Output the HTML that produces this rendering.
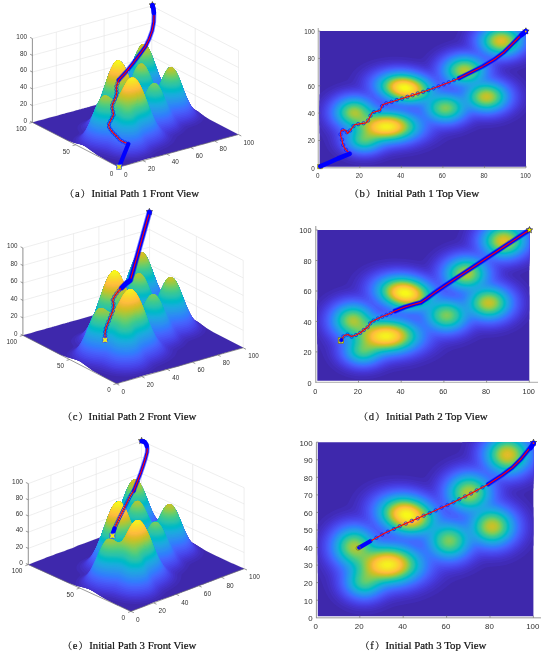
<!DOCTYPE html><html><head><meta charset="utf-8"><title>Initial paths</title><style>html,body{margin:0;padding:0;background:#fff}svg{display:block}
svg{font-size:7px}
text{font-family:"Liberation Sans",sans-serif;fill:#303030}
.cap{font-family:"Liberation Serif","Noto Serif CJK SC",serif;font-size:9.6px;fill:#111;stroke:#111;stroke-width:.2px}
.g{stroke:#e2e2e2;stroke-width:.6;fill:none}
.a{stroke:#6e6e6e;stroke-width:.7;fill:none}
.b{stroke:#bcbcbc;stroke-width:1.4;fill:none}
.a2{stroke:#7a7a7a;stroke-width:.8;fill:none}
.m{stroke:#0018ff;stroke-width:.7;fill:none}
.bd{stroke:#0000ff;fill:none;stroke-linecap:round;stroke-linejoin:round}
.r{stroke:#ff0000;stroke-width:1.1;fill:none;stroke-linejoin:round}</style></head><body>
<svg width="550" height="655" viewBox="0 0 550 655">
<defs><clipPath id="tc"><rect width="100" height="100"/></clipPath><g id="top" fill-rule="evenodd" clip-path="url(#tc)"><rect x="-2" y="-2" width="104" height="104" fill="#3e28ac"/><path fill="#402bb7" d="M18.02 1.2l1.98-0.27 2.4-0.04 2 0.19 2 0.42 3.2 1.14 4.21 2.16 1.79 0.8 2 0.61 6.8 1.57 2.4 0.78 2.4 0.96 3.6 1.84 2.8 1.86 2.4 1.99 3.64 3.59 0.99 0.8 0.97 0.6 1.24 0.6 3.56 1.42 2.4 1.18 2 1.24 3.56 2.56 1.24 0.64 1.6 0.42 4 0.42 2 0.34 2.4 0.66 2.4 0.98 2 1.1 2 1.4 1.6 1.38 1.74 1.86 1.49 2 1.4 2.4 1.05 2.4 0.72 2.3 0 12.2-0.72 2.3-1.05 2.4-1.66 2.8-2.61 3.6-0.3 0.8 0 0.4 0.34 0.65 0.6 0.55 3.4 2.17 2 1.55 0 27.08-34.21 0-0.85-2.4-0.99-3.6-0.35-0.92-0.4-0.68-0.8-0.8-0.62-0.4-3.38-1.71-1.6-0.95-1.6-1.14-1.2-1.01-1.22-1.19-1.39-1.6-1.15-1.6-1.84-2.99-0.88-1.01-0.72-0.36-1.2-0.06-4.8 0.97-2.4 0.35-2.8 0.18-2.8-0.07-2.8-0.33-2.4-0.52-2.4-0.76-2.4-1.05-1.6-0.89-2-1.39-1.6-1.4-1.35-1.47-1.18-1.6-0.94-1.6-0.74-1.6-1.27-3.2-0.45-0.8-0.47-0.56-1.2-0.88-4-1.95-2-1.24-2.21-1.77-1.92-2-2.02-2.8-0.9-1.6-0.95-2.12 0-19.92 1.01-2.76 2.19-5.25 1.8-5.95 0.84-2.4 1.13-2.4 1.25-2 1.27-1.6 1.16-1.2 1.35-1.16 1.6-1.13 1.6-0.89 1.6-0.71 2-0.64 1.2-0.27z"/><path fill="#422fc1" d="M19.95 2.8l1.65-0.08 1.6 0.09 1.6 0.23 1.6 0.39 2.8 1.07 4.24 2.3 1.76 0.81 2 0.61 6.4 1.52 2.4 0.8 2 0.82 3.2 1.67 2.8 1.9 2.57 2.27 3.43 3.67 1.55 1.13 1.65 0.71 4 1.35 2 0.89 2 1.16 4.12 3.09 1.48 0.83 1.6 0.41 4 0.29 2.4 0.37 2.4 0.68 2 0.83 2 1.12 1.6 1.14 1.6 1.4 1.58 1.73 1.44 2 0.92 1.6 0.91 2 0.68 2 0.54 2.4 0.24 2 0.04 2.4-0.16 2-0.35 2-0.43 1.6-0.72 2-0.75 1.6-0.91 1.6-1.12 1.6-3.82 4.4-0.41 0.8-0.08 0.8 0.4 0.73 0.58 0.47 3.82 1.88 1.6 0.94 2 1.46 1.6 1.48 0 24.24-32 0-1.07-2.8-1.25-5.2-0.54-1.2-0.74-0.78-0.67-0.42-3.33-1.48-2-1.06-1.6-1.08-1.6-1.32-1.6-1.65-1.41-1.81-1.23-2-1.36-2.58-0.8-1.04-0.8-0.42-0.8-0.05-7.2 1.63-2.8 0.31-2.8 0.04-2.8-0.24-2.8-0.54-2-0.6-2.4-1.01-2-1.13-1.62-1.17-1.74-1.6-1.35-1.6-0.81-1.2-0.86-1.6-0.66-1.6-1.22-3.6-0.83-1.2-1.25-0.8-3.66-1.41-2.8-1.48-2.4-1.83-2.01-2.08-1.72-2.4-1.28-2.4-1.05-2.8-0.66-2.8-0.31-2.8 0.05-3.2 0.37-2.8 0.79-3.2 1.17-3.2 2.65-6.1 0.56-1.9 0.91-4 0.72-2.4 1.05-2.4 1.21-2 1.15-1.47 1.2-1.25 1.2-1.02 1.6-1.1 1.6-0.86 1.6-0.65 2-0.56 1.6-0.26z"/><path fill="#4432cb" d="M19.83 4l1.77-0.1 1.6 0.1 1.6 0.24 1.6 0.42 2.8 1.15 3.86 2.19 1.74 0.82 2 0.62 6.4 1.55 4 1.51 3.2 1.7 2.8 1.98 2.38 2.22 3.22 3.7 1.44 1.1 1.76 0.73 4 1.15 2.8 1.18 2.4 1.46 3.91 3.08 1.29 0.69 1.6 0.36 4 0.2 2 0.26 2.4 0.61 2 0.79 1.6 0.84 2 1.37 1.6 1.4 1.35 1.48 1.19 1.6 0.95 1.6 0.94 2 0.68 2 0.46 2 0.29 2.4 0 2.4-0.22 2-0.32 1.6-0.59 2-0.64 1.6-0.82 1.6-1 1.6-1.24 1.6-3.43 3.53-0.71 0.87-0.49 1.01-0.12 0.99 0.26 0.8 0.66 0.68 0.95 0.52 3.45 1.37 2.4 1.29 2.4 1.79 2 2.04 0 22.31-30.58 0-0.72-1.6-0.56-1.6-0.51-2-0.76-4-0.54-1.2-0.73-0.71-0.8-0.45-3.6-1.43-1.6-0.8-2-1.28-1.6-1.33-1.6-1.67-1.44-1.93-1.16-2-1.4-2.98-0.8-1.12-0.8-0.39-0.8-0.02-1.2 0.26-4 1.18-2 0.45-2.8 0.38-2.4 0.11-2.8-0.15-2.4-0.37-2.4-0.64-2.4-0.96-2-1.08-1.6-1.13-1.7-1.54-1.35-1.6-0.8-1.2-0.84-1.6-0.75-2-0.96-3.43-0.4-0.84-0.43-0.53-1.17-0.72-4.4-1.44-2.4-1.16-2.4-1.69-2.2-2.19-1.49-2-1.33-2.4-1.07-2.8-0.58-2.4-0.33-2.8 0.02-2.8 0.36-2.8 0.81-3.2 1.06-2.8 2.74-6 0.48-1.6 0.87-4.4 0.52-2 1.1-2.8 1.17-2 0.91-1.2 1.1-1.2 1.38-1.2 1.28-0.9 1.6-0.88 1.2-0.51 2-0.61 1.6-0.28z"/><path fill="#4536d4" d="M18.17 5.2l1.83-0.31 2-0.07 2 0.19 1.6 0.36 1.6 0.54 1.6 0.71 4.4 2.53 1.6 0.71 1.77 0.54 5.83 1.4 2 0.66 2 0.82 3.2 1.69 1.6 1.08 1.46 1.15 2.14 2.1 3.2 3.9 1.2 0.95 1.6 0.67 4.8 1.23 2.4 0.96 2.4 1.4 4 3.25 1.6 0.92 1.6 0.35 4 0.12 2 0.23 2 0.46 2 0.72 2 1.02 1.6 1.08 1.6 1.38 1.19 1.26 1.22 1.6 0.98 1.6 0.94 2 0.68 2 0.44 2 0.25 2.4-0.02 2-0.23 2-0.81 3.2-0.65 1.6-0.82 1.6-1.03 1.6-1.28 1.6-3.66 3.57-0.69 0.83-0.61 1.2-0.19 0.8-0.03 0.8 0.17 0.8 0.2 0.4 0.75 0.72 0.99 0.48 3.81 1.33 2.4 1.21 1.56 1.06 1.24 1.02 1.36 1.38 1.04 1.27 0 20.73-29.48 0-0.77-1.6-0.72-2-0.5-2-0.69-4.4-0.25-0.8-0.39-0.64-0.63-0.56-0.75-0.4-3.82-1.36-2-0.97-2-1.31-1.6-1.36-1.63-1.8-1.39-2-1.05-2-1.53-3.53-0.4-0.57-0.36-0.3-0.84-0.24-0.8 0.08-4.8 1.53-2 0.51-2.4 0.42-2.8 0.22-2.4-0.05-2.8-0.36-2.4-0.61-2.4-0.92-2-1.07-1.6-1.13-1.73-1.58-1.3-1.6-0.99-1.6-0.73-1.6-0.63-2-0.74-3.2-0.28-0.72-0.4-0.58-0.4-0.35-0.8-0.41-4-1.05-2.8-1.12-2.4-1.51-1.2-1-1.24-1.26-1.55-2-1.16-2-1.02-2.4-0.66-2.4-0.37-2.4-0.1-2.4 0.23-2.8 0.48-2.4 1.21-3.6 2.52-5.2 0.65-1.6 0.54-2 0.6-3.6 0.45-2 0.66-2 0.96-2 0.76-1.2 0.92-1.2 0.92-0.98 1.2-1.05 1.2-0.85 1.6-0.89 1.2-0.5 1.6-0.49z"/><path fill="#463bdd" d="M20.9 5.6l2.7 0.13 2.4 0.56 2.4 1 4 2.35 2 0.96 1.95 0.6 5.65 1.36 2.4 0.82 2 0.87 3.2 1.81 2.51 1.94 1.97 2 3.12 4.05 0.8 0.74 0.66 0.41 1.34 0.49 4.8 1.04 2.8 1.05 2.4 1.4 1.2 0.91 3.14 2.71 1.51 0.8 1.35 0.26 4 0.04 2 0.19 2 0.43 2 0.71 2 1.01 1.6 1.09 1.6 1.4 1.16 1.27 1.18 1.6 1.13 2 0.68 1.6 0.61 2 0.38 2 0.15 2-0.07 2-0.28 2-0.39 1.6-0.72 2-0.77 1.6-0.99 1.6-1.67 2.09-3.75 3.51-0.93 1.2-0.38 0.8-0.22 0.8-0.12 1.2 0.05 0.8 0.15 0.64 0.28 0.56 0.36 0.4 0.56 0.38 5.6 1.89 1.6 0.79 1.6 1.03 1.2 0.95 1.2 1.15 0.89 1.01 1.11 1.53 0 19.27-28.54 0-0.98-2-0.82-2.4-0.49-2.4-0.49-4-0.44-1.2-0.64-0.67-0.8-0.43-3.6-1.14-2.4-1.04-2-1.24-1.79-1.48-1.79-2-1.33-2-0.99-2-1.37-3.6-0.33-0.63-0.4-0.46-0.8-0.33-0.8 0.06-4.4 1.55-2.4 0.72-2.4 0.5-2.8 0.29-2.8-0.01-2.4-0.28-2.4-0.55-2.4-0.88-2-1.03-1.91-1.35-1.67-1.6-1.24-1.6-0.93-1.6-0.66-1.6-0.56-2-0.63-3.41-0.4-0.96-0.37-0.43-0.63-0.4-0.6-0.21-4.4-0.91-1.6-0.55-1.2-0.54-2.4-1.5-1.2-1.02-1.23-1.27-1.5-2-1.11-2-0.94-2.4-0.6-2.4-0.31-2.8 0.05-2.4 0.32-2.4 0.73-2.8 1.11-2.8 2.25-4.4 0.66-1.6 0.52-2 0.59-4 0.45-2 0.86-2.4 1.1-2 0.87-1.2 1.09-1.2 1.09-0.96 1.6-1.11 1.6-0.81 1.6-0.58 1.6-0.36 1.6-0.18z"/><path fill="#4741e5" d="M19.84 6.4l1.36-0.11 1.6 0.06 1.6 0.24 1.6 0.44 2.4 1.05 3.85 2.32 1.75 0.85 2 0.63 6 1.48 3.6 1.39 3.2 1.78 1.49 1.07 1.31 1.12 2.27 2.48 2.54 3.6 0.79 0.8 0.6 0.4 1.4 0.51 5.2 0.95 2.8 1.02 2.4 1.39 1.6 1.25 2.8 2.53 0.8 0.52 0.8 0.33 1.6 0.24 3.6-0.06 2 0.15 2 0.4 2 0.68 1.6 0.77 1.6 1.02 1.6 1.33 1.3 1.37 1.19 1.6 0.93 1.6 0.72 1.6 0.64 2 0.34 1.6 0.2 2-0.02 2-0.25 2-0.49 2-0.58 1.6-0.77 1.6-0.99 1.6-1.82 2.21-3.76 3.39-0.95 1.2-0.37 0.8-0.31 1.2-0.13 1.6 0.08 1.2 0.23 0.8 0.24 0.4 0.39 0.4 0.58 0.34 4 1.09 1.6 0.55 2 0.94 1.6 1.03 1.52 1.25 1.17 1.2 1.25 1.6 0.86 1.39 0 17.22-0.34 0.59-27.32 0-1.22-2.4-0.8-2.4-0.45-2.4-0.4-4.4-0.42-1.2-0.65-0.64-0.8-0.39-4-1.12-2-0.81-2-1.15-2-1.6-1.72-1.89-1.34-2-1.14-2.4-1.4-4.16-0.4-0.69-0.4-0.35-0.8-0.17-0.8 0.14-4.4 1.73-2 0.67-2.4 0.59-2.8 0.38-2.8 0.07-2.4-0.22-2.4-0.49-2.4-0.82-2-1-2-1.38-1.6-1.51-1.51-1.99-0.85-1.6-0.6-1.6-0.46-2-0.5-3.6-0.29-0.8-0.28-0.4-0.53-0.4-0.58-0.21-4.8-0.75-1.6-0.46-1.2-0.49-1.6-0.85-1.2-0.83-1.2-1.02-1.2-1.26-1.29-1.73-1.12-2-0.93-2.4-0.5-2-0.31-2.4-0.02-2 0.25-2.4 0.53-2.4 1.18-3.2 2.51-4.8 0.68-1.6 0.51-2 0.52-4 0.41-2 0.66-2 1-2 0.81-1.2 1.03-1.2 2.08-1.77 1.2-0.74 1.6-0.73 1.6-0.5 1.2-0.23z"/><path fill="#4747ec" d="M19.05 7.2l1.35-0.2 1.6-0.04 1.6 0.15 1.6 0.36 1.2 0.41 1.6 0.73 4.26 2.59 1.72 0.8 1.62 0.5 5.6 1.35 2 0.68 2 0.84 1.6 0.83 1.6 0.99 1.6 1.2 1.2 1.07 1.89 2.14 2.91 4.35 0.45 0.45 0.75 0.51 1.6 0.47 3.2 0.38 2 0.38 1.6 0.48 1.2 0.49 1.6 0.85 1.2 0.82 1.47 1.22 2.53 2.39 0.8 0.56 0.8 0.36 1.6 0.24 3.6-0.13 2 0.11 2 0.35 2 0.65 1.6 0.76 1.6 1.02 1.56 1.29 1.14 1.2 1.21 1.6 0.92 1.6 0.71 1.6 0.63 2 0.36 2 0.11 1.6-0.07 2-0.23 1.6-0.39 1.6-0.56 1.6-0.76 1.6-0.99 1.6-0.93 1.2-1.12 1.2-3.7 3.2-0.69 0.78-0.4 0.67-0.4 1.08-0.25 1.47-0.1 2 0.09 1.2 0.26 0.87 0.4 0.52 0.4 0.29 0.8 0.33 3.2 0.67 2 0.57 2 0.86 1.6 0.95 1.6 1.24 1.31 1.3 1.26 1.6 0.97 1.6 0.46 0.93 0 14.14-1.17 2.13-25.66 0-1.29-2.4-0.94-2.8-0.46-2.8-0.23-4.4-0.2-0.8-0.22-0.4-0.36-0.4-0.68-0.4-4.39-1.08-2.4-0.91-2-1.13-2.07-1.68-1.75-2-1.47-2.4-0.98-2.4-1.12-4-0.21-0.51-0.4-0.54-0.4-0.23-0.4-0.06-0.8 0.13-4.4 1.9-2 0.76-2.8 0.77-2.8 0.43-2.8 0.1-2.4-0.19-2.4-0.49-2.4-0.82-2-1-2.04-1.45-1.6-1.6-1.41-2-0.77-1.6-0.52-1.6-0.37-2-0.3-3.6-0.19-0.8-0.4-0.62-0.4-0.29-0.8-0.24-4.4-0.36-1.6-0.33-1.6-0.54-1.6-0.77-1.33-0.85-1.45-1.2-1.14-1.2-1.2-1.6-1.12-2-0.79-2-0.52-2-0.29-2-0.05-2.4 0.19-2 0.51-2.4 0.52-1.6 0.84-2 2.39-4.4 0.72-1.6 0.5-2 0.45-4 0.37-2 0.64-2 0.75-1.6 0.74-1.2 0.87-1.11 0.86-0.89 1.14-0.96 1.2-0.79 1.2-0.61 2.4-0.79z"/><path fill="#484ef1" d="M20.82 7.6l2.38 0.09 2.4 0.56 2.4 1.07 3.66 2.28 1.54 0.8 2 0.67 4.4 1.03 2 0.57 2 0.74 2.4 1.15 2.8 1.82 2.24 2.02 1.9 2.4 2.26 3.79 0.52 0.61 0.68 0.5 0.8 0.32 0.8 0.15 3.6 0.29 1.6 0.23 1.6 0.41 1.6 0.6 1.6 0.83 1.2 0.81 1.6 1.36 2.4 2.37 0.8 0.61 0.8 0.39 1.6 0.26 3.6-0.21 2 0.06 2 0.31 2 0.62 1.6 0.74 1.6 1.01 1.4 1.14 1.4 1.49 0.97 1.31 0.92 1.6 0.7 1.6 0.5 1.6 0.32 1.6 0.17 2-0.07 2-0.24 1.6-0.41 1.6-0.59 1.6-0.8 1.6-1.06 1.6-2.01 2.22-3.61 2.98-0.71 0.8-0.47 0.8-0.37 1.2-0.18 1.2-0.19 2.8 0.06 1.6 0.27 0.89 0.4 0.49 0.4 0.26 1.2 0.36 3.2 0.51 1.6 0.4 2 0.76 1.6 0.87 1.48 1.06 1.32 1.2 1.36 1.6 1.03 1.6 0.62 1.2 0.59 1.5 0 10.6-0.79 1.9-1.17 2-24.08 0-1.37-2.4-0.63-1.6-0.45-1.6-0.4-2.8-0.08-4.8-0.18-0.8-0.22-0.4-0.4-0.4-0.87-0.4-4.56-0.9-2.4-0.86-2.4-1.4-1.91-1.64-1.66-2-1.36-2.4-1-2.8-0.87-4.02-0.33-0.78-0.38-0.4-0.49-0.15-0.8 0.12-6.4 2.96-2.8 0.88-2.4 0.48-2.8 0.24-2.4-0.08-2.4-0.36-2.8-0.84-2.4-1.18-1.79-1.27-1.62-1.6-1.4-2-0.75-1.6-0.59-2-0.27-2-0.12-4-0.18-0.8-0.25-0.4-0.63-0.39-0.4-0.08-3.6-0.01-2-0.16-1.6-0.34-1.2-0.39-1.6-0.75-1.6-1.03-1.2-1.02-1.2-1.28-1.25-1.75-1.04-2-0.72-2-0.44-2-0.22-2.4 0.07-2 0.28-2 0.65-2.4 1.19-2.8 2.28-4.04 0.8-1.77 0.44-1.79 0.44-4.4 0.37-2 0.66-2 1.04-2 0.87-1.2 0.98-1.06 2-1.56 1.2-0.65 1.6-0.62 1.2-0.31 1.6-0.2z"/><path fill="#4755f6" d="M19.27 8.4l1.53-0.21 1.6 0.01 1.2 0.15 1.6 0.39 2.4 1.03 4 2.51 1.6 0.79 1.6 0.54 5.6 1.34 3.6 1.33 2 1.04 1.6 1.03 1.58 1.25 1.22 1.18 1.04 1.22 0.84 1.2 2.41 4.4 0.91 0.9 0.8 0.34 0.8 0.14 3.6 0.11 1.6 0.16 1.2 0.22 1.6 0.46 2 0.9 1.6 1.03 1.57 1.34 2.83 2.87 1.18 0.73 0.82 0.22 0.8 0.06 3.6-0.28 1.6-0.02 1.6 0.15 1.6 0.33 1.6 0.54 2 1.02 1.64 1.18 1.63 1.6 1.21 1.6 0.92 1.6 0.67 1.6 0.48 1.6 0.29 1.6 0.13 1.6-0.05 1.6-0.28 2-0.43 1.6-0.62 1.6-0.85 1.6-0.81 1.2-1.8 2-3.99 3.2-1 1.2-0.47 1.2-0.21 1.2-0.35 4.4 0 1.6 0.29 0.97 0.4 0.42 0.4 0.22 0.8 0.21 3.2 0.35 2 0.38 2 0.66 2 1.02 1.6 1.15 1.2 1.11 1.28 1.51 1.03 1.6 1.08 2.4 0.61 2.29 0 5.82-0.48 1.89-0.61 1.6-0.83 1.6-0.8 1.2-22.56 0-0.8-1.2-0.83-1.6-0.62-1.6-0.42-1.6-0.25-1.6-0.11-1.6 0.15-4.8-0.16-0.8-0.21-0.4-0.44-0.4-0.63-0.26-4.4-0.64-1.6-0.4-1.2-0.42-2.4-1.27-1.2-0.89-1.01-0.92-1.07-1.2-0.86-1.2-1.25-2.4-0.87-2.8-0.77-4.8-0.17-0.51-0.4-0.47-0.4-0.11-0.4 0.04-0.8 0.28-4 2.21-2.8 1.29-2 0.68-2.4 0.57-2.8 0.34-2.8-0.03-2.4-0.34-2.4-0.67-2.4-1.1-2.01-1.38-0.89-0.8-1.07-1.2-1.27-2-0.78-2-0.42-2-0.11-2 0.18-4-0.13-0.8-0.3-0.45-0.4-0.21-0.8-0.08-3.2 0.32-2 0.02-1.6-0.19-1.2-0.28-1.6-0.58-1.6-0.86-1.6-1.19-1.3-1.3-1.22-1.6-0.91-1.6-0.68-1.6-0.58-2-0.31-2-0.08-2 0.17-2 0.51-2.4 0.53-1.6 0.69-1.6 2.74-4.8 0.71-1.6 0.45-2 0.32-4 0.33-2 0.62-2 0.77-1.6 1.44-2 1.8-1.63 2-1.17 1.2-0.47 1.2-0.32z"/><path fill="#465dfa" d="M20.41 8.8l1.19-0.06 1.6 0.12 2.4 0.62 2 0.94 3.6 2.3 1.6 0.83 1.6 0.55 4.4 1.02 2.4 0.7 2.4 0.95 2 1.04 1.52 0.99 1.28 1 1.07 1 1.07 1.2 1.59 2.4 1.87 4.01 0.65 0.79 0.55 0.35 1.2 0.27 3.6-0.08 2 0.11 1.6 0.27 1.6 0.49 2 0.95 1.6 1.09 1.49 1.35 2.51 2.7 1.2 0.82 0.8 0.24 0.8 0.06 3.6-0.36 2-0.06 1.6 0.15 1.6 0.35 2 0.75 1.6 0.9 1.64 1.25 1.52 1.6 0.87 1.2 0.9 1.6 0.65 1.6 0.45 1.6 0.27 1.6 0.08 1.6-0.08 1.6-0.27 1.6-0.45 1.6-0.65 1.6-0.9 1.6-0.83 1.16-2 2.06-3.68 2.78-0.72 0.74-0.4 0.62-0.38 1.04-0.19 1.2-0.57 6.4 0.02 1.2 0.34 0.8 0.78 0.44 1.2 0.16 3.2 0.16 1.6 0.24 2 0.55 1.6 0.7 1.6 0.97 1.6 1.31 1.34 1.47 1.09 1.6 0.99 2 0.64 2 0.39 2.4 0.02 2-0.32 2.4-0.58 2-0.91 2-1.32 2-21.08 0-0.85-1.2-0.88-1.6-0.64-1.6-0.53-2-0.22-1.6-0.06-1.6 0.41-5.2-0.1-0.8-0.18-0.4-0.43-0.4-0.78-0.25-4.8-0.42-1.6-0.36-1.2-0.4-2.4-1.23-1.2-0.88-1.2-1.12-1.13-1.34-0.79-1.2-0.64-1.2-0.64-1.6-0.44-1.6-0.28-1.6-0.33-4.8-0.15-0.69-0.4-0.41-0.4-0.02-0.8 0.31-4.4 2.77-2.4 1.28-2.4 0.96-2.4 0.68-2.8 0.44-2.8 0.07-2.8-0.34-2.4-0.66-2.56-1.19-2.2-1.6-0.84-0.83-0.94-1.17-1.14-2-0.67-2-0.3-2 0.03-2.4 0.6-4.4-0.08-0.8-0.3-0.37-0.8-0.08-3.2 0.71-2 0.27-2-0.01-1.6-0.24-2-0.65-1.6-0.83-1.64-1.2-1.55-1.6-1.13-1.6-0.84-1.6-0.61-1.6-0.5-2-0.22-2 0.02-2 0.27-2 0.52-2 1.16-2.8 2.61-4.4 0.76-1.6 0.47-2 0.26-4 0.28-2 0.58-2 0.98-2 0.84-1.2 0.72-0.8 1.82-1.49 1.2-0.68 1.2-0.5 1.2-0.34 1.2-0.19z"/><path fill="#4464fd" d="M19 9.6l1.4-0.26 1.6-0.05 1.2 0.11 1.6 0.37 2.4 1.04 3.73 2.39 1.51 0.8 1.96 0.67 4.4 1.01 2 0.59 2.4 0.94 2 1.05 1.6 1.05 1.34 1.09 1.2 1.2 0.98 1.2 1.42 2.4 1.78 4.4 0.48 0.6 0.4 0.26 1.2 0.25 3.6-0.3 2-0.01 1.6 0.18 1.6 0.39 2 0.82 2 1.3 1.6 1.46 2.4 2.73 1.2 0.92 0.8 0.27 0.8 0.07 4-0.49 1.6-0.07 1.6 0.1 1.6 0.32 2 0.7 1.6 0.87 1.6 1.21 1.22 1.22 0.93 1.2 0.96 1.6 0.69 1.6 0.37 1.2 0.32 1.6 0.13 1.6-0.08 2-0.27 1.6-0.47 1.6-0.5 1.2-0.88 1.6-0.86 1.2-1.96 2.01-4 2.91-0.66 0.68-0.48 0.8-0.39 1.6-0.27 4-0.66 4.4 0 1.2 0.17 0.4 0.29 0.28 0.4 0.17 0.8 0.1 3.2-0.07 2 0.11 2 0.38 1.6 0.55 2 1.04 1.6 1.2 1.42 1.44 1.17 1.6 1.03 2 0.68 2 0.4 2.4 0 2.4-0.4 2.4-0.68 2-1.03 2-1.17 1.6-19.64 0-1.17-1.6-0.86-1.6-0.62-1.6-0.48-2-0.19-1.6 0-2 0.77-5.6-0.14-0.8-0.29-0.38-0.4-0.19-0.8-0.13-3.2 0.03-2-0.15-2-0.42-1.6-0.59-2-1.13-1.6-1.31-1.52-1.73-1-1.6-0.58-1.2-0.56-1.6-0.36-1.6-0.2-1.6 0.02-3.2 0.61-4.4-0.01-0.88-0.8 0.53-4.27 3.55-3.33 2.24-3.2 1.55-1.6 0.55-2 0.52-2 0.31-2 0.12-2-0.09-2-0.3-2-0.56-1.6-0.66-1.55-0.88-1.25-0.93-1.11-1.07-0.96-1.2-0.72-1.2-0.54-1.2-0.38-1.2-0.28-1.6-0.07-1.6 0.12-1.6 0.27-1.6 0.53-2 1.36-3.6 0.77-1.2 3.38-2.8 0.53-0.8-0.24-0.4-0.75 0-1.11 0.59-0.93 1.01-1.47 2.18-1.6 1.2-1.6 0.86-1.6 0.7-1.6 0.53-1.6 0.34-1.6 0.14-1.2-0.04-1.2-0.17-1.6-0.43-1.2-0.51-1.37-0.8-1.05-0.8-1.23-1.2-0.95-1.2-0.96-1.6-0.7-1.6-0.58-2-0.25-1.6-0.08-2 0.18-2 0.33-1.6 0.5-1.6 0.87-2 2.9-4.8 0.72-1.6 0.41-2 0.33-5.2 0.46-2 0.64-1.6 1.27-2 1.36-1.42 2-1.35 2-0.78zM61.2 58.37l-0.8 0.35-0.8 0.84-0.44 0.84-0.36 1.32 0.4-0.08 2.13-2.04 0.5-0.8-0.23-0.43z"/><path fill="#406cfe" d="M19.49 10l1.31-0.19 1.2-0.02 1.2 0.12 1.6 0.38 2.4 1.08 3.6 2.35 1.6 0.82 2 0.65 4 0.9 2 0.58 2.8 1.12 2 1.1 1.58 1.11 1.22 1.06 1.24 1.34 0.88 1.2 1.25 2.4 1.43 4.5 0.4 0.64 0.4 0.31 0.4 0.15 0.8 0.06 4-0.61 2-0.1 2 0.2 1.6 0.4 2 0.87 1.77 1.18 1.68 1.6 2.55 3.02 1.2 0.81 0.8 0.19 0.8 0 3.6-0.58 1.6-0.12 1.6 0.06 1.6 0.27 2 0.66 1.6 0.83 1.6 1.18 1.28 1.28 0.92 1.2 0.93 1.6 0.66 1.6 0.35 1.2 0.28 1.6 0.1 1.6-0.1 1.6-0.28 1.6-0.35 1.2-0.66 1.6-0.93 1.6-0.91 1.2-0.89 0.94-1.2 1.04-4 2.77-0.44 0.45-0.49 0.8-0.37 1.6-0.14 3.2-0.2 2-1.16 5.2-0.05 0.8 0.16 0.4 0.29 0.2 0.4 0.09 5.6-0.46 2 0.15 2 0.46 2 0.83 1.6 0.99 1.56 1.34 1.35 1.6 1.18 2 0.77 2 0.5 2.4 0.07 2.4-0.35 2.4-0.64 2-1 2-1.5 2-18.28 0-1.24-1.6-1.1-2-0.7-2-0.38-2-0.1-1.6 0.1-2 0.34-2 0.91-3.6 0.09-0.8-0.08-0.4-0.3-0.31-0.4-0.12-5.6 0.38-2-0.18-1.6-0.38-2-0.81-1.6-1-1.6-1.4-1.2-1.44-1.33-2.34-0.46-1.2-0.43-1.6-0.23-1.6-0.06-1.6 0.09-1.6 0.25-1.6 0.73-2.4 0.85-1.6 1.64-2 3.44-3.2 0.42-0.8-0.12-0.4-0.39-0.21-0.8-0.14-1.6 0.13-1.6 0.39-1.14 0.63-1.05 1.2-2.22 4-1.64 2-1.69 1.6-1.46 1.16-1.6 1.1-1.6 0.92-3.2 1.36-2.8 0.73-3.2 0.35-3.2-0.2-2-0.42-2-0.72-2-1.09-1.6-1.26-1.38-1.53-0.98-1.6-0.76-2-0.34-2 0-2 0.31-2 0.57-2 0.88-2 0.99-1.6 1.01-1.2 4.87-4.4 0.24-0.4 0.03-0.4-0.24-0.23-0.8-0.28-1.2-0.06-1.2 0.17-0.99 0.4-1.09 0.8-2.71 3.2-1.85 1.6-1.34 0.8-1.22 0.55-1.2 0.41-1.6 0.33-1.6 0.1-1.2-0.08-1.6-0.33-1.2-0.42-1.2-0.59-1.2-0.8-0.92-0.77-1.08-1.15-0.91-1.25-0.88-1.6-0.61-1.6-0.41-1.6-0.22-1.6-0.04-1.6 0.12-1.6 0.4-2 0.69-2 0.75-1.6 2.76-4.4 0.78-1.6 0.44-2 0.14-4 0.17-1.6 0.48-2 0.67-1.6 1.03-1.6 1.56-1.6 1.88-1.21 2-0.73z"/><path fill="#3a73fe" d="M19.72 10.4l1.48-0.18 1.2 0.03 1.2 0.17 1.2 0.33 2.4 1.12 3.2 2.13 1.6 0.85 2 0.68 4.4 1 2 0.6 2.4 0.96 2.4 1.35 1.31 0.96 1.33 1.2 1.06 1.2 1.08 1.6 0.61 1.2 0.59 1.6 0.98 4.4 0.24 0.55 0.4 0.39 0.4 0.14 0.8-0.02 3.6-0.88 2.4-0.32 2 0.06 2 0.41 2 0.81 2 1.33 1.6 1.56 2.4 3.02 0.58 0.55 0.62 0.4 0.8 0.23 0.8 0.01 3.6-0.66 2-0.2 1.6 0.06 1.6 0.28 2 0.69 1.6 0.87 1.6 1.25 1.6 1.8 0.82 1.27 0.75 1.6 0.52 1.6 0.29 1.6 0.1 1.6-0.15 2-0.35 1.6-0.57 1.6-1.08 2-1.63 2-1.9 1.6-3.6 2.32-0.51 0.48-0.52 0.8-0.33 1.2-0.16 4.4-0.41 2.8-1 3.2-0.87 2-0.6 1.1-0.4 0.51-0.8 0.6-2 0.75-2.4 0.6-2.4 0.29-2.4-0.1-2.4-0.59-2-0.94-2-1.49-1.6-1.81-1.24-2.12-0.83-2.4-0.32-2-0.01-2.4 0.38-2.4 0.68-2 1.16-2 1.37-1.6 1.61-1.43 2.4-1.77 0.82-0.8 0.37-0.8 0-0.4-0.15-0.4-0.43-0.4-1.01-0.24-2.4 0.26-2.4 0.53-0.8 0.3-0.8 0.49-0.65 0.66-0.55 0.8-2.09 4-0.84 1.2-1.02 1.2-1.22 1.2-1.63 1.35-1.6 1.09-1.6 0.91-2.8 1.18-2.8 0.74-3.2 0.34-2.8-0.15-2.4-0.51-2-0.76-2-1.16-1.6-1.36-1.34-1.67-0.85-1.6-0.61-2-0.22-2 0.14-2 0.44-2 0.76-2 1.13-2 1.29-1.6 1.26-1.24 5.52-4.36 0.32-0.4-0.04-0.4-1.4-0.4-2-0.1-1.68 0.1-1.54 0.4-0.78 0.4-0.8 0.64-2.88 3.36-1.92 1.68-1.2 0.72-1.2 0.55-1.2 0.39-1.6 0.3-1.6 0.05-1.2-0.13-1.2-0.28-1.2-0.44-1.2-0.61-1.2-0.84-1.08-0.99-1.02-1.2-0.78-1.2-0.77-1.6-0.54-1.6-0.32-1.6-0.14-1.6 0.05-1.6 0.22-1.6 0.4-1.6 0.59-1.6 0.79-1.6 2.84-4.4 0.74-1.6 0.39-2 0.07-3.6 0.18-2 0.5-2 0.68-1.55 1.2-1.74 1.6-1.48 1.6-0.94 2-0.67zM47.2 39.59l-1.2 0.53-1.84 1.08-1.15 0.8-0.8 0.8 0.07 0.4 1.32 0.39 1.6 0.1 1.2-0.09 1.2-0.49 0.4-0.39 0.41-0.72 0.22-1.2-0.11-0.8-0.34-0.4-0.58-0.09zM86.03 80l1.97-0.09 2 0.2 2 0.54 1.6 0.73 1.6 1.04 1.6 1.47 1.32 1.71 0.88 1.6 0.73 2 0.34 1.6 0.15 2-0.15 2-0.46 2-0.81 2-0.95 1.6-1.32 1.6-17.06 0-1.32-1.6-1.15-2-0.61-1.6-0.39-1.6-0.2-1.6 0.01-2 0.28-2 0.4-1.6 0.53-1.6 0.98-2.3 0.98-1.7 0.4-0.4 0.62-0.38 2.8-0.98 3.2-0.64z"/><path fill="#347afd" d="M19.64 10.8l1.56-0.2 1.2 0.02 1.2 0.19 1.2 0.33 2 0.92 3.6 2.38 1.44 0.76 1.76 0.6 4.4 1.01 2.4 0.71 2.4 1 2.5 1.48 1.5 1.19 1.2 1.21 0.94 1.2 0.95 1.6 0.65 1.6 0.42 1.6 0.54 4.8 0.13 0.4 0.37 0.34 0.8-0.04 3.6-1.31 2.4-0.57 2.4-0.14 2.4 0.36 2 0.76 1.2 0.69 0.96 0.71 1.62 1.6 2.62 3.42 0.68 0.58 0.52 0.27 0.8 0.15 0.8-0.05 3.2-0.7 2-0.27 1.6 0.01 1.6 0.22 2 0.63 1.77 0.94 1.55 1.2 1.48 1.63 1 1.57 0.72 1.6 0.47 1.6 0.26 1.6 0.05 1.6-0.15 1.6-0.36 1.6-0.59 1.6-1.13 2-1.72 2-1.75 1.39-3.61 2.21-0.46 0.4-0.59 0.8-0.28 0.8-0.11 0.8-0.04 4-0.37 2.8-0.88 2.8-1.26 2.41-1.2 1.4-1.2 0.85-1.6 0.74-2 0.57-2.4 0.28-2.4-0.17-2.4-0.7-1.85-0.98-1.75-1.41-1.49-1.79-1.1-2-0.77-2.4-0.27-2 0.03-2 0.33-2 0.67-2 1.13-2 1.47-1.72 1.6-1.36 3.13-2.12 0.77-0.8 0.32-0.8-0.03-0.8-0.39-0.8-0.6-0.46-1.2-0.17-1.6 0.22-3.6 0.75-1.6 0.64-0.77 0.62-0.6 0.8-1.77 3.6-0.95 1.6-1.24 1.6-1.47 1.49-2 1.61-2 1.26-2.4 1.13-2.4 0.78-2.4 0.46-2.8 0.14-2.4-0.23-2.4-0.6-2-0.87-1.79-1.17-1.65-1.6-1.1-1.6-0.71-1.6-0.41-1.6-0.15-1.6 0.14-2 0.34-1.6 0.73-2 0.86-1.6 1.16-1.6 1.78-1.83 2-1.62 2.8-1.86 2.4-1.26 2-0.58 1.6-0.16 4.4 0 1.2-0.18 0.8-0.35 0.4-0.31 0.48-0.65 0.53-1.6 0.18-1.2 0.01-1.2-0.08-0.4-0.32-0.43-0.8 0.07-0.8 0.37-5.6 3.27-1.6 0.79-1.2 0.44-2.4 0.38-5.6 0.22-1.2 0.23-0.8 0.28-0.8 0.46-0.8 0.67-2.75 3.25-1.65 1.51-2 1.2-2 0.7-1.6 0.25-1.6-0.01-1.6-0.28-1.2-0.4-1.2-0.58-1.2-0.79-1.2-1.07-1.11-1.33-0.76-1.2-0.74-1.6-0.39-1.2-0.34-1.6-0.14-1.6 0.05-1.6 0.52-2.8 0.56-1.6 0.77-1.6 2.89-4.4 0.65-1.2 0.3-0.8 0.34-2 0.02-3.6 0.12-1.6 0.44-2 0.66-1.6 1.04-1.6 1.52-1.5 1.6-0.99 2-0.7zM86.18 80.4l1.82-0.1 2 0.21 2 0.55 1.6 0.75 1.47 0.99 1.33 1.21 1.27 1.59 0.92 1.6 0.76 2 0.4 2 0.09 2-0.21 2-0.54 2-0.7 1.6-1 1.6-1.4 1.6-15.98 0-1.4-1.6-1.2-2-0.5-1.2-0.46-1.6-0.25-1.6-0.06-1.6 0.13-1.6 0.31-1.6 0.48-1.6 0.66-1.6 0.68-1.28 0.79-1.12 0.78-0.8 0.83-0.63 1.2-0.64 1.2-0.46 2.8-0.65z"/><path fill="#2f81fa" d="M19.56 11.2l1.24-0.2 1.2-0.03 1.2 0.13 1.6 0.43 2 0.95 3.48 2.32 1.56 0.8 1.76 0.58 4 0.89 2.4 0.69 2.4 0.98 2 1.12 1.6 1.17 1.2 1.12 1.2 1.44 0.77 1.21 0.58 1.2 0.52 1.6 0.3 1.6 0.09 2-0.12 1.6-0.23 1.2-0.27 0.8-0.45 0.8-0.68 0.8-0.92 0.8-3.19 2.25-2 1.18-1.6 0.8-2.4 0.86-2.4 0.44-5.6 0.4-1.2 0.26-0.8 0.32-0.8 0.49-0.8 0.72-2.57 3.08-1.43 1.36-2 1.29-2 0.74-1.2 0.22-1.2 0.07-1.2-0.08-1.2-0.24-2-0.8-1.2-0.75-0.8-0.64-1.6-1.78-1.25-2.19-0.78-2.4-0.2-1.2-0.1-1.6 0.1-1.6 0.19-1.2 0.31-1.2 0.58-1.6 1.28-2.4 2.67-3.93 0.72-1.67 0.29-2 0.05-4.8 0.28-1.6 0.53-1.6 0.93-1.68 1.35-1.52 1.45-1.06 2-0.85zM59.13 32.4l1.67-0.12 2 0.19 2 0.6 1.6 0.84 1.22 0.89 1.23 1.2 3.15 4.2 0.4 0.35 0.8 0.37 1.2 0.03 4-0.96 2.4-0.23 2.4 0.27 1.2 0.34 1.2 0.49 2 1.25 1.2 1.09 0.7 0.8 1.29 2 0.93 2.4 0.39 2.4-0.08 2.4-0.56 2.4-1.07 2.31-1.2 1.67-1.21 1.22-1.99 1.45-3.2 1.82-0.82 0.73-0.45 0.8-0.23 1.2 0.04 4-0.23 2.4-0.64 2.4-1.12 2.4-1.35 1.78-1.6 1.26-2 0.93-2.4 0.58-2.4 0.08-2-0.32-2-0.73-2-1.25-1.6-1.53-1.2-1.68-0.91-1.92-0.62-2.4-0.15-2 0.24-2.4 0.57-2 1-2 1.07-1.44 1.2-1.21 1.6-1.22 2.84-1.73 0.76-0.64 0.41-0.56 0.22-0.8-0.12-1.2-0.51-1.02-0.8-0.61-0.8-0.13-1.2 0.12-5.2 1.13-1.6 0.64-0.79 0.67-0.56 0.8-1.66 3.6-1.17 2-1.25 1.6-1.17 1.2-1.94 1.6-2.26 1.41-2.4 1.09-2.8 0.83-2.8 0.38-2.8-0.05-2.4-0.43-2.4-0.87-2-1.19-1.72-1.57-0.68-0.86-0.7-1.14-0.77-2-0.29-1.6-0.04-1.6 0.27-2 0.47-1.6 0.7-1.6 0.96-1.6 0.94-1.2 1.26-1.31 2-1.66 2-1.34 2-1.08 2-0.78 1.6-0.38 1.2-0.15 5.2-0.15 0.8-0.14 0.8-0.31 0.76-0.7 0.42-0.8 1.28-5.2 0.34-0.8 0.52-0.8 1.37-1.2 1.71-1 2-0.84 2-0.51zM86.18 80.8l1.82-0.11 2 0.2 1.6 0.43 1.6 0.7 1.6 1.04 1.46 1.34 1.24 1.6 0.87 1.6 0.6 1.6 0.42 2 0.1 2-0.23 2-0.56 2-0.73 1.6-1.17 1.77-1.35 1.43-14.9 0-0.95-0.95-0.8-1.01-1.17-2.04-0.47-1.2-0.42-1.6-0.18-1.2-0.05-1.6 0.13-1.6 0.33-1.6 0.52-1.6 0.51-1.16 1.26-2.04 0.74-0.83 1.2-0.98 1.2-0.68 1.2-0.5 2.4-0.59z"/><path fill="#2d88f6" d="M19.68 11.6l1.12-0.19 1.2-0.03 1.2 0.14 1.2 0.31 2 0.89 3.6 2.4 1.6 0.83 1.6 0.53 4.4 0.98 2 0.58 2.4 0.96 1.83 1 1.37 0.95 1.21 1.05 1.19 1.31 1.01 1.49 0.75 1.6 0.37 1.2 0.22 1.2 0.1 1.6-0.29 2.4-0.39 1.2-0.64 1.2-0.61 0.8-1.2 1.2-2.52 1.88-2.8 1.57-1.6 0.67-1.6 0.49-2.8 0.49-4.8 0.37-1.2 0.23-0.88 0.3-0.73 0.4-0.96 0.8-2.66 3.2-1.57 1.49-2 1.24-2 0.69-1.2 0.18-1.2 0.02-2-0.33-2-0.83-1.2-0.79-0.8-0.68-0.91-0.99-0.69-0.95-1.14-2.25-0.63-2.4-0.15-2.4 0.14-1.6 0.25-1.2 0.83-2.4 1.33-2.4 2.54-3.6 0.75-1.6 0.35-2-0.07-3.6 0.08-1.6 0.28-1.6 0.56-1.6 0.93-1.6 0.75-0.88 0.79-0.72 1.61-1.01 1.6-0.57zM59.71 32.8l1.89-0.03 1.6 0.25 1.6 0.54 1.6 0.88 1.2 0.93 1.01 1.03 0.93 1.2 2.06 3.11 0.5 0.49 0.7 0.38 1.2 0.05 4-1.11 2.4-0.32 1.6 0.06 1.2 0.21 1.2 0.35 1.2 0.52 2 1.31 1.69 1.75 1.24 2 0.87 2.4 0.32 2.4-0.16 2.4-0.67 2.4-1.03 2-1.24 1.6-1.29 1.2-1.73 1.18-3.6 1.94-0.54 0.48-0.48 0.8-0.21 1.2 0.15 4-0.18 2.4-0.6 2.4-0.49 1.2-0.64 1.2-1.41 1.79-0.8 0.7-1.06 0.71-2.14 0.92-2.4 0.46-2-0.03-2-0.41-2-0.86-1.6-1.1-1.6-1.65-1.12-1.73-0.82-2-0.42-2-0.08-2 0.34-2.4 0.69-2 0.89-1.6 1.31-1.6 1.21-1.09 1.6-1.08 3.2-1.83 0.43-0.4 0.37-0.58 0.21-1.02-0.26-1.6-0.35-0.86-0.4-0.6-0.8-0.58-0.8-0.12-0.8 0.1-3.2 0.8-3.2 0.65-1.61 0.61-0.79 0.68-0.4 0.56-1.72 3.96-1.11 2-1.18 1.6-1.19 1.27-2 1.67-2.4 1.48-2.4 1.05-2.4 0.7-2.8 0.38-2.8-0.06-2.4-0.46-2.4-0.92-2-1.27-1.49-1.44-0.61-0.8-0.7-1.2-0.71-2-0.25-1.6 0.02-1.6 0.25-1.6 0.48-1.6 0.72-1.6 0.73-1.2 1.16-1.5 1.28-1.3 1.52-1.26 2-1.35 1.6-0.86 2-0.81 2.8-0.65 2-0.15 4-0.05 0.8-0.11 0.94-0.36 0.48-0.4 0.52-0.8 1.51-5.2 0.58-1.2 0.89-1.2 1.41-1.2 1.67-0.96 1.7-0.64 1.9-0.39zM86.47 81.2l1.93-0.08 1.6 0.2 2 0.6 1.6 0.81 1.6 1.2 1.2 1.25 1.11 1.62 0.76 1.6 0.5 1.6 0.3 2-0.04 2-0.36 2-0.56 1.6-0.84 1.6-1.2 1.6-1.25 1.2-13.64 0-1.18-1.12-0.8-0.98-0.8-1.26-0.67-1.44-0.4-1.2-0.32-1.6-0.1-1.2 0.04-1.6 0.17-1.2 0.4-1.6 1.02-2.4 0.66-1.05 0.76-0.95 1.64-1.43 1.2-0.69 1.2-0.51 2.4-0.56z"/><path fill="#2c8ff1" d="M19.78 12l1.02-0.17 1.2-0.04 1.2 0.15 1.2 0.32 2 0.92 3.2 2.17 1.6 0.86 1.68 0.59 4.32 0.95 2 0.56 2.4 0.93 2 1.1 1.23 0.86 1.36 1.2 1.06 1.2 0.81 1.2 0.61 1.2 0.53 1.6 0.23 1.2 0.07 1.6-0.12 1.2-0.28 1.2-0.46 1.2-0.44 0.8-0.9 1.2-0.77 0.8-1.33 1.13-1.2 0.85-2.8 1.54-2.8 1-2.8 0.53-5.2 0.44-1.2 0.25-0.8 0.29-0.8 0.46-0.8 0.69-2.65 3.22-1.35 1.33-2 1.31-2 0.72-1.2 0.19-1.2 0.03-2-0.34-2-0.87-1.6-1.18-0.8-0.82-0.8-1.05-1.11-2.12-0.66-2.4-0.16-2.4 0.15-1.6 0.25-1.2 0.87-2.4 1.13-2 2.73-3.79 0.84-1.81 0.29-2-0.12-3.6 0.08-1.6 0.29-1.6 0.41-1.2 0.88-1.6 1.33-1.47 1.6-1.08 1.6-0.61zM60.39 33.2l1.61 0.06 1.6 0.33 1.6 0.65 1.51 0.96 0.92 0.8 1.07 1.2 0.84 1.2 1.66 2.81 0.71 0.79 0.49 0.28 0.4 0.1 0.8-0.03 4.4-1.38 2.4-0.35 1.6 0.06 1.2 0.22 1.2 0.36 1.2 0.55 2 1.38 1.48 1.61 1.2 2 0.47 1.2 0.33 1.2 0.25 2.4-0.25 2.4-0.63 2-1.08 2-1.32 1.6-1.25 1.09-1.6 1.02-3.79 1.89-0.61 0.54-0.39 0.66-0.19 1.2 0.28 4-0.11 2.4-0.56 2.4-0.48 1.2-0.64 1.2-0.71 1.01-0.8 0.88-1.73 1.31-1.07 0.54-1.2 0.43-2.4 0.4-2-0.1-2-0.51-1.6-0.77-1.63-1.19-1.46-1.6-0.97-1.6-0.77-2-0.37-2-0.01-2 0.34-2 0.74-2 0.95-1.6 1.18-1.38 1.2-1.04 1.6-1.03 3.39-1.75 0.61-0.55 0.38-0.65 0.13-0.8-0.05-0.8-0.46-1.83-0.4-0.96-0.4-0.63-0.8-0.62-0.8-0.11-0.8 0.13-3.6 1.05-4 0.76-0.8 0.26-0.62 0.35-0.58 0.54-0.43 0.66-1.41 3.6-0.97 2-1.05 1.6-1.39 1.6-1.81 1.6-2.14 1.42-2.4 1.14-2.4 0.76-2.8 0.45-2.8-0.01-2.4-0.41-2.4-0.88-2-1.24-1.67-1.63-0.58-0.8-0.66-1.2-0.65-2-0.17-1.2 0-1.6 0.26-1.6 0.49-1.6 0.75-1.6 0.75-1.2 1.08-1.37 1.44-1.43 1.76-1.38 1.6-1 2-0.99 1.6-0.58 1.6-0.39 2-0.27 5.6-0.05 0.8-0.15 0.8-0.39 0.4-0.4 0.45-0.8 0.96-3.6 0.54-1.6 0.59-1.2 0.88-1.2 1.33-1.2 1.65-0.99 1.61-0.61 1.99-0.37zM86.65 81.6l1.75-0.06 2 0.28 1.6 0.54 1.6 0.85 1.53 1.19 1.1 1.2 1.06 1.6 0.71 1.6 0.46 1.6 0.24 2-0.1 2-0.34 1.6-0.58 1.6-0.88 1.61-1.2 1.52-1.43 1.27-12.34 0-1.03-0.87-1.03-1.13-0.83-1.2-0.79-1.6-0.69-2.4-0.14-1.2-0.01-1.6 0.14-1.2 0.37-1.6 0.98-2.36 0.78-1.24 0.65-0.8 0.82-0.8 0.95-0.73 2-1.02 1.2-0.38 1.2-0.24z"/><path fill="#2895ec" d="M19.8 12.4l1-0.18 1.2-0.04 1.2 0.15 1.2 0.33 1.95 0.94 3.25 2.2 1.6 0.83 1.77 0.57 5.83 1.35 2.4 0.91 1.78 0.94 1.42 0.97 1.21 1.03 1.09 1.2 0.84 1.2 0.63 1.2 0.44 1.2 0.27 1.2 0.12 1.6-0.09 1.2-0.25 1.2-0.86 2-0.84 1.2-0.72 0.8-1.04 0.95-1.41 1.05-2.59 1.46-1.6 0.65-1.6 0.49-2.8 0.51-5.2 0.44-1.2 0.27-0.8 0.32-0.8 0.5-0.8 0.73-2.44 3.03-1.56 1.53-1.6 1.05-2 0.76-2 0.23-2-0.25-2-0.79-1.84-1.33-1.38-1.6-1.09-2-0.69-2.4-0.16-2.4 0.15-1.6 0.26-1.2 0.91-2.4 1.18-2 2.68-3.6 0.78-1.6 0.22-0.8 0.14-1.2-0.15-4 0.07-1.6 0.3-1.6 0.43-1.2 0.94-1.6 1.13-1.2 1.32-0.91 1.6-0.64zM58.21 34l2.19-0.37 2 0.11 2 0.58 1.6 0.87 1.2 0.97 0.97 1.04 1.11 1.6 1.92 3.51 0.45 0.49 0.75 0.35 1.2-0.15 3.6-1.38 2.4-0.54 1.6-0.06 1.2 0.12 1.2 0.27 1.2 0.44 2 1.19 1.46 1.36 1.39 2 0.83 2 0.41 2 0 2.4-0.41 2-0.82 2-1.39 2-1.74 1.6-1.73 1.07-3.88 1.73-0.9 0.8-0.31 0.8-0.06 0.8 0.43 4 0 2-0.31 2-0.51 1.6-1.05 2-1.41 1.66-1.6 1.19-2 0.88-2 0.4-2-0.01-2-0.45-2-0.94-1.6-1.24-0.8-0.85-0.76-1.04-1.01-2-0.54-2-0.14-2.4 0.29-2 0.69-2 1.07-1.82 1.2-1.37 1.2-1 1.6-0.98 3.55-1.63 0.55-0.4 0.53-0.8 0.13-0.8-0.05-0.8-0.71-2.76-0.8-1.79-0.4-0.46-0.4-0.25-0.4-0.09-0.8 0.06-4.4 1.44-4.8 0.85-1.2 0.6-0.4 0.41-0.46 0.79-1.26 3.6-0.9 2-1 1.6-1.18 1.45-1.88 1.75-2.12 1.45-2 1-2.4 0.84-2.8 0.52-2.4 0.07-2.4-0.3-2.4-0.75-2-1.09-1.59-1.34-1.24-1.6-0.91-2-0.29-1.2-0.14-1.6 0.13-1.6 0.38-1.6 0.63-1.6 0.91-1.6 0.9-1.2 1.22-1.31 1.6-1.35 2-1.32 2-0.99 2-0.7 2-0.42 1.6-0.16 5.6 0.08 0.8-0.12 0.8-0.36 0.4-0.37 0.4-0.67 1.24-4.71 0.47-1.2 0.67-1.2 0.96-1.2 1.06-0.92 1.2-0.75 1.6-0.67zM86.61 82l1.79-0.08 2 0.3 1.6 0.55 1.51 0.83 1.29 1.01 1.27 1.39 1.01 1.6 0.68 1.6 0.4 1.6 0.18 2-0.18 2-0.4 1.6-0.68 1.6-1.01 1.6-1.27 1.39-1.29 1.01-11.02 0-1.29-1.01-1.27-1.39-1.01-1.6-0.68-1.6-0.52-2.4 0-2.4 0.49-2.4 0.99-2.26 1.24-1.74 0.8-0.8 1.04-0.8 0.92-0.54 1.2-0.53 2-0.5z"/><path fill="#259ce7" d="M19.79 12.8l1.01-0.19 1.2-0.04 1.2 0.15 1.2 0.35 1.6 0.75 3.21 2.18 1.59 0.86 2 0.66 4 0.84 2 0.55 2 0.76 2 1.05 1.28 0.88 1.12 0.96 0.98 1.04 0.87 1.2 0.64 1.2 0.45 1.2 0.33 1.6 0.05 1.2-0.11 1.2-0.27 1.2-0.92 2-0.82 1.14-0.79 0.86-1.21 1.06-1.2 0.85-2.8 1.48-2.8 0.92-2.8 0.48-5.08 0.41-1.72 0.47-0.8 0.44-0.83 0.69-2.57 3.2-1.4 1.41-1.6 1.12-2 0.79-2 0.25-2-0.27-2-0.82-1.6-1.19-1.44-1.69-1.03-2-0.56-2-0.17-2.4 0.33-2.4 0.87-2.45 1.2-2.05 2.94-3.9 0.75-1.6 0.19-0.8 0.11-1.2-0.19-3.6 0.02-1.6 0.25-1.6 0.39-1.2 0.88-1.6 1.06-1.19 1.2-0.87 1.6-0.69zM58.36 34.4l2.04-0.36 2 0.12 2 0.61 1.6 0.92 1.2 1.03 1.07 1.28 1.18 2 1.35 2.98 0.43 0.62 0.37 0.31 0.4 0.13 0.4 0 0.8-0.22 4-1.78 2.4-0.57 1.6-0.07 1.2 0.13 1.2 0.28 1.2 0.46 1.6 0.94 1.72 1.59 1.11 1.6 0.87 2 0.42 2 0.04 2-0.34 2-0.77 2-0.71 1.2-0.74 0.94-0.8 0.82-1.2 0.95-2 1.1-3.61 1.39-0.65 0.4-0.37 0.4-0.3 0.8-0.01 0.8 0.6 4 0.07 2-0.26 2-0.47 1.6-1.01 2-1.31 1.6-1.54 1.2-1.94 0.91-2 0.42-2-0.01-2-0.46-2-0.99-1.6-1.31-1.37-1.76-0.94-2-0.48-2-0.05-2.4 0.38-2 0.82-2 1.08-1.6 1.16-1.2 1.4-1.04 1.6-0.84 3.33-1.32 0.67-0.43 0.53-0.77 0.1-0.8-0.09-0.8-0.94-3.56-0.8-2.17-0.4-0.58-0.4-0.28-0.4-0.09-0.8 0.12-3.2 1.33-1.6 0.52-1.6 0.33-3.6 0.46-0.8 0.28-0.4 0.26-0.4 0.41-0.4 0.71-1.05 3.46-0.77 2-0.88 1.6-1.17 1.6-1.73 1.75-2 1.49-2 1.1-2.4 0.91-2.4 0.55-2.8 0.17-2.4-0.25-2.4-0.7-2-1.05-1.6-1.31-1.2-1.5-0.94-1.96-0.3-1.2-0.15-1.6 0.13-1.6 0.38-1.6 0.64-1.6 0.68-1.2 1.16-1.57 1.17-1.23 1.63-1.35 2-1.28 2-0.93 2-0.65 1.6-0.32 1.6-0.16 2-0.01 4 0.22 0.8-0.08 0.8-0.29 0.4-0.35 0.46-0.8 1.13-4.8 0.46-1.2 0.64-1.2 0.91-1.17 0.89-0.83 1.18-0.8 1.53-0.69zM86.48 82.4l1.92-0.1 1.6 0.21 1.6 0.49 1.6 0.84 1.6 1.27 1.11 1.29 0.97 1.6 0.63 1.6 0.36 1.6 0.11 2-0.26 2-0.49 1.6-0.79 1.6-0.84 1.21-1.2 1.25-1.59 1.14-9.62 0-1.59-1.14-1.2-1.25-1.07-1.61-0.71-1.6-0.54-2.4-0.01-2.4 0.52-2.4 0.9-2 1.31-1.81 1.6-1.39 2-1.05 2-0.54z"/><path fill="#22a2e4" d="M19.92 13.2l0.88-0.17 1.2-0.04 2 0.37 2 0.93 3.2 2.18 1.6 0.82 1.6 0.51 4 0.84 2 0.53 2 0.73 2 1.03 1.2 0.81 1.2 1.01 0.81 0.85 0.91 1.2 0.66 1.2 0.47 1.2 0.28 1.2 0.1 1.6-0.12 1.2-0.31 1.2-0.96 2-0.91 1.2-0.77 0.8-2.04 1.6-2.52 1.36-2.8 0.95-2.8 0.51-5.2 0.39-1.2 0.24-0.8 0.3-0.8 0.48-0.8 0.71-2.4 3.06-1.6 1.6-1.6 1.05-1.6 0.62-1.6 0.25-2-0.16-1.2-0.37-0.8-0.37-1.6-1.12-1.35-1.5-1.1-2-0.59-2-0.18-2.4 0.34-2.4 0.9-2.4 1.21-2 2.82-3.6 0.67-1.2 0.29-0.8 0.25-2-0.25-3.6 0.03-1.6 0.26-1.6 0.41-1.2 0.69-1.25 1-1.15 1.04-0.8 1.56-0.71zM58.62 34.8l0.98-0.22 1.2-0.1 2 0.21 1.6 0.56 1.81 1.15 1.21 1.2 1.1 1.6 0.93 2 1.11 3.2 0.24 0.51 0.4 0.38 0.4 0.05 0.8-0.27 3.22-1.87 2.38-0.97 1.2-0.28 1.2-0.14 2 0.13 1.2 0.3 1.2 0.48 1.2 0.7 0.8 0.62 0.8 0.78 0.93 1.18 0.68 1.2 0.48 1.2 0.44 2 0.04 2-0.36 2-0.81 2-0.6 0.99-0.8 1.01-0.82 0.8-1.18 0.89-1.2 0.67-1.2 0.51-3.61 1.13-0.74 0.4-0.36 0.4-0.16 0.4-0.03 0.8 0.83 4 0.2 2-0.12 2-0.5 2-0.96 2-1.35 1.66-1.6 1.24-2 0.88-2 0.36-2-0.1-2-0.58-1.6-0.89-1.56-1.37-1.18-1.6-0.88-2-0.41-2-0.01-2 0.4-2 0.87-2 1.16-1.6 1.21-1.15 1.2-0.82 2-0.94 3.6-1.19 0.49-0.3 0.35-0.4 0.15-0.4 0.02-0.8-0.15-0.8-1.88-6.8-0.5-1.2-0.48-0.37-0.8 0.13-3.46 1.84-2.14 0.8-2 0.39-3.6 0.27-1.2 0.41-0.52 0.53-0.37 0.8-0.88 3.6-0.7 2-0.81 1.6-1.11 1.6-1.61 1.7-2 1.55-2 1.13-2.4 0.94-2.4 0.54-2.4 0.18-2.4-0.2-2.4-0.66-2-1-1.7-1.38-1.25-1.6-0.88-2-0.27-1.2-0.09-1.6 0.12-1.2 0.39-1.6 0.66-1.6 0.69-1.2 1.13-1.5 1.2-1.23 1.6-1.29 2-1.23 2-0.89 2-0.6 1.6-0.28 2-0.13 2 0.07 3.6 0.36 0.8-0.01 0.8-0.2 0.41-0.27 0.49-0.8 0.95-4.8 0.54-1.6 0.63-1.2 0.9-1.2 0.88-0.83 1.2-0.82 1.6-0.69zM86.52 82.8l1.88-0.1 1.6 0.21 1.6 0.52 1.6 0.87 1.2 0.97 1.33 1.53 0.92 1.6 0.58 1.6 0.31 1.6 0.04 2-0.35 2-0.58 1.6-0.92 1.6-0.99 1.2-1.4 1.2-1.37 0.8-7.97-0.01-1.6-0.98-1.6-1.52-1.25-1.89-0.78-2-0.35-2 0.09-2.4 0.49-2 0.95-2 1.25-1.63 1.6-1.34 1.6-0.84 2-0.57z"/><path fill="#1da8e0" d="M20.01 13.6l0.79-0.15 1.2-0.05 2 0.38 1.6 0.74 3.38 2.28 1.57 0.8 1.85 0.57 5.6 1.24 2 0.71 2 1.01 1.31 0.87 1.09 0.92 1.01 1.08 0.85 1.2 0.62 1.2 0.41 1.2 0.22 1.2 0.05 1.2-0.14 1.2-0.32 1.2-1.01 2-0.89 1.14-0.8 0.81-2 1.53-2.4 1.25-2.8 0.91-2.8 0.47-5.2 0.36-1.2 0.26-0.8 0.32-0.8 0.52-0.8 0.77-2.19 2.86-1.41 1.47-1.6 1.12-0.8 0.37-1.2 0.38-2 0.16-1.6-0.28-1.6-0.67-1.6-1.2-1.2-1.42-1-1.93-0.52-2-0.12-2 0.35-2.4 0.39-1.2 0.55-1.2 1.15-1.84 3.02-3.76 0.78-1.6 0.2-0.8 0.11-1.2-0.3-5.2 0.21-1.6 0.38-1.24 0.6-1.16 1-1.23 1.2-0.9 1.6-0.67zM58.81 35.2l1.19-0.24 1.2-0.05 2 0.34 1.2 0.48 0.8 0.45 0.83 0.62 0.83 0.8 0.74 0.93 0.65 1.07 0.55 1.2 0.52 1.6 0.46 2.8-0.07 1.2-0.27 0.8-0.95 1.2-1.44 1.2-1.45 0.92-1.6 0.74-2.4 0.61-1.6 0.14-3.2 0-0.8 0.19-0.34 0.2-0.33 0.4-0.31 0.8-0.61 3.6-0.56 2-0.9 2-1.06 1.6-1.86 2-2.03 1.54-2.4 1.26-2.4 0.82-1.6 0.33-2 0.17-1.6-0.06-1.6-0.24-1.6-0.46-1.2-0.52-1.2-0.7-1.16-0.94-0.84-0.92-0.8-1.21-0.63-1.47-0.27-1.2-0.11-1.2 0.12-1.6 0.39-1.6 0.48-1.2 0.64-1.2 0.84-1.2 1.91-2 2.23-1.63 1.2-0.66 1.6-0.7 2.4-0.69 2.8-0.32 2.4 0.08 4.8 0.66 0.8-0.06 0.4-0.15 0.4-0.37 0.25-0.56 0.76-5.2 0.51-1.6 0.59-1.2 0.87-1.2 1.02-0.97 1.2-0.78 1.6-0.65zM78.96 42.4l1.04-0.16 1.2-0.03 2 0.32 2 0.85 0.93 0.62 0.92 0.8 0.71 0.8 0.81 1.2 0.85 2 0.37 2 0.03 1.2-0.13 1.2-0.49 1.84-0.8 1.65-0.97 1.31-1.43 1.33-1.2 0.78-1.6 0.72-1.6 0.47-3.26 0.7-0.76 0.4-0.23 0.4 0.01 0.8 1.18 4 0.38 2.4-0.05 2-0.44 2-0.91 2-0.72 1.02-0.8 0.85-0.8 0.67-1.2 0.72-2 0.7-1.2 0.17-1.2 0-2-0.4-1.2-0.5-0.8-0.47-1.6-1.35-1.31-1.81-0.83-2-0.34-2 0-1.2 0.15-1.2 0.44-1.6 0.79-1.6 1.1-1.45 1.2-1.09 1.2-0.78 1.6-0.72 1.6-0.48 3.07-0.68 0.71-0.4 0.22-0.4-0.02-0.8-1.46-4.4-0.74-3.2-0.24-2.4 0.24-1.6 0.46-0.8 0.72-0.8 1.97-1.6 2.27-1.29 2-0.68zM86.47 83.2l1.93-0.12 1.6 0.23 1.6 0.54 1.6 0.91 1.2 1.03 1.15 1.41 0.87 1.6 0.54 1.6 0.25 1.6-0.04 2-0.44 2-0.69 1.6-0.84 1.29-1.2 1.3-1.35 1.01-1.67 0.8-5.96 0-1.42-0.65-1.6-1.16-1.27-1.39-0.97-1.6-0.72-2-0.28-2 0.12-2 0.52-2 0.75-1.6 1.18-1.6 1.47-1.29 1.6-0.9 2-0.6z"/><path fill="#18addb" d="M20.05 14l1.15-0.2 0.8-0.01 1.2 0.17 0.8 0.23 1.6 0.76 3.2 2.17 1.6 0.8 1.6 0.5 4 0.8 2 0.52 2 0.74 1.6 0.81 1.2 0.78 1.2 0.98 0.91 0.95 0.89 1.2 0.63 1.2 0.42 1.2 0.23 1.2 0.04 1.2-0.34 2-0.92 2-0.89 1.2-0.75 0.8-2.05 1.6-2.57 1.32-2.8 0.88-2.8 0.43-4.8 0.28-1.2 0.21-0.8 0.27-0.8 0.45-0.8 0.7-2.4 3.13-1.46 1.53-1.74 1.16-1.6 0.57-1.6 0.18-1.6-0.19-1.6-0.6-1.61-1.12-1.19-1.34-1.01-1.86-0.56-2-0.12-2 0.11-1.2 0.26-1.2 0.92-2.29 1.2-1.86 2.88-3.45 0.51-0.8 0.49-1.2 0.18-0.8 0.09-1.2-0.32-3.6-0.03-1.6 0.21-1.6 0.39-1.2 0.67-1.2 0.93-1.06 1.2-0.84 1.2-0.49zM58.93 35.6l1.07-0.22 1.2-0.05 2 0.35 1.2 0.5 0.8 0.49 1.48 1.33 0.62 0.8 0.7 1.2 0.49 1.2 0.35 1.2 0.2 1.2 0.05 1.2-0.15 1.2-0.27 0.8-0.75 1.2-1.22 1.2-1.5 1.02-1.6 0.73-1.2 0.34-1.6 0.23-2-0.02-3.2-0.33-0.4 0.06-0.4 0.22-0.35 0.95-0.25 3.6-0.36 2-0.67 2-1.17 2.11-1.56 1.89-2.04 1.72-2.4 1.39-2.8 1.01-1.6 0.33-1.6 0.16-1.6-0.02-1.6-0.21-1.6-0.42-1.2-0.49-1.2-0.68-1.2-0.93-0.97-1.06-0.77-1.2-0.5-1.2-0.3-1.2-0.11-1.2 0.11-1.6 0.39-1.6 0.49-1.2 0.66-1.2 0.86-1.2 1.97-2 1.37-1.02 1.2-0.73 1.2-0.59 1.6-0.61 2.8-0.62 2.8-0.11 2.8 0.34 4 0.88 0.8 0.06 0.4-0.08 0.36-0.32 0.15-0.4 0.3-5.2 0.33-1.6 0.62-1.6 0.73-1.2 1.11-1.21 1.2-0.86 1.6-0.69zM78.89 42.8l1.91-0.23 1.6 0.15 1.6 0.48 1.6 0.86 1.33 1.14 1.07 1.36 0.8 1.55 0.53 1.89 0.13 2-0.2 1.6-0.68 2-0.96 1.6-1.08 1.2-1.34 1.04-1.6 0.82-2 0.61-2 0.29-2 0.05-1.2-0.12-0.8-0.37-0.4-0.41-0.8-1.25-1.1-2.26-0.86-2.4-0.52-2.4-0.14-1.6 0.13-1.6 0.4-1.2 0.76-1.2 1.19-1.2 1.34-0.99 1.6-0.86 1.6-0.53zM69.35 62l1.45-0.26 2-0.13 1.6 0.1 0.8 0.3 0.8 0.85 1.2 2.23 0.8 2.11 0.46 2 0.1 2-0.19 1.6-0.47 1.6-0.7 1.4-1.07 1.4-1.33 1.14-1.2 0.69-1.6 0.54-1.6 0.2-1.6-0.13-1.6-0.46-1.6-0.87-1.29-1.11-1.11-1.45-0.83-1.75-0.4-1.6-0.09-2 0.25-1.6 0.55-1.6 0.92-1.58 1.08-1.22 1.32-1.03 1.6-0.83 1.6-0.51zM86.29 83.6l1.71-0.17 2 0.25 1.6 0.56 1.6 0.96 1.3 1.2 1.1 1.53 0.76 1.67 0.41 1.6 0.12 2-0.19 1.6-0.48 1.6-0.82 1.6-1.28 1.6-1.32 1.08-1.6 0.86-1.55 0.46-3.3 0-1.55-0.46-1.6-0.86-1.32-1.08-1.28-1.6-0.82-1.6-0.48-1.6-0.19-1.6 0.12-2 0.54-2 0.8-1.6 1.03-1.36 1.2-1.08 1.6-0.95 1.6-0.55z"/><path fill="#11b1d6" d="M19.93 14.4l1.67-0.27 0.8 0.03 1.2 0.25 1.77 0.79 3.03 2.06 1.6 0.84 2 0.62 5.6 1.19 2 0.71 1.95 0.98 2.15 1.6 0.78 0.8 0.91 1.2 0.66 1.2 0.43 1.2 0.23 1.2 0.04 1.2-0.36 2-0.49 1.2-0.46 0.8-1.44 1.75-2 1.59-2.4 1.27-2.8 0.9-2.8 0.44-5.2 0.29-1.2 0.23-0.8 0.31-0.8 0.5-0.8 0.76-2.04 2.76-1.16 1.32-1.35 1.08-1.45 0.73-1.6 0.39-1.2 0.03-0.8-0.1-1.6-0.51-1.5-0.94-1.19-1.2-1-1.6-0.69-2-0.21-2 0.07-1.2 0.21-1.2 0.37-1.2 0.54-1.2 1.3-2 3.06-3.6 0.82-1.6 0.28-1.2 0.07-1.2-0.36-3.6-0.03-1.6 0.13-1.2 0.34-1.2 0.6-1.2 0.79-0.97 0.8-0.68 1.2-0.63zM58.85 36l1.55-0.3 1.6 0.06 1.6 0.44 1.2 0.62 1.2 0.97 0.87 1.01 0.92 1.6 0.55 1.6 0.26 1.6 0 1.2-0.23 1.2-0.53 1.2-0.93 1.2-1.31 1.1-1.2 0.71-1.6 0.6-1.6 0.3-1.6 0.03-1.6-0.2-1.6-0.41-1.2-0.51-0.59-0.42-0.54-0.8-0.25-0.8-0.3-2-0.05-2 0.25-2 0.48-1.6 0.85-1.6 0.95-1.11 1.2-0.94 1.6-0.73zM78.63 43.2l1.77-0.29 1.6 0.07 1.6 0.4 1.6 0.8 1.29 1.02 1.11 1.32 0.82 1.48 0.52 1.6 0.21 1.6-0.13 2-0.44 1.6-0.79 1.6-0.99 1.29-1.24 1.11-1.56 0.93-1.6 0.58-1.6 0.32-2 0.07-1.6-0.26-1.2-0.58-1.06-1.06-0.94-1.47-0.8-1.76-0.62-1.97-0.32-2-0.02-1.6 0.31-1.6 0.56-1.2 0.91-1.2 1.35-1.2 1.43-0.89 1.6-0.65zM40.92 48l2.68-0.23 2.4 0.19 2.8 0.61 2.84 1.03 1.25 0.8 0.51 0.8 0.31 1.2 0.18 2-0.14 2.4-0.58 2.4-0.92 2-1.45 2.03-2 1.88-2 1.32-2.4 1.07-2.8 0.7-2.4 0.16-2.4-0.25-2-0.6-2-1.07-1.43-1.24-1.15-1.6-0.66-1.6-0.31-2 0.18-2 0.64-2 1.12-2 1.33-1.6 1.84-1.6 2.04-1.27 2-0.87 2.4-0.64zM69.26 62.4l1.94-0.26 1.6 0.06 1.2 0.28 1.2 0.7 0.8 0.86 0.96 1.56 0.67 1.6 0.5 2 0.12 2-0.2 1.6-0.5 1.6-0.75 1.42-1.13 1.38-1.27 1.01-1.2 0.63-1.6 0.47-1.6 0.12-1.6-0.21-1.6-0.58-1.2-0.74-1.2-1.08-0.92-1.22-0.77-1.6-0.42-1.6-0.11-1.6 0.18-1.6 0.5-1.6 0.87-1.6 1.07-1.26 1.2-0.97 1.6-0.85 1.6-0.51zM85.94 84l1.66-0.25 1.6 0.08 1.6 0.41 1.6 0.78 1.6 1.29 1.04 1.29 0.86 1.6 0.49 1.6 0.21 1.6-0.13 2-0.42 1.6-0.75 1.6-0.9 1.25-1.2 1.16-1.6 1.01-1.6 0.58-1.6 0.24-1.6-0.08-1.6-0.4-1.6-0.78-1.28-0.98-1.12-1.25-0.92-1.55-0.58-1.6-0.27-1.6 0.04-2 0.34-1.6 0.65-1.6 1.06-1.6 1.22-1.2 1.26-0.84 1.6-0.67z"/><path fill="#08b5d0" d="M19.69 14.8l1.11-0.31 0.8-0.07 0.8 0.04 1.2 0.25 1.6 0.71 3.2 2.15 1.6 0.81 1.6 0.49 5.6 1.16 2 0.67 1.6 0.75 1.2 0.73 1.31 1.02 0.81 0.8 0.94 1.2 0.54 0.93 0.45 1.07 0.3 1.2 0.11 1.2-0.26 2-0.43 1.2-0.42 0.8-1.35 1.77-2 1.68-1.2 0.72-1.6 0.75-2.8 0.85-2.8 0.39-4.8 0.22-1.2 0.2-0.8 0.27-0.8 0.44-0.8 0.71-2.38 3.2-1.09 1.2-1.33 1.03-1.2 0.6-1.6 0.4-1.6 0-1.6-0.42-1.6-0.92-0.8-0.71-0.66-0.78-0.93-1.6-0.52-1.6-0.23-2 0.07-1.2 0.23-1.2 0.38-1.2 0.56-1.2 1.35-2 2.83-3.2 0.53-0.8 0.53-1.2 0.26-1.2 0.04-1.2-0.38-3.6-0.04-1.6 0.15-1.2 0.35-1.2 0.65-1.2 0.67-0.8 0.96-0.76 0.8-0.41zM60.47 36l1.53 0.06 1.6 0.46 1.23 0.68 1.17 1.01 0.8 1 0.83 1.59 0.48 1.6 0.15 1.6-0.11 1.2-0.36 1.2-0.69 1.2-1.1 1.17-1.14 0.83-1.26 0.62-1.2 0.38-1.6 0.22-1.6-0.06-1.6-0.33-1.2-0.46-1.13-0.77-0.62-0.8-0.36-0.8-0.31-1.2-0.18-1.6 0.04-1.6 0.28-1.6 0.58-1.6 0.73-1.2 0.97-1.07 1.2-0.86 1.2-0.54 1.6-0.33zM80.14 43.2l1.86 0.05 1.6 0.42 1.6 0.82 1.2 0.99 1.08 1.32 0.83 1.6 0.45 1.6 0.15 1.6-0.15 1.6-0.45 1.6-0.83 1.6-1.08 1.33-1.2 1.01-1.6 0.87-1.6 0.51-1.6 0.23-1.6-0.04-1.6-0.38-1.2-0.7-0.8-0.78-1.11-1.65-0.72-1.6-0.58-2-0.24-2 0.09-1.6 0.31-1.2 0.59-1.2 0.93-1.2 1.4-1.2 1.33-0.78 1.2-0.47 1.6-0.34zM43.03 48l2.57 0.13 2.4 0.5 2.4 0.88 1.6 0.99 0.87 1.1 0.52 1.6 0.19 2-0.15 2-0.51 2-0.93 2-1.45 2-1.68 1.6-2.06 1.4-2 0.94-2.4 0.71-2.4 0.3-2.4-0.12-2-0.47-2-0.89-1.6-1.19-1.25-1.48-0.8-1.6-0.43-2 0.08-2 0.55-2 1.04-2 1.24-1.6 1.74-1.6 2.23-1.44 2-0.88 2-0.57 2.4-0.3zM68.87 62.8l1.93-0.29 1.6 0.06 1.2 0.29 1.2 0.63 0.8 0.74 0.97 1.37 0.74 1.6 0.47 1.6 0.2 1.6-0.06 1.6-0.36 1.6-0.7 1.6-0.86 1.24-1.2 1.15-1.2 0.76-1.6 0.59-1.6 0.22-1.6-0.14-1.6-0.5-1.2-0.66-1.2-1.01-1-1.25-0.65-1.2-0.51-1.6-0.19-1.6 0.11-1.6 0.42-1.6 0.8-1.6 1.02-1.28 1.2-1.02 1.2-0.7 1.6-0.58zM88 84l1.6 0.16 1.6 0.51 1.6 0.93 1.2 1.07 1.01 1.33 0.78 1.6 0.43 1.6 0.14 1.6-0.14 1.6-0.43 1.6-0.78 1.6-1.01 1.33-1.2 1.07-1.6 0.93-1.6 0.5-1.6 0.17-1.6-0.17-1.6-0.5-1.2-0.65-1.34-1.08-1.06-1.28-0.83-1.52-0.51-1.6-0.21-1.6 0.12-2 0.43-1.6 0.77-1.6 0.89-1.2 1.3-1.2 1.24-0.76 1.6-0.59 1.6-0.24z"/><path fill="#01b8ca" d="M20.76 14.8l1.24-0.08 1.6 0.29 1.6 0.73 2.8 1.9 1.6 0.85 2 0.62 4 0.75 2 0.51 2 0.75 1.68 0.88 1.12 0.77 0.97 0.83 0.76 0.8 0.86 1.2 0.61 1.2 0.38 1.2 0.17 1.2-0.03 1.2-0.5 2-0.85 1.6-1.57 1.79-1.89 1.41-2.44 1.2-2.47 0.74-2.8 0.41-5.2 0.22-1.2 0.22-0.8 0.31-0.8 0.51-0.79 0.79-2.01 2.8-1.47 1.6-0.93 0.71-0.8 0.44-1.6 0.53-1.6 0.1-1.6-0.33-1.6-0.81-1.19-1.04-0.89-1.2-0.74-1.6-0.38-1.6-0.05-2 0.38-2 0.87-2.01 1.2-1.75 3.08-3.44 0.52-0.82 0.49-1.18 0.23-1.2 0.04-1.2-0.42-3.6-0.04-1.6 0.16-1.2 0.38-1.2 0.69-1.2 0.75-0.8 0.92-0.64 1.2-0.48zM59.74 36.4l1.46-0.11 1.2 0.15 1.2 0.4 1.2 0.7 0.98 0.86 0.92 1.2 0.61 1.2 0.48 1.6 0.13 1.6-0.14 1.2-0.4 1.2-0.58 1-0.88 1-1.12 0.86-1.2 0.63-1.6 0.48-1.2 0.13-1.6-0.08-1.6-0.41-1.2-0.58-0.77-0.63-0.62-0.8-0.52-1.2-0.27-1.2-0.11-1.6 0.14-1.6 0.43-1.6 0.57-1.2 0.9-1.2 1.05-0.92 1.2-0.67 1.2-0.38zM79.25 43.6l1.55-0.17 1.6 0.16 1.6 0.53 1.2 0.69 1.2 1.04 1.03 1.35 0.76 1.6 0.38 1.6 0.08 1.6-0.23 1.6-0.56 1.6-0.68 1.2-1.01 1.2-1.37 1.09-1.6 0.79-1.6 0.43-1.6 0.13-1.6-0.16-1.2-0.4-1.2-0.78-1.01-1.1-0.97-1.6-0.63-1.6-0.45-2-0.09-1.6 0.21-1.6 0.43-1.2 0.72-1.2 0.99-1.09 1.2-0.93 1.2-0.65 1.6-0.52zM41.05 48.4l2.55-0.2 2.4 0.22 2.4 0.61 2 0.88 1.23 0.89 0.92 1.2 0.55 1.6 0.18 1.6-0.18 2.4-0.58 2-1.03 2-1.23 1.6-1.72 1.6-2.14 1.39-2.4 1.02-2.4 0.58-2.4 0.16-2-0.2-2-0.56-2-1.05-1.2-0.99-1.21-1.55-0.71-1.6-0.34-2 0.17-2 0.65-2 0.89-1.6 1.35-1.69 1.6-1.43 2-1.29 2-0.9 2.4-0.65zM68.51 63.2l1.49-0.31 1.6-0.04 1.6 0.3 1.2 0.58 1.19 1.07 0.81 1.16 0.6 1.24 0.5 1.6 0.22 1.6-0.07 1.6-0.36 1.6-0.51 1.2-0.78 1.22-1.2 1.22-1.2 0.8-1.6 0.62-1.2 0.2-1.6-0.05-1.6-0.42-1.2-0.6-1.27-0.99-1.01-1.2-0.68-1.2-0.54-1.6-0.19-1.6 0.11-1.6 0.44-1.6 0.59-1.2 0.87-1.2 0.88-0.85 1.2-0.83 1.6-0.69zM86.49 84.4l1.51-0.15 1.6 0.17 1.6 0.53 1.2 0.67 1.2 0.99 1.12 1.39 0.81 1.6 0.45 1.6 0.14 1.6-0.14 1.6-0.45 1.6-0.81 1.6-1.12 1.39-1.2 0.99-1.6 0.84-1.6 0.43-1.6 0.08-1.6-0.25-1.6-0.62-1.2-0.77-1.2-1.13-0.8-1.09-0.73-1.47-0.45-1.6-0.14-1.6 0.14-1.6 0.44-1.6 0.8-1.6 1.14-1.41 1.2-0.99 1.2-0.67 1.6-0.51z"/><path fill="#02bbc3" d="M20.64 15.2l1.36-0.12 1.6 0.3 1.36 0.62 3.04 2.03 1.6 0.79 1.6 0.48 4 0.74 2 0.49 2 0.71 1.6 0.8 1.16 0.76 0.97 0.8 0.79 0.8 0.89 1.2 0.44 0.8 0.47 1.2 0.24 1.2 0.04 1.2-0.39 2-0.33 0.8-0.68 1.16-1.44 1.64-1.76 1.33-2.4 1.21-2.8 0.82-2.8 0.36-4.8 0.14-1.2 0.18-0.8 0.26-0.8 0.44-0.8 0.72-2.4 3.34-1.11 1.2-1.29 0.96-1.6 0.68-1.6 0.21-1.6-0.23-1.6-0.72-1.13-0.9-0.97-1.2-0.79-1.6-0.4-1.6-0.08-1.6 0.13-1.2 0.29-1.2 0.9-2 1.25-1.72 2.87-3.08 0.73-1.1 0.39-0.9 0.29-1.2 0.07-1.2-0.46-4-0.04-1.6 0.17-1.2 0.38-1.14 0.49-0.86 0.71-0.82 0.8-0.6 1.2-0.52zM59.6 36.8l1.2-0.15 1.2 0.08 1.2 0.34 1.2 0.63 0.88 0.7 1 1.2 0.65 1.2 0.39 1.2 0.19 1.2-0.02 1.2-0.26 1.2-0.54 1.2-0.93 1.2-0.95 0.8-1.21 0.68-1.2 0.42-1.2 0.2-1.6-0.03-1.2-0.26-1.2-0.5-0.8-0.54-0.74-0.77-0.48-0.8-0.44-1.2-0.21-1.2-0.02-1.6 0.28-1.6 0.45-1.2 0.71-1.2 0.85-0.93 1.2-0.86 1.2-0.5zM78.95 44l1.45-0.24 1.6 0.08 1.2 0.3 1.41 0.66 1.09 0.8 1.1 1.2 0.72 1.2 0.59 1.6 0.24 1.6-0.08 1.6-0.41 1.6-0.55 1.2-0.91 1.3-1.2 1.13-1.2 0.75-1.6 0.61-1.6 0.27-1.6-0.05-1.2-0.28-1.2-0.58-1.2-1.03-0.8-1.06-0.76-1.46-0.54-1.6-0.26-1.6 0-1.6 0.34-1.6 0.55-1.2 0.88-1.2 0.99-0.92 1.2-0.79 1.6-0.65zM40.26 48.8l2.14-0.31 2.4 0.03 2.4 0.45 2 0.74 1.6 0.97 0.92 0.92 0.51 0.8 0.33 0.8 0.35 1.6 0 2-0.4 2-0.85 2-1.38 2-1.63 1.6-1.85 1.3-2 0.98-2.4 0.73-2.4 0.29-2-0.08-2-0.43-1.86-0.79-1.67-1.2-1.07-1.2-0.87-1.6-0.42-1.6-0.07-1.6 0.36-2 0.86-2 1.09-1.6 1.55-1.6 1.7-1.27 2-1.06 2.4-0.81zM68.37 63.6l1.23-0.29 1.6-0.09 1.6 0.27 1.16 0.51 0.84 0.61 0.9 0.99 0.74 1.2 0.62 1.6 0.31 1.6 0.01 1.6-0.3 1.6-0.46 1.2-0.71 1.2-1.09 1.2-1.22 0.87-1.2 0.53-1.2 0.28-1.6 0.05-1.6-0.34-1.2-0.54-1.2-0.85-0.8-0.82-0.81-1.18-0.66-1.6-0.25-1.2-0.04-1.6 0.29-1.6 0.45-1.2 0.71-1.2 1.08-1.2 1.23-0.9 1.2-0.57zM86.1 84.8l1.5-0.23 1.6 0.08 1.6 0.45 1.2 0.61 1.37 1.09 1 1.2 0.68 1.2 0.55 1.6 0.22 1.6-0.07 1.6-0.38 1.6-0.75 1.6-1.02 1.36-1.17 1.04-1.23 0.72-1.33 0.48-1.47 0.23-1.6-0.09-1.6-0.44-1.2-0.61-1.37-1.09-1-1.2-0.68-1.2-0.55-1.6-0.23-1.6 0.08-1.6 0.38-1.6 0.57-1.31 0.8-1.21 1.2-1.21 1.2-0.8 1.6-0.65z"/><path fill="#0bbdbd" d="M20.44 15.6l1.56-0.19 1.6 0.31 1.6 0.78 2.85 1.9 1.55 0.72 1.6 0.44 5.6 1.09 2 0.68 1.6 0.77 1.12 0.7 1.02 0.8 0.81 0.8 0.92 1.2 0.53 0.96 0.4 1.04 0.25 1.2 0.04 1.2-0.17 1.2-0.24 0.8-0.79 1.6-0.58 0.8-0.91 0.98-1.87 1.42-2.13 1.08-2.8 0.84-2.8 0.37-5.2 0.13-1.2 0.2-0.8 0.29-0.8 0.51-0.6 0.58-2.26 3.2-1.14 1.29-1.2 0.92-1.6 0.71-1.6 0.22-1.2-0.14-1.58-0.6-1.22-0.89-0.96-1.11-0.83-1.6-0.42-1.6-0.09-1.6 0.14-1.2 0.31-1.2 0.94-2 1.31-1.73 2.8-2.91 0.66-0.96 0.38-0.8 0.34-1.2 0.11-1.2-0.05-1.2-0.48-4 0.19-2 0.45-1.21 0.8-1.13 0.8-0.68 1.2-0.57zM59.39 37.2l1.01-0.19 1.2 0 1.2 0.26 1.2 0.56 1.2 0.94 0.69 0.83 0.68 1.2 0.41 1.2 0.18 1.2-0.04 1.2-0.28 1.2-0.58 1.2-0.62 0.8-0.87 0.8-1.17 0.71-1.2 0.44-1.2 0.21-1.2-0.01-1.2-0.22-1.2-0.48-0.95-0.65-0.73-0.8-0.47-0.8-0.41-1.2-0.19-1.2 0.04-1.6 0.24-1.2 0.47-1.2 0.77-1.2 0.78-0.8 0.85-0.6 1.2-0.55zM78.61 44.4l1.39-0.31 1.6-0.02 1.6 0.37 1.2 0.56 1.2 0.89 0.85 0.91 0.77 1.2 0.61 1.6 0.21 1.2 0 1.6-0.33 1.6-0.51 1.23-0.8 1.24-1.11 1.13-1.29 0.86-1.2 0.5-1.2 0.3-1.6 0.09-1.6-0.28-1.2-0.52-1.2-0.92-0.8-0.96-0.8-1.39-0.48-1.28-0.34-1.6-0.07-1.2 0.19-1.6 0.39-1.2 0.69-1.2 1.07-1.2 1.35-0.97 1.2-0.56zM41.46 48.8l2.14-0.12 2.4 0.26 2 0.57 1.82 0.89 1.38 1.17 0.8 1.2 0.53 1.63 0.15 1.6-0.22 2-0.66 2-0.89 1.6-1.31 1.63-1.6 1.42-2 1.25-2 0.85-2.4 0.59-2.4 0.15-2-0.23-2-0.61-1.6-0.87-1.2-1-1.2-1.59-0.66-1.59-0.26-2 0.26-2 0.57-1.6 0.92-1.6 1.33-1.6 1.44-1.26 2-1.26 2-0.85 2.4-0.59zM69.82 63.6l1.38-0.04 1.2 0.2 1.2 0.48 1.2 0.87 0.8 0.93 0.68 1.16 0.52 1.37 0.28 1.43 0.01 1.6-0.2 1.2-0.49 1.4-0.8 1.33-0.8 0.89-1.2 0.9-1.2 0.56-1.2 0.3-1.6 0.05-1.2-0.22-1.2-0.48-1.2-0.77-0.8-0.76-0.88-1.2-0.56-1.2-0.39-1.6-0.05-1.6 0.19-1.2 0.49-1.39 0.8-1.34 0.8-0.9 1.2-0.92 1.2-0.6 1.6-0.42zM85.7 85.2l1.5-0.33 1.6 0 1.6 0.37 1.2 0.55 1.2 0.85 0.94 0.96 0.81 1.2 0.67 1.6 0.32 1.6 0 1.6-0.32 1.6-0.46 1.2-0.76 1.26-1.2 1.3-1.2 0.85-1.33 0.59-1.47 0.32-1.6 0-1.6-0.36-1.2-0.55-1.2-0.85-0.94-0.96-0.81-1.2-0.67-1.6-0.32-1.6 0-1.6 0.31-1.6 0.46-1.2 0.77-1.28 1-1.12 1.4-1.02 1.2-0.55z"/><path fill="#15bfb7" d="M20.14 16l1.46-0.32 1.6 0.19 1.6 0.69 2.8 1.85 1.6 0.79 1.6 0.48 6 1.16 2 0.69 1.6 0.79 2 1.44 0.8 0.8 0.8 1.04 0.47 0.8 0.48 1.2 0.26 1.2 0.04 1.2-0.18 1.2-0.24 0.8-0.81 1.6-1.34 1.6-1.88 1.45-2.4 1.18-2.8 0.78-2.8 0.32-4.8 0.07-1.2 0.17-0.8 0.25-0.8 0.45-0.8 0.75-2.05 2.98-1.15 1.36-1.2 0.97-1.2 0.6-1.2 0.31-1.6-0.01-1.6-0.51-1.2-0.78-1.07-1.14-0.88-1.6-0.44-1.6-0.09-1.6 0.33-2 0.45-1.2 0.5-0.95 1.2-1.62 2.98-3.03 0.62-0.85 0.56-1.15 0.31-1.2 0.1-1.2-0.06-1.2-0.47-3.6 0.1-2 0.37-1.2 0.44-0.8 0.7-0.8 1.15-0.74zM59.03 37.6l0.97-0.27 1.2-0.08 1.2 0.18 1.2 0.48 0.8 0.51 0.84 0.78 0.61 0.8 0.6 1.2 0.34 1.2 0.1 1.2-0.13 1.2-0.36 1.12-0.49 0.88-0.71 0.85-0.91 0.75-1.09 0.59-1.2 0.37-1.2 0.14-1.2-0.09-0.85-0.21-1.15-0.52-0.8-0.59-0.75-0.89-0.45-0.85-0.35-1.15-0.15-1.2 0.11-1.6 0.33-1.2 0.59-1.2 0.67-0.89 0.8-0.73 1.2-0.69zM79.5 44.4l1.3-0.14 1.6 0.18 1.2 0.4 1.2 0.69 1.01 0.87 0.93 1.2 0.6 1.2 0.43 1.6 0.09 1.6-0.16 1.2-0.5 1.53-0.72 1.27-0.88 1.02-1.2 0.94-1.2 0.61-1.2 0.37-1.6 0.16-1.2-0.11-1.2-0.36-1.2-0.68-0.84-0.75-0.9-1.2-0.66-1.32-0.45-1.48-0.2-1.6 0.06-1.2 0.4-1.6 0.59-1.18 0.8-1.03 1.13-0.99 1.27-0.72 1.2-0.41zM40.21 49.2l2.19-0.33 2.4 0.06 2 0.39 2 0.77 1.2 0.74 1.2 1.17 0.51 0.8 0.35 0.8 0.35 1.6-0.02 2-0.47 2-0.73 1.6-1.19 1.72-1.46 1.48-1.74 1.26-2 1.02-2.4 0.74-2.4 0.3-2-0.1-2-0.47-1.6-0.7-1.6-1.16-1.11-1.29-0.8-1.6-0.37-1.6 0-1.6 0.47-2 0.74-1.6 1.13-1.6 1.54-1.52 1.6-1.15 2-1.02 2-0.66zM68.99 64l1.41-0.19 1.2 0.07 1.2 0.31 1.2 0.64 0.89 0.77 0.89 1.2 0.62 1.3 0.39 1.5 0.1 1.6-0.14 1.2-0.34 1.2-0.59 1.2-0.93 1.2-0.89 0.78-1.2 0.69-1.2 0.4-1.6 0.15-1.2-0.16-1.2-0.4-1.16-0.66-0.92-0.8-0.93-1.2-0.59-1.2-0.34-1.2-0.13-1.2 0.13-1.6 0.34-1.2 0.58-1.2 0.92-1.2 0.9-0.8 1.2-0.72 1.2-0.43zM86.53 85.2l1.47-0.16 1.2 0.11 1.6 0.48 1.2 0.66 1.1 0.91 0.97 1.2 0.64 1.2 0.5 1.6 0.16 1.6-0.16 1.6-0.5 1.6-0.64 1.2-0.97 1.2-1.1 0.91-1.2 0.66-1.35 0.43-1.45 0.15-1.2-0.1-1.6-0.48-1.2-0.66-1.1-0.91-0.97-1.2-0.64-1.2-0.5-1.6-0.16-1.6 0.16-1.6 0.49-1.6 0.64-1.2 0.88-1.11 1.02-0.89 1.38-0.78 1.2-0.39z"/><path fill="#1ec0b2" d="M21.09 16l1.31-0.03 1.6 0.45 1.2 0.65 2.64 1.73 1.76 0.75 7.2 1.46 2 0.71 1.6 0.81 2 1.49 0.8 0.84 0.81 1.14 0.41 0.8 0.42 1.2 0.18 1.2-0.03 1.2-0.26 1.2-0.3 0.8-0.95 1.6-1.48 1.55-1.6 1.13-2.4 1.12-2.8 0.72-2.4 0.25-5.2 0.06-1.71 0.37-0.75 0.4-0.87 0.8-2.18 3.2-1.29 1.44-1.2 0.87-1.6 0.62-1.6 0.11-1.2-0.24-1.2-0.56-1.2-0.97-0.8-1.04-0.68-1.43-0.35-1.6-0.02-1.6 0.45-2 1-1.99 1.2-1.49 2.93-2.92 0.97-1.6 0.37-1.2 0.16-1.6-0.06-1.2-0.49-3.6 0-1.2 0.21-1.2 0.51-1.2 0.61-0.8 0.79-0.64 1.2-0.5zM59.94 37.6l0.86-0.1 1.2 0.09 1.2 0.39 0.8 0.45 0.91 0.77 0.69 0.86 0.59 1.14 0.34 1.2 0.11 1.2-0.15 1.2-0.42 1.2-0.47 0.78-0.72 0.82-0.88 0.69-1 0.51-1 0.31-1.2 0.13-1.2-0.1-1.12-0.34-0.78-0.4-0.54-0.4-0.76-0.82-0.46-0.78-0.42-1.2-0.17-1.2 0.05-1.2 0.26-1.2 0.51-1.2 0.63-0.91 0.8-0.79 0.8-0.54 1.2-0.48zM78.8 44.8l1.2-0.27 1.6-0.02 1.2 0.25 1.2 0.51 1.2 0.83 1.02 1.1 0.72 1.2 0.45 1.2 0.24 1.2 0 1.6-0.23 1.2-0.6 1.49-0.8 1.2-0.8 0.82-1.2 0.85-1.2 0.53-1.2 0.3-1.6 0.07-1.2-0.21-1.2-0.48-1.2-0.87-0.8-0.9-0.73-1.2-0.49-1.2-0.35-1.6-0.06-1.2 0.22-1.6 0.44-1.2 0.74-1.2 0.73-0.8 1.1-0.85 1.2-0.61zM40.98 49.2l2.22-0.2 2 0.15 2 0.48 1.75 0.77 1.16 0.8 1.09 1.21 0.75 1.59 0.29 1.6-0.04 1.6-0.47 2-0.97 2-1.21 1.6-1.55 1.45-2 1.3-2 0.87-2 0.53-2 0.21-2-0.1-2-0.48-1.6-0.73-1.6-1.21-1.14-1.44-0.71-1.6-0.27-1.6 0.08-1.6 0.56-2 0.85-1.6 1.26-1.6 1.37-1.25 2-1.31 2-0.88 2-0.53zM68.4 64.4l1.2-0.29 1.2-0.06 1.2 0.16 1.2 0.44 1.2 0.82 0.8 0.88 0.75 1.25 0.45 1.2 0.24 1.2 0.02 1.6-0.22 1.2-0.44 1.22-0.71 1.18-0.89 0.98-1.2 0.85-1.2 0.51-1.2 0.23-1.2 0-1.2-0.24-1.2-0.51-1.2-0.85-0.88-0.97-0.72-1.2-0.43-1.2-0.21-1.2 0.05-1.6 0.27-1.2 0.52-1.2 0.83-1.2 0.82-0.8 0.95-0.66 1.2-0.54zM85.81 85.6l1.39-0.31 1.2-0.04 1.6 0.29 1.2 0.5 1.2 0.79 1.15 1.17 0.76 1.2 0.5 1.2 0.28 1.2 0.08 1.6-0.24 1.6-0.53 1.43-0.8 1.3-0.8 0.89-1.2 0.92-1.43 0.66-1.37 0.31-1.2 0.03-1.6-0.28-1.2-0.5-1.2-0.79-1.15-1.17-0.76-1.2-0.5-1.2-0.28-1.2-0.08-1.6 0.24-1.6 0.42-1.2 0.66-1.2 1.05-1.23 1.2-0.92 1.2-0.58z"/><path fill="#27c2ac" d="M20.68 16.4l1.32-0.17 1.2 0.19 1.2 0.49 2.95 1.89 1.7 0.8 1.75 0.47 5.6 1.02 2 0.66 1.6 0.77 1.08 0.68 1 0.8 0.79 0.8 0.88 1.2 0.42 0.8 0.42 1.2 0.15 0.8 0.04 1.2-0.18 1.2-0.25 0.8-0.85 1.6-1.41 1.6-1.69 1.25-2.4 1.15-2.8 0.74-2.8 0.27-4.8-0.01-1.2 0.17-0.8 0.25-0.8 0.48-0.8 0.79-2 3.04-1.2 1.39-1.2 0.91-1.2 0.53-1.46 0.24-1.34-0.15-1.2-0.46-1.2-0.87-0.8-0.92-0.8-1.51-0.35-1.29-0.1-1.6 0.35-2 0.93-2 1.24-1.6 3.13-3.06 0.65-0.94 0.37-0.8 0.34-1.2 0.15-1.6-0.07-1.2-0.49-3.6 0-1.2 0.12-0.8 0.44-1.2 0.49-0.75 0.8-0.73 0.8-0.43zM59.49 38l0.91-0.19 1.2 0 1.2 0.3 0.8 0.39 0.92 0.7 0.71 0.8 0.48 0.8 0.46 1.2 0.18 1.2-0.02 0.8-0.25 1.2-0.34 0.8-0.54 0.83-0.8 0.82-0.8 0.55-1.2 0.51-0.8 0.18-1.2 0.05-1.2-0.21-0.8-0.3-0.8-0.49-0.78-0.74-0.53-0.8-0.35-0.8-0.27-1.2-0.03-1.2 0.19-1.2 0.26-0.8 0.66-1.2 0.7-0.8 0.95-0.72 0.8-0.38zM79.77 44.8l1.43-0.09 1.2 0.18 1.2 0.43 1.2 0.75 0.8 0.73 0.88 1.2 0.56 1.2 0.36 1.6 0 1.6-0.23 1.2-0.47 1.2-0.7 1.13-0.8 0.88-1.2 0.89-1.2 0.55-1.2 0.3-1.2 0.07-1.5-0.22-1.03-0.4-1.07-0.7-0.88-0.9-0.78-1.2-0.51-1.2-0.37-1.6-0.05-1.2 0.14-1.2 0.37-1.2 0.66-1.2 0.65-0.8 1.17-0.97 1.2-0.64 1.2-0.36zM42.37 49.2l2.03 0.03 2 0.36 2 0.76 1.33 0.85 1.16 1.2 0.66 1.2 0.42 1.6 0.06 1.6-0.37 2-0.65 1.6-1.01 1.6-1.49 1.6-1.71 1.3-2 1.04-2 0.67-2 0.34-2 0.02-2-0.33-1.72-0.64-1.48-0.92-1.2-1.17-0.93-1.51-0.5-1.6-0.1-1.6 0.36-2 0.67-1.6 1.06-1.6 1.44-1.5 1.6-1.2 2-1.06 2-0.67 2-0.34zM69.42 64.4l1.38-0.09 1.2 0.18 1.2 0.48 0.8 0.52 0.91 0.91 0.69 1.05 0.55 1.35 0.25 1.2 0.05 1.2-0.15 1.2-0.37 1.2-0.64 1.2-0.89 1.05-0.8 0.65-1.2 0.64-1.2 0.34-1.2 0.08-1.2-0.17-1.2-0.43-1.2-0.76-0.8-0.78-0.73-1.02-0.54-1.2-0.29-1.2-0.07-1.2 0.14-1.2 0.36-1.2 0.64-1.2 0.89-1.06 0.8-0.66 1.2-0.67 1.2-0.37zM86.64 85.6l1.36-0.14 1.6 0.2 1.2 0.42 1.2 0.71 0.92 0.81 0.93 1.2 0.6 1.2 0.36 1.2 0.16 1.2-0.09 1.6-0.43 1.6-0.6 1.2-0.93 1.2-0.92 0.81-1.2 0.71-1.46 0.48-1.34 0.14-1.6-0.2-1.2-0.42-1.2-0.71-0.92-0.81-0.93-1.2-0.6-1.2-0.36-1.2-0.16-1.2 0.09-1.6 0.43-1.6 0.59-1.2 0.93-1.2 0.93-0.82 1.2-0.71 1.2-0.42z"/><path fill="#2ec4a5" d="M20.6 16.8l1.4-0.23 1.2 0.19 1.2 0.51 2.8 1.77 1.6 0.74 1.6 0.44 5.6 0.98 2 0.62 1.6 0.73 1.08 0.65 1.05 0.8 0.81 0.8 0.91 1.2 0.43 0.8 0.43 1.2 0.16 0.8 0.04 1.2-0.19 1.2-0.26 0.8-0.87 1.6-1.46 1.6-1.67 1.2-2.46 1.12-2.4 0.61-2.8 0.27-5.2-0.03-1.2 0.19-0.69 0.24-0.91 0.59-0.57 0.61-1.8 2.8-0.91 1.2-1.12 1.02-1.2 0.69-1.2 0.34-1.6-0.02-1.2-0.37-1.2-0.76-0.86-0.9-0.74-1.24-0.48-1.56-0.11-1.6 0.37-2 0.5-1.2 0.47-0.8 1.25-1.53 3.05-2.87 0.58-0.8 0.41-0.8 0.47-1.6 0.13-1.6-0.07-1.2-0.5-3.6 0.06-1.6 0.36-1.2 0.48-0.8 0.63-0.64 0.8-0.48zM59.34 38.4l1.06-0.26 0.8-0.03 1.2 0.21 0.8 0.33 0.84 0.55 0.79 0.8 0.52 0.8 0.48 1.2 0.17 0.92 0 1.08-0.28 1.2-0.37 0.8-0.56 0.8-0.79 0.74-0.8 0.5-0.8 0.33-0.8 0.18-1.2 0.05-1.07-0.2-0.93-0.38-0.8-0.56-0.62-0.66-0.49-0.8-0.31-0.8-0.18-0.85-0.04-1.15 0.19-1.2 0.28-0.8 0.43-0.8 0.74-0.9 0.8-0.64 0.8-0.41zM79.2 45.2l1.2-0.21 1.2 0.02 1.2 0.27 1.2 0.56 1.2 0.92 0.72 0.84 0.68 1.2 0.41 1.2 0.17 1.2-0.03 1.2-0.25 1.2-0.5 1.23-0.79 1.17-0.81 0.81-1.2 0.8-1.2 0.48-1.2 0.23-1.2-0.01-1.2-0.25-1.2-0.55-0.8-0.6-0.83-0.91-0.73-1.2-0.46-1.2-0.28-1.6 0.01-1.2 0.23-1.2 0.46-1.16 0.8-1.19 0.8-0.79 0.8-0.57 1.2-0.56zM40.74 49.6l2.06-0.23 2 0.11 2 0.45 1.6 0.69 1.4 0.98 1 1.17 0.61 1.23 0.36 1.6-0.01 1.6-0.45 2-0.75 1.6-1.14 1.6-1.42 1.39-1.6 1.14-2 0.98-2 0.61-2 0.27-2-0.05-2-0.43-1.6-0.69-1.2-0.82-1.2-1.26-0.85-1.54-0.41-1.6-0.02-1.6 0.47-2 0.78-1.6 1.19-1.6 1.64-1.52 1.6-1.05 1.6-0.75 2-0.61zM68.93 64.8l1.47-0.2 1.2 0.12 1.2 0.4 0.8 0.46 0.91 0.82 0.69 0.93 0.52 1.07 0.35 1.2 0.12 1.2-0.09 1.2-0.3 1.2-0.58 1.2-0.82 1.07-0.8 0.69-0.8 0.49-1.2 0.46-1.2 0.17-1.2-0.09-1.2-0.35-0.84-0.44-1.02-0.8-0.69-0.8-0.68-1.2-0.39-1.2-0.14-1.2 0.07-1.2 0.3-1.2 0.57-1.2 0.82-1.07 0.8-0.71 0.8-0.51 1.2-0.48zM86.09 86l1.51-0.28 1.2 0.04 1.2 0.27 1.2 0.53 1.2 0.87 0.88 0.97 0.73 1.2 0.46 1.2 0.23 1.2 0 1.6-0.23 1.2-0.47 1.23-0.72 1.17-0.88 0.97-1.2 0.87-1.3 0.56-1.5 0.28-1.2-0.04-1.2-0.27-1.2-0.53-1.2-0.87-0.88-0.97-0.73-1.2-0.46-1.2-0.23-1.2 0-1.6 0.23-1.2 0.47-1.24 0.71-1.16 0.89-0.98 1.2-0.87 1.2-0.52z"/><path fill="#33c69d" d="M20.69 17.2l1.31-0.23 1.2 0.19 1.2 0.52 2.8 1.73 1.6 0.67 1.6 0.39 4.8 0.77 2.4 0.67 1.2 0.5 1.44 0.79 1.1 0.8 0.85 0.8 1.17 1.6 0.65 1.6 0.21 1.6-0.2 1.6-0.65 1.6-1.18 1.6-1.39 1.22-2.01 1.18-1.99 0.74-2.4 0.49-2.4 0.16-4.8-0.1-1.2 0.12-0.8 0.24-0.8 0.45-0.8 0.81-1.93 3.09-0.97 1.2-1.1 0.92-0.8 0.44-0.8 0.27-1.2 0.15-1.22-0.18-1.18-0.52-1.2-1.01-0.85-1.27-0.53-1.6-0.12-1.6 0.26-1.6 0.66-1.6 0.79-1.2 0.99-1.08 2.82-2.52 0.63-0.8 0.55-1.04 0.48-1.76 0.11-1.6-0.07-1.2-0.49-3.6 0.09-1.6 0.23-0.8 0.42-0.8 0.43-0.5 0.8-0.57zM59.33 38.8l1.07-0.29 0.8-0.03 0.8 0.11 0.8 0.27 0.8 0.47 0.75 0.67 0.59 0.8 0.39 0.8 0.27 1.05 0.06 0.95-0.34 1.6-0.41 0.8-0.64 0.8-0.67 0.57-0.8 0.44-0.8 0.28-0.8 0.13-1.2-0.06-0.8-0.22-0.8-0.39-0.8-0.65-0.86-1.3-0.28-0.8-0.15-1.2 0.09-1.05 0.26-0.95 0.38-0.8 0.58-0.8 0.78-0.69 0.8-0.46zM78.91 45.6l1.09-0.27 1.2-0.06 1.2 0.2 1.2 0.47 1.2 0.84 0.76 0.82 0.53 0.8 0.52 1.2 0.26 1.2 0.03 1.2-0.18 1.2-0.42 1.2-0.7 1.16-0.76 0.84-0.84 0.65-1.2 0.6-1.2 0.31-1.2 0.07-1.2-0.19-0.8-0.28-1.2-0.73-0.8-0.78-0.6-0.85-0.6-1.26-0.37-1.54-0.05-1.2 0.17-1.2 0.41-1.2 0.64-1.06 0.8-0.88 0.8-0.62 1.2-0.6zM42.32 49.6l2.08 0.04 1.83 0.36 1.77 0.69 1.37 0.91 1.1 1.2 0.64 1.2 0.4 1.6 0.01 1.6-0.33 1.6-0.66 1.6-1.05 1.6-1.48 1.53-1.6 1.16-1.6 0.84-2 0.69-2 0.34-2 0.01-1.6-0.26-1.6-0.55-1.62-0.96-1.22-1.2-0.94-1.6-0.43-1.6-0.03-1.6 0.33-1.6 0.7-1.6 1.1-1.6 1.31-1.33 1.6-1.17 1.6-0.84 2-0.69 2-0.35zM68.68 65.2l0.92-0.21 1.2-0.05 1.2 0.23 0.98 0.43 1.02 0.75 0.73 0.85 0.48 0.8 0.46 1.2 0.2 1.2-0.01 1.2-0.24 1.2-0.31 0.8-0.51 0.9-0.8 0.94-0.8 0.63-1.2 0.59-1.2 0.28-1.2-0.01-1.2-0.27-0.8-0.36-1.01-0.7-0.76-0.8-0.63-0.99-0.41-1.01-0.23-1.2 0-1.2 0.23-1.2 0.3-0.8 0.51-0.9 0.8-0.94 0.8-0.65 1.2-0.61zM87.54 86l1.26 0.03 1.2 0.29 1.2 0.55 0.99 0.73 0.76 0.8 0.77 1.2 0.47 1.2 0.28 1.6-0.09 1.6-0.32 1.2-0.56 1.2-0.7 0.98-0.8 0.78-1.2 0.79-1.2 0.45-1.16 0.2-1.24-0.04-1.2-0.28-1.2-0.55-0.99-0.73-0.76-0.8-0.77-1.2-0.47-1.2-0.25-1.2-0.03-1.2 0.17-1.2 0.39-1.2 0.71-1.27 0.8-0.94 1.2-0.92 1.2-0.56 1.2-0.28z"/><path fill="#39c895" d="M20.86 17.6l1.14-0.21 1.2 0.18 1.2 0.53 2.48 1.5 1.52 0.65 1.6 0.4 5.6 0.9 2 0.6 1.6 0.71 2 1.35 1 0.99 0.6 0.8 0.46 0.8 0.46 1.2 0.16 0.8 0.04 1.2-0.32 1.6-0.79 1.6-1.38 1.6-1.63 1.2-2.2 1.05-2.8 0.71-2.8 0.22-5.2-0.17-1.2 0.14-0.8 0.26-0.8 0.51-0.47 0.48-1.96 3.2-0.91 1.2-1.06 0.94-1.2 0.63-1.2 0.26-1.2-0.07-1.2-0.43-1.2-0.89-0.67-0.84-0.59-1.2-0.29-1.2-0.02-1.6 0.24-1.2 0.29-0.8 0.93-1.6 1.31-1.41 2.8-2.4 0.74-0.99 0.39-0.8 0.45-1.6 0.16-1.6-0.06-1.6-0.45-3.2 0.02-1.6 0.19-0.8 0.38-0.8 0.58-0.68 0.8-0.5zM59.36 39.2l1.44-0.34 0.8 0.04 1.01 0.3 0.72 0.4 0.67 0.57 0.5 0.63 0.43 0.8 0.25 0.8 0.1 0.8-0.04 0.8-0.18 0.8-0.35 0.8-0.59 0.8-0.52 0.49-0.8 0.5-0.8 0.3-0.8 0.14-0.8-0.01-0.8-0.16-0.8-0.35-0.71-0.51-0.92-1.2-0.3-0.8-0.16-0.8 0.02-1.2 0.18-0.8 0.33-0.8 0.53-0.8 0.63-0.62 0.8-0.51zM80.21 45.6l0.99-0.03 1.2 0.2 1.2 0.5 0.8 0.55 0.8 0.78 0.78 1.2 0.42 1.09 0.19 0.91 0.03 1.2-0.19 1.2-0.43 1.17-0.49 0.83-0.71 0.84-0.96 0.76-1.04 0.53-1.2 0.33-1.2 0.06-1.2-0.21-1.2-0.52-0.8-0.57-0.77-0.82-0.52-0.8-0.52-1.2-0.27-1.2-0.05-1.2 0.18-1.2 0.35-0.99 0.58-1.01 0.69-0.8 1.04-0.8 0.89-0.45 1.2-0.32zM40.76 50l1.64-0.21 2 0.06 2 0.43 1.6 0.69 1.42 1.03 0.98 1.19 0.57 1.21 0.32 1.6-0.07 1.6-0.4 1.6-0.76 1.6-1.19 1.6-1.27 1.2-1.6 1.11-1.6 0.78-2 0.62-2 0.28-2-0.07-1.6-0.34-1.6-0.66-1.34-0.92-1.1-1.2-0.68-1.2-0.44-1.6-0.04-1.6 0.33-1.6 0.7-1.6 1.13-1.6 1.44-1.41 1.6-1.1 1.6-0.79 2-0.62zM68.49 65.6l1.11-0.29 0.8-0.05 1.2 0.15 0.8 0.27 0.8 0.45 0.8 0.68 0.62 0.79 0.6 1.2 0.3 1.2 0.07 1.2-0.17 1.2-0.26 0.8-0.66 1.2-0.7 0.8-1 0.75-0.8 0.38-0.8 0.23-1.2 0.09-1.2-0.19-0.8-0.3-0.92-0.56-0.86-0.8-0.62-0.88-0.5-1.12-0.25-1.2 0-1.2 0.25-1.2 0.32-0.8 0.48-0.8 0.69-0.8 1.01-0.78 0.8-0.39zM86.7 86.4l1.3-0.15 1.2 0.13 1.2 0.38 1.2 0.7 0.8 0.72 0.8 1.03 0.59 1.19 0.33 1.2 0.1 1.2-0.1 1.2-0.33 1.2-0.59 1.2-0.8 1.02-0.8 0.72-1.2 0.7-1.11 0.36-1.29 0.14-1.2-0.12-1.2-0.38-0.82-0.44-1.01-0.8-0.69-0.8-0.7-1.2-0.41-1.2-0.18-1.2 0.04-1.2 0.24-1.2 0.5-1.2 0.82-1.2 0.83-0.8 0.98-0.65 1.2-0.48z"/><path fill="#40ca8d" d="M21.02 18l0.98-0.2 1.2 0.17 1.2 0.53 2.61 1.5 1.79 0.63 6 0.95 2.4 0.63 2.4 1.12 0.99 0.67 1.01 0.89 1.17 1.51 0.68 1.6 0.22 1.6-0.22 1.6-0.68 1.6-1.17 1.51-1.56 1.29-1.64 0.9-2.4 0.82-2.4 0.39-2.4 0.07-4.4-0.23-1.2 0.08-0.8 0.2-0.8 0.41-0.8 0.8-1.71 2.96-1.09 1.46-1.2 0.99-1.2 0.52-1.2 0.16-1.2-0.19-1.1-0.54-0.9-0.79-0.79-1.21-0.41-1.22-0.13-1.58 0.29-1.6 0.64-1.45 0.8-1.12 1.2-1.18 2.74-2.25 0.61-0.8 0.42-0.8 0.48-1.6 0.22-2-0.05-1.6-0.43-3.2 0.05-1.6 0.42-1.2 0.34-0.47 0.8-0.63zM59.37 39.6l0.63-0.24 0.8-0.13 0.8 0.05 0.8 0.22 1.2 0.78 0.47 0.52 0.47 0.8 0.27 0.8 0.11 0.8-0.04 0.8-0.21 0.8-0.68 1.2-1.19 0.98-0.8 0.33-0.8 0.14-0.8-0.01-0.8-0.19-0.8-0.39-0.57-0.46-0.82-1.2-0.26-0.8-0.1-0.8 0.04-0.8 0.19-0.8 0.72-1.31 0.71-0.69 0.49-0.32zM79.54 46l0.86-0.15 1.2 0.03 1.2 0.31 0.8 0.4 0.84 0.61 0.74 0.8 0.51 0.8 0.47 1.2 0.21 1.2-0.04 1.2-0.29 1.2-0.35 0.8-0.51 0.8-0.78 0.85-0.8 0.58-1.2 0.55-0.8 0.19-1.2 0.06-1.2-0.22-0.95-0.41-1.05-0.77-0.71-0.83-0.49-0.81-0.45-1.19-0.2-1.2 0.03-1.2 0.22-1.01 0.41-0.99 0.51-0.8 0.76-0.8 1.12-0.77 0.8-0.33zM42.08 50l1.92 0 1.6 0.26 1.6 0.55 1.6 0.96 1.03 1.03 0.72 1.2 0.46 1.6 0.04 1.6-0.31 1.6-0.68 1.6-1.09 1.6-1.17 1.2-1.63 1.2-1.77 0.9-1.6 0.54-2 0.34-2 0-1.6-0.29-1.6-0.6-1.41-0.89-1.16-1.2-0.71-1.2-0.46-1.6-0.05-1.6 0.34-1.6 0.71-1.6 1.14-1.6 1.2-1.17 1.6-1.14 1.6-0.8 1.6-0.54 2-0.34zM69.72 65.6l1.08-0.02 0.8 0.15 1.2 0.51 0.75 0.56 0.71 0.8 0.48 0.8 0.31 0.8 0.24 1.2-0.01 1.2-0.15 0.8-0.47 1.2-0.51 0.8-0.55 0.6-0.8 0.62-0.8 0.4-1.2 0.31-1.2 0-0.8-0.17-0.8-0.32-0.97-0.64-0.77-0.8-0.52-0.8-0.34-0.8-0.27-1.2 0-1.2 0.15-0.8 0.46-1.2 0.51-0.8 0.55-0.61 0.8-0.63 0.8-0.41 1.2-0.34zM86.19 86.8l1.01-0.24 1.2-0.04 1.2 0.21 1.2 0.51 1.07 0.76 0.75 0.8 0.58 0.89 0.47 1.11 0.26 1.2 0.04 1.2-0.18 1.2-0.43 1.2-0.74 1.2-0.75 0.8-1.07 0.76-1 0.44-1 0.24-1.2 0.04-1.2-0.22-1.2-0.5-1.07-0.76-0.75-0.8-0.58-0.89-0.47-1.11-0.26-1.2-0.04-1.2 0.18-1.2 0.43-1.2 0.56-0.96 0.8-0.92 0.8-0.64 1.2-0.61z"/><path fill="#48cb86" d="M21.15 18.4l0.85-0.2 1.2 0.16 1.03 0.44 2.57 1.41 1.73 0.59 5.87 0.88 2.4 0.59 2.4 1.04 1.07 0.69 0.95 0.8 1.03 1.2 0.84 1.6 0.33 1.6-0.11 1.6-0.57 1.6-0.78 1.2-1.18 1.2-1.78 1.2-2.2 0.92-2.8 0.58-2.8 0.1-4.8-0.29-1.6 0.18-0.8 0.33-0.8 0.68-0.5 0.7-1.9 3.36-0.93 1.04-1.07 0.76-1.2 0.42-1.2 0.04-1.2-0.34-1.2-0.84-0.8-1.07-0.53-1.37-0.15-1.2 0.19-1.6 0.49-1.32 1-1.48 1-0.98 2.86-2.22 0.67-0.8 0.47-0.86 0.56-1.94 0.21-2-0.04-1.6-0.39-3.2 0.02-1.2 0.18-0.8 0.26-0.57 0.8-0.84zM60.61 39.6l0.59-0.02 0.8 0.15 1.23 0.67 0.4 0.4 0.54 0.8 0.29 0.8 0.12 0.8-0.05 0.8-0.23 0.8-0.7 1.11-0.54 0.49-0.66 0.39-1.2 0.31-1.2-0.11-1.22-0.59-0.43-0.4-0.55-0.8-0.37-1.2-0.04-0.8 0.12-0.8 0.54-1.2 0.35-0.46 0.8-0.66 1.2-0.45zM79.1 46.4l0.9-0.25 1.2-0.06 1.2 0.22 0.8 0.33 0.8 0.51 0.8 0.77 0.62 0.88 0.36 0.8 0.31 1.2 0.04 1.2-0.13 0.88-0.38 1.12-0.45 0.8-0.77 0.92-0.8 0.63-0.8 0.42-0.8 0.27-1.2 0.15-1.2-0.14-0.8-0.27-0.8-0.44-0.86-0.74-0.62-0.8-0.52-1.03-0.29-0.97-0.13-1.2 0.12-1.2 0.22-0.8 0.48-0.98 0.8-1.01 0.8-0.65 0.8-0.44zM40.49 50.4l1.91-0.26 2 0.07 1.6 0.35 1.6 0.66 1.2 0.82 1.06 1.16 0.63 1.2 0.36 1.6-0.04 1.6-0.4 1.6-0.78 1.6-0.88 1.2-1.2 1.2-1.55 1.12-1.6 0.81-2 0.64-2 0.28-1.6-0.04-1.6-0.3-1.6-0.62-1.2-0.76-1.13-1.13-0.73-1.2-0.49-1.6-0.05-1.6 0.33-1.6 0.72-1.6 0.95-1.34 1.2-1.22 1.6-1.17 1.6-0.81 2-0.64zM69.08 66l0.92-0.15 1.2 0.07 0.8 0.24 0.8 0.41 0.77 0.63 0.43 0.5 0.44 0.7 0.46 1.2 0.13 0.8-0.01 1.2-0.22 1.01-0.4 0.94-0.59 0.85-0.61 0.6-0.8 0.54-0.8 0.34-0.8 0.18-1.2 0-0.8-0.18-0.8-0.34-0.8-0.54-0.8-0.84-0.57-0.96-0.29-0.8-0.15-0.8 0-1.2 0.21-1 0.4-0.95 0.58-0.85 0.62-0.62 0.8-0.55 0.8-0.35zM87.14 86.8l1.26-0.05 1.2 0.22 1.2 0.53 0.73 0.5 0.81 0.8 0.56 0.8 0.54 1.2 0.28 1.2 0.04 1.2-0.2 1.2-0.36 1.02-0.56 0.98-0.67 0.8-1 0.8-0.97 0.49-1.15 0.31-0.85 0.07-1.2-0.13-1.01-0.34-0.99-0.55-0.8-0.68-0.8-1.01-0.5-0.96-0.35-1.2-0.12-1.2 0.11-1.2 0.36-1.2 0.5-0.97 0.8-1.01 0.8-0.67 0.98-0.55 1.02-0.34z"/><path fill="#51cc7f" d="M21.32 18.8l0.68-0.18 1.2 0.13 3.39 1.65 1.81 0.59 5.6 0.78 2.68 0.63 1.32 0.5 1.35 0.7 1.14 0.8 0.86 0.8 0.93 1.2 0.71 1.6 0.23 1.6-0.22 1.6-0.72 1.6-1.08 1.36-1.6 1.28-1.6 0.86-2.4 0.77-2.4 0.34-2.4 0.02-4.8-0.36-1.6 0.21-0.8 0.38-0.75 0.74-2.24 4-1.01 1.1-0.8 0.56-1.2 0.44-1.2 0.04-1.2-0.37-1.2-0.91-0.61-0.86-0.47-1.2-0.16-1.2 0.2-1.6 0.64-1.54 0.8-1.1 1.2-1.11 2.56-1.85 0.74-0.8 0.46-0.8 0.53-1.6 0.33-2.4 0-2-0.34-3.2 0.05-1.2 0.45-1.2 0.82-0.75zM60.31 40l1.29-0.02 1.2 0.53 0.4 0.33 0.58 0.76 0.42 1.2-0.02 1.2-0.47 1.2-0.91 0.96-1.2 0.53-1.2 0.03-1.2-0.47-0.8-0.75-0.54-1.1-0.13-1.2 0.27-1.21 0.8-1.17 0.54-0.42 0.66-0.31zM79.96 46.4l0.84-0.09 1.2 0.13 0.8 0.27 0.8 0.44 0.8 0.67 0.49 0.58 0.48 0.8 0.42 1.2 0.12 0.8-0.05 1.2-0.26 1.05-0.44 0.95-0.58 0.8-0.88 0.8-0.9 0.51-0.8 0.28-1.2 0.16-0.8-0.07-1.2-0.37-0.8-0.47-1.2-1.24-0.45-0.8-0.41-1.2-0.13-1.2 0.05-0.8 0.31-1.2 0.39-0.8 0.64-0.85 0.8-0.71 0.8-0.47 0.8-0.29zM41.29 50.4l1.91-0.12 1.6 0.15 1.6 0.44 1.49 0.73 1.03 0.8 0.96 1.2 0.54 1.2 0.28 1.6-0.13 1.6-0.49 1.6-0.88 1.57-1.01 1.23-1.39 1.21-1.6 0.99-1.6 0.68-2 0.5-2 0.13-1.6-0.17-1.6-0.46-1.2-0.61-1.34-1.07-0.91-1.2-0.52-1.2-0.27-1.6 0.14-1.6 0.52-1.6 0.95-1.6 1.03-1.19 1.2-1.02 1.6-1 1.6-0.68 2-0.5zM68.68 66.4l0.92-0.25 0.8-0.05 0.8 0.09 0.8 0.25 0.8 0.45 0.79 0.71 0.56 0.8 0.37 0.8 0.21 0.8 0.08 1.2-0.33 1.6-0.39 0.8-0.61 0.8-0.68 0.6-0.8 0.46-0.8 0.27-1.2 0.11-0.8-0.12-0.8-0.27-0.8-0.46-0.67-0.59-0.61-0.8-0.39-0.8-0.33-1.6 0.1-1.2 0.23-0.8 0.38-0.8 0.6-0.8 0.69-0.61 0.8-0.47zM86.37 87.2l1.23-0.24 1.2 0.05 1.2 0.33 0.8 0.4 0.87 0.66 0.72 0.8 0.5 0.8 0.46 1.2 0.2 1.2-0.04 1.2-0.28 1.2-0.34 0.8-0.5 0.8-0.79 0.87-0.8 0.59-1.17 0.54-0.83 0.19-1.2 0.05-1.2-0.23-0.8-0.33-0.8-0.49-0.86-0.79-0.74-1.04-0.43-0.96-0.28-1.2-0.04-1.2 0.2-1.2 0.27-0.8 0.68-1.19 0.72-0.81 0.88-0.66 0.8-0.41z"/><path fill="#5acc78" d="M21.54 19.2l0.86-0.17 0.8 0.12 3.2 1.46 2 0.59 5.6 0.72 2.4 0.55 2.4 1 1.2 0.77 0.8 0.66 1.2 1.42 0.65 1.28 0.31 1.2 0 1.6-0.47 1.6-0.71 1.2-1.09 1.2-1.66 1.2-1.43 0.69-1.2 0.42-2.8 0.52-2.8 0.04-5.2-0.43-1.6 0.22-0.8 0.44-0.48 0.5-2.13 4-0.62 0.8-0.92 0.8-1.05 0.52-1.2 0.18-1.2-0.24-1.2-0.76-0.72-0.9-0.51-1.2-0.17-1.2 0.2-1.6 0.72-1.6 0.88-1.1 1.2-1.01 2.4-1.62 0.66-0.67 0.54-0.89 0.57-1.91 0.31-2.4 0.04-1.6-0.27-3.2 0.02-1.2 0.38-1.2 0.55-0.61zM60.2 40.4l0.6-0.11 0.8 0.06 1 0.45 0.78 0.8 0.47 1.2-0.02 1.2-0.23 0.68-0.31 0.52-0.89 0.8-0.8 0.32-1.2 0.03-0.8-0.28-0.8-0.65-0.57-1.02-0.16-1.2 0.3-1.2 0.55-0.8 0.46-0.4 0.62-0.33zM79.35 46.8l1.05-0.23 0.8-0.02 1.2 0.25 0.8 0.36 0.8 0.58 0.62 0.66 0.51 0.8 0.33 0.8 0.18 0.8 0.05 1.2-0.12 0.8-0.37 1.05-0.58 0.95-0.62 0.67-0.8 0.59-0.8 0.37-0.8 0.21-1.2 0.05-0.8-0.14-0.8-0.3-0.8-0.5-0.8-0.8-0.6-0.95-0.32-0.8-0.19-0.8-0.04-1.2 0.37-1.6 0.41-0.8 0.77-0.93 0.8-0.62 0.8-0.4zM40.03 50.8l1.97-0.34 1.6-0.02 1.6 0.23 1.6 0.53 1.37 0.8 1.03 0.97 0.8 1.26 0.43 1.37 0.08 1.6-0.31 1.6-0.69 1.6-0.81 1.2-1.13 1.2-1.57 1.19-1.6 0.84-1.6 0.56-2 0.35-1.6 0.01-1.6-0.25-1.6-0.57-1.47-0.93-0.93-0.95-0.8-1.34-0.39-1.31-0.09-1.2 0.24-1.6 0.63-1.6 0.81-1.27 1.2-1.31 1.3-1.02 1.5-0.85 2-0.74zM69.65 66.4l0.75-0.05 0.8 0.1 0.8 0.27 0.8 0.48 0.79 0.8 0.41 0.63 0.4 0.97 0.15 0.8 0.02 0.8-0.17 1.07-0.36 0.93-0.44 0.68-0.46 0.52-0.74 0.57-0.8 0.38-0.8 0.2-0.8 0.04-0.8-0.12-0.8-0.29-0.8-0.49-0.7-0.69-0.5-0.74-0.36-0.86-0.17-0.8-0.03-0.8 0.16-1.05 0.36-0.95 0.44-0.69 0.45-0.51 0.75-0.58 0.8-0.4 0.8-0.21zM87.28 87.2l1.12-0.04 0.8 0.13 1.2 0.45 0.8 0.52 0.8 0.77 0.67 0.97 0.35 0.8 0.3 1.2 0.04 1.2-0.11 0.8-0.39 1.2-0.46 0.84-0.8 0.95-0.8 0.63-0.8 0.43-1.29 0.35-1.11 0.04-0.8-0.13-1.2-0.46-0.8-0.51-0.8-0.77-0.67-0.97-0.35-0.8-0.3-1.2-0.04-1.2 0.11-0.8 0.38-1.2 0.47-0.85 0.8-0.95 0.8-0.63 0.8-0.42 1.2-0.34z"/><path fill="#62cd70" d="M21.9 19.6l0.5-0.1 0.8 0.08 3.2 1.31 1.6 0.44 5.6 0.68 2.4 0.5 1.6 0.56 1.1 0.53 1.24 0.8 0.92 0.8 0.97 1.2 0.75 1.6 0.24 1.6-0.24 1.6-0.75 1.6-0.97 1.2-1.26 1.05-1.6 0.9-2.4 0.82-2.8 0.37-2.4-0.04-4.8-0.5-1.6 0.1-0.8 0.32-0.64 0.58-0.49 0.8-1.08 2.4-0.59 1.04-0.78 0.96-0.82 0.66-1.2 0.49-1.2 0.04-1.14-0.39-0.86-0.68-0.65-0.92-0.42-1.2-0.08-1.2 0.2-1.2 0.55-1.26 0.87-1.14 1.13-0.97 2.8-1.78 0.46-0.45 0.51-0.8 0.52-1.6 0.42-2.8 0.08-2-0.17-3.2 0.07-1.2 0.28-0.8 0.63-0.66zM60.22 40.8l0.98-0.12 0.8 0.21 0.8 0.58 0.56 0.93 0.15 1.2-0.2 0.8-0.51 0.8-0.8 0.57-0.99 0.23-1.01-0.19-0.8-0.53-0.57-0.88-0.18-0.8 0.17-1.2 0.58-0.95 0.8-0.57zM80.35 46.8l0.85-0.02 0.8 0.13 0.8 0.3 0.8 0.49 0.73 0.7 0.47 0.66 0.43 0.94 0.19 0.8 0.05 1.2-0.13 0.8-0.26 0.8-0.44 0.8-0.64 0.77-0.8 0.62-0.8 0.4-0.8 0.22-0.8 0.07-0.82-0.08-0.78-0.23-1.01-0.57-0.82-0.8-0.52-0.8-0.53-1.6-0.05-1.2 0.12-0.8 0.27-0.8 0.44-0.8 0.5-0.61 0.8-0.67 0.8-0.42 0.8-0.24zM40.61 50.8l1.79-0.23 1.6 0.04 1.6 0.32 1.6 0.65 1.2 0.82 1.05 1.2 0.59 1.2 0.28 1.2 0.03 1.2-0.31 1.6-0.7 1.6-0.94 1.34-1.2 1.2-1.47 1.06-1.73 0.85-1.6 0.5-2 0.27-1.6-0.05-1.6-0.33-1.6-0.69-1.2-0.88-0.8-0.89-0.67-1.18-0.41-1.6-0.02-1.2 0.34-1.6 0.74-1.6 0.87-1.2 1.21-1.2 1.54-1.08 1.6-0.78 1.6-0.49zM69.06 66.8l1.34-0.19 0.8 0.11 0.8 0.29 0.8 0.53 0.47 0.46 0.54 0.8 0.33 0.8 0.17 0.8 0.03 0.8-0.12 0.8-0.26 0.8-0.77 1.2-0.79 0.67-0.8 0.41-0.8 0.21-0.8 0.04-0.8-0.12-0.8-0.31-1.2-0.92-0.55-0.78-0.35-0.8-0.19-0.8-0.03-0.8 0.11-0.8 0.25-0.8 0.45-0.8 0.71-0.79 1.2-0.72zM86.45 87.6l1.15-0.23 0.8 0 1.14 0.23 0.86 0.37 0.8 0.55 0.8 0.82 0.65 1.06 0.3 0.8 0.17 0.8 0.05 1.2-0.22 1.2-0.3 0.8-0.46 0.8-0.67 0.8-1.07 0.8-0.91 0.4-1.14 0.23-0.8 0-1.14-0.23-0.86-0.37-0.8-0.55-0.8-0.82-0.65-1.06-0.3-0.8-0.17-0.8-0.05-1.2 0.22-1.2 0.3-0.8 0.46-0.8 0.67-0.8 1.07-0.8 0.85-0.38z"/><path fill="#6bcd69" d="M21.67 20.4l0.73-0.36 0.8 0.01 2.8 0.99 1.6 0.42 5.6 0.64 2 0.36 2.4 0.77 2.07 1.17 1.33 1.2 0.86 1.2 0.52 1.2 0.23 1.2-0.12 1.6-0.42 1.2-0.74 1.2-0.93 1-1.33 1-1.47 0.76-1.6 0.55-1.6 0.34-1.6 0.15-2-0.03-6-0.66-0.8 0.04-0.8 0.2-0.8 0.58-0.33 0.47-1.57 3.6-0.52 0.8-0.78 0.84-0.8 0.53-1.2 0.36-1.2-0.12-0.86-0.41-0.83-0.8-0.62-1.2-0.2-1.2 0.22-1.6 0.55-1.2 0.94-1.16 1.2-0.93 2.66-1.51 0.54-0.51 0.43-0.69 0.48-1.6 0.41-2.8 0.15-2.4-0.06-2.8 0.07-1.2 0.12-0.46 0.4-0.68zM60.38 41.2l0.82-0.08 0.8 0.26 0.4 0.29 0.51 0.73 0.19 0.8-0.1 0.8-0.43 0.8-0.57 0.48-0.8 0.27-0.8-0.06-0.8-0.44-0.5-0.65-0.23-0.8 0.06-0.8 0.37-0.8 0.7-0.63zM79.59 47.2l0.81-0.17 0.8-0.02 0.8 0.14 0.8 0.31 1.24 0.94 0.58 0.8 0.37 0.8 0.21 0.8 0.05 1.2-0.13 0.8-0.28 0.8-0.84 1.25-0.8 0.67-0.8 0.42-0.8 0.23-0.8 0.07-0.8-0.08-0.8-0.25-0.8-0.45-0.73-0.66-0.57-0.8-0.35-0.8-0.2-0.8-0.06-1.2 0.14-0.8 0.28-0.8 0.47-0.8 0.62-0.68 1.2-0.77zM41.36 50.8l1.84-0.1 1.6 0.18 1.6 0.49 1.2 0.63 0.98 0.8 0.91 1.2 0.5 1.2 0.21 1.6-0.21 1.6-0.41 1.2-0.93 1.6-1.05 1.2-1.2 1-1.6 0.96-1.6 0.64-1.6 0.37-1.6 0.13-1.6-0.13-1.6-0.42-1.2-0.58-1.2-0.92-0.86-1.05-0.58-1.2-0.31-1.6 0.06-1.2 0.43-1.6 0.86-1.58 1-1.22 1.39-1.2 1.29-0.8 1.92-0.8 1.6-0.38zM68.73 67.2l1.27-0.32 0.8 0.03 0.8 0.21 1.2 0.77 0.46 0.51 0.46 0.8 0.27 0.8 0.1 0.8-0.04 0.8-0.2 0.8-0.65 1.2-0.4 0.43-0.8 0.59-0.8 0.32-0.8 0.14-0.8-0.05-0.8-0.22-1.2-0.78-0.88-1.23-0.28-0.8-0.12-0.8 0.04-0.8 0.19-0.8 0.65-1.2 0.4-0.44 0.8-0.6zM87.36 87.6l1.04-0.03 0.8 0.14 0.8 0.28 0.8 0.47 0.8 0.71 0.61 0.83 0.4 0.8 0.32 1.2 0.04 1.2-0.12 0.8-0.42 1.2-0.48 0.8-0.72 0.8-0.83 0.6-0.8 0.37-0.96 0.23-1.04 0.03-0.8-0.14-0.8-0.28-0.8-0.47-0.8-0.71-0.61-0.83-0.4-0.8-0.32-1.2-0.04-1.2 0.11-0.8 0.42-1.2 0.44-0.73 0.77-0.87 0.51-0.4 0.72-0.41 1.2-0.37z"/><path fill="#74cc62" d="M22.2 20.8l0.6-0.22 0.8 0.04 4 1.06 5.2 0.52 2 0.31 1.6 0.42 1.2 0.46 2 1.16 1.17 1.05 0.89 1.2 0.53 1.2 0.24 1.6-0.14 1.2-0.42 1.2-0.76 1.2-1.19 1.2-1.14 0.8-1.67 0.8-1.51 0.47-2 0.33-1.6 0.07-1.6-0.07-6-0.79-0.8 0.01-0.8 0.18-0.4 0.23-0.61 0.77-1.37 3.6-0.47 0.8-0.75 0.88-1.09 0.72-0.91 0.24-1.2-0.13-0.8-0.41-0.84-0.9-0.51-1.2-0.1-1.2 0.22-1.2 0.6-1.2 1.03-1.16 1.2-0.81 2.55-1.23 0.65-0.59 0.34-0.61 0.41-1.6 0.37-2.8 0.21-2.4 0.11-3.6 0.17-0.8 0.39-0.64zM59.97 42l0.83-0.36 0.8 0.12 0.41 0.24 0.39 0.49 0.2 0.71-0.12 0.8-0.24 0.4-0.45 0.4-0.59 0.22-0.8-0.09-0.4-0.22-0.4-0.46-0.22-0.65 0.07-0.8 0.17-0.4zM79.19 47.6l0.81-0.27 0.8-0.1 0.8 0.07 0.8 0.23 0.8 0.44 0.52 0.43 0.87 1.2 0.3 0.8 0.14 0.8 0 0.8-0.14 0.8-0.3 0.8-0.5 0.8-0.49 0.52-0.8 0.58-0.8 0.33-0.8 0.16-0.8 0-0.8-0.18-1.2-0.64-0.76-0.77-0.44-0.7-0.34-0.9-0.14-0.8 0-0.8 0.14-0.8 0.3-0.8 0.44-0.71 0.43-0.49 0.77-0.59zM40.05 51.2l1.55-0.3 1.6-0.07 1.6 0.19 1.6 0.51 1.2 0.66 1.13 1.01 0.78 1.2 0.4 1.2 0.13 1.2-0.2 1.6-0.61 1.6-0.75 1.2-1.07 1.2-1.41 1.12-1.6 0.89-1.6 0.57-1.6 0.32-1.6 0.06-1.6-0.2-1.6-0.54-1.2-0.69-1.18-1.13-0.74-1.2-0.38-1.2-0.1-1.2 0.23-1.6 0.65-1.6 0.8-1.2 1.12-1.2 1.2-0.93 1.6-0.88 1.6-0.58zM69.59 67.2l1.21-0.02 1.2 0.43 0.53 0.39 0.67 0.76 0.53 1.24 0.11 0.8-0.04 0.8-0.39 1.2-0.55 0.8-0.41 0.4-1.25 0.67-0.8 0.15-0.8-0.05-1.2-0.45-0.8-0.65-0.37-0.47-0.53-1.2-0.13-0.8 0.04-0.8 0.39-1.2 0.53-0.8 0.4-0.4 0.58-0.4 0.69-0.3zM86.53 88l1.07-0.23 0.8 0 0.8 0.15 0.8 0.3 0.8 0.49 0.8 0.76 0.62 0.93 0.33 0.8 0.18 0.8 0.05 1.2-0.23 1.2-0.33 0.8-0.51 0.8-0.51 0.55-0.8 0.62-0.93 0.43-1.07 0.23-0.8 0-0.8-0.15-0.8-0.3-0.8-0.49-0.8-0.76-0.62-0.93-0.33-0.8-0.18-0.8-0.05-1.2 0.38-1.61 0.41-0.79 0.79-0.96 0.8-0.61 0.8-0.39z"/><path fill="#7ecc5b" d="M22.98 21.2l1.02-0.02 4 0.76 6 0.56 2 0.46 2 0.78 1.12 0.66 0.88 0.68 0.89 0.92 0.56 0.8 0.4 0.8 0.33 1.2 0.05 1.2-0.13 0.8-0.65 1.6-0.55 0.8-0.9 0.92-0.88 0.68-1.12 0.65-1.2 0.51-1.2 0.37-2 0.33-2 0.07-2.4-0.21-5.2-0.85-1.2-0.03-0.8 0.24-0.4 0.43-0.21 0.49-0.78 2.8-0.73 1.6-0.59 0.8-0.49 0.46-1.2 0.6-0.8 0.09-0.8-0.17-0.8-0.46-0.4-0.4-0.54-0.92-0.21-0.8-0.04-0.8 0.13-0.8 0.28-0.8 0.38-0.66 0.42-0.54 0.78-0.7 1.2-0.7 2.74-1 0.46-0.4 0.22-0.4 0.23-0.8 0.22-1.6 0.79-8.4 0.22-0.8 0.32-0.48 0.4-0.27zM60.74 42.4l0.46-0.02 0.55 0.42 0.14 0.4-0.03 0.4-0.26 0.45-0.4 0.22-0.4 0.01-0.49-0.28-0.21-0.4-0.03-0.4 0.33-0.6zM79.89 47.6l1.31-0.12 0.8 0.15 0.8 0.35 0.58 0.42 0.62 0.67 0.65 1.33 0.16 0.8 0 0.8-0.15 0.8-0.32 0.8-0.95 1.2-0.59 0.43-0.8 0.36-0.8 0.16-0.8-0.01-0.8-0.18-0.74-0.36-0.53-0.4-0.69-0.8-0.54-1.2-0.15-0.8 0-0.8 0.15-0.8 0.32-0.8 0.95-1.2 1.23-0.71zM40.58 51.2l1.82-0.24 1.6 0.06 1.6 0.36 1.2 0.5 1.2 0.82 0.84 0.9 0.66 1.2 0.32 1.2 0.05 1.2-0.3 1.6-0.72 1.6-0.85 1.19-1.2 1.18-1.2 0.86-1.6 0.81-1.6 0.52-1.6 0.25-1.64-0.01-1.56-0.28-1.6-0.66-1.2-0.85-0.89-1.01-0.62-1.2-0.29-1.2-0.03-1.2 0.33-1.6 0.54-1.2 0.96-1.39 1-1.01 1.4-1.03 1.6-0.82 1.6-0.51zM69.16 67.6l1.24-0.18 1.2 0.29 0.96 0.69 0.77 1.2 0.22 0.8 0.03 0.8-0.27 1.2-0.46 0.8-0.35 0.4-0.9 0.63-1.2 0.31-1.2-0.15-0.8-0.39-0.49-0.4-0.36-0.4-0.45-0.8-0.27-1.2 0.04-0.8 0.23-0.8 0.79-1.2 0.91-0.65zM87.41 88l0.99-0.03 0.8 0.16 0.8 0.31 0.8 0.52 0.65 0.64 0.55 0.8 0.34 0.8 0.2 0.8 0.05 1.2-0.13 0.8-0.27 0.8-0.44 0.8-0.55 0.68-0.8 0.65-0.8 0.41-1.01 0.26-0.99 0.03-0.8-0.16-0.8-0.31-0.8-0.52-0.65-0.64-0.55-0.8-0.34-0.8-0.2-0.8-0.05-1.2 0.13-0.8 0.27-0.8 0.43-0.8 0.56-0.68 0.8-0.65 0.8-0.41 0.8-0.23z"/><path fill="#87cb54" d="M22.92 22l0.68-0.29 0.8-0.02 3.2 0.42 4.4 0.29 2 0.24 1.6 0.35 1.2 0.39 1.2 0.53 1.2 0.73 1.12 0.96 0.93 1.2 0.55 1.2 0.24 1.2-0.13 1.6-0.44 1.2-0.79 1.2-1.08 1.05-1.44 0.95-1.76 0.75-2 0.48-2 0.16-2-0.07-2-0.28-4.98-1.04-1.42-0.41-0.4-0.33-0.18-0.46-0.09-1.2 0.07-2 0.7-6.8 0.27-1.2 0.43-0.71zM17.74 35.6l1.06-0.23 1.2 0.03 0.42 0.2 0.23 0.4 0.08 0.8-0.33 2.4-0.62 1.6-0.98 1.27-0.45 0.33-0.75 0.33-1.2 0.04-0.84-0.37-0.77-0.8-0.36-0.8-0.13-0.8 0.12-1.2 0.32-0.8 0.46-0.72 1.2-1.07 1.2-0.57zM79.48 48l1.32-0.29 0.8 0.07 0.69 0.22 1.17 0.8 0.8 1.2 0.25 0.8 0.08 0.8-0.19 1.25-0.33 0.75-0.47 0.66-0.59 0.54-0.61 0.37-1.2 0.33-0.8-0.01-0.8-0.2-1.2-0.76-0.47-0.53-0.44-0.8-0.31-1.2 0-0.8 0.17-0.8 0.65-1.26 0.4-0.44 0.8-0.57zM41.26 51.2l1.54-0.12 1.6 0.14 1.6 0.45 1.2 0.62 1.09 0.91 0.85 1.2 0.44 1.2 0.15 1.2-0.13 1.31-0.49 1.49-0.67 1.2-0.99 1.2-1.42 1.2-1.23 0.74-1.6 0.66-1.6 0.39-1.6 0.12-1.6-0.15-1.2-0.32-1.36-0.64-1.04-0.8-0.96-1.2-0.52-1.2-0.21-1.2 0.09-1.41 0.41-1.39 0.63-1.2 0.96-1.24 1.29-1.16 1.51-0.94 1.6-0.67 1.6-0.38zM68.95 68l1.05-0.29 1.2 0.16 0.8 0.42 0.4 0.35 0.63 0.96 0.28 1.2-0.15 1.2-0.67 1.2-0.89 0.71-1.2 0.34-1.2-0.16-0.8-0.43-0.4-0.36-0.6-0.9-0.29-1.2 0.14-1.2 0.65-1.2 0.9-0.73zM86.62 88.4l0.98-0.22 0.8 0 0.8 0.16 0.8 0.33 1.2 0.94 0.57 0.79 0.36 0.8 0.21 0.8 0.05 1.2-0.41 1.6-0.47 0.8-0.71 0.78-0.8 0.55-0.62 0.27-0.98 0.22-0.8 0-0.8-0.16-0.8-0.33-1.2-0.94-0.57-0.79-0.36-0.8-0.21-0.8-0.05-1.2 0.41-1.6 0.47-0.8 0.71-0.78 1.2-0.74z"/><path fill="#90ca4d" d="M23.49 22.4l0.51-0.19 1.2-0.06 6.8 0.4 2 0.24 1.6 0.35 1.2 0.39 1.2 0.55 1.2 0.76 1.2 1.1 0.8 1.14 0.52 1.32 0.15 1.2-0.15 1.2-0.52 1.32-0.8 1.14-1.25 1.14-1.55 0.92-1.6 0.6-2 0.42-2 0.12-2.4-0.18-2.4-0.45-2.8-0.73-1.66-0.7-0.45-0.4-0.4-0.8-0.18-1.2-0.01-1.6 0.23-2.8 0.47-3.18 0.38-1.22 0.42-0.59zM17.99 36l0.81-0.03 0.8 0.28 0.42 0.55 0.17 1.2-0.26 1.6-0.52 1.2-0.61 0.82-0.45 0.38-0.75 0.37-0.4 0.08-0.8-0.05-0.8-0.41-0.4-0.4-0.4-0.72-0.18-1.27 0.28-1.2 0.7-1.09 0.8-0.68 1.2-0.54zM80.41 48l0.79-0.02 0.8 0.18 1.09 0.64 0.51 0.55 0.4 0.65 0.33 1.2 0 0.8-0.18 0.8-0.55 1.06-0.5 0.54-0.56 0.4-0.54 0.26-0.8 0.18-1.2-0.09-0.8-0.33-0.56-0.42-0.38-0.4-0.5-0.8-0.32-1.2 0.06-1.2 0.5-1.22 0.68-0.78 0.52-0.38 1.2-0.42zM40.01 51.6l1.59-0.32 1.6-0.06 1.6 0.22 1.2 0.39 1.09 0.57 0.98 0.8 0.89 1.2 0.46 1.2 0.15 1.2-0.19 1.6-0.58 1.52-0.8 1.25-1.16 1.23-1.04 0.8-1.4 0.8-1.6 0.59-1.6 0.32-1.6 0.06-1.6-0.23-1.2-0.4-1.2-0.67-0.98-0.87-0.81-1.2-0.43-1.2-0.12-1.2 0.22-1.6 0.46-1.2 0.74-1.2 0.92-1.06 1.2-1.01 1.6-0.93 1.6-0.6zM68.85 68.4l1.15-0.37 1.2 0.17 0.8 0.49 0.7 0.91 0.31 1.2-0.16 1.2-0.45 0.84-0.8 0.72-0.8 0.32-1.2 0-0.72-0.28-0.48-0.34-0.66-0.86-0.33-1.2 0.15-1.2 0.44-0.84 0.8-0.73zM87.58 88.4l0.82 0 0.8 0.16 0.8 0.35 0.8 0.59 0.45 0.5 0.5 0.8 0.3 0.8 0.13 0.8-0.13 1.6-0.3 0.8-0.5 0.8-0.45 0.5-0.8 0.59-0.8 0.35-0.78 0.16-0.82 0-0.8-0.16-1.24-0.64-0.46-0.4-0.63-0.8-0.39-0.8-0.21-0.8 0-1.6 0.21-0.8 0.39-0.8 0.63-0.8 0.5-0.43 0.8-0.46 0.8-0.25z"/><path fill="#99c946" d="M23.95 22.8l0.85-0.24 1.2-0.06 5.2 0.15 2.4 0.22 1.6 0.31 1.6 0.51 1.2 0.56 1.2 0.79 1.03 0.96 0.83 1.2 0.47 1.2 0.13 1.6-0.25 1.2-0.58 1.2-0.98 1.2-1.05 0.85-1.6 0.88-1.6 0.56-1.6 0.31-2 0.12-2.4-0.2-2.6-0.52-2.55-0.8-1.25-0.67-0.54-0.53-0.41-0.8-0.23-1.2-0.04-1.6 0.2-2.4 0.4-2.4 0.36-1.2 0.26-0.51 0.4-0.46zM16.95 36.8l1.05-0.27 0.8 0.13 0.62 0.54 0.26 0.8-0.05 1.2-0.41 1.2-0.82 1.08-0.8 0.47-0.4 0.09-0.66-0.04-0.78-0.4-0.56-0.74-0.22-0.86 0.14-1.2 0.4-0.8 0.48-0.56 0.8-0.57zM79.92 48.4l1.28-0.14 1.2 0.39 0.8 0.63 0.67 1.12 0.21 1.2-0.21 1.2-0.27 0.58-0.47 0.62-1.13 0.76-1.2 0.22-1.2-0.27-0.98-0.71-0.73-1.2-0.21-1.2 0.21-1.2 0.42-0.8 0.34-0.4 0.95-0.67zM40.53 51.6l1.47-0.23 1.6 0.02 1.6 0.31 1.2 0.48 1.2 0.8 0.8 0.85 0.57 0.97 0.36 1.2 0.08 1.2-0.3 1.6-0.51 1.2-0.8 1.2-1 1.06-1.23 0.94-1.57 0.84-1.6 0.53-1.6 0.25-1.6-0.02-1.6-0.32-1.17-0.48-1.18-0.8-0.76-0.8-0.69-1.2-0.33-1.2-0.04-1.2 0.33-1.6 0.56-1.2 0.84-1.2 1.24-1.2 1.14-0.8 1.26-0.64 1.6-0.53zM69.87 68.4l0.93 0.04 0.8 0.37 0.72 0.79 0.3 0.8-0.01 1.2-0.32 0.8-0.69 0.75-0.8 0.37-0.8 0.08-1.12-0.4-0.76-0.8-0.32-0.8-0.01-1.2 0.32-0.8 0.69-0.76 0.8-0.39zM86.79 88.8l0.81-0.18 0.8 0.01 0.8 0.17 0.8 0.37 0.58 0.43 0.62 0.7 0.62 1.3 0.15 0.8 0 0.8-0.15 0.8-0.31 0.8-0.93 1.2-0.58 0.43-0.79 0.37-0.81 0.17-0.8 0-1.2-0.33-1.2-0.85-0.47-0.59-0.42-0.8-0.23-0.8-0.07-0.8 0.07-0.8 0.23-0.8 0.42-0.8 0.47-0.59 1.2-0.85z"/><path fill="#a2c83f" d="M25.99 22.8l6.01 0.05 2 0.23 1.6 0.36 1.6 0.58 1.6 0.92 1.2 1.06 0.85 1.2 0.48 1.2 0.14 1.6-0.42 1.6-0.72 1.2-1.19 1.2-1.54 0.98-2 0.76-2 0.36-1.6 0.07-1.6-0.09-3.2-0.62-1.6-0.5-1.29-0.56-0.71-0.45-0.69-0.75-0.49-1.2-0.17-1.6 0.13-2.4 0.43-2.4 0.39-1.16 0.54-0.84 0.66-0.47 1.2-0.3zM17.4 37.2l0.79 0 0.61 0.36 0.25 0.44 0.14 0.8-0.26 1.2-0.47 0.8-0.46 0.43-0.8 0.32-0.8-0.12-0.4-0.25-0.5-0.78-0.1-0.8 0.17-0.8 0.43-0.73 0.51-0.47 0.69-0.36zM79.72 48.8l1.08-0.25 1.2 0.22 0.8 0.53 0.4 0.45 0.37 0.65 0.23 1.2-0.23 1.2-0.37 0.66-0.4 0.45-0.8 0.53-1.2 0.24-1.14-0.28-0.86-0.64-0.6-0.96-0.23-1.2 0.23-1.2 0.6-0.93 0.8-0.61zM41.19 51.6l1.61-0.12 1.36 0.12 1.44 0.39 1.2 0.59 1.2 1.02 0.58 0.8 0.5 1.2 0.17 1.2-0.09 1.2-0.35 1.2-0.61 1.2-0.92 1.2-1.28 1.15-1.2 0.76-1.2 0.55-1.6 0.46-1.6 0.19-1.2-0.04-1.6-0.34-1.2-0.52-1.2-0.87-0.8-0.94-0.57-1.2-0.24-1.2 0.03-1.2 0.46-1.6 0.65-1.2 0.87-1.08 1.2-1.07 1.2-0.76 1.2-0.55 1.6-0.47zM69.89 68.8l0.91 0.06 0.65 0.34 0.55 0.63 0.23 0.57 0.07 0.8-0.23 0.8-0.47 0.64-0.8 0.47-0.8 0.09-0.8-0.27-0.61-0.53-0.4-0.8-0.08-0.8 0.22-0.8 0.47-0.65 0.8-0.48zM86.42 89.2l0.78-0.27 0.8-0.09 1.2 0.21 0.8 0.39 0.66 0.56 0.78 1.2 0.31 1.2 0 0.8-0.16 0.8-0.34 0.8-0.45 0.65-0.58 0.55-0.64 0.4-0.78 0.27-0.8 0.09-1.2-0.21-0.8-0.39-0.66-0.56-0.78-1.2-0.31-1.2 0-0.8 0.16-0.8 0.34-0.8 0.45-0.65 0.58-0.55 0.62-0.39z"/><path fill="#acc739" d="M25.54 23.2l2.06-0.22 3.2-0.03 2 0.12 2 0.32 1.6 0.47 1.6 0.76 1.2 0.86 0.9 0.92 0.74 1.2 0.37 1.2 0 1.6-0.41 1.27-0.8 1.24-1.2 1.14-1.6 0.94-1.68 0.61-1.52 0.31-1.6 0.11-1.6-0.06-2-0.3-1.81-0.46-1.79-0.68-0.94-0.52-0.87-0.8-0.59-1.15-0.24-1.25-0.03-1.6 0.23-2 0.39-1.6 0.45-1.06 0.8-0.88 0.8-0.37zM17.15 38l0.45-0.06 0.4 0.11 0.35 0.35 0.14 0.4-0.04 0.8-0.16 0.4-0.29 0.43-0.4 0.31-0.4 0.14-0.53-0.08-0.47-0.4-0.18-0.4 0.02-0.8 0.36-0.67 0.4-0.36zM79.68 49.2l1.12-0.31 0.8 0.1 0.5 0.21 0.53 0.4 0.58 0.8 0.24 0.8-0.09 1.2-0.56 1.04-0.8 0.63-1.2 0.27-0.8-0.17-0.8-0.48-0.64-0.89-0.24-0.8 0.09-1.2 0.39-0.82 0.8-0.74zM40.03 52l1.57-0.32 1.6-0.05 1.6 0.26 1.2 0.43 1.2 0.75 0.8 0.8 0.59 0.93 0.4 1.2 0.09 1.2-0.17 1.2-0.44 1.2-0.72 1.2-0.95 1.09-1.2 0.97-1.27 0.74-1.53 0.59-1.2 0.27-1.6 0.11-1.6-0.18-1.2-0.36-1.2-0.65-1.09-0.98-0.55-0.8-0.47-1.2-0.15-1.2 0.22-1.6 0.47-1.2 0.77-1.2 1.14-1.2 1.06-0.8 1.4-0.75 1.2-0.44zM69.26 69.6l0.74-0.31 0.4 0 0.77 0.31 0.37 0.4 0.19 0.4 0.08 0.8-0.21 0.66-0.4 0.48-0.4 0.24-0.8 0.11-0.72-0.29-0.39-0.4-0.2-0.4-0.09-0.8 0.2-0.66 0.4-0.49zM87.16 89.2l1.24-0.08 0.8 0.2 0.57 0.28 0.54 0.4 0.49 0.55 0.38 0.65 0.26 0.8 0.08 0.8-0.08 0.8-0.48 1.2-0.96 1.05-1.16 0.55-1.24 0.08-1.2-0.38-1.08-0.9-0.65-1.2-0.17-0.8 0-0.8 0.32-1.2 0.78-1.11 0.63-0.49 0.57-0.28z"/><path fill="#b5c533" d="M27.88 23.2l2.52-0.08 2 0.07 2 0.27 1.6 0.43 1.6 0.7 1.2 0.79 1.05 1.02 0.76 1.2 0.38 1.2 0.07 0.8-0.07 0.8-0.21 0.8-0.38 0.8-0.8 1.08-1.2 1.03-1.6 0.88-1.6 0.53-2 0.31-1.6 0.03-1.6-0.16-1.6-0.31-1.6-0.47-1.26-0.52-1.14-0.7-0.54-0.5-0.54-0.8-0.4-1.2-0.12-2 0.25-2 0.55-1.81 0.62-0.99 0.58-0.49 1.2-0.46 1.6-0.23zM79.78 49.6l1.02-0.31 0.8 0.12 0.8 0.5 0.38 0.49 0.28 0.8 0 0.8-0.27 0.8-0.79 0.82-0.8 0.29-0.8-0.03-0.8-0.38-0.61-0.7-0.28-0.8 0-0.8 0.29-0.8 0.6-0.68zM40.6 52l1.4-0.21 1.6 0.03 1.2 0.23 1.2 0.46 1.08 0.69 0.92 0.96 0.57 1.04 0.31 1.2 0 1.2-0.26 1.2-0.53 1.2-0.84 1.2-0.85 0.86-1.2 0.9-1.2 0.64-1.6 0.55-1.5 0.25-1.3 0.01-1.6-0.28-1.2-0.46-1.2-0.82-0.78-0.85-0.47-0.8-0.37-1.2-0.06-1.2 0.21-1.2 0.48-1.2 0.78-1.2 1.01-1.06 1.2-0.9 1.2-0.64 1.6-0.55zM69.5 70.4l0.5-0.35 0.4 0 0.52 0.35 0.17 0.4 0 0.4-0.29 0.51-0.4 0.21-0.4 0-0.49-0.32-0.18-0.4-0.01-0.4zM86.83 89.6l1.17-0.22 1.2 0.23 1.12 0.79 0.73 1.2 0.19 0.8 0 0.8-0.36 1.2-0.48 0.71-0.4 0.39-0.84 0.5-1.16 0.22-1.2-0.23-1.12-0.79-0.73-1.2-0.21-1.2 0.21-1.2 0.73-1.2 1.12-0.79z"/><path fill="#bec32e" d="M26.77 23.6l2.03-0.24 2.4-0.06 2 0.14 1.6 0.28 1.6 0.5 1.21 0.58 1.19 0.82 1.1 1.18 0.65 1.2 0.27 1.2 0 0.8-0.14 0.8-0.52 1.2-0.95 1.2-1.21 0.96-1.6 0.8-1.6 0.48-1.2 0.19-1.6 0.07-1.6-0.11-1.6-0.29-1.69-0.5-1.51-0.67-0.82-0.53-0.8-0.8-0.62-1.2-0.24-1.2-0.01-1.6 0.34-2 0.45-1.2 0.52-0.8 0.78-0.66 1.2-0.46zM80.06 50l0.74-0.21 0.8 0.15 0.4 0.27 0.45 0.59 0.17 0.8-0.17 0.8-0.45 0.6-0.4 0.27-0.8 0.16-0.4-0.07-0.4-0.17-0.4-0.35-0.28-0.44-0.14-0.4 0.01-0.8 0.39-0.8 0.42-0.37zM41.42 52l1.38-0.08 1.2 0.11 1.2 0.32 1.2 0.58 0.86 0.67 0.74 0.9 0.51 1.1 0.21 1.2-0.08 1.2-0.35 1.2-0.64 1.2-0.98 1.2-1.07 0.91-1.2 0.73-1.2 0.52-1.6 0.4-1.6 0.12-1.2-0.12-1.2-0.33-1.26-0.63-0.95-0.8-0.61-0.8-0.52-1.2-0.17-1.2 0.12-1.2 0.39-1.2 0.69-1.2 0.71-0.86 1.2-1.05 1.2-0.73 1.32-0.56 1.48-0.37zM86.71 90l0.49-0.19 0.8-0.12 1.2 0.26 0.8 0.56 0.73 1.09 0.23 1.2-0.23 1.2-0.47 0.8-0.97 0.8-0.89 0.28-1.2-0.09-1.08-0.59-0.65-0.8-0.4-1.2 0.07-1.2 0.46-1.01 0.8-0.8z"/><path fill="#c8c129" d="M28.65 23.6l2.15-0.11 2 0.08 1.6 0.24 1.6 0.46 1.6 0.75 1.2 0.87 0.83 0.91 0.67 1.2 0.28 1.2-0.05 1.2-0.41 1.2-0.82 1.2-1.3 1.13-1.2 0.66-1.6 0.57-1.6 0.29-1.2 0.08-1.6-0.08-1.6-0.26-1.6-0.45-1.2-0.49-1.11-0.65-0.87-0.8-0.52-0.8-0.4-1.2-0.12-1.6 0.2-1.6 0.53-1.6 0.69-1.02 0.8-0.62 1.2-0.46 1.6-0.27zM80.2 50.8l0.6-0.28 0.4 0.05 0.41 0.23 0.24 0.4 0.08 0.4-0.08 0.4-0.24 0.4-0.41 0.24-0.4 0.05-0.62-0.29-0.26-0.4-0.06-0.4 0.14-0.55zM40.26 52.4l1.34-0.26 1.6-0.04 1.2 0.19 1.2 0.42 0.87 0.49 0.91 0.8 0.62 0.9 0.42 1.1 0.11 1.2-0.16 1.2-0.45 1.2-0.72 1.14-0.8 0.89-1.2 0.96-1.2 0.68-1.2 0.45-1.2 0.29-1.6 0.1-1.2-0.13-1.2-0.34-1.2-0.63-0.8-0.67-0.59-0.74-0.55-1.2-0.18-1.2 0.12-1.2 0.39-1.2 0.71-1.2 0.9-1.03 1.2-0.97 1.2-0.67 1.2-0.46zM86.73 90.4l0.87-0.31 1.2 0.1 0.99 0.61 0.56 0.8 0.23 0.8-0.08 1.2-0.5 0.96-0.73 0.64-0.87 0.31-0.8 0-0.87-0.31-0.85-0.8-0.38-0.8-0.08-1.2 0.23-0.8 0.75-0.97z"/><path fill="#d2bf27" d="M27.77 24l1.83-0.24 2-0.06 2 0.17 1.6 0.35 1.55 0.58 1.25 0.74 0.98 0.86 0.63 0.8 0.55 1.2 0.18 1.2-0.18 1.2-0.55 1.2-1.04 1.2-1.09 0.8-1.48 0.7-1.6 0.44-1.2 0.16-1.6 0.02-1.6-0.18-1.6-0.38-1.2-0.44-1.36-0.72-0.95-0.8-0.49-0.65-0.54-1.35-0.15-1.2 0.13-1.6 0.33-1.2 0.63-1.18 0.8-0.78 0.8-0.44 1.2-0.37zM41.04 52.4l1.36-0.14 1.2 0.07 1.2 0.28 1.2 0.54 1.08 0.85 0.61 0.8 0.38 0.8 0.24 1.2-0.07 1.2-0.36 1.2-0.66 1.2-0.65 0.8-0.97 0.89-1.07 0.71-1.33 0.61-1.2 0.34-1.2 0.17-1.2-0.01-1.2-0.21-1.29-0.5-1.11-0.77-0.73-0.83-0.47-0.9-0.27-1.1 0.01-1.2 0.3-1.2 0.61-1.2 0.6-0.8 0.8-0.8 1.15-0.84 1.2-0.61 1.6-0.5zM86.95 90.8l0.65-0.25 0.8 0 0.8 0.34 0.65 0.71 0.29 0.8-0.1 1.2-0.44 0.76-0.55 0.44-0.65 0.25-0.8 0-0.8-0.34-0.65-0.71-0.29-0.8 0-0.8 0.29-0.8 0.65-0.71z"/><path fill="#dcbd29" d="M29.68 24l1.92-0.07 1.6 0.1 1.6 0.3 1.4 0.47 1.4 0.75 1.03 0.85 0.66 0.8 0.57 1.2 0.19 1.2-0.19 1.2-0.57 1.2-0.66 0.8-1.03 0.85-1.44 0.75-1.36 0.43-1.6 0.26-1.2 0.03-1.6-0.14-1.6-0.36-1.2-0.42-1.19-0.6-1.02-0.8-0.64-0.8-0.39-0.8-0.26-1.2 0.04-1.6 0.29-1.2 0.61-1.2 0.76-0.8 1-0.57 1.2-0.37 1.6-0.25zM40.18 52.8l1.42-0.29 1.2-0.05 1.2 0.15 1.2 0.38 0.8 0.42 0.8 0.64 0.61 0.75 0.53 1.2 0.15 1.2-0.09 0.85-0.35 1.15-0.68 1.2-0.67 0.8-1.1 0.95-1.2 0.71-1.2 0.48-1.2 0.29-1.6 0.1-1.2-0.15-1.2-0.38-0.8-0.43-0.91-0.77-0.59-0.8-0.47-1.2-0.1-1.2 0.21-1.2 0.51-1.2 0.53-0.8 0.72-0.8 0.97-0.8 1.13-0.66 1.2-0.49zM87.51 91.2l0.49-0.08 0.8 0.23 0.4 0.34 0.35 0.71 0 0.8-0.15 0.4-0.28 0.4-0.63 0.4-0.49 0.08-0.49-0.08-0.63-0.4-0.28-0.4-0.15-0.4 0-0.8 0.35-0.71 0.4-0.34z"/><path fill="#e5bb2d" d="M28.77 24.4l1.63-0.21 1.6-0.02 1.6 0.14 1.6 0.37 1.31 0.52 1.09 0.66 1.03 0.94 0.57 0.8 0.46 1.2 0.06 1.2-0.32 1.2-0.45 0.8-0.7 0.8-1.05 0.81-1.2 0.6-1.6 0.48-1.2 0.17-1.6 0.02-1.2-0.13-1.6-0.38-1.2-0.47-1.22-0.7-0.88-0.8-0.54-0.8-0.43-1.2-0.1-1.2 0.16-1.2 0.44-1.2 0.57-0.85 0.8-0.68 0.93-0.47 1.07-0.32zM41.02 52.8l1.38-0.14 1.2 0.09 1.2 0.32 0.8 0.37 0.8 0.57 0.71 0.79 0.43 0.8 0.29 1.2-0.01 0.8-0.26 1.2-0.58 1.2-0.59 0.8-0.81 0.8-1.18 0.83-1.2 0.57-1.2 0.35-1.2 0.17-1.2-0.03-1.2-0.23-1.09-0.46-0.91-0.64-0.53-0.56-0.5-0.8-0.36-1.2-0.04-0.8 0.21-1.2 0.52-1.2 0.7-0.98 0.8-0.8 1.2-0.85 1.2-0.57 1.2-0.36zM87.54 92.4l0.46-0.21 0.4 0.15 0.18 0.46-0.18 0.46-0.4 0.15-0.4-0.15-0.18-0.46z"/><path fill="#edba34" d="M31.02 24.4l1.38 0.01 1.6 0.2 1.2 0.31 1.2 0.49 0.97 0.59 0.9 0.8 0.6 0.8 0.48 1.2 0.07 1.2-0.18 0.8-0.64 1.2-0.74 0.8-1.06 0.76-1.2 0.56-1.2 0.34-1.6 0.21-1.2-0.01-1.6-0.22-1.2-0.34-1.2-0.5-0.8-0.49-0.83-0.71-0.6-0.8-0.46-1.2-0.11-1.2 0.17-1.2 0.5-1.2 0.63-0.8 0.7-0.55 1.2-0.55 1.2-0.3 1.6-0.19zM40.21 53.2l0.99-0.23 1.2-0.1 1.2 0.1 1.2 0.34 0.8 0.4 0.86 0.69 0.6 0.8 0.36 0.8 0.16 0.8-0.05 1.2-0.33 1.11-0.48 0.89-0.61 0.8-0.91 0.85-1.2 0.77-1.2 0.51-1.2 0.3-1.2 0.1-1.2-0.1-1.2-0.35-0.91-0.48-0.9-0.8-0.54-0.8-0.31-0.8-0.12-0.8 0.09-1.2 0.29-0.9 0.61-1.1 0.67-0.8 0.92-0.8 1-0.62 1.2-0.51z"/><path fill="#f5ba3b" d="M29.57 24.8l1.23-0.15 1.6-0.01 1.6 0.2 1.2 0.32 1.2 0.52 1.07 0.72 0.79 0.8 0.5 0.8 0.28 0.8 0.07 1.2-0.31 1.11-0.55 0.89-0.78 0.8-1.07 0.7-1.2 0.51-1.2 0.3-1.2 0.14-1.58-0.05-1.22-0.21-1.2-0.35-1.2-0.56-0.72-0.48-0.82-0.8-0.5-0.8-0.28-0.8-0.12-1.2 0.19-1.2 0.32-0.8 0.56-0.8 0.97-0.78 0.88-0.42 1.12-0.32zM41.03 53.2l0.97-0.12 1.2 0.04 1.2 0.28 0.8 0.35 0.91 0.65 0.67 0.8 0.38 0.8 0.17 0.8 0.02 0.8-0.27 1.2-0.36 0.8-0.72 1.01-0.8 0.78-0.85 0.61-1.15 0.58-1.2 0.37-1.2 0.17-1.2-0.04-1.2-0.28-0.8-0.36-0.8-0.56-0.62-0.68-0.44-0.8-0.23-0.8-0.06-0.8 0.2-1.2 0.55-1.2 0.59-0.8 0.82-0.8 1.18-0.8 0.86-0.4 1.15-0.35z"/><path fill="#fdbd3d" d="M29.16 25.2l1.24-0.23 1.2-0.09 1.6 0.09 1.2 0.22 1.2 0.41 0.8 0.4 1.08 0.8 0.68 0.8 0.41 0.8 0.19 0.8-0.07 1.2-0.3 0.8-0.54 0.8-0.86 0.8-0.99 0.6-1.2 0.46-1.2 0.26-1.2 0.08-1.2-0.06-1.2-0.22-1.2-0.39-1.2-0.63-0.65-0.5-0.71-0.8-0.42-0.8-0.26-1.2 0.11-1.2 0.27-0.8 0.49-0.8 0.77-0.72 0.8-0.47 0.8-0.31zM40.33 53.6l0.87-0.2 1.2-0.1 1.2 0.13 0.8 0.23 0.8 0.39 0.92 0.75 0.56 0.8 0.3 0.8 0.1 0.8-0.14 1.2-0.3 0.8-0.46 0.8-0.67 0.8-0.71 0.62-0.89 0.58-1.11 0.49-1.2 0.31-1.2 0.1-1.02-0.1-0.98-0.27-0.8-0.39-0.8-0.63-0.55-0.71-0.36-0.8-0.15-0.8 0.01-0.8 0.25-1.01 0.49-0.99 0.61-0.8 0.87-0.8 0.83-0.55 1.2-0.54z"/><path fill="#fec438" d="M29.3 25.6l1.1-0.24 1.2-0.12 1.2 0.04 1.2 0.19 1.2 0.37 0.8 0.38 0.86 0.58 0.76 0.8 0.45 0.8 0.21 0.8 0 0.8-0.28 0.95-0.4 0.67-0.8 0.82-0.8 0.53-1.2 0.51-2 0.36-1.2-0.02-1.2-0.18-1.2-0.38-0.95-0.46-0.65-0.46-0.73-0.74-0.47-0.8-0.24-0.8-0.01-1.2 0.22-0.8 0.45-0.8 0.78-0.78 0.69-0.42 0.91-0.37zM40.08 54l1.12-0.29 1.2-0.09 0.8 0.07 1.12 0.31 1.28 0.8 0.64 0.8 0.34 0.8 0.13 0.8-0.05 0.8-0.22 0.8-0.44 0.87-0.55 0.73-0.87 0.8-0.98 0.62-0.8 0.35-0.8 0.24-1.2 0.16-1.2-0.06-0.8-0.2-0.8-0.35-0.8-0.58-0.5-0.58-0.41-0.8-0.18-0.8 0.01-0.8 0.18-0.8 0.5-1.06 1.2-1.37 0.8-0.56 1.2-0.58z"/><path fill="#fdcb33" d="M29.46 26l0.94-0.24 1.2-0.14 2 0.14 0.96 0.24 1.04 0.44 0.8 0.53 0.65 0.63 0.51 0.8 0.23 0.8 0 0.8-0.24 0.8-0.5 0.8-0.65 0.62-0.8 0.52-0.8 0.35-0.8 0.23-1.2 0.16-2-0.14-1.2-0.35-0.8-0.37-1.29-1.02-0.52-0.8-0.27-0.8-0.05-0.8 0.15-0.8 0.38-0.79 0.4-0.49 0.8-0.63 0.8-0.39zM41.36 54l1.04-0.06 0.8 0.08 0.8 0.23 0.8 0.4 0.98 0.95 0.39 0.8 0.16 0.8-0.05 0.8-0.22 0.8-0.41 0.8-0.65 0.8-0.96 0.8-0.69 0.4-1.75 0.57-1.2 0.09-0.8-0.09-0.8-0.22-0.8-0.41-0.44-0.34-0.66-0.8-0.32-0.8-0.11-0.8 0.09-0.8 0.27-0.8 0.46-0.8 0.71-0.8 0.8-0.63 0.8-0.44 1.6-0.51z"/><path fill="#fbd22f" d="M31.93 26l1.67 0.15 0.9 0.25 0.88 0.4 0.62 0.41 0.76 0.79 0.5 1.2 0 0.8-0.27 0.8-0.57 0.8-0.42 0.38-0.65 0.42-0.93 0.4-1.62 0.3-2-0.17-1.6-0.6-0.8-0.56-0.54-0.57-0.55-1.2-0.05-0.8 0.19-0.8 0.46-0.8 0.39-0.4 0.55-0.4 0.84-0.4 1.91-0.39zM40.99 54.4l1.01-0.12 0.8 0.04 0.8 0.18 0.71 0.3 0.57 0.4 0.67 0.8 0.37 1.2-0.03 0.8-0.23 0.8-0.75 1.2-1.31 1.09-1.6 0.67-1.6 0.16-0.8-0.11-0.8-0.26-0.61-0.35-0.59-0.53-0.45-0.67-0.24-0.8-0.02-0.8 0.18-0.8 0.66-1.2 0.67-0.71 0.65-0.49 0.95-0.5 0.8-0.26z"/><path fill="#f8da2b" d="M29.99 26.8l1.61-0.36 1.6 0.07 1.6 0.49 0.8 0.51 0.51 0.49 0.29 0.42 0.28 0.78 0 0.8-0.11 0.4-0.57 0.91-1.2 0.86-1.6 0.47-1.6 0.01-1.6-0.44-1.2-0.78-0.73-1.03-0.18-1.2 0.11-0.5 0.35-0.7 0.45-0.49 0.8-0.53zM40.78 54.8l1.62-0.16 1.2 0.26 1.1 0.7 0.5 0.67 0.21 0.53 0.06 1.2-0.23 0.8-0.44 0.75-0.4 0.48-0.8 0.65-1.2 0.6-1.6 0.29-0.8-0.06-0.8-0.22-0.8-0.44-0.4-0.36-0.54-0.89-0.15-1.2 0.18-0.8 0.41-0.8 0.5-0.62 0.68-0.58 1.32-0.68z"/><path fill="#f5e227" d="M30.44 27.2l1.56-0.3 1.6 0.17 1.23 0.53 0.85 0.8 0.36 0.8 0 0.8-0.14 0.4-0.7 0.9-1.2 0.67-1.2 0.24-1.6-0.12-1.25-0.49-0.91-0.8-0.4-0.8-0.05-0.8 0.1-0.4 0.51-0.82 0.46-0.38 0.74-0.39zM40.74 55.2l1.26-0.18 1.2 0.18 0.8 0.4 0.4 0.35 0.52 0.85 0.1 1.2-0.47 1.2-0.95 1.02-1.2 0.67-0.8 0.22-0.8 0.07-1.2-0.19-1.04-0.59-0.6-0.8-0.2-1.2 0.37-1.2 0.6-0.8 0.44-0.4 1.23-0.69z"/><path fill="#f5ea24" d="M31.29 27.6l1.11-0.11 1.2 0.21 0.8 0.41 0.65 0.69 0.22 0.8-0.23 0.8-0.31 0.4-0.54 0.4-0.99 0.37-1.2 0.06-0.8-0.17-0.62-0.26-0.56-0.4-0.42-0.58-0.17-0.62 0.17-0.82 0.74-0.78 0.86-0.38zM40.94 55.6l1.06-0.13 1.2 0.27 0.87 0.66 0.39 0.8 0.05 0.4-0.11 0.78-0.42 0.82-0.82 0.8-1.16 0.56-1.2 0.17-1.2-0.27-0.69-0.46-0.51-0.8-0.09-0.4 0.04-0.8 0.34-0.8 0.91-0.96 1.2-0.6z"/><path fill="#f6f11e" d="M31.58 28.4l0.82-0.11 0.67 0.11 0.53 0.26 0.4 0.41 0.16 0.53-0.09 0.4-0.32 0.4-0.55 0.31-0.4 0.11-0.8 0-0.97-0.42-0.34-0.4-0.11-0.4 0.22-0.67 0.4-0.34zM40.3 56.4l0.9-0.33 0.8-0.06 0.8 0.19 0.78 0.6 0.29 0.8-0.11 0.8-0.49 0.8-0.47 0.42-0.8 0.41-1.2 0.15-0.8-0.18-0.59-0.4-0.45-0.8 0.02-0.8 0.39-0.8 0.63-0.61z"/><path fill="#f8f818" d="M40.94 56.8l0.66-0.13 0.78 0.13 0.5 0.4 0.19 0.4 0.02 0.4-0.29 0.71-0.8 0.63-0.8 0.19-0.4-0.02-0.69-0.31-0.31-0.4-0.1-0.4 0.22-0.8 0.35-0.4 0.53-0.34z"/></g></defs>
<rect width="550" height="655" fill="#fff"/>
<g id="panel-b" style="font-size:6.3px">
<use href="#top" transform="translate(319.60 166.80) scale(2.0640 -1.3570)"/>
<path class="b" d="M318.3 167.8H526"/><path class="b" d="M318.3 27.9V168.3"/><path class="a" d="M359.8 167.8v-2"/><path class="a" d="M401.4 167.8v-2"/><path class="a" d="M442.9 167.8v-2"/><path class="a" d="M484.5 167.8v-2"/><path class="a" d="M526 167.8v-2"/><path class="a" d="M318.3 140.5h2"/><path class="a" d="M318.3 113.1h2"/><path class="a" d="M318.3 85.8h2"/><path class="a" d="M318.3 58.4h2"/><path class="a" d="M318.3 31.1h2"/><text x="317.7" y="177.6" text-anchor="middle">0</text><text x="359.2" y="177.6" text-anchor="middle">20</text><text x="400.8" y="177.6" text-anchor="middle">40</text><text x="442.3" y="177.6" text-anchor="middle">60</text><text x="483.9" y="177.6" text-anchor="middle">80</text><text x="525.4" y="177.6" text-anchor="middle">100</text><text x="314.7" y="170.6" text-anchor="end">0</text><text x="314.7" y="143.2" text-anchor="end">20</text><text x="314.7" y="115.9" text-anchor="end">40</text><text x="314.7" y="88.5" text-anchor="end">60</text><text x="314.7" y="61.2" text-anchor="end">80</text><text x="314.7" y="33.9" text-anchor="end">100</text>
<rect x="317.8" y="164.4" width="4.4" height="4.4" fill="#f5f000" stroke="#6b6b00" stroke-width=".6"/><path d="M525.9 27.8L526.7 30L529.1 30.1L527.3 31.6L527.9 34L525.9 32.6L523.9 34L524.5 31.6L522.7 30.1L525.1 30z" fill="#f5e020" stroke="#101010" stroke-width=".6"/>
<path class="m" d="M348.2 153.6a1.7 1.7 0 1 0 3.4 0a1.7 1.7 0 1 0-3.4 0M344.3 149.8a1.7 1.7 0 1 0 3.4 0a1.7 1.7 0 1 0-3.4 0M341.5 145a1.7 1.7 0 1 0 3.4 0a1.7 1.7 0 1 0-3.4 0M340.3 139.7a1.7 1.7 0 1 0 3.4 0a1.7 1.7 0 1 0-3.4 0M338.8 134.4a1.7 1.7 0 1 0 3.4 0a1.7 1.7 0 1 0-3.4 0M341 130.1a1.7 1.7 0 1 0 3.4 0a1.7 1.7 0 1 0-3.4 0M345.1 132.2a1.7 1.7 0 1 0 3.4 0a1.7 1.7 0 1 0-3.4 0M348.4 130.5a1.7 1.7 0 1 0 3.4 0a1.7 1.7 0 1 0-3.4 0M351.8 126.1a1.7 1.7 0 1 0 3.4 0a1.7 1.7 0 1 0-3.4 0M356.5 124.1a1.7 1.7 0 1 0 3.4 0a1.7 1.7 0 1 0-3.4 0M361.9 123.2a1.7 1.7 0 1 0 3.4 0a1.7 1.7 0 1 0-3.4 0M366.3 120.5a1.7 1.7 0 1 0 3.4 0a1.7 1.7 0 1 0-3.4 0M368.8 115.7a1.7 1.7 0 1 0 3.4 0a1.7 1.7 0 1 0-3.4 0M372.4 112a1.7 1.7 0 1 0 3.4 0a1.7 1.7 0 1 0-3.4 0M377.7 110.7a1.7 1.7 0 1 0 3.4 0a1.7 1.7 0 1 0-3.4 0M380.3 106.2a1.7 1.7 0 1 0 3.4 0a1.7 1.7 0 1 0-3.4 0M384.6 103.3a1.7 1.7 0 1 0 3.4 0a1.7 1.7 0 1 0-3.4 0M389.9 101.9a1.7 1.7 0 1 0 3.4 0a1.7 1.7 0 1 0-3.4 0M395.1 100.1a1.7 1.7 0 1 0 3.4 0a1.7 1.7 0 1 0-3.4 0M400.4 98.6a1.7 1.7 0 1 0 3.4 0a1.7 1.7 0 1 0-3.4 0M405.7 96.9a1.7 1.7 0 1 0 3.4 0a1.7 1.7 0 1 0-3.4 0M410.9 95.2a1.7 1.7 0 1 0 3.4 0a1.7 1.7 0 1 0-3.4 0M416.1 93.5a1.7 1.7 0 1 0 3.4 0a1.7 1.7 0 1 0-3.4 0M421.4 91.9a1.7 1.7 0 1 0 3.4 0a1.7 1.7 0 1 0-3.4 0M426.6 90.1a1.7 1.7 0 1 0 3.4 0a1.7 1.7 0 1 0-3.4 0M431.8 88.3a1.7 1.7 0 1 0 3.4 0a1.7 1.7 0 1 0-3.4 0M436.9 86.3a1.7 1.7 0 1 0 3.4 0a1.7 1.7 0 1 0-3.4 0M442.1 84.3a1.7 1.7 0 1 0 3.4 0a1.7 1.7 0 1 0-3.4 0M447.2 82.3a1.7 1.7 0 1 0 3.4 0a1.7 1.7 0 1 0-3.4 0M452.3 80.2a1.7 1.7 0 1 0 3.4 0a1.7 1.7 0 1 0-3.4 0M457.4 78.2a1.7 1.7 0 1 0 3.4 0a1.7 1.7 0 1 0-3.4 0"/><path class="bd" stroke-opacity=".5" stroke-width="4.8" d="M459.1 78.2L470.9 72.3L482.7 66.4L494.6 59.3L504 52.2L511.1 45.1L518.2 38L522.9 33.3L525.8 31.4"/><path class="bd" stroke-width="3.2" d="M459.1 78.2L470.9 72.3L482.7 66.4L494.6 59.3L504 52.2L511.1 45.1L518.2 38L522.9 33.3L525.8 31.4"/><path class="r" d="M320.2 166.4L328 163L338 158.5L349.5 153.8L349.9 153.6L346.6 150.6L344.2 147.4L342.5 143.3L342.1 140L340.9 136.7L340.4 133.5L340.9 131L343.4 129.7L345.8 130.2L347.5 133.5L349.1 131.8L351.6 128.6L354.8 124.5L358.1 124.1L361.4 123.6L366.3 122.8L368.7 119.5L372 112.7L376.1 111.4L380.2 110.5L382.6 104.8L386.7 103.2L391.6 101.9L396.6 100.2L403.1 98.3L411.8 95.4L423.6 91.7L435.5 87.6L447.3 82.9L459.1 78.2L470.9 72.3L482.7 66.4L494.6 59.3L504 52.2L511.1 45.1L518.2 38L522.9 33.3L525.8 31.4"/><path class="bd" stroke-width="4.6" d="M320.2 166.4L328 163L338 158.5L349.5 153.8"/><path class="bd" stroke-width="4.8" d="M521.5 35L525.6 31.6"/>
<circle cx="525.8" cy="31.4" r="2.3" fill="#0000ff"/><circle cx="525.8" cy="31.5" r="0.9" fill="#ffb000"/>
</g>
<g id="panel-d" style="font-size:7.3px">
<use href="#top" transform="translate(317.30 380.70) scale(2.1200 -1.5070)"/>
<path class="b" d="M315.8 382.4H538"/><path class="a2" d="M315.8 226V382.9"/><path class="a" d="M358.5 382.4v-2"/><path class="a" d="M401.2 382.4v-2"/><path class="a" d="M443.9 382.4v-2"/><path class="a" d="M486.6 382.4v-2"/><path class="a" d="M529.3 382.4v-2"/><path class="a" d="M315.8 351.9h2"/><path class="a" d="M315.8 321.4h2"/><path class="a" d="M315.8 291h2"/><path class="a" d="M315.8 260.5h2"/><path class="a" d="M315.8 230h2"/><text x="315.2" y="393.7" text-anchor="middle">0</text><text x="357.9" y="393.7" text-anchor="middle">20</text><text x="400.6" y="393.7" text-anchor="middle">40</text><text x="443.3" y="393.7" text-anchor="middle">60</text><text x="486" y="393.7" text-anchor="middle">80</text><text x="528.7" y="393.7" text-anchor="middle">100</text><text x="311.5" y="385.5" text-anchor="end">0</text><text x="311.5" y="355" text-anchor="end">20</text><text x="311.5" y="324.6" text-anchor="end">40</text><text x="311.5" y="294.1" text-anchor="end">60</text><text x="311.5" y="263.6" text-anchor="end">80</text><text x="311.5" y="233.1" text-anchor="end">100</text>
<rect x="338.2" y="337.8" width="5.4" height="5.4" fill="#f5f000" stroke="#6b6b00" stroke-width=".6"/>
<path class="m" d="M339.3 340.5a1.7 1.7 0 1 0 3.4 0a1.7 1.7 0 1 0-3.4 0M341.7 336.5a1.7 1.7 0 1 0 3.4 0a1.7 1.7 0 1 0-3.4 0M345.8 334.7a1.7 1.7 0 1 0 3.4 0a1.7 1.7 0 1 0-3.4 0M349.9 336.6a1.7 1.7 0 1 0 3.4 0a1.7 1.7 0 1 0-3.4 0M354.3 335a1.7 1.7 0 1 0 3.4 0a1.7 1.7 0 1 0-3.4 0M358.5 332.9a1.7 1.7 0 1 0 3.4 0a1.7 1.7 0 1 0-3.4 0M362.1 330a1.7 1.7 0 1 0 3.4 0a1.7 1.7 0 1 0-3.4 0M365.9 327.3a1.7 1.7 0 1 0 3.4 0a1.7 1.7 0 1 0-3.4 0M368.5 323.4a1.7 1.7 0 1 0 3.4 0a1.7 1.7 0 1 0-3.4 0M372 320.6a1.7 1.7 0 1 0 3.4 0a1.7 1.7 0 1 0-3.4 0M376.2 318.6a1.7 1.7 0 1 0 3.4 0a1.7 1.7 0 1 0-3.4 0M380.5 316.7a1.7 1.7 0 1 0 3.4 0a1.7 1.7 0 1 0-3.4 0M384.8 314.9a1.7 1.7 0 1 0 3.4 0a1.7 1.7 0 1 0-3.4 0M389.1 313.1a1.7 1.7 0 1 0 3.4 0a1.7 1.7 0 1 0-3.4 0M393.3 311a1.7 1.7 0 1 0 3.4 0a1.7 1.7 0 1 0-3.4 0"/><path class="bd" stroke-opacity=".5" stroke-width="5.2" d="M395 311L405 307L415 304L421 302.4L427 298.4L435 292.4L445 285.6L529.3 230"/><path class="bd" stroke-width="3.6" d="M395 311L405 307L415 304L421 302.4L427 298.4L435 292.4L445 285.6L529.3 230"/><path class="r" d="M341 340.5L343 337L344.6 335.2L348 334.6L351.5 336.6L356 335L360 333L365 329L368 327L371 322L375 320L380 317.6L385 315.6L391 313L395 311L405 307L415 304L421 302.4L427 298.4L435 292.4L445 285.6L529.3 230"/>
<circle cx="341.3" cy="340" r="2.0" fill="#0000ff"/><path d="M529.5 226.5L530.3 228.8L532.8 228.9L530.8 230.5L531.5 232.8L529.5 231.5L527.4 232.8L528.1 230.5L526.1 228.9L528.6 228.8z" fill="#f8f000" stroke="#202020" stroke-width=".6"/>
</g>
<g id="panel-f" style="font-size:7.9px">
<use href="#top" transform="translate(317.80 616.30) scale(2.1560 -1.7410)"/>
<path class="b" d="M316.4 617.7H541"/><path class="a2" d="M316.4 442.2V618.2"/><path class="a" d="M359.8 617.7v-2"/><path class="a" d="M403.2 617.7v-2"/><path class="a" d="M446.6 617.7v-2"/><path class="a" d="M490 617.7v-2"/><path class="a" d="M533.4 617.7v-2"/><path class="a" d="M316.4 600.2h2"/><path class="a" d="M316.4 582.6h2"/><path class="a" d="M316.4 565.1h2"/><path class="a" d="M316.4 547.5h2"/><path class="a" d="M316.4 530h2"/><path class="a" d="M316.4 512.4h2"/><path class="a" d="M316.4 494.9h2"/><path class="a" d="M316.4 477.3h2"/><path class="a" d="M316.4 459.8h2"/><path class="a" d="M316.4 442.2h2"/><text x="315.8" y="628.8" text-anchor="middle">0</text><text x="359.2" y="628.8" text-anchor="middle">20</text><text x="402.6" y="628.8" text-anchor="middle">40</text><text x="446" y="628.8" text-anchor="middle">60</text><text x="489.4" y="628.8" text-anchor="middle">80</text><text x="532.8" y="628.8" text-anchor="middle">100</text><text x="312.6" y="621" text-anchor="end">0</text><text x="312.6" y="603.5" text-anchor="end">10</text><text x="312.6" y="585.9" text-anchor="end">20</text><text x="312.6" y="568.4" text-anchor="end">30</text><text x="312.6" y="550.8" text-anchor="end">40</text><text x="312.6" y="533.3" text-anchor="end">50</text><text x="312.6" y="515.7" text-anchor="end">60</text><text x="312.6" y="498.2" text-anchor="end">70</text><text x="312.6" y="480.6" text-anchor="end">80</text><text x="312.6" y="463.1" text-anchor="end">90</text><text x="312.6" y="445.5" text-anchor="end">100</text>
<path d="M533.5 439.2L534.3 441.4L536.7 441.5L534.9 443L535.5 445.4L533.5 444L531.5 445.4L532.1 443L530.3 441.5L532.7 441.4z" fill="#f5e020" stroke="#101010" stroke-width=".6"/>
<path class="m" d="M369 540.9a1.7 1.7 0 1 0 3.4 0a1.7 1.7 0 1 0-3.4 0M374.7 537.8a1.7 1.7 0 1 0 3.4 0a1.7 1.7 0 1 0-3.4 0M380.4 534.6a1.7 1.7 0 1 0 3.4 0a1.7 1.7 0 1 0-3.4 0M386.3 531.7a1.7 1.7 0 1 0 3.4 0a1.7 1.7 0 1 0-3.4 0M392.2 529a1.7 1.7 0 1 0 3.4 0a1.7 1.7 0 1 0-3.4 0M398.1 526.2a1.7 1.7 0 1 0 3.4 0a1.7 1.7 0 1 0-3.4 0M404.1 523.6a1.7 1.7 0 1 0 3.4 0a1.7 1.7 0 1 0-3.4 0M410.1 520.9a1.7 1.7 0 1 0 3.4 0a1.7 1.7 0 1 0-3.4 0M416 518.3a1.7 1.7 0 1 0 3.4 0a1.7 1.7 0 1 0-3.4 0M422 515.7a1.7 1.7 0 1 0 3.4 0a1.7 1.7 0 1 0-3.4 0M428 513.1a1.7 1.7 0 1 0 3.4 0a1.7 1.7 0 1 0-3.4 0M434 510.4a1.7 1.7 0 1 0 3.4 0a1.7 1.7 0 1 0-3.4 0M439.9 507.7a1.7 1.7 0 1 0 3.4 0a1.7 1.7 0 1 0-3.4 0M445.8 505a1.7 1.7 0 1 0 3.4 0a1.7 1.7 0 1 0-3.4 0M451.8 502.3a1.7 1.7 0 1 0 3.4 0a1.7 1.7 0 1 0-3.4 0M457.6 499.3a1.7 1.7 0 1 0 3.4 0a1.7 1.7 0 1 0-3.4 0M463.4 496.4a1.7 1.7 0 1 0 3.4 0a1.7 1.7 0 1 0-3.4 0M469.3 493.5a1.7 1.7 0 1 0 3.4 0a1.7 1.7 0 1 0-3.4 0M475 490.4a1.7 1.7 0 1 0 3.4 0a1.7 1.7 0 1 0-3.4 0M480.8 487.3a1.7 1.7 0 1 0 3.4 0a1.7 1.7 0 1 0-3.4 0M486.5 484.2a1.7 1.7 0 1 0 3.4 0a1.7 1.7 0 1 0-3.4 0"/><path class="bd" stroke-opacity=".5" stroke-width="4.8" d="M488.2 484.2L502 475.2L512.3 467.6L521 459L527.9 450.4L532 445.6L533.5 443.1"/><path class="bd" stroke-width="3.2" d="M488.2 484.2L502 475.2L512.3 467.6L521 459L527.9 450.4L532 445.6L533.5 443.1"/><path class="r" d="M359.2 547.6L369.7 541.5L370.7 540.9L384.5 533.3L401.8 525.3L419.1 517.7L436.4 510.1L453.6 502.2L470.9 493.5L488.2 484.2L502 475.2L512.3 467.6L521 459L527.9 450.4L532 445.6L533.5 443.1"/><path class="bd" stroke-width="4.2" d="M359.2 547.6L369.7 541.5"/><path class="bd" stroke-width="4.8" d="M530.6 448L532.4 445.2L533.4 443.4"/>
<circle cx="533.5" cy="443.2" r="2.3" fill="#0000ff"/><circle cx="533.5" cy="443.1" r="0.9" fill="#ff3000"/><circle cx="358.2" cy="548.1" r="2.2" fill="none" stroke="#7a6a10" stroke-width=".6"/>
</g>
<g id="panel-a" style="font-size:6.4px">
<path class="g" d="M32.4 122.4L32.4 38.6"/><path class="g" d="M56.3 115.9L56.3 32.1"/><path class="g" d="M80.2 109.4L80.2 25.6"/><path class="g" d="M104.1 102.8L104.1 19"/><path class="g" d="M128 96.3L128 12.5"/><path class="g" d="M151.8 89.8L151.8 6"/><path class="g" d="M32.4 122.4L151.8 89.8"/><path class="g" d="M151.8 89.8L238.5 134.5"/><path class="g" d="M32.4 105.6L151.8 73"/><path class="g" d="M151.8 73L238.5 117.7"/><path class="g" d="M32.4 88.9L151.8 56.3"/><path class="g" d="M151.8 56.3L238.5 101"/><path class="g" d="M32.4 72.1L151.8 39.5"/><path class="g" d="M151.8 39.5L238.5 84.2"/><path class="g" d="M32.4 55.4L151.8 22.8"/><path class="g" d="M151.8 22.8L238.5 67.5"/><path class="g" d="M32.4 38.6L151.8 6"/><path class="g" d="M151.8 6L238.5 50.7"/><path class="g" d="M238.5 134.5L238.5 50.7"/><path class="g" d="M195.2 112.2L195.2 28.3"/>
<g fill-rule="evenodd"><path fill="#3e28ac" d="M142.9 44l1.7 0 1 0.5 1.6 1.5 1.5 2.2 3.7 8.3 7 19.3 1.5 3.2 0.7 0.7 0.5-0.5 0-0.4 2.8-5.8 2.2-3.5 1.8-1.8 1-0.5 2 0 1 0.5 2.5 2.8 3 5.7 8.3 21.3 2.7 5.7 2.8 4.3 1.4 1.5 4 2.2 5 3.8 7 4.5 28.8 15-6.8 2-1.7 0.3-1 0.5-1.7 0.2-1 0.5-1.8 0.3-2.8 1-1.7 0.2-1 0.5-8.3 2-2.7 1-1.7 0.3-1 0.5-5.6 1.2-5.5 1.8-1.7 0.2-1 0.5-13.8 3.5-1 0.5-13 3.3-1 0.5-16.5 3.7-18.2 5.8-7 1.7-1 0.5-1.3 0-10-5.2-10.7-6.3-12.3-9-3-1.5-3-1-6-1.2-5.5-2-35.7-18.3 5.5-1.8 5.5-1.2 5.5-1.8 8.2-2 5.5-1.7 1.8-0.3 1-0.5 8.2-2 2.8-1 1.7-0.2 1-0.5 1.8-0.3 1-0.5 1.7-0.2 1-0.5 1.8-0.3 1-0.5 1.7-0.2 1-0.5 6.8-1.8 3.7-6.7 4.3-13 0.5-0.8 1.7-5.7 0.5-0.7 2.3-6.6 3-6.2 1.5-2.2 1.5-1.6 1.5-0.7 1.8 0 1.4 0.7 3.1 3.8 2.5 5 1.2 3.5 0.7 1 0.5-0.5 0.3-1.2 1.7-4 3-8.8 3-7.5 3.3-6 1.2-1.5 1-0.8 0.5 0z"/><path fill="#402bb7" d="M142.9 44l1.7 0 1 0.5 1.6 1.5 1.5 2.2 3.7 8.3 7 19.3 1.5 3.2 0.7 0.7 0.5-0.5 1.3-3.2 3-5.5 2.5-2.8 1-0.5 2 0 1 0.5 1.8 1.8 1.5 2.3 2.2 4.4 7.5 19.6 2.8 6 2.2 4 2.7 3.2 4.8 2.7 5.3 4.1 0.3 1.4-0.3 1.6-1.8 2.8-1 0.9-3.7 2.3-8.8 3.2-1.3 0.8-4.2 4.2-5.8 3.7-3 5.3-2 2-3.1 2.2-3.1 1.7-8.5 3.8-5.8 4-2.7 1.4-3.5 1.3-5.5 1.3-9.3 0.9-10.2-0.3-6.8-1-12.4-3.4-3.6-0.6-12-8.8-3-1.5-3-1-3-0.5-4-1.3 0.1-2 0.8-1.7 1.9-2.1 3.5-2.4 0.6-1-2.1-4 0-2 1-1.9 1.7-1.7 3-2 6.8-2.7 2.5-3.2 4.3-10.5 0.7-0.8 1.2-2.7 1.5-2.3 8.8-25.4 2.5-5.8 3-5.2 1.5-1.6 1.5-0.7 1.8 0 1.4 0.7 3.1 3.8 2.5 5 1.2 3.5 0.7 1 0.5-0.5 0.3-1.2 1.7-4 3-8.8 3-7.5 3.3-6 1.2-1.5 1-0.8 0.5 0z"/><path fill="#422fc1" d="M142.9 44l1.7 0 1 0.5 1.6 1.5 1.5 2.2 3.7 8.3 7 19.3 1.5 3.2 0.7 0.7 0.5-0.5 1.3-3.2 3-5.5 2.5-2.8 1-0.5 2 0 1 0.5 2.5 2.8 3.8 7.5 6.7 17.8 3.5 7.4 2 3.3 2.2 2.5 4.8 2.7 2.1 2.5 0.4 1.3-0.1 1.8-0.9 1.9-0.9 1-3.9 2.7-3 1.3-5.7 1.8-2 1-4 4.3-7.1 4.2-2.4 5.3-2.8 2.6-2.7 1.9-10.5 4.8-5 3.7-2.5 1.4-3.8 1.5-4.4 1.1-6.1 0.7-7.5 0.2-10-1.1-13.2-3.8-9.8-2-7-5.3-3-1.5-6.3-1.8-0.6-1.4-0.1-1.3 0.3-1.5 0.7-1.4 2.3-2.1 3.8-2.3 0.9-1-0.2-0.7-1.4-1.5-1-1.8-0.2-1.4 0.3-1.3 1-1.5 2-1.8 5-2.7 3.3-4 4.3-10.5 0.7-0.8 1.2-2.7 1.5-2.3 8.8-25.4 2.5-5.8 3-5.2 1.5-1.6 1.5-0.7 1.8 0 1.4 0.7 3.1 3.8 2.5 5 1.2 3.5 0.7 1 0.5-0.5 0.3-1.2 1.7-4 3-8.8 3-7.5 3.3-6 1.2-1.5 1-0.8 0.5 0z"/><path fill="#4432cb" d="M142.9 44l1.7 0 1 0.5 1.6 1.5 1.5 2.2 3.7 8.3 7 19.3 1.5 3.2 0.7 0.7 0.5-0.5 1.3-3.2 3-5.5 2.5-2.8 1-0.5 2 0 1 0.5 2.5 2.8 3.8 7.5 6.7 17.8 3.5 7.4 2.8 4.3 1.4 1.5 3.6 2.5 1.4 2 0.4 2.5-0.5 1.2-1.4 1.9-1.7 1.4-3 1.6-8 2.6-1.8 0.9-3.5 4.2-2.2 1.4-6.2 3.3-0.7 1.3-0.7 3-0.7 1-1.6 1.7-3.4 2.5-10.5 4.9-4.2 3.3-3.3 1.9-4.5 1.5-3.7 0.8-4.3 0.6-6.5 0.2-6.4-0.4-5.6-1-10.7-3.5-14.3-3.2-1-0.3-3-2.3-3-1.5-2.7-0.7-1.3-1.4-0.8-1.4-0.4-1.5 0.7-2.5 1.8-2 3.2-2.2 2.3-3.1-2.3-3.2-0.1-1 0.3-1.5 1.9-2.2 4.2-3 3-3.7 4.3-10.6 0.7-0.8 1.2-2.7 1.5-2.3 8-23.4 2.5-6.3 2.3-4.5 1.5-2.2 2.2-2.1 1.6-0.2 1.7 0.2 2 1.8 1.8 2.5 2.5 5 1.2 3.5 0.7 1 0.5-0.5 0.3-1.2 1.7-4 3-8.8 3-7.5 3.3-6 1.2-1.5 1-0.8 0.5 0z"/><path fill="#4536d4" d="M142.9 44l1.7 0 1 0.5 1.6 1.5 1.5 2.2 3.7 8.3 7 19.3 1.5 3.2 0.7 0.7 0.5-0.5 1.3-3.2 3-5.5 2.5-2.8 1-0.5 2 0 1 0.5 2.5 2.8 3.8 7.5 6.7 17.8 3.5 7.4 2.8 4.3 3.4 3 1.5 2.1 0.4 1.2-0.1 1.7-1.4 2.3-2.1 1.6-3.3 1.7-9 2.9-1 0.8-1.8 2.7-1.9 1.7-2.3 1.3-5.2 2.4-1.2 1.3-0.3 2.6-0.9 2-1.8 1.9-2.3 1.7-4.8 2.6-6.7 3-5.5 4.3-2.8 1.2-6.7 1.7-5.3 0.6-7.2-0.1-4.5-0.5-4.8-0.9-9.2-3.2-10.8-2.3-6.5-1.9-3.5-1.5-2.5-1.5-2.3-2.4-0.9-2.3 0.4-2.2 1.2-1.5 3.2-2.7 2.7-4 0-0.6-1.6-2.2-0.2-1.2 0.4-1.3 1.1-1.5 4.4-3.7 2.4-3.8 3.8-9.5 0.7-0.8 1.2-2.7 1.5-2.3 8-23.4 2.5-6.3 2.3-4.5 1.5-2.2 2.2-2.1 1.6-0.2 1.7 0.2 2 1.8 1.8 2.5 2.5 5 1.2 3.5 0.7 1 0.5-0.5 0.3-1.2 1.7-4 3-8.8 3-7.5 3.3-6 1.2-1.5 1-0.8 0.5 0z"/><path fill="#463bdd" d="M142.9 44l1.7 0 1 0.5 1.6 1.5 1.5 2.2 3.7 8.3 7 19.3 1.5 3.2 0.7 0.7 0.5-0.5 1.3-3.2 3-5.5 2.5-2.8 1-0.5 2 0 1 0.5 2.5 2.8 3.8 7.5 4.2 11.5 4.3 10.3 3.7 6.7 4.5 5 0.4 1.3-0.2 1.7-0.7 1.5-1.2 1.2-4.6 2.6-9.5 3-3 4.1-1 0.8-4.2 2.3-4.5 1.9-0.8 1.1-0.1 2.5-0.6 1.7-1.4 1.8-3.6 2.8-3.8 2-5.7 2.4-1.8 1.1-3 2.8-2.5 1.3-3.5 1.4-4.2 1-3.8 0.5-7 0.2-5-0.4-4.7-0.9-9.5-3.5-13-2.7-4.5-1.4-5.3-2.6-2.6-2.5-0.9-2.3 0.3-1.7 0.9-1.5 2.5-2.2 2.6-4 1-2-1.3-2 0.2-2 0.8-1.4 3.4-3.2 1.9-2.6 4.3-10.6 0.7-0.8 1.2-2.7 1.5-2.3 8-23.4 2.5-6.3 2.3-4.5 1.5-2.2 2.2-2.1 1.6-0.2 1.7 0.2 2 1.8 1.8 2.5 2.5 5 1.2 3.5 0.7 1 0.5-0.5 0.3-1.2 1.7-4 3-8.8 3-7.5 3.3-6 1.2-1.5 1-0.8 0.5 0z"/><path fill="#4741e5" d="M142.9 44l1.7 0 1 0.5 1.6 1.5 1.5 2.2 3.7 8.3 7 19.3 1.5 3.2 0.7 0.7 0.5-0.5 1.3-3.2 3-5.5 2.5-2.8 1-0.5 2 0 1 0.5 2.5 2.8 3.8 7.5 4.2 11.5 4.3 10.3 3.2 6 4 5 0.2 2.2-0.3 1-1.4 1.8-2 1.5-3.5 1.5-8.8 2.6-0.8 0.8-1.6 2.8-2.6 2.1-8.7 3.9-0.4 0.8 0.2 2.2-0.5 1.8-1.2 2-2.1 1.7-3 1.9-9 4.1-3 2.7-2.5 1.7-1.8 0.8-4.7 1.4-4.3 0.7-5.5 0.3-7-0.5-4-0.8-3.2-1-7.3-2.8-10.5-1.9-5.7-1.6-4.5-2.2-2.3-1.7-1-1.1-0.8-1.7 0.1-2 0.7-1.3 2.7-3 1.7-2.7 1.7-3.6-0.8-1.7 0.2-2 2.9-3.3 1.9-2.6 4.3-10.6 0.7-0.8 1.2-2.7 1.5-2.3 8-23.4 2.5-6.3 2.3-4.5 1.5-2.2 2.2-2.1 1.6-0.2 1.7 0.2 2 1.8 1.8 2.5 2.5 5 1.2 3.5 0.7 1 0.5-0.5 0.3-1.2 1.7-4 3-8.8 3-7.5 3.3-6 1.2-1.5 1-0.8 0.5 0z"/><path fill="#4747ec" d="M142.9 44l1.7 0 1 0.5 1.6 1.5 1.5 2.2 3.7 8.3 7 19.3 1.5 3.2 0.7 0.7 0.5-0.5 1.3-3.2 3-5.5 2.5-2.8 1-0.5 2 0 1 0.5 2.5 2.8 3.8 7.5 4.2 11.5 4.3 10.3 3.2 6 3 4 0.1 2.2-1.6 2.5-3 2-2 0.8-7.5 1.9-2.2 1-1.7 3-1.4 1.6-3.2 1.9-5.2 1.8-2.4 1.3-0.3 1 0.4 2.2-0.5 1.8-1 1.6-2.1 1.8-3.2 2-8.2 3.7-3.7 3.3-1.6 1-2.2 1.1-4 1.2-5.5 0.8-4.3 0.2-5.2-0.3-4.5-0.7-3.5-1-6.2-2.6-3.3-0.9-7.8-1.2-6.2-1.7-5-2.4-3-2.7-0.6-1.8 0.2-1.7 4-5.7 2.4-5-0.4-2 0.2-1.3 3.7-4.9 4.3-10.6 0.7-0.8 1.2-2.7 1.5-2.3 8-23.4 2.5-6.3 2.3-4.5 1.5-2.2 2.2-2.1 1.6-0.2 1.7 0.2 2 1.8 1.8 2.5 2.5 5 1.2 3.5 0.7 1 0.5-0.5 0.3-1.2 1.7-4 3-8.8 3-7.5 3.3-6 1.2-1.5 1-0.8 0.5 0z"/><path fill="#484ef1" d="M142.9 44l1.7 0 1 0.5 1.6 1.5 1.5 2.2 3.7 8.3 7 19.3 1.5 3.2 0.7 0.7 0.5-0.5 1.3-3.2 3-5.5 2.5-2.8 1-0.5 2 0 1 0.5 2.5 2.8 3.8 7.5 4.2 11.5 4.3 10.3 1.7 3.4 3.5 5.3 0.2 1-0.1 1.3-1.5 2.2-2.9 2-5.2 1.8-4.8 1-2 0.9-1.7 3.3-1.8 1.8-3.5 1.8-5.2 1.6-2.1 1-0.3 0.8 0.6 2.2-0.2 2.1-1.7 2.5-1.8 1.4-4.5 2.5-5.5 2.3-1.8 1.2-3.2 3.1-4.3 1.9-2.7 0.8-6.5 0.8-5 0.1-4.2-0.4-4-0.9-3-0.9-6.3-2.7-11.5-2-4-1.1-5.3-2.3-2.2-1.7-1.1-1.4-0.6-1.7 0.2-1.3 3.1-4.7 3.2-6.6 0.1-3 2.6-3.5 4.3-10.7 0.7-0.8 1.2-2.7 1.5-2.3 8-23.4 2.5-6.3 2.3-4.5 1.5-2.2 2.2-2.1 1.6-0.2 1.7 0.2 2 1.8 1.8 2.5 2.5 5 1.2 3.5 0.7 1 0.5-0.5 0.3-1.2 1.7-4 3-8.8 3-7.5 3.3-6 1.2-1.5 1-0.8 0.5 0z"/><path fill="#4755f6" d="M142.9 44l1.7 0 1 0.5 1.6 1.5 1.5 2.2 3.7 8.3 7 19.3 1.5 3.2 0.7 0.7 0.5-0.5 1.3-3.2 3-5.5 2.5-2.8 1-0.5 2 0 1 0.5 2.5 2.8 3.8 7.5 4.2 11.5 4.3 10.3 1.7 3.4 2.5 3.9 0.3 2.1-1.4 2.3-2.2 1.5-2.5 1.2-10 2.6-0.7 0.7-1.7 3.5-2.3 1.9-4 1.7-5.9 1.6-0.9 1 0.8 2.4 0.1 1.9-0.9 1.7-1.9 2-3.6 2.3-7.8 3.5-4.9 4.1-3.3 1.5-2.7 0.8-3.8 0.6-5.2 0.3-6.2-0.5-3.3-0.7-3.7-1.2-6.3-2.7-8.3-1.3-6.2-1.4-5.3-2.2-1.9-1.3-1.5-1.8-0.5-1.4 0.1-1.6 2.2-3.4 3.2-6.6 1-2.4 0.2-2 2.1-3.3 3.7-9.5 0.7-0.8 1.2-2.7 1.5-2.3 8-23.4 2.5-6.3 2.3-4.5 1.5-2.2 2.2-2.1 1.6-0.2 1.7 0.2 2 1.8 1.8 2.5 2.5 5 1.2 3.5 0.7 1 0.5-0.5 0.3-1.2 1.7-4 3-8.8 3-7.5 3.3-6 1.2-1.5 1-0.8 0.5 0z"/><path fill="#465dfa" d="M142.9 44l1.7 0 1 0.5 1.6 1.5 1.5 2.2 3.7 8.3 7 19.3 1.5 3.2 0.7 0.7 0.5-0.5 1.3-3.2 3-5.5 2.5-2.8 1-0.5 2 0 1 0.5 2.5 2.8 3.8 7.5 7.5 19.5 2.7 5.7 1.8 2.8 0.1 1.8-1.2 2-1.5 1.2-3 1.5-10 2.4-1.3 1.1-0.9 2.7-1.5 1.8-3.8 2-7.2 1.9-1.5 0.6-0.4 0.8 1.3 2.4 0.2 1.6-0.6 1.6-1.4 1.8-3.1 2.2-9 4.1-2.8 2.7-1.8 1.3-1.9 1-3 1-4 0.8-5 0.3-8-0.8-4-1-7.7-3.4-9.3-1.4-5.3-1.3-4.3-1.7-2.4-1.6-1-1.2-0.8-1.7 0.1-1.5 1.4-2.2 3.1-6.6 7-17.2 3.4-5.8 8-23.4 2.5-6.3 2.3-4.5 1.5-2.2 2.2-2.1 1.6-0.2 1.7 0.2 2 1.8 1.8 2.5 2.5 5 1.2 3.5 0.7 1 0.5-0.5 0.3-1.2 1.7-4 3-8.8 3-7.5 3.3-6 1.2-1.5 1-0.8 0.5 0z"/><path fill="#4464fd" d="M142.9 44l1.7 0 1 0.5 1.6 1.5 1.5 2.2 3.7 8.3 7 19.3 1.5 3.2 0.7 0.7 0.5-0.5 1.3-3.2 3-5.5 2.5-2.8 1-0.5 2 0 1 0.5 2.5 2.8 3.8 7.5 7.5 19.5 3.7 7.3-0.1 2-1.4 1.9-2.3 1.4-2.5 1.1-9.7 2.2-0.9 0.8-1.3 3.6-2.6 2-4.2 1.7-6 1.3-1.8 0.6-0.2 0.6 1.5 2.2 0.6 1.8-0.4 1.8-1 1.4-3.3 2.6-9.7 4.5-2.6 2.7-1.5 1-2.1 1-4 1.2-5 0.6-3.3 0-7-0.8-4.4-1.4-6.3-2.8-11.5-1.9-4.8-1.4-3.2-1.4-2.6-2.1-0.9-2.2 0.2-1.6 3.6-7 7-17.2 3.4-5.8 8-23.4 2.5-6.3 2.3-4.5 1.5-2.2 2.2-2.1 1.6-0.2 1.7 0.2 2 1.8 1.8 2.5 2.5 5 1.2 3.5 0.7 1 0.5-0.5 0.3-1.2 1.7-4 3-8.8 3-7.5 3.3-6 1.2-1.5 1-0.8 0.5 0z"/><path fill="#406cfe" d="M142.9 44l1.7 0 1 0.5 1.6 1.5 1.5 2.2 3.7 8.3 7 19.3 1.5 3.2 0.7 0.7 0.5-0.5 1.3-3.2 3-5.5 2.5-2.8 1-0.5 2 0 1 0.5 2.5 2.8 3 5.7 7.5 19.6 3.7 7.7 0 1.6-0.8 1.4-2.4 1.8-2.7 1.2-10.6 2.4-0.6 0.9-0.4 1.9-0.7 1.6-3 2.2-4 1.5-8.3 1.7 2.5 4.8-0.2 1.5-1.3 1.9-4 2.9-8.5 3.8-2.7 2.9-1.5 1-4.3 1.6-3.5 0.7-4.7 0.4-4-0.2-4-0.7-4.8-1.5-2.5-1.4-3.2-1.3-9.3-1.3-5.7-1.4-4-1.7-2.9-2.2-0.7-1.3-0.1-1.7 3.1-6.3 6.9-17.2 3.4-5.8 8-23.4 2.5-6.3 2.3-4.5 1.5-2.2 2.2-2.1 1.6-0.2 1.7 0.2 2 1.8 1.8 2.5 2.5 5 1.2 3.5 0.7 1 0.5-0.5 0.3-1.2 1.7-4 3-8.8 3-7.5 3.3-6 1.2-1.5 1-0.8 0.5 0z"/><path fill="#3a73fe" d="M142.9 44l1.7 0 1 0.5 1.6 1.5 1.5 2.2 3.7 8.3 7 19.3 1.5 3.2 0.7 0.7 0.5-0.5 1.3-3.2 3-5.5 2.5-2.8 1-0.5 2 0 1 0.5 2.5 2.8 3.8 7.5 6.7 17.8 3 6.2 0.1 1.5-0.9 1.7-4 2.5-3 0.9-5.2 1.1-0.3-0.2-3.2 0.9-0.7 0.8-0.3 2.3-0.5 1.2-1.2 1.3-2.1 1.2-4.5 1.5-7.7 1.2 0 0.6 2.4 4.7-0.4 2-1.1 1.6-2.2 1.7-2.2 1.3-7.3 3.1-5 4.3-4.5 1.6-3 0.5-4.5 0.3-6.4-0.6-5.6-1.7-2.7-1.5-3.8-1.5-10-1.3-4.2-1.1-4-1.6-2.9-2.3-0.7-1.5 0.1-1.5 2.4-4.8 6.9-17.2 3.4-5.8 8-23.4 2.5-6.3 2.3-4.5 1.5-2.2 2.2-2.1 1.6-0.2 1.7 0.2 2 1.8 1.8 2.5 2.5 5 1.2 3.5 0.7 1 0.5-0.5 0.3-1.2 1.7-4 3-8.8 3-7.5 3.3-6 1.2-1.5 1-0.8 0.5 0z"/><path fill="#347afd" d="M142.9 44l1.7 0 1 0.5 1.6 1.5 1.5 2.2 3.7 8.3 7 19.3 1.5 3.2 0.7 0.7 0.5-0.5 1.3-3.2 3-5.5 2.5-2.8 1-0.5 2 0 1 0.5 2.5 2.8 3.8 7.5 6.7 17.8 2.5 5.2 0 1.5-0.8 1.4-2 1.6-4 1.5-9.7 1.9-0.9 0.9-0.2 2.4-0.6 1.3-0.8 1-2.3 1.4-5 1.6-7.7 1 2.7 5.5-0.1 1.5-1.1 1.8-1.6 1.5-2.4 1.4-8 3.6-3.3 3.2-2.2 1.3-2.3 0.8-3.7 0.8-3.8 0.3-4.4-0.1-3.3-0.5-4.7-1.6-5.8-2.8-9.3-1.3-6.2-1.4-4.5-2-1.7-1.5-0.8-1.8 0.2-1.7 1.7-3.3 7-17.2 3.3-5.8 8-23.4 2.5-6.3 2.3-4.5 1.5-2.2 2.2-2.1 1.6-0.2 1.7 0.2 2 1.8 1.8 2.5 2.5 5 1.2 3.5 0.7 1 0.5-0.5 0.3-1.2 1.7-4 3-8.8 3-7.5 3.3-6 1.2-1.5 1-0.8 0.5 0zM159.1 84.5l-1 0.6 0.5 0.7 0.8-1.4z"/><path fill="#2f81fa" d="M142.9 44l1.7 0 1 0.5 1.6 1.5 3.2 5.8 3.5 8.7 4.5 12.7 2.5 5.6 0.1 2 0.4-0.5-0.2-0.5 0.2-0.3 0.2 0.2 0.5-0.5 1.3-3.2 3-5.5 2.5-2.8 1-0.5 2 0 1 0.5 1.8 1.8 1.5 2.3 2.2 4.4 7.5 19.6 1.8 3.4 0.2 1.8-0.8 1.5-3 2.2-3 1.1-4.2 0.8-3 0.3-3.3 0.8-0.3 0.8 0 2.3-0.5 1.2-0.7 1-2.9 1.8-6.3 1.6-6.3 0.6 2.8 5.6 0 1.6-0.8 1.5-1.8 1.8-2 1.3-8.7 3.9-3.7 3.5-4 1.7-7 0.9-6.8-0.5-5-1.5-4.4-2.5-2-0.6-10.1-1.3-3.7-0.9-5-2-2-1.6-0.9-1.7 0.1-1.7 1.2-2.3 7-17.2 3.3-5.8 8-23.4 2.5-6.3 2.3-4.5 1.5-2.2 2.2-2.1 1.6-0.2 1.7 0.2 2 1.8 1.8 2.5 2.5 5 1.2 3.5 0.7 1 0.5-0.5 0.3-1.2 1.7-4 3-8.8 3-7.5 3.3-6 1.2-1.5 1-0.8 0.5 0zM160.4 81.7l-1.3 1.3-2 1.1 1.5 1.7 2.1-3.8-0.1-0.5z"/><path fill="#2d88f6" d="M142.9 44l1.7 0 1 0.5 1.6 1.5 1.5 2.2 3.7 8.3 4.8 13.5 3.2 7.8 0.1 1.2-0.9 1.5-1.3 1.3-2.2 0.9-0.5 0.5 1.8 1.1 1.3 1.5 2.7-5.6-0.2-0.4 0.2-0.3 0.2 0.2 0.5-0.5 0-0.4 2.8-5.8 2.2-3.5 1.8-1.8 1-0.5 2 0 1 0.5 1.8 1.8 1.5 2.3 2.2 4.4 2.8 6.8 2.2 6.5 3.8 8.7 0 1.8-1 1.5-1.6 1.2-4.2 1.6-10.3 1.7-0.7 0.7 0.2 2.8-0.5 1.2-1.3 1.3-2.1 1.2-5.8 1.5-7 0.5 2.9 6.6-0.1 1.2-0.8 1.5-3.3 2.6-9.1 4.1-3.9 3.6-3 1.4-6.7 1-7-0.5-4-1.1-6.7-3.4-9.3-1.2-5.5-1.1-4-1.6-2.5-1.8-0.8-1.7 0-1.3 7.7-18.5 3.3-5.8 8-23.4 2.5-6.3 2.3-4.5 1.5-2.2 2.2-2.1 1.6-0.2 1.7 0.2 2 1.8 1.8 2.5 2.5 5 1.2 3.5 0.7 1 0.5-0.5 0.3-1.2 1.7-4 3-8.8 3-7.5 3.3-6 1.2-1.5 1-0.8 0.5 0z"/><path fill="#2c8ff1" d="M142.9 44l1.7 0 1 0.5 1.6 1.5 1.5 2.2 3.7 8.3 4.8 13.5 2.7 6.5-0.1 1.3-1.1 1.7-2.3 1.5-3 0.9 0.2 1.1 1.8 0 1 0.5 2.3 2.3 2.7-5.6-0.2-0.4 0.2-0.3 0.2 0.2 0.5-0.5 0-0.4 2.8-5.8 2.2-3.5 1.8-1.8 1-0.5 2 0 1 0.5 2.5 2.8 3.8 7.5 4.2 11.5 3.2 7.5 0.1 1.5-0.8 1.2-1.9 1.5-3.6 1.4-11.5 1.9-0.4 0.7 0.5 2.6-0.4 1.3-2 1.9-2.1 1-5.9 1.3-6.5 0.2 3 7 0 1-0.9 1.5-0.8 1-1.8 1.2-3.5 1.9-4.5 1.7-1.9 1.2-1.8 2-2.3 1.6-3.2 1.3-5.5 0.7-6.7-0.4-4.6-1.5-5.2-2.8-3-0.7-6.8-0.7-5.5-1.1-4-1.4-2.8-2.2-0.6-1.3 0.2-1.7 6.9-16.8 3.3-5.8 8-23.4 2.5-6.3 2.3-4.5 1.5-2.2 2.2-2.1 1.6-0.2 1.7 0.2 2 1.8 1.8 2.5 2.5 5 1.2 3.5 0.7 1 0.5-0.5 0.3-1.2 1.7-4 3-8.8 3-7.5 3.3-6 1.2-1.5 1-0.8 0.5 0z"/><path fill="#2895ec" d="M142.9 44l1.7 0 1 0.5 1.6 1.5 1.5 2.2 3.7 8.3 4.8 13.5 2.1 5.2 0 1.3-1.2 1.6-2.2 1.4-3.3 1 1 2.5 1.8 0 1 0.5 2.3 2.3 2.8-5.6-0.3-0.4 0.4-0.1 0.5-0.5 0-0.4 2.8-5.8 2.2-3.5 1.8-1.8 1-0.5 2 0 1 0.5 1.8 1.8 1.5 2.3 2.2 4.4 2.8 6.8 2.2 6.5 2.8 6.5-0.2 1.5-1.1 1.3-2.3 1.4-3.7 1.2-11 1.5-0.3 0.6 0.8 2.7-0.4 1.6-0.7 1-2.7 1.4-3.5 1.1-3 0.4-6.7 0 3 7.1-0.1 2-0.6 1-3.8 2.7-7.5 3.2-1.3 0.9-3.2 3.2-4.3 1.7-5.5 0.6-6.2-0.6-4.7-1.7-3-1.9-1.8-0.7-11.2-1.5-5.1-1.2-2.9-1.3-2.4-2-0.6-1.4 0.4-1.8 6.2-15 3.3-5.8 8-23.4 2.5-6.3 2.3-4.5 1.5-2.2 2.2-2.1 1.6-0.2 1.7 0.2 2 1.8 1.8 2.5 2.5 5 1.2 3.5 0.7 1 0.5-0.5 0.3-1.2 1.7-4 3-8.8 3-7.5 3.3-6 1.2-1.5 1-0.8 0.5 0zM129.4 77.6l0.2 0.9 0.3-0.5-0.4-0.2z"/><path fill="#259ce7" d="M142.9 44l1.7 0 1 0.5 1.6 1.5 1.5 2.2 3.7 8.3 3 8.7 3.4 8.8-0.2 1.5-1.7 1.7-2.8 1.4-2 0.4 1.5 4 1.8 0 1 0.5 2.4 2.3 2.7-5.6-0.3-0.4 0.4-0.1 0.5-0.5 1.3-3.2 3-5.5 2.5-2.8 1-0.5 2 0 1 0.5 2.5 2.8 3.8 7.5 6.4 16.8-0.2 1.2-1 1.4-2.8 1.6-3 0.8-12 1.4 1.1 3 0 1.6-0.7 1.2-2.6 1.7-5.8 1.4-4.2 0.2-3.8-0.3 3.3 8-0.1 1-0.7 1.2-3 2.6-3.2 1.5-3.8 1.4-2.6 1.5-2.1 2.4-1.3 0.9-4.2 1.5-6.5 0.5-5-0.7-3.5-1.3-3.3-2-2.4-1-10.3-1.3-4.5-0.9-3.8-1.5-2.5-2-0.3-1.3 0.1-1 5.9-14.5 3.3-5.8 8-23.4 2.5-6.3 2.3-4.5 1.5-2.2 2.2-2.1 1.6-0.2 1.7 0.2 2 1.8 1.8 2.5 2.5 5 1.2 3.5 1 1-0.3 0.2 1.5 3.8 1.5-1 0.6 0-2.6-2.1-0.5-1.9 8-21 3.3-6 1.2-1.5 1-0.8 0.5 0z"/><path fill="#22a2e4" d="M142.9 44l1.7 0 1 0.5 1.6 1.5 1.5 2.2 3.7 8.3 4.8 13.5 1 2 0 1.8-1.3 1.5-3 1.6-0.5-0.1-0.3 0.4-1.7 0.3 2.1 5.5 1.9 0.1 1 0.5 2.4 2.2 2.7-5.6-0.3-0.4 0.9-0.6 1.3-3.2 3-5.5 2.5-2.8 1-0.5 2 0 1 0.5 2.5 2.8 3 5.7 4 10 1 3.3 1.5 3.3 0.1 1.2-0.6 1.2-2.3 1.7-3.2 1.2-5 0.7-8.3 0.3 1.3 3.4 0.2 1.5-0.4 1-0.9 1-1.9 1-3.5 1-3.5 0.5-4 0-3-0.4 3.3 8.1 0 1.3-0.5 1-3.1 2.7-7.5 3.2-2.5 1.6-1.2 1.5-1.9 1.5-2.9 1.1-5.2 0.7-6-0.5-3.3-1.1-4.7-2.8-2-0.6-12.3-1.5-3.7-1.1-2.3-0.9-2.5-2.2-0.2-1.7 0.5-1.4 4.9-12 3.8-7 8.3-24.2 2.5-5.8 3-5.2 1.5-1.6 1.5-0.7 1.8 0 1.4 0.7 3.1 3.8 2.5 5 1.2 3.5 1 1-0.3 0.3 1.5 3.7 1.5-1 0.6 0 0.4-1.6-2.3-1.9-0.5-1.2 0.1-1.3 7.2-19 3.3-6 1.2-1.5 1-0.8 0.5 0zM144.1 93.5l0.3 1 0.8-1-0.8 0z"/><path fill="#1da8e0" d="M142.9 44l1.7 0 1 0.5 1.6 1.5 1.5 2.2 3.7 8.3 3 8.7 2.3 5.6-0.1 1.4-1.8 2-1.9 1-3.3 0.6 2.9 7.2 1.9 0.1 1 0.5 2.4 2.2 2.7-5.6-0.2-0.4 0.8-0.6 1.3-3.2 3-5.5 2.5-2.8 1-0.5 2 0 1 0.5 2.5 2.8 3 5.7 6 15.4 0 1.3-0.8 1-2.7 1.8-4.5 1.2-6 0.5-5.8-0.3 1.8 4.4 0 1.5-0.9 1.2-2.8 1.6-6.6 1.1-4.5-0.2-2.5-0.3 3.5 8.6 0 1-0.6 1.2-1.9 1.8-2.5 1.5-4.5 1.7-3.2 1.6-3.6 3.4-3.7 1.4-4.5 0.5-5.5-0.5-2.7-0.8-1.7-0.9-2.8-1.9-2.5-0.9-10.5-1.2-4.3-0.8-4.2-1.8-1.3-1.1-0.7-1.4 0.2-1.3 4.7-11.5 3.8-7 4.3-13 0.5-0.8 1.7-5.7 0.5-0.7 2.3-6.6 3-6.2 1.5-2.2 1.5-1.6 1.5-0.7 1.8 0 1.4 0.7 3.1 3.8 2.5 5 1.2 3.5 1 1-0.3 0.3 1.5 3.7 1.5-1 0.6 0 1.2-3.1-1.8-1-0.8-0.9-0.5-1 0.1-1.3 6.7-17.7 3.3-6 1.2-1.5 1-0.8 0.5 0zM144.4 91.7l-1 0.2 0 0.3 1 2.3 1.8-2.7-1.8 0z"/><path fill="#18addb" d="M142.9 44l1.7 0 1 0.5 1.6 1.5 1.5 2.2 2.7 5.8 5.8 15.5-0.1 1.3-1.8 2-1.4 0.7-3.8 1 0.5 1.7 2.9 6.8 1.9 0.1 1 0.5 2.2 2.3 0.2-0.1 2.7-5.6-0.2-0.4 0.8-0.6 1.3-3.2 3-5.5 2.5-2.8 1-0.5 2 0 1 0.5 2.5 2.8 3 5.7 5.5 14.1-0.1 1.2-0.9 1.3-2.3 1.3-6.5 1.5-5.5 0.1-4.7-0.5 2 5.3-0.1 1.3-0.7 0.8-1.7 1.1-2.3 0.8-6.5 0.8-6.2-0.8 3.5 9 0.1 1-0.5 1.3-0.8 1-2.1 1.4-8.2 3.6-1.8 1.2-2.7 2.7-3.5 1.4-5 0.5-5.5-0.8-3.3-1.4-3.4-2.3-2-0.6-9.8-1-5.3-1-3.2-1.4-1.8-1.3-0.6-1.3 0.1-1.3 4.2-10.2 3.8-7 4.3-13 0.5-0.8 1.7-5.7 0.5-0.7 2.3-6.6 3-6.2 1.5-2.2 1.5-1.6 1.5-0.7 1.8 0 1.4 0.7 3.1 3.8 2.5 5 1.2 3.5 1 1-0.3 0.3 1.5 3.7 1.5-1 0.6 0 1.7-4.5-2.5-1.7-0.5-1.1 0-1.2 6.2-16.5 3.3-6 1.2-1.5 1-0.8 0.5 0zM146.6 90l-4 0.3 1.8 4.2 2.8-4.5-0.3 0z"/><path fill="#11b1d6" d="M142.9 44l1.7 0 1 0.5 1.6 1.5 1.5 2.2 2.7 5.8 4 11.2 1.3 2.8-0.1 1.8-1.7 1.7-2 0.9-3.5 0.9 4 9.7 2 0.1 1 0.5 2.2 2.3 0.3-0.1 2.6-5.6-0.2-0.4 0.8-0.6 1.3-3.2 3-5.5 2.5-2.8 1-0.5 2 0 1 0.5 2.5 2.8 3.8 7.5 4.2 11 0 1.3-1.2 1.5-2.8 1.3-4.8 1-6.7 0.1-5-0.8 2.5 6-0.4 1.6-1.6 1.1-2.5 1-4.8 0.7-4.2-0.1-4-0.7 3.5 9.2 0 1.8-1 1.4-1.8 1.4-9.7 4.3-3.3 3.2-2.7 1.2-4.8 0.6-4.9-0.4-2.4-0.7-2.2-1.1-3-2.1-2-0.7-10-1-4-0.7-4.2-1.5-2-1.7-0.5-1.2 0.2-1 3.7-9 3.8-7 8.3-24.2 2.5-5.8 3-5.2 1.5-1.6 1.5-0.7 1.8 0 1.4 0.7 3.1 3.8 2.5 5 1.2 3.5 0.9 1-0.2 0.3 1.5 3.7 1.5-1 0.7 0 2.1-5.7-2.8-2-0.4-1.3 0.2-1 0.5-0.7 0.5-2 0.5-0.8 3.5-9.8 3-6.2 2-2.8 1.2-1 0.5 0zM147.1 88.5l-5 0.4 2.3 5.7 3.5-5.8 0-0.4-0.5 0z"/><path fill="#08b5d0" d="M142.9 44l1.7 0 1 0.5 1.6 1.5 1.5 2.2 2.7 5.8 5 13.5-0.4 1.5-1.4 1.3-1.5 0.8-4.2 1 4.5 10.9 2.5 0.4 1.5 1 1.2 1.5 0.3-0.1 2.7-5.6-0.3-0.4 0.8-0.6 1.3-3.2 3-5.5 2.5-2.8 1-0.5 2 0 1 0.5 2.5 2.8 3.8 7.5 3.9 10.5-0.2 1.1-1.2 1.2-3.1 1.4-5.2 0.9-7.3-0.2-3.7-1.1 0.5 1.7 2 4.5-0.1 1.5-1.4 1.4-3.3 1.2-4.5 0.6-4.7-0.3-3.5-0.9 0.9 3.3 2.8 7-0.2 1.4-1 1.3-1.8 1.3-3 1.5-5 1.9-1.8 1-2.7 2.8-3 1.4-5.2 0.6-4.2-0.5-2.3-0.7-4.3-2.7-2.2-1-14.3-1.7-4.2-1.5-2-1.5-0.5-1.2 0.2-1.4 3.2-7.8 3.8-7 4.3-13 0.5-0.8 1.7-5.7 0.5-0.7 2.3-6.6 3-6.2 1.5-2.2 1.5-1.6 1.5-0.7 1.8 0 1.4 0.7 3.1 3.8 2.5 5 1.2 3.5 0.9 1-0.2 0.3 1.5 3.7 1.5-1 0.7 0 2.6-6.7-2.5-1.6-0.6-1-0.2-1.2 4.8-12.8 3-6.2 2-2.8 1.2-1 0.5 0zM147.4 87.2l-5.8 0.6 2.8 6.8 0.9-1.1 1.4-3 2-3-0.3-0.5-0.8 0.2z"/><path fill="#01b8ca" d="M142.9 44l1.7 0 1 0.5 1.6 1.5 1.5 2.2 2.7 5.8 4 11.2 0.5 0.8 0 1.7-1.5 1.5-2.5 1.2-3.5 0.7 4.8 10.9 0.1 1 2.1 0.1 2 1.3 1.2 1.5 0.3-0.1 2.7-5.6-0.3-0.4 0.8-0.6 1.3-3.2 3-5.5 2.5-2.8 1-0.5 2 0 1 0.5 2.5 2.8 3 5.7 4.3 10.8 0 1-0.6 1.1-1.2 0.9-2.8 1.1-5.7 0.9-6-0.3-4.8-1.4 2.9 7.2-0.1 1-1.5 1.4-2.8 1-5.2 0.6-4.5-0.3-3.8-1.1 4.1 10.4 0 1-0.4 1-2.9 2.5-8 3.4-2 1.2-2 2.2-2.5 1.3-5 0.7-4.8-0.5-3.2-1.2-3.3-2.3-2.2-1-11.2-1-3.1-0.6-3.5-1.1-1.5-0.9-0.9-1-0.5-1.2 0.4-1.5 2.8-6.5 3.7-6.8 1-3.7 0.5-0.7 6.8-20 2.5-5.8 3-5.2 1.5-1.6 1.5-0.7 1.8 0 1.4 0.7 3.1 3.8 2.5 5 1.2 3.5 0.9 1-0.2 0.3 1.5 3.7 1.5-1 0.7 0 1.2-3.5 2-4.2-1.8-0.8-1.2-1-0.5-1.2 0.1-1.3 4.3-11.3 3-6.2 2-2.8 1.2-1 0.5 0zM151.4 69.3l-0.2 0.2 0.4 0.5 0.3-0.2-0.3-0.3zM148.6 85.7l-3 0.7-4.5 0.1 0.3 1.3 1.2 2.2 1.8 4.6 0.9-1.1 3.4-6.3 1.2-1.4-1.1 0z"/><path fill="#02bbc3" d="M142.9 44l1.7 0 1 0.5 1.6 1.5 1.5 2.2 2.7 5.8 4.2 11.5-0.3 1.3-1.2 1.1-1.7 0.9-4.5 1 4.8 11.2-0.3 1.5-2.2 1.5-3.1 0.8-3.7 0.4-3-0.1 3.9 9.4 0.3 0 0.7-1 3.4-6.3 2.2-2.7 1.2-1 1-0.5 2.3 0.1 2 1.3 2.1 2.4-0.3-1.6 2.4-5-0.3-0.4 0.8-0.6 0-0.4 2.8-5.8 2.2-3.5 1.8-1.8 1-0.5 2 0 1 0.5 1.8 1.8 1.5 2.3 3 6.2 3 7.8-0.1 1.3-0.9 1.1-1.8 1.1-3.5 1-3.8 0.3-4.2-0.1-3.3-0.5-2-0.7-3-2.3 3.2 6 1.1 2.8 0 1.4-1.9 1.6-1.9 0.7-4.2 0.6-5.8-0.4-4-1.3 0 0.6 4.1 10.2-0.1 1.8-2.5 2.4-4.2 2-4.8 1.8-1.5 1-2.2 2.4-2.3 1.1-4.2 0.7-4.8-0.4-3.4-1.3-3-2.2-2.6-1.1-13.2-1.3-4.3-1.3-2.1-1.3-0.7-1.3 0.1-1.2 2.5-6 1.7-3.5 1.3-1.7 0.3-1 1-1.3-0.1-1.5 1-2.2 6.8-20 2.5-5.8 3-5.2 1.5-1.6 1.5-0.7 1.8 0 1.4 0.7 3.1 3.8 2.5 5 1.2 3.5 0.9 1-0.2 0.3 1.5 3.7 1.5-0.9 0.7-0.1 2.4-6.3 1.5-2.4-2.8-1.6-0.9-1.2 0-1.2 3.9-10.6 3-6.2 2-2.8 1.2-1 0.5 0zM150.6 66.3l-0.1 0.2 0.4 0.4 0.4-0.1-0.5-0.3z"/><path fill="#0bbdbd" d="M142.9 44l1.7 0 1 0.5 1.6 1.5 1.5 2.2 3.7 8.3 2.8 8.3-0.2 0.7-1.1 1.2-1.5 0.8-5.3 1.2 4.8 10.5 0.3 1.3-0.4 1-1.9 1.3-3.3 0.8-3.5 0.4-3.5-0.2 0 0.4 1.8 3 3 7.4 1-1.1 3.3-6.3 2.2-2.7 2.2-1.5 2.3 0.1 2 1.3 2.2 2.6 2.9 5.5 1 3-0.6 1.3-2.1 1.2-5.2 0.9-5.2-0.4-3-0.9-2.3-1.4 4.8 12.6-0.4 1.4-1.1 1.3-3.3 2-5 1.7-3.2 1.8-2.2 2.2-1.3 0.9-1.5 0.6-4 0.5-2.7-0.2-2.8-0.8-2.2-1-3-2.1-1.8-0.8-5.8-0.8-5.7-0.3-4.3-0.8-3-1.1-1.7-1.5-0.3-0.8 2.3-6 1.7-3.5 1.3-1.7 0.3-1 1.5-1.8-0.3-1.2 0.2-1.3 0.5-0.7 6-18 2.5-6.3 2.3-4.5 1.5-2.2 1.5-1.6 1.5-0.7 1.8 0 1.4 0.7 3.1 3.8 2.5 5 1.2 3.5 0.9 1-0.2 0.3 1.4 3.7 1.6-0.9 0.8-0.1 2.3-6.3 2.1-3.7-1.7-0.5-1.1-0.8-1.1-1.4 0-1.3 3.5-9.3 3-6.2 2-2.8 1.2-1 0.5 0zM150.6 66.3l-0.2 0.2 0.5 0.5 0.5-0.2-0.5-0.3zM169.9 67.2l2 0 1 0.5 1.8 1.8 1.5 2.3 2.2 4.4 3.5 8.8-0.2 1-0.7 1-2.6 1.3-3.5 0.9-6.5 0.1-5.5-1.3-2-1.2-0.9-1-0.3-1.6 1.9-4-0.3-0.4 0.8-0.6 0-0.4 2.8-5.8 2.2-3.5 1.8-1.8 0.7-0.2z"/><path fill="#15bfb7" d="M142.9 44l1.7 0 1 0.5 2.3 2.5 3.5 7 3.5 9.3-0.3 1.5-1.2 1.1-2 1-0.8-0.6-0.2 0.2 0.6 0.5-4.4 0.7 2.7 5.3 2.4 5.8 0.1 0.7-0.4 1-2.3 1.5-3 0.7-3.7 0.3-3.3-0.2 3.5 7.2 1.5 4 0.5 0.8 4.1 11.2 0.7 1.2 0 1.6-0.9 1.4-2.6 1.9-6.3 2.3-2.5 1.3-4.2 3.6-2.5 0.7-2.5 0.2-4-0.4-2-0.7-4.3-2.9-2.4-1-5.6-0.7-5.2-0.2-4.5-0.8-3.5-1.5-1-0.8-0.4-1.2 1.9-5 1.7-3.5 2.1-3.5 1.7-1.8-0.5-0.7-0.2-1 5.4-16 3.5-9 2.3-4.5 1.5-2.2 1.5-1.6 1.5-0.7 1.8 0 1.4 0.7 3.1 3.8 2.5 5 1.2 3.5 0.9 1-0.2 0.3 1.4 3.7 1.6-0.9 0.8-0.1 2.3-6.3 1.7-3.2 1-1.2-1.8-0.6-1.6-1.2-0.8-1-0.1-1.2 3.3-8.6 3-6.2 2-2.8 1.2-1 0.5 0zM112.9 99.1l0.7 0.4 1 0 0.1-0.3-1.5-0.1zM169.9 67.2l2 0 1 0.5 1.8 1.8 1.5 2.3 2.2 4.4 2.8 6.8 0.3 1.5-0.6 1.3-0.8 0.7-2.2 1-3 0.7-4 0.2-4.3-0.3-2.3-0.6-3.4-1.8-0.6-0.9-0.2-1.6 1.5-3-0.2-0.4 0.7-0.6 0-0.4 2.8-5.8 2.2-3.5 1.8-1.8 0.7-0.2zM152.9 83.2l2.5-0.1 2 1.3 1.4 1.6 1.5 2.2 2.4 4.8 0.5 1.2-0.3 1.3-1.3 1-2.2 0.8-4.5 0.6-5.5-0.7-2.5-0.9-1.5-1.1-0.4-1.2 3.7-6.8 2.4-2.9 1.8-1z"/><path fill="#1ec0b2" d="M142.9 44l1.7 0 1 0.5 2.3 2.5 3.5 7 3.3 8.8-0.5 1.4-1.6 1.1-3 1.1-3.5 0.5 3.2 6.1 1.9 4.5 0.3 1.3-0.5 1-1.6 1.1-4 1-3 0.2-4-0.3 4.2 8.2 6.6 16.8-0.1 1.2-0.9 1.5-3.6 2.2-7.5 3.1-4.2 3.5-2.5 0.7-3.2 0.2-4.4-0.7-1.9-1-3.3-2.3-2.7-1-3-0.5-7.7-0.4-5.3-1-2.3-1.2-0.9-0.9-0.4-0.7 0.1-1 3.2-7 2.1-3.5 2.3-2.2-0.5-0.6-0.5-1.2 2.9-9 0.5-0.8 1.7-5.7 0.5-0.7 2.3-6.6 3-6.2 1.5-2.2 1.5-1.6 1.5-0.7 1.8 0 1.4 0.7 3.1 3.8 2.5 5 1.2 3.5 0.9 1-0.3 0.3 1.5 3.7 1.6-0.9 0.8-0.1 2.4-6.3 3-5.2-2.2-0.8-1.5-1-0.5-0.7-0.2-1.3 3-8 3-6.2 2-2.8 1.2-1 0.5 0zM111.2 98.2l1 0.8 1.4 0.5 1 0 1.6-0.7 0.2-0.5-5-0.1zM169.9 67.2l2 0 1 0.5 2.5 2.8 3 5.7 2.7 6.8 0.1 1-0.6 1-1.7 1.2-0.8 0.3-0.5-0.2-0.2 0.4-0.8 0.2-4.2 0.6-2.5 0-4-0.5-2.3-0.7-1.2-0.5-1.6-1.6-0.4-1.4 1.2-2.6-0.2-0.4 0.7-0.6 0-0.4 2.8-5.8 2.2-3.5 1.8-1.8 0.7-0.2zM153 83.2l2.4 0 2 1.2 1.4 1.6 1.5 2.2 2.4 4.8 0.1 1-0.5 1-2.7 1.4-5 0.6-5.2-0.8-2-0.7-1.5-1-0.4-0.7 0.1-1 3.2-5.6 2.3-2.9 1.8-1z"/><path fill="#27c2ac" d="M142.9 44l1.7 0 1 0.5 2.3 2.5 3.5 7 3 8-0.5 1.2-1.8 1.4-2.7 0.9-4 0.5 1.9 3 3.1 6.8 0.7 2-0.6 1.2-2.9 1.4-2.7 0.6-3.3 0.1-4-0.3 2.8 4.5 2.2 4.7 6.1 15.5 0.1 1.7-1.3 1.8-3.1 1.8-7.5 3-4.5 3.5-1.5 0.6-3.5 0.4-3-0.4-2.2-0.8-4.1-2.8-2.7-1.1-3.8-0.5-6.7-0.3-5.3-1-3.2-1.6-0.8-1.4 1.3-3.4 3.8-7 1.9-2 1.5-0.8-0.9-0.4-0.7-0.8-0.1-1.5 7.5-21.3 3-6.2 1.5-2.2 1.5-1.6 1.5-0.7 1.8 0 1.4 0.7 3.1 3.8 2.5 5 1.2 3.5 0.9 1-0.3 0.3 1.5 3.7 1.6-0.9 0.8-0.1 0.5-1.7 2.4-5.6 3.1-5-3-1.2-1.1-0.8-0.6-1.2 0.2-1.2 3.2-8.3 2.3-4.5 2-2.8 1.2-1 0.5 0zM109.6 97l0.3 0.5 2.3 1.5 1.4 0.5 1 0 1.6-0.7 1.1-1.3-4.9-0.1-2.5-0.4zM169.9 67.2l2 0 1 0.5 2.5 2.8 3 5.7 2.3 5.6 0.2 1.2-0.8 1.3-2 1.2-1.7 0.5-6 0.5-3.5-0.3-2.7-0.7-1.6-0.7-1.6-1.6-0.2-1 0.8-2-0.2-0.4 0.7-0.6 0-0.4 2.8-5.8 2.2-3.5 1.8-1.8 0.7-0.2zM153 83.2l2.4 0 2 1.2 1.4 1.6 1.5 2.2 2 4.3 0.1 0.7-0.7 1-1.3 0.8-3 0.8-3.8 0.1-5-0.9-2.2-1.4-0.4-1.4 2.8-5 2.3-2.9 1.8-1z"/><path fill="#2ec4a5" d="M142.9 44l1.7 0 1 0.5 2.3 2.5 3.5 7 2.6 7.2-1.4 1.8-1.7 0.9-0.5-0.4-0.2 0.3 0.4 0.2-2 0.5-4.2 0.4 1.2 1.3 1.7 2.8 3.1 6.8 0.2 1.3-0.7 1-3 1.4-4 0.5-3-0.1-3.5-0.6 1.7 2.2 2.3 3.7 3.6 8.8 0.6 0.8 3.8 10.2 0 1.5-0.8 0.9-2.5 1.9-8 3.1-1.7 1-1.8 1.8-1.2 0.9-1.8 0.6-3 0.4-3-0.4-2.5-0.8-3.5-2.6-3.2-1.3-4.2-0.5-7-0.2-3.6-0.7-3.2-1.3-1.1-1.1-0.2-0.7 0.8-2.5 3.8-7 1.9-2 1.6-0.7 2.7 0.2 2.3 1.3 3 2.3 1.4 0.5 1 0 1.6-0.8 2-2.3-5.8-0.2-5.2-0.9-3.3-1.3-1.3-1.6 0-0.7 2.3-6.8 0.5-0.8 1.7-5.7 0.5-0.7 2.3-6.6 3-6.2 1.5-2.2 1.5-1.6 1.5-0.7 1 0 1.5 0.2 0.7 0.5 3.1 3.8 2.5 5 1.2 3.5 0.9 1-0.3 0.3 1.5 3.7 1.6-0.9 1.8-0.1-0.4-0.5-0.1-1.2 1.9-4.6 2.6-4.7 2-2 0-0.2-2.3-0.7-2.4-1.4-0.6-1 0-1.2 3-7.5 2.3-4.5 2-2.8 1.2-1 0.5 0zM169.9 67.2l2 0 1 0.5 2.5 2.8 3 5.7 1.8 4.3 0.3 1.5-0.6 1.1-1.8 1.2-2 0.6-6 0.5-5.4-0.9-3-1.7-0.5-1.6 0.4-1-0.2-0.4 0.7-0.6 1.3-3.2 3-5.5 2.5-2.8 0.7-0.2zM153 83.2l2.4 0 2.3 1.6 1.8 2.2 2.4 4.5-0.1 1-0.4 0.5-2 1.1-4.5 0.7-4.8-0.5-3.2-1.5-0.4-1 0.1-0.8 2.2-3.8 2.3-2.8 1.8-1.1z"/><path fill="#33c69d" d="M142.9 44l1.7 0 1 0.5 2.3 2.5 3.5 7 2.2 6-0.1 0.8-0.6 0.7-3.3 1.5-3 0.6-4 0 0.8 0.4 2.2 2.2 1.7 2.8 2.9 6.2-0.1 0.9-0.7 0.9-2.5 1.2-2 0.4-5 0.1-4.8-1-2-1.4-0.3-0.8 0.3-1.5 1.2-2.2 0-0.6 2.7-4.7 2.6-2.7 1.7-0.3-3.2-0.6-2.7-1.1-1.3-1.2-0.2-1.1 2.7-7 2.3-4.5 2-2.8 1.2-1 0.5 0zM117.4 60.5l2.5 0.2 2.8 2.8 3.5 6.5 1.5 4 0.6 0.5-0.3 0.3 1.5 3.7 1.6-0.9 2.5-0.1 0.8 0.3 3 2.7 1.7 2.5 3.5 7 5.3 13.5 0.2 1.3-0.2 1-1.5 1.4-3.3 1.8-6.5 2.4-1.8 1.1-2.9 2.4-2.8 0.8-1.5 0.1-2.2-0.2-2.8-1-4.5-2.9-2.7-1-11.8-0.8-4-0.9-2-1-0.8-0.8-0.3-0.7 0.1-0.7 2-4.3 2.2-3.5 1.8-1.9 1.5-0.8 2.1 0 2.2 1 3.8 2.8 1.4 0.5 1 0 1.6-0.8 3-3.6-5 0.1-5.8-0.8-3.6-1.3-1.2-0.7-0.6-1.3 4.1-12.7 3.5-9 2.3-4.5 1.5-2.2 1.5-1.6 1.3-0.5zM139.6 109.3l-0.4 0.5 0.2 0.2 0.5-0.5zM169.9 67.2l2 0 1 0.5 2.5 2.8 4.3 8.7 0.4 1.5-0.5 1.1-1.5 1.2-1.7 0.6-5.5 0.6-5.3-0.7-2.5-1-1.2-1.3-0.5-1.4 0.7-0.6 0-0.4 2.8-5.8 2.2-3.5 1.8-1.8 0.7-0.2zM153 83.2l2.4 0 2.3 1.6 1.8 2.2 1.7 3 0.2 1.1-0.6 0.9-1.7 0.9-2.2 0.5-3.3 0.1-2.7-0.4-2.3-0.7-1.1-0.9-0.4-0.7 0-0.6 1.7-3 2.3-2.8 1.8-1z"/><path fill="#39c895" d="M142.9 44l1.7 0 1 0.5 1.6 1.5 1.5 2.2 2.7 5.8 1.8 4.5-0.1 0.9-0.5 0.9-1.7 1.1-1.8 0.5-2.7 0.5-2.8 0.1-5-0.7-2.7-1-1.4-1.3-0.2-0.7 0.6-2 4-8.8 2-2.8 1.2-1 0.5 0zM117.4 60.5l2.5 0.2 2.8 2.8 3.5 6.5 1.5 4 0.6 0.5-0.3 0.3 1.5 3.7 1.6-0.9 2.5-0.1 0.8 0.3 3 2.7 1.7 2.5 3.4 7 5.2 13-0.1 1.3-1.5 1.8-3.7 2-7.1 2.7-3.9 3-1.3 0.4-2.7 0.3-2.5-0.3-1.7-0.6-4.3-2.9-3-1.2-12.7-0.9-3.6-0.8-1-0.5-1.5-1.3-0.2-0.8 0.2-0.7 1.5-3 2.2-3.5 1.8-1.9 1.5-0.8 2.1 0 2.2 1 3.8 2.8 1.4 0.5 1 0 1.6-0.8 1.8-1.8 1.9-3-7.3 0-4.4-0.7-3.6-1.4-0.8-0.7-0.5-1 3.8-11.7 3.5-9 2.3-4.5 1.5-2.2 1.5-1.6 1.3-0.5zM104.6 91.3l-0.2 0.2 0.2 0.2 0.5-0.2-0.2-0.2zM136.1 104.4l-0.7 0.7 0.7-0.5 0.8 0 0-0.2-0.5 0zM136.9 105.8l-0.7 0.7 0.2 0.2 0.7-0.7zM140.2 63.8l0.2-0.3 2 0 1 0.5 2.2 2.2 3.6 6.8 0.5 1.8-0.3 0.7-1 0.8-3 1-4 0.3-4.5-0.6-1.5-0.5-1.6-1-0.5-1 0.1-1 2.6-5.5 2-2.8 1.6-1.4 0.5 0zM169.9 67.2l2 0 1 0.5 2.5 2.8 4.3 8.7-0.1 0.9-0.5 0.8-1.7 1.1-1.8 0.5-5.2 0.5-3.3-0.4-3-0.9-1-0.6-0.9-1.1 0-1.2 2.7-5.8 2.2-3.5 1.8-1.8 0.7-0.2zM153 83.2l2.4 0 2.3 1.6 1.8 2.2 1.2 2.2 0.2 0.8-0.5 0.7-1.1 0.8-1.7 0.5-3 0.3-3.5-0.4-3-1.3-0.4-1.1 1.2-2.3 2.2-2.8 1.8-1z"/><path fill="#40ca8d" d="M142.9 44l1.7 0 1 0.5 2.3 2.5 2.5 4.8 2 4.7 0.4 1.5-0.4 1.1-1 0.9-2.5 0.9-5 0.5-4-0.4-2.8-0.7-2.2-1.7-0.2-0.8 0.2-1 4-8.8 2-2.8 1.2-1 0.5 0zM117.4 60.5l2.5 0.2 2.8 2.8 3.5 6.5 1.5 4 0.6 0.5-0.3 0.3 1.5 3.7 1.6-0.9 2.5-0.1 0.8 0.3 3 2.7 1.7 2.5 3.4 7 4.9 12.2-0.3 1.6-0.9 1-3.1 1.9-5.5 1.9-3.5 1.6-3 2.4-3.2 0.7-2.3-0.2-2.2-0.7-3-2.1-4-1.8-3.8-0.6-5.7 0-5-0.6-3-1.1-1.4-1.2-0.1-1 1.2-2.5 2.2-3.5 1.8-1.9 1.5-0.8 2.1 0 2.2 1 3.8 2.8 1.4 0.5 1 0 1.5-0.7 1.9-1.9 2.4-4-6 0.1-6-0.8-2.2-0.8-1.8-1-0.8-1.2 3.5-10.8 3.5-9 2.3-4.5 1.5-2.2 1.5-1.6 1.3-0.5zM136.1 102.9l0 0.2 1.8 0 0-0.2-1.5 0zM136.1 104.4l-0.9 0.6 0.2 0.2 0.7-0.5 0.8 0 0-0.4-0.5 0zM136.9 105.8l-0.7 0.7 0.2 0.2 0.7-0.7zM138.9 107.3l-0.5 0.5 0.2 0.2 0.5-0.5zM140.2 63.8l2.2-0.3 1 0.6 2.2 2.1 3.6 6.8-0.1 1.2-0.4 0.6-2.3 1.1-5 0.6-4-0.5-1.8-0.6-1.6-1.2-0.4-1.2 2.4-5 2-2.8 1.6-1.4 0.5 0zM169.9 67.2l2 0 1 0.5 2.5 2.8 3.8 7.5 0.1 1-0.4 0.8-1 0.8-1.8 0.7-5 0.6-5-0.6-1.7-0.7-1.5-1.1-0.4-1 0.1-0.7 2.3-4.8 2.2-3.5 1.8-1.8 0.7-0.2zM153.1 83.2l2.3 0 2.3 1.6 2.5 3.4 0.1 1-0.7 0.8-2.5 0.9-3 0.3-2.7-0.4-1.5-0.4-1.3-0.8-0.4-1.1 0.7-1.3 2.2-2.8 1.8-1z"/><path fill="#48cb86" d="M142.9 44l1.7 0 1 0.5 2.3 2.5 2.5 4.8 2 4.7 0.1 1-0.7 1-1.2 0.8-2.5 0.8-5 0.3-4.5-0.7-1.7-0.7-1.5-1-0.4-1 0.4-1.5 3.5-7.5 2-2.8 1.2-1 0.5 0zM117.4 60.5l2.5 0.2 2.8 2.8 3.5 6.5 1.5 4 0.6 0.5-0.3 0.3 1.5 3.7 1.6-0.9 2.5-0.1 0.8 0.3 3.7 3.7 3.2 5.7 5.6 13.8 0.2 1.2-1 1.5-1.6 1.3-1.6 0.8-8 2.9-4.8 3.2-2.7 0.4-3.5-0.8-4.3-2.8-3.7-1.4-3-0.4-9.5-0.3-3.2-0.8-2-1.3-0.4-1 0.8-2 2.2-3.5 1.8-1.9 1.6-0.8 1.9 0 2.3 1 3.8 2.8 1.4 0.5 1 0 1.6-0.7 1.8-1.9 2.9-5-6.3 0.1-0.2-0.2-1.5 0.1-3.3-0.4-4.4-1.6-1.2-1.5 0.1-1.3 1.3-3 1.7-5.7 3.5-9 2.3-4.5 1.5-2.2 1.5-1.6 1.3-0.5zM135.6 102.6l0.5 0.5 1.8 0 0-0.2-1.8 0-0.2-0.3zM136.9 101.6l0 0.3 1 0 0-0.3-0.8 0zM136.1 104.3l-0.9 0.7 0.2 0.2 0.7-0.5 0.8 0 0-0.4-0.5 0zM137.4 104.1l0 0.3 0.5 0 0.2-0.2-0.5-0.1zM136.9 105.8l-0.7 0.7 0.2 0.2 0.7-0.7zM139.1 105.8l-0.4 0.4 0.2 0.3 0.5-0.5zM138.4 106.3l-0.5 0.5 0.2 0.2 0.5-0.5zM140.2 63.8l2.2-0.2 1 0.5 2.1 2.1 3.4 6.3-0.5 1.2-0.8 0.7-2 0.6-4 0.5-5-0.7-2.2-1.3-0.3-1.5 2-4 1.9-2.8 1.6-1.4 0.5 0zM169.9 67.2l2 0 1 0.5 2.5 2.8 3.5 7 0 0.8-0.5 0.8-2.3 1.2-5.2 0.6-4.5-0.6-1.8-0.7-1.5-1.1-0.2-1.3 2-4.2 2.2-3.5 1.8-1.8 0.7-0.2zM153.1 83.2l2.3 0 2 1.3 2.3 3 0.1 0.7-0.5 0.8-0.9 0.5-1.8 0.4-3 0.2-3.1-0.6-1.1-0.7-0.6-0.8 0.1-0.8 2.2-2.8 1.8-1z"/><path fill="#51cc7f" d="M142.9 44l1.7 0 1 0.5 2.3 2.5 4 8.2 0.3 1.3-0.4 1-2.2 1.3-0.2-0.3-0.3 0.4-1.2 0.3-3.5 0.4-4.8-0.5-2.5-0.9-1.2-0.8-0.5-0.9 0-1 3.5-7.5 2-2.8 1.2-1 0.5 0zM117.4 60.5l2.5 0.2 2.8 2.8 3.5 6.5 1.5 4 0.5 0.5-0.2 0.3 1.5 3.7 1.6-0.9 2.5-0.1 0.8 0.3 2.9 2.7 1.8 2.5 3.4 7 4.2 10.5 0 1.3-1.4 1.7-3.7 1.9-2.2 0.8-0.3-0.4-0.5 0.7-0.2-0.2-3.3 1.3-4.7 3-2.8 0.6-3.4-0.7-4.6-2.9-4.2-1.4-11.2-0.4-4.6-1.3-1.2-1-0.2-1 0.4-1 2.2-3.5 1.8-1.9 1.6-0.7 2 0 2.2 1 3.8 2.8 1.4 0.5 1 0 1.6-0.8 1.8-1.9 3.4-5.7-0.2-0.3-6.6 0.3-5-0.6-2-0.5-2.7-1.3-0.7-1.1 0.2-1.3 1-2.3 1.7-5.7 3.5-9 2.3-4.5 1.5-2.2 1.5-1.6 1.3-0.5zM135.6 102.6l-0.1 0.2 0.6 0.4 1.8 0 0-0.4-1.8 0-0.2-0.2zM136.9 101.6l0 0.3 1 0 0-0.3-0.8 0zM136.1 104.3l-0.9 0.7 0.2 0.2 0.7-0.5 0.8 0 0-0.4-0.5 0zM137.4 104.1l0 0.3 0.5 0 0.2-0.2-0.5-0.1zM139.1 104.5l-0.4 0.5 0.2 0.2 0.5-0.4zM136.9 105.8l-0.7 0.7 0.2 0.2 0.7-0.7zM140.2 63.8l2.2-0.2 1 0.5 2.1 2.1 2.9 5.3 0.1 0.7-0.4 0.7-2.7 1.3-4 0.4-3.8-0.5-2.2-0.9-0.8-0.7-0.2-1.3 1.7-3.2 1.9-2.8 1.6-1.4 0.5 0zM169.9 67.2l2 0 1 0.5 1.8 1.8 1.5 2.3 2.2 4.4 0.2 0.8-0.2 0.9-1.5 1.1-4.8 1-4-0.2-2-0.7-0.2 0.2-2.2-1.3-0.5-1.2 1.7-3.8 2.2-3.5 1.8-1.8 0.7-0.2zM153.1 83.2l2.3 0 2 1.3 1.9 2.5-0.4 1-1 0.6-3.3 0.6-3.5-0.6-1.5-0.8-0.3-0.8 0.3-0.8 1.5-1.7 1.8-1.1z"/><path fill="#5acc78" d="M142.9 44l1.7 0 1 0.5 2.3 2.5 4 8.2 0 0.8-0.5 0.8-1.8 1.1-1.5 0.4-5.2 0.4-4-0.6-2.9-1.6-0.4-1 0.3-1.3 3-6.2 2-2.8 1.2-1 0.5 0zM117.4 60.5l2.5 0.2 2.8 2.8 3.5 6.5 1.5 4 0.5 0.5-0.2 0.3 1.5 3.7 1.6-0.9 2.5-0.1 0.8 0.3 3.7 3.7 3.2 5.7 5.1 12.6 0 1.2-1 1.4-3 1.9-4.8 1.7-0.2-0.5-0.2 0.3 0.4 0.2-0.5 0.2-0.2-0.4-7.3 4.1-2 0.4-3.2-0.7-4.8-2.9-4.7-1.6-11.3-0.3-3-0.7-1.7-1.2-0.3-1.4 2.2-3.5 1.8-1.9 1.5-0.7 2.8 0.2 1.5 0.8 3.8 2.8 1.4 0.5 1 0 1.6-0.8 2.6-2.9 3.1-5.8-6.3 0.3-5.2-0.5-3.7-1-1.3-0.7-0.9-1.3 0.1-1.2 0.8-1.6 1.7-5.7 3.5-9 2.3-4.5 1.5-2.2 1.5-1.6 1.3-0.5zM136.9 100.4l0 0.2 1.2 0 0-0.2-1 0zM106.2 87.5l-0.5 0.5 0.2 0.2 0.5-0.4zM135.6 102.6l-0.1 0.2 0.6 0.4 1.8 0 0-0.4-1.8 0-0.2-0.2zM136.9 101.6l0 0.3 1 0 0-0.3-0.8 0zM136.1 104.3l-0.9 0.7 0.2 0.2 0.7-0.5 0.8 0 0.2-0.2-0.2-0.2-0.5 0zM137.4 104l-0.2 0.2 0.2 0.3 0.5 0 0.2-0.3-0.5-0.2zM139.1 104.5l-0.4 0.5 0.2 0.2 0.5-0.4zM140.2 63.8l2.2-0.2 1 0.5 2.1 2.1 2.6 4.8-0.1 0.8-0.7 0.7-2.4 0.9-3.3 0.3-4.2-0.6-2.3-1.2-0.3-1.1 1.3-2.8 1.9-2.8 1.6-1.3 0.5 0zM169.9 67.2l2 0 1 0.5 1.8 1.8 1.5 2.3 2 4 0 1-0.3 0.5-0.8 0.7-1.9 0.7-3.8 0.5-2.8-0.2-2.5-0.6-1.5-0.7-0.7-0.7-0.3-0.8 0.1-0.7 2.7-5 2.5-2.8 0.7-0.2zM153.1 83.2l2.3 0 1 0.5 2.3 2.3-0.1 1-1.7 1-2.5 0.2-2.8-0.4-1.2-0.5-0.6-0.8 0.1-0.5 1.2-1.5 1.8-1.1z"/><path fill="#62cd70" d="M142.9 44l1.7 0 1 0.5 2.3 2.5 3.5 7 0.2 1-0.5 1-2.2 1.3-4.8 0.6-5-0.7-2.2-0.9-0.7-0.8-0.2-1.3 2.9-6.2 2-2.8 1.2-1 0.5 0zM117.4 60.5l2.5 0.2 2.8 2.8 3.5 6.5 1.5 4 0.5 0.5-0.2 0.3 1.5 3.7 1.6-0.9 2.5-0.1 0.8 0.3 3.7 3.7 3.2 5.7 4.6 11.3 0.3 1.5-0.6 1.2-1.5 1.3-2 1-7.2 2.4-2.4 1.1-2.1 1.4-2.5 0.8-2.3-0.2-5-2.8-4.4-1.7-3.3-0.4-8.3 0-2.7-0.5-2-0.8-0.8-0.8-0.2-0.8 1.9-3.2 1.8-1.8 1.6-0.8 2.7 0.2 1.5 0.8 3.8 2.8 1.4 0.5 1 0 1.5-0.8 2.7-2.9 3.4-6.2 0-0.5-7.3 0.4-4.5-0.5-4-1.3-0.2-0.4-0.8-0.1-0.7-1.2 0.2-1.2 0.5-0.8 1.7-5.7 3.5-9 2.3-4.5 1.5-2.2 1.5-1.6 1.3-0.5zM136.4 100.1l0.5 0.5 1.2 0 0.3-0.5-1.3 0.3-0.5-0.3zM139.4 100.6l-0.7 0.6 0.2 0.2 0.6-0.6zM135.6 102.6l-0.1 0.2 0.6 0.4 1.8 0 0.2-0.2-0.2-0.2-1.8 0-0.2-0.2zM136.9 101.6l0 0.3 1 0 0-0.3-0.8 0zM139.1 103.3l-0.4 0.5 0.2 0.2 0.5-0.5zM136.1 104.3l-0.9 0.7 0.2 0.2 0.7-0.5 0.8 0 0.2-0.2-0.2-0.2-0.5 0zM137.4 104l-0.2 0.2 0.2 0.3 0.5 0 0.2-0.3-0.5-0.2zM135.9 101.1l0.2 0.6 0.5-0.2-0.5-0.3zM140.3 63.8l2.1-0.2 1 0.5 2.1 2.1 2.2 3.8 0 0.8-0.4 0.7-2.2 1-3.7 0.3-3.3-0.4-2.7-1.3-0.3-1.1 2-3.5 1.5-1.9 1-0.7 0.5 0zM169.9 67.2l2 0 1 0.5 1.8 1.8 3.2 5.7-0.3 1.3-2.2 1.3-4.3 0.5-4.2-0.5-2.5-1.3-0.5-1.4 1-2.1 2.2-3.5 1.8-1.8 0.7-0.2zM153.1 83.2l2.3 0 1 0.5 1.3 1.1 0.6 1-0.2 0.4-1 0.6-2 0.5-3-0.3-1.5-0.9-0.2-0.6 0.7-1 1.8-1z"/><path fill="#6bcd69" d="M142.9 44l1.7 0 1 0.5 2.3 2.5 3.4 7 0 0.8-0.5 0.4-1.7 1.1-1.2 0.4-4.3 0.4-2.7-0.3-2.8-0.7-1.7-1.3-0.2-0.8 0.4-1.5 2.3-4.5 2-2.8 1.2-1 0.5 0zM117.4 60.5l2.5 0.2 2.8 2.8 3.5 6.5 1.5 4 0.5 0.5-0.2 0.3 1.5 3.7 0.1 0.1 1.5-1 2.5 0 0.8 0.2 3.7 3.7 3.2 5.7 3.7 8.8 1 3.2-0.6 1.3-1.3 1.1-2.2 1.2-2.8 1.1 0.3-0.4-0.3-0.2-0.4 0.7-0.3-0.2-1 0.2-0.2 0.5-1.1-0.2-6 3.3-2 0.5-2.7-0.3-4.8-2.5-4.7-1.8-1.7-0.4-9.3 0.2-2.5-0.5-2.8-1.2-0.2-1.4 1.5-2.2 1.7-1.8 1.6-0.8 2.7 0.2 1.5 0.8 3.8 2.8 1.4 0.5 1 0 1.6-0.8 1.9-1.9 1.2-1.8 3.4-6.4-0.1-0.4-1.7 0.4-4.5 0.1-6.5-0.6-3.3-1-1.2-1-0.4-0.8 2.1-7 3.5-9 2.3-4.5 1.5-2.2 1.5-1.6 1.3-0.5zM139.4 100.6l-0.7 0.6 0.2 0.2 0.7-0.6zM135.6 102.6l-0.1 0.2 0.6 0.4 1.8 0 0.2-0.2-0.2-0.2-1.8 0-0.2-0.3zM136.1 99.9l0.8 0.8 1.2 0 0.3-0.6-1.5 0.3-0.6-0.4zM135.9 101.1l-0.2 0.1 0.4 0.5 0.5-0.2-0.5-0.3zM136.9 101.6l0 0.3 1 0 0-0.3-0.8 0zM137.1 99.1l0 0.3 0.5 0 0.3-0.3-0.5 0zM140.3 63.8l2.1-0.2 1 0.5 2.1 2.1 1.8 3.3 0 0.7-0.7 0.8-1.7 0.7-3.5 0.3-3.8-0.6-1.7-0.9-0.4-1 1.1-2.3 2-2.5 1-0.8 0.5 0zM169.9 67.2l2 0 1 0.5 1.8 1.8 2.9 5.3-0.5 1-1 0.8-1.5 0.5-3.7 0.4-4.5-0.7-1.9-1.3-0.3-0.7 0.2-0.8 2-3.5 2.5-2.8 0.7-0.2zM153.1 83.2l2.3 0 1 0.5 1 0.8 0.2 0.5-0.2 0.5-0.8 0.5-1.2 0.3-3.3-0.3-1-0.8 0-0.6 1.8-1.1z"/><path fill="#74cc62" d="M142.9 44l1.7 0 1 0.5 2.3 2.5 3 6 0.1 0.8-0.4 0.6-2 1.2-4.2 0.7-3.5-0.3-2-0.5-2-1.2-0.4-0.8 0.1-1 2.3-4.5 2-2.8 1.2-1 0.5 0zM117.4 60.5l2.5 0.2 2.8 2.8 3.5 6.5 1.5 4 0.5 0.5-0.2 0.3 1.4 3.7 0.2 0.1 1.5-1 2.5 0 0.8 0.2 3.7 3.7 3.2 5.7 4.1 10 0.3 1.6-0.8 1.3-2.5 1.7-9.3 3.1-4.7 2.2-2.8-0.3-6.5-3-5.2-1.7-5 0.4-4.5-0.1-2.8-0.6-1.7-1.3 0-1 1-1.5 1.7-1.8 1.6-0.8 2.7 0.3 1.5 0.7 3.8 2.8 1.4 0.5 1 0 1.6-0.7 1.9-2 1.2-1.8 3.9-7.4-6.8 0.4-5.8-0.5-4.2-1.4-1-0.9-0.2-0.6 1.9-6.3 3.5-9 2.3-4.5 1.5-2.2 1.5-1.6 1.3-0.5zM139.4 100.6l-0.7 0.6 0.2 0.3 0.7-0.7zM135.6 102.5l-0.2 0.3 0.7 0.4 1.8 0 0.2-0.2-0.2-0.2-1.8 0-0.2-0.3zM136.1 99.8l-0.1 0.2 0.9 0.7 1.2 0 0.5-0.5-0.2-0.1-1.5 0.2-0.6-0.3zM135.9 101.1l-0.2 0.1 0.4 0.5 0.5-0.2-0.5-0.3zM136.9 101.5l0 0.5 1 0 0.2-0.2-0.2-0.3-0.8 0zM137.1 99.1l0 0.3 0.8 0 0-0.3-0.5 0zM140.3 63.8l2.1-0.2 1 0.6 2.1 2 0.9 1.6 0.6 1.2-0.5 1-1.9 0.9-3 0.3-3.5-0.5-1.7-0.8-0.6-0.9 0.3-1 2-2.8 1.5-1.3 0.5 0zM169.9 67.2l2 0 1 0.5 1.8 1.8 2.5 4.3-0.1 1.1-2.2 1.3-3.3 0.5-3.7-0.3-2-0.8-1-0.7-0.3-1.4 1.8-3 2.5-2.8 0.7-0.2zM153.1 83.2l2.3 0 1.5 1-0.3 0.6-1.2 0.5-2.5-0.2-1.1-0.9 0.3-0.5 0.8-0.2z"/><path fill="#7ecc5b" d="M142.9 44l1.7 0 1 0.5 2.3 2.5 2.8 5.5 0 1-0.5 0.5-1.1 0.7-2.2 0.6-3 0.2-3.8-0.4-2-0.7-1-0.8-0.3-0.8 0.1-0.8 2-4 2-2.8 1.2-1 0.5 0zM117.4 60.5l2.5 0.2 2.8 2.8 3.5 6.5 1.5 4 0.5 0.5-0.2 0.3 1.4 3.7 0.2 0.1 1.5-1 2.5 0 0.8 0.2 3.7 3.7 3.2 5.7 4.1 10-0.2 1.6-0.7 0.7-3.9 2.3-3.4 1-1.6-0.3-0.2 0.3 0.7 0.4-7 2.5-2.2 0.3-3-0.9-9.5-4-2.5 0-2.7 0.5-4 0-3.3-0.6-1.6-1.2-0.2-0.6 0.8-1.2 1.7-1.8 1.6-0.8 2.7 0.3 1.5 0.7 3.8 2.8 1.4 0.5 1 0 1.6-0.7 1.9-2 1.2-1.8 4.4-8.2-0.1-0.5-0.2 0.4-3.5 0.4-7.5-0.1-3.3-0.6-2.2-0.8-1.3-1-0.2-0.6 1.7-5.7 3.5-9 2.3-4.5 1.5-2.2 1.5-1.6 1.3-0.5zM134.9 102l-0.2 0.2 0.4 0.5 0.3-0.2-0.3-0.3zM139.4 100.5l-0.7 0.7 0.2 0.3 0.7-0.7zM135.9 101l-0.2 0.2 0.4 0.5 0.5-0.2-0.5-0.3zM136.1 99.8l-0.1 0.2 0.9 0.7 1.2 0 0.5-0.5-0.2-0.1-1.5 0.2-0.6-0.3zM137.1 97.9l0 0.2 0.8 0 0-0.2-0.5 0zM136.9 101.5l-0.2 0.3 0.2 0.2 1 0 0.2-0.2-0.2-0.3-0.8 0zM137.1 99.1l0 0.3 0.8 0 0-0.3-0.5 0zM140.3 63.8l2.1-0.1 1 0.5 2 2 1 1.6 0.2 0.4-0.5 1-1.5 0.8-2.7 0.4-2.8-0.2-2.2-1-0.7-1 0.4-1 2-2.5 1-0.8 0.5 0zM169.9 67.2l2 0 1 0.5 1.8 1.8 2.2 3.7 0 0.8-0.7 0.8-1.8 0.7-3.3 0.4-4.2-0.7-1.5-1-0.5-1 1.5-2.7 2.5-2.8 0.7-0.2zM153.1 83.2l2.3 0 0.4 0.6-0.7 0.3-1.2 0-1-0.3 0-0.3z"/><path fill="#87cb54" d="M142.9 44l1.7 0 1 0.5 1.6 1.5 3.2 5.8-0.3 1.2-1 0.8-1.5 0.5-4 0.4-3.7-0.5-2.3-1-0.5-0.7 0-1 1.8-3.5 2-2.8 1.2-1 0.5 0zM117.4 60.5l2.5 0.2 2.8 2.8 3.5 6.5 1.5 4 0.5 0.5-0.2 0.3 1.4 3.7 0.2 0.1 1.5-1 2.5 0 0.8 0.2 3.7 3.7 3.1 5.7 3.7 8.8 0.3 1.2-0.2 0.8-1.1 1.2-3.5 1.9-1.8 0.6-0.2-0.4-0.2 0.2 0.2 0.3-1.5-0.3-0.2 0.3 0.2 0.2 0.8 0-2.3 0.5-0.5-0.5-0.2 0.2 0.7 0.6-6.5 2-2 0.1-3.5-0.9-4.5-1.9-4-2.3 1.3-0.8 2.6-3 4.6-8.5 0.5-1.4-7 0.6-5.7-0.4-2.3-0.5-2.3-1-0.8-0.8-0.2-1 4.3-11.8 3-6.2 2.2-3 1.5-1.3 0.6 0zM139.4 100.5l-0.7 0.7 0.2 0.3 0.7-0.7zM137.1 97.9l0 0.2 0.8 0 0-0.2-0.5 0zM135.9 101l-0.2 0.2 0.4 0.5 0.5-0.2-0.5-0.3zM136.1 99.8l-0.1 0.2 0.9 0.7 1.2 0 0.5-0.5-0.2-0.2-1.5 0.3-0.6-0.3zM137.1 99.1l0 0.3 0.8 0 0-0.3-0.5 0zM140.3 63.8l2.1-0.1 1 0.5 2.5 2.8 0.3 0.8-0.2 0.4-1.9 1.1-2.2 0.3-2.8-0.3-1.9-0.8-0.6-0.9 0.5-1.1 1.5-1.8 1-0.8 0.5 0zM169.9 67.2l2 0 1 0.5 1.8 1.8 1.5 2.3 0.4 1-0.2 0.8-2.3 1.2-3 0.3-3-0.3-2.3-1-0.5-1 1.1-2.3 2.5-2.8 0.7-0.2zM104.1 95.5l2.1-0.1 0.7 0.3 5.6 3.5 0.1 0.6-2.2 0.7-2.8 0.3-3.2-0.1-2.3-0.5-1.5-1.1 0-0.6 2-2.3 1.3-0.5z"/><path fill="#90ca4d" d="M142.9 44l1.7 0 1 0.5 2.3 2.5 2.3 4.2-0.2 0.8-0.6 0.8-1.3 0.6-2 0.4-3.2 0.1-3.3-0.6-2-1.1-0.2-1.2 1.5-3 2-2.8 1.2-1 0.5 0zM117.4 60.5l2.5 0.2 2.8 2.8 3.5 6.5 1.5 4 0.5 0.5-0.2 0.3 1.4 3.7 0.2 0.1 1.5-1 2.5 0 0.8 0.2 3.6 3.7 3.2 5.7 3.7 8.8-0.1 1.2-1.2 1.4-3 1.6-3.7 1.1-1-0.3-0.2 0.2 0.2 0.5-1.3 0.2-0.2 0.3-5.5 1.7-3.5-0.2-3.3-1.3-0.2 0.1-4.3-2-1.3-1-0.2-0.5 2-2 1.9-3 4.4-8.8-1 0.2-0.2-0.4-0.3 0.5-5.5 0.5-4.8-0.2-3.4-0.7-2.1-0.8-1.1-1.1-0.1-1 4-11 3-6.2 2.2-3 1.5-1.3 0.6 0zM136.1 99.8l-0.2 0.2 1 0.7 1.2 0 0.5-0.5-0.2-0.2-1.5 0.3-0.5-0.3zM137.1 97.8l0 0.4 0.8 0 0-0.4-0.5 0zM137.1 99.1l0 0.4 0.8 0 0.2-0.3-0.2-0.1-0.5 0zM140.3 63.8l2.1-0.1 1 0.5 2 2 0.2 1.3-1.2 0.8-2.5 0.4-2-0.1-2.3-0.8-0.5-0.7 0.1-0.6 1.4-1.8 1-0.8 0.5 0zM169.9 67.2l2 0 1 0.5 1.8 1.8 1.5 2.3 0 0.7-0.3 0.4-2 1.1-2.8 0.3-2.5-0.3-2.5-1-0.5-1.1 0.8-1.4 2.5-2.8 0.7-0.2zM104.1 95.5l2.8 0.2 4 2.5 0.3 0.6-0.1 0.2-1.7 0.8-2.5 0.2-3.3-0.3-1.7-0.6-0.8-0.9 0-0.4 1.5-1.6 1.3-0.5z"/><path fill="#99c946" d="M142.9 44l1.7 0 1 0.5 1.6 1.5 2.7 4.8-0.5 0.9-1 0.7-1.3 0.4-3.5 0.4-3.1-0.4-2.5-1.3-0.3-1 1.2-2.5 2-2.8 1.2-1 0.5 0zM117.4 60.5l2.5 0.2 2.8 2.8 3.5 6.5 1.5 4 0.5 0.5-0.2 0.3 1.4 3.7 0.2 0.1 1.5-1 2.5 0 0.8 0.2 3.6 3.7 3.2 5.7 3.2 7.6 0.2 1.7-1 1.2-2 1.3-2.5 1-2.2 0.3-0.8-0.5-0.2 0.2 0.7 0.7-8.2 2.3-3-0.2-3.5-1.2-3.3-1.4-1.5-1.2-0.2-0.8 2.4-3 5.9-11-5 0.9-6.8 0-3.2-0.5-2.6-0.9-1.1-0.7-0.4-0.8 0-0.7 2.8-7.7 4-8.8 2.2-3 1.5-1.3 0.6 0zM137.1 97.8l0 0.4 0.8 0 0-0.4-0.5 0zM137.1 99l-0.2 0.2 0.2 0.3 0.8 0 0.2-0.3-0.2-0.2-0.5 0zM140.4 63.8l2-0.1 1 0.5 1.8 1.8-0.3 1-1.8 0.7-1.5 0.2-3.2-0.7-0.8-1 0.3-0.7 1.7-1.5 0.5 0zM169.9 67.2l2 0 1 0.5 2.5 2.8 0.4 1-0.2 0.7-2.2 1.1-2 0.2-2.3-0.2-2.5-0.9-0.5-0.9 0.3-1 2.5-2.8 0.7-0.2zM104.1 95.5l2.8 0.2 2.3 1.3 0.8 0.8 0 0.4-1.1 0.6-2.5 0.3-2-0.1-1.8-0.6-0.7-0.5-0.2-0.7 0.9-1 1.3-0.5z"/><path fill="#a2c83f" d="M142.9 44l1.7 0 1 0.5 1.6 1.5 2.2 3.8 0.1 0.7-0.4 0.5-2.2 1-3 0.3-3.8-0.5-1.7-0.9-0.4-0.9 0.9-2 2-2.8 1.2-1 0.5 0zM117.4 60.5l2.5 0.2 2.8 2.8 3.5 6.5 1.5 4 0.5 0.5-0.3 0.3 1.5 3.7 0.2 0.1 1.5-1 2.5 0 0.8 0.2 3.6 3.7 3.2 5.7 3.2 7.6 0 0.9-1 1.3-2 1.3-3 1.1-2.3 0.4-0.2 0.4-5.3 1.5-3 0.4-2.2-0.2-3.5-1.1-3.3-1.6-0.9-1-0.1-0.7 2.5-3.5 4.3-8.8 1.3-1.7-0.1-0.3-1 0.4-0.7 0-0.3-0.3-0.2 0.2 0.3 0.3-0.3 0.1-3 0.4-6.8 0-3.2-0.4-2.5-0.9-0.7-0.4-0.8-1.1 0-0.7 2.5-7 4-8.8 2.2-3 1.5-1.3 0.6 0zM137.1 96.6l0 0.3 0.5 0 0.2-0.1-0.4-0.2zM137.1 97.8l0 0.4 0.8 0 0.2-0.2-0.2-0.2-0.5 0zM137.1 99l-0.2 0.2 0.2 0.3 0.8 0 0.2-0.3-0.2-0.2-0.5 0zM140.4 63.8l2-0.1 1 0.5 1.3 1.3-0.1 0.5-1.5 0.8-1.2 0.2-3-0.5-0.7-0.7 0-0.6 1.4-1.2 0.5 0zM169.9 67.2l2 0 1 0.5 2.5 2.8 0 0.7-1.3 0.9-2 0.5-2.5-0.1-2-0.5-1-0.8-0.1-0.7 2.4-2.8 0.7-0.2zM104.1 95.5l2.8 0.2 1.5 0.8 0.6 0.5-0.1 0.5-2.7 0.7-2-0.2-1.3-0.5-0.6-0.7 0.3-0.6 1.3-0.5z"/><path fill="#acc739" d="M142.9 44l1.7 0 1 0.5 1.6 1.5 2 3.2-0.7 1.3-1.4 0.6-3.2 0.4-2.5-0.2-2.8-1.2-0.2-1.1 1.5-2.5 1.2-1.5 1-0.8 0.5 0zM117.4 60.5l2.5 0.2 2.8 2.8 3.5 6.5 1.5 4 0.5 0.5-0.3 0.3 1.5 3.7 0.2 0.2 1.5-1.1 2.5 0 0.8 0.2 3.6 3.7 3.2 5.7 3 7-0.2 1-1.1 1.3-2.8 1.5-2.7 0.8-0.8 0-0.2 0.4-1 0.3-5.3 1.3-2.5 0.3-3-0.4-3.4-1.2-1.8-0.8-1.2-1.2 0-0.7 1.9-2.8 6.1-11.7-0.8 0-0.8 0.5-3.4 0.7-5.8 0.2-5.5-0.8-2-0.8-1.3-1.1 0-1 2.3-6.2 4-8.8 2.2-3 1.5-1.3 0.6 0zM138.6 97.3l-0.4 0.5 0.2 0.2 0.5-0.5zM124.6 79.4l0.5 0.5 0.4-0.1-0.6-0.4zM136.9 95.1l0 0.3 0.7 0 0-0.3-0.5 0zM135.9 98.3l-0.2 0.2 0.4 0.5 0.3-0.2-0.3-0.3zM137.1 96.6l0 0.3 0.5 0 0.2-0.1-0.4-0.2zM125.6 81.5l-0.2 0.3 0.5 0.2 0.2-0.2-0.2-0.3zM137.1 97.8l-0.2 0.2 0.2 0.2 0.8 0 0.2-0.2-0.2-0.2-0.5 0zM140.4 63.8l2-0.1 1.5 1.1-0.1 0.4-1.9 0.7-2-0.2-0.8-0.5-0.2-0.4 0.7-0.8 0.5 0zM169.9 67.2l2 0 1 0.5 1.8 1.8 0.2 0.7-0.3 0.5-1 0.6-2.5 0.4-3.5-0.7-0.6-0.8 0.1-0.7 1.8-1.8 0.7-0.2zM104.1 95.5l2.1 0 1.2 0.5 0.4 0.5-1.2 0.4-1.7 0.1-1.5-0.7-0.1-0.3 0.6-0.3z"/><path fill="#b5c533" d="M142.9 44l1.7 0 1 0.5 1.6 1.5 1.5 2.2-0.4 1.3-1.2 0.7-3.2 0.4-2.8-0.3-1.8-0.8-0.5-0.7 0.1-0.8 2-2.8 1.2-1 0.5 0zM117.4 60.5l2.5 0.2 2.8 2.8 3.5 6.5 1.5 4 0.5 0.5-0.3 0.3 1.5 3.7 0.2 0.2 1.5-1 2.5-0.1 0.8 0.3 3.6 3.6 3.2 5.7 2.7 6.3-0.2 1-1.1 1.3-2.2 1.2-1.5 0.6-0.3-0.3-0.7 0.5-0.8 0-0.2 0.4-1 0.1-1 0.5-7 1.4-3.3-0.4-3.4-1.3-1.1-0.5-1.3-1.2 0.1-1 2.4-4 3.2-6.6 2.4-3.9-2.3 0.7-0.4-0.1-0.3-0.4-0.2 0.3 0.2 0.3-3.3 0.6-6.7 0.1-5-1-1.3-0.8-0.7-1 0.2-1.5 0.5-0.7 2.3-6.6 3-6.2 2.2-3 1.5-1.3 0.6 0zM124.4 79.1l0.8 0.8 0.4-0.1-0.2-0.2-0.9-0.4zM136.9 95.1l0 0.3 0.7 0 0-0.3-0.5 0zM137.1 96.5l-0.2 0.3 0.2 0.2 0.5 0 0.3-0.2-0.5-0.3zM140.4 63.8l2-0.1 0.4 0.3-0.2 0.5-1.7 0.1-0.9-0.4 0.1-0.2zM169.9 67.2l2 0 1 0.5 1.5 1.5-0.3 0.6-1.5 0.8-1.5 0.2-2.7-0.6-0.8-0.7 0-0.5 1.3-1.3 0.7-0.2z"/><path fill="#bec32e" d="M142.9 44l1.7 0 1 0.5 2.3 2.5 0.4 1-0.3 0.5-2 1-1.9 0.2-2-0.1-2.2-0.8-0.7-0.8 0.2-0.8 1.7-2.2 1-0.8 0.5 0zM117.4 60.5l1.8 0 1.4 0.7 3.1 3.8 2.5 5 1.2 3.5 0.8 1-0.3 0.3 1.3 3-0.1 1 2-1.1 2.5-0.1 1.5 0.8 2.9 3.1 3 5.3 2.4 5.7 0.1 1-1.2 1.5-2.9 1.5-3.3 1.1-8 1.6-2.5-0.2-1.7-0.4-3.5-1.4-1-1-0.2-0.7 2.1-3.7 1.7-3.8 4.9-8.1-1.7 0.8-0.8-0.2-0.2 0.5-3.5 0.8-6.3 0.2-5.5-0.8-2-0.9-0.8-1.1 0.1-0.7 0.4-0.7 2.3-6.6 3-6.2 2.2-3 1.5-1.3 0.6 0zM136.4 93.4l0.2 0.5 0.8 0 0-0.3-0.9-0.1zM124.4 79.1l-0.2 0.1 1 0.8 0.4-0.2-0.2-0.2-0.8-0.4zM135.9 94.3l-0.2 0.2 0.7 0.7 0.2-0.2-0.5-0.5zM136.9 95.1l0 0.3 0.7 0 0-0.3-0.5 0zM137.1 96.5l-0.2 0.3 0.2 0.2 0.5 0 0.3-0.2-0.5-0.3zM169.9 67.2l2 0 1 0.5 0.8 0.8-0.3 0.5-1.8 0.7-2.2-0.2-1-0.6-0.1-0.4 0.6-0.8 0.7-0.2z"/><path fill="#c8c129" d="M142.9 44l1.7 0 1 0.5 2.1 2.3-0.2 1-1.6 0.7-1.5 0.2-2.3-0.2-1.9-0.7-0.5-0.8 0.2-0.5 1.2-1.5 1-0.8 0.5 0zM117.4 60.5l1.8 0 1.4 0.7 3.1 3.8 2.5 5 1.2 3.5 0.8 1-0.3 0.3 1 2.2 0 0.8-0.5 0.7-2.8 1.5-0.2-0.5-1-0.5-0.2 0.2 0.4 0.5 0.9 0.3-1.1 0.3-0.5-0.3-1.3 0.7-4.5 0.4-3.7 0-3.2-0.5-2.6-0.9-1-0.9-0.2-0.8 1.5-4.2 4-8.8 2.2-3 1.5-1.3 0.6 0zM169.9 67.2l2 0 0.7 0.6-0.2 0.3-2.3 0.2-0.7-0.3 0-0.5 0.2 0zM131.1 77.8l2.5-0.2 0.8 0.3 3.6 3.6 2.2 3.7 3 6.6 0 1-0.7 1-3.6 2-4.3 1.2-5.2 1.1-2.8 0-2.5-0.5-2.7-1.1-1.6-1.3-0.1-0.7 6.7-12.5 2.7-3.2 1.8-0.9zM136.4 93.3l-0.2 0.2 0.4 0.4 0.8 0 0-0.3-0.8-0.1zM135.9 94.3l-0.2 0.2 0.7 0.7 0.2-0.2-0.5-0.5zM136.9 95l-0.2 0.2 0.2 0.3 0.7 0 0.3-0.3-0.3-0.2-0.5 0z"/><path fill="#d2bf27" d="M142.9 44l1.7 0 1 0.5 1.5 1.5-0.2 0.6-1.3 0.7-1.5 0.3-1.2-0.1-2-0.6-0.5-0.9 0.7-1 1-0.8 0.5 0zM117.4 60.5l1.8 0 1.4 0.7 3.1 3.8 2.5 5 1.2 3.5 0.8 1-0.3 0.3 0.7 1.9-0.6 1.1-1.1 0.7-4.3 1.2-6 0.5-5.4-0.6-1.8-0.6-1.5-1.1-0.2-0.7 1.2-3.4 4-8.8 2.2-3 1.5-1.3 0.6 0zM124.6 77.3l0 0.4 0.6 0 0.1-0.2-0.4-0.2zM124.6 78.3l-0.2 0.2 0.5 0.2 0.2-0.2-0.2-0.2zM131.1 77.8l2.5-0.2 0.8 0.3 3.6 3.6 2.2 3.7 2.7 6-0.1 0.8-0.7 0.8-3.7 2.1-1.5 0.1-0.3 0.5-1 0.3-5.7 1.1-2.3 0.1-2.5-0.3-2.2-0.6-2.1-1.1-0.5-1 0.1-0.8 4.8-9.2 2.7-4 1.2-1.2 1.8-0.9zM136.4 93.3l-0.2 0.2 0.4 0.5 0.8 0 0.2-0.2-0.2-0.3-0.8 0zM135.9 94.3l-0.2 0.2 0.7 0.7 0.2-0.2-0.5-0.5z"/><path fill="#dcbd29" d="M142.9 44l1.7 0 1.6 1-0.1 0.5-1.7 0.7-1.8 0-1.3-1 0.8-1 0.5 0zM117.4 60.5l1.8 0 1.4 0.7 3.1 3.8 2.5 5 1.2 3.5 0.8 1-0.3 0.3 0.4 1-0.4 0.8-1.7 1.1-2 0.6-5.8 0.8-4.5-0.1-2.7-0.5-2.8-1.3-0.3-1.4 2.5-6.3 2.3-4.5 2.2-3 1.5-1.3 0.6 0zM124.4 76.1l0 0.3 0.5 0 0.2-0.2-0.5-0.1zM124.6 77.3l-0.2 0.2 0.2 0.2 0.5 0 0.3-0.2-0.5-0.2zM131.1 77.8l2.5-0.2 0.8 0.3 2.8 2.6 3 4.7 2.2 4.8 0.1 1-0.9 1-1.5 1-2.7 1.2-1.5 0.1-0.3 0.3-1.2 0.4-4.8 0.8-4.2-0.2-2.7-0.8-1.5-1.1-0.4-0.7 0.1-0.8 5.6-10.2 2.6-3.2 1.8-0.9zM136.4 93.3l-0.2 0.2 0.4 0.5 0.8 0 0.2-0.2-0.2-0.3-0.8 0zM136.6 91.8l0 0.4 0.5 0 0.2-0.2-0.4-0.2z"/><path fill="#e5bb2d" d="M142.9 44l1.7 0 0.2 0.2-0.4 0.3-1 0-0.6-0.3 0.1-0.1zM117.4 60.5l2.5 0.2 2.8 2.8 3.5 6.5 1.5 4 0.5 0.5-0.4 0.7-1.9 1.4-2 0.6-0.5-0.2-1.2 0.6-4.3 0.4-6.3-0.5-2.2-0.8-0.8-0.7-0.2-0.8 0.5-1.4 4-8.8 2.2-3 1.5-1.3 0.6 0zM124.4 76l-0.2 0.2 0.2 0.3 0.5 0 0.2-0.3-0.5-0.2zM131.1 77.8l2.5-0.2 0.8 0.3 2.8 2.6 1.8 2.5 2.9 6 0.2 1-1 1.3-2.7 1.4-2.3 0.5-0.2-0.4-0.2 0.2 0.4 0.3-0.2 0.1-1.3 0.4-5.7 0.9-3.8-0.4-2.9-1.1-0.8-0.9 0-0.8 1.7-3.5 3.9-6.8 2.1-2.4 1.8-0.9zM136.6 91.8l-0.2 0.2 0.2 0.2 0.5 0 0.3-0.2-0.5-0.2z"/><path fill="#edba34" d="M117.4 60.5l1.8 0 1.4 0.7 3.1 3.8 3.7 8 0.1 1-0.9 1-1.2 0.7-3 0.8-5 0.5-5.8-0.6-1.7-0.6 0-0.3-1-0.6 0-1.1 1-2.6 3-6.2 2.2-3 1.5-1.3 0.6 0zM131.1 77.8l2.5-0.2 0.8 0.3 2.8 2.6 1.8 2.5 2.7 5.5-0.1 0.7-1 1.1-3 1.6-1-0.1-0.2 0.4-1 0.3-5 0.9-4.2 0-3.1-1-0.8-0.6-0.4-1.3 4.6-8.5 2.6-3.2 1.8-0.9z"/><path fill="#f5ba3b" d="M117.4 60.5l2.5 0.2 2.8 2.8 3.5 6.5 1 2.5-0.3 1.1-2 1.2-0.7 0-0.3 0.3-1.5 0.4-4.5 0.4-5.7-0.5-1.6-0.4-1.3-1-0.2-0.8 0.8-2 3-6.2 2.2-3 1.5-1.3 0.6 0zM131.1 77.8l2.5-0.1 0.8 0.2 2.8 2.6 1.7 2.5 2.3 4.2 0.1 0.8-0.4 0.8-1 0.9-1.8 0.8-2 0.6-0.5-0.3-0.2 0.2 0.2 0.3-4.5 1-4.7-0.1-2.8-0.8-1-0.9-0.2-1 4.6-8.3 2.1-2.4 1.8-0.9z"/><path fill="#fdbd3d" d="M117.4 60.5l2.5 0.2 2.8 2.8 1 1.5 3 6.2 0.1 0.8-0.8 1-3.8 1.3-4.3 0.5-5.3-0.4-2.7-1.2-0.3-0.7 0.3-1.3 3-6.2 2.2-3 1.5-1.3 0.6 0zM131.1 77.8l2.5-0.1 0.8 0.2 2.8 2.6 3.5 5.7 0 1-0.7 1-3.1 1.6-6.5 1.3-4.3-0.2-2.5-0.9-0.5-0.5-0.2-0.8 0.2-0.7 3.9-6.8 2.1-2.3 1.8-1z"/><path fill="#fec438" d="M117.4 60.5l2.5 0.2 2 1.8 1.8 2.5 2.5 5-0.1 1-0.8 0.8-1.4 0.5-5.3 1-4.7-0.2-2-0.5-1.5-0.8-0.3-1 2.8-5.8 2.2-3 1.5-1.3 0.6 0zM131.1 77.8l2.5-0.1 0.8 0.2 2.8 2.6 2.9 4.7-0.1 1-0.6 0.7-3.8 1.7-5.5 0.9-4.2-0.3-1.1-0.4-0.8-0.8-0.3-0.8 3.4-6 2-2.3 1.8-0.9z"/><path fill="#fdcb33" d="M117.4 60.5l2.5 0.2 2 1.8 1.8 2.5 1.9 4-0.2 0.8-0.8 0.7-1.7 0.6-4.7 0.7-4.8-0.3-2.5-1.1-0.2-0.9 2.2-4.5 2.2-3 1.5-1.3 0.6 0zM131.1 77.8l2.5-0.1 1.5 0.7 2.1 2.1 1.7 2.5 0.6 1.5-0.4 0.7-2.2 1.4-5 1.2-4.3 0.1-2.5-0.9-0.6-0.8-0.1-0.4 2.2-3.8 2.5-3.1 1.8-0.9z"/><path fill="#fbd22f" d="M117.4 60.5l2.5 0.2 2 1.8 1.8 2.5 1.2 2.5-0.1 1-0.6 0.6-2 0.7-3.6 0.5-4.4-0.2-2.7-1.1-0.1-1 3-5.2 1.5-1.6 1.3-0.5zM131.1 77.8l2.5-0.1 1.5 0.8 2.1 2 1.2 1.7 0.4 0.8-0.4 1-3 1.5-4 0.8-3.5 0-2.3-0.9-0.4-0.9 1.9-3.3 2-2.3 1.8-0.9z"/><path fill="#f8da2b" d="M117.4 60.5l2.5 0.2 2 1.8 2.5 4-0.2 0.8-1 0.7-1.8 0.5-4 0.4-3-0.3-2.2-1-0.3-0.6 2.5-4.2 1.5-1.6 1.3-0.5zM131.1 77.8l2.5-0.1 1.5 0.8 2.8 3 0.1 0.5-0.4 0.8-1.7 1-4.5 0.9-3 0-1.6-0.5-0.6-0.6-0.1-0.8 3-3.8 1.8-1z"/><path fill="#f5e227" d="M117.4 60.5l1.8 0 1.4 0.7 3.1 3.8-0.2 1-1.6 0.8-3.5 0.6-3.5-0.2-1.9-0.7-0.4-1 1.8-2.7 1.5-1.6 1.3-0.5zM131.1 77.8l2.5-0.1 1.5 0.8 2 2-0.5 1-1 0.7-2.5 0.7-3 0.3-2.5-0.4-0.6-0.8 0.1-0.8 2-2.2 1.8-1z"/><path fill="#f5ea24" d="M117.4 60.5l1.8 0 1.4 0.7 2.1 2.3 0.2 0.7-0.3 0.4-2.2 1-2.2 0.2-2.8-0.2-1.8-0.6-0.2-0.8 1-1.4 1.5-1.6 1.3-0.5zM131.1 77.8l3.3 0.2 1.5 1.2 0 0.7-1.8 1-2.5 0.5-2.7-0.3-0.8-0.5 0.1-0.6 0.9-1 1.8-1z"/><path fill="#f6f11e" d="M117.4 60.5l2.5 0.2 2 1.8-0.1 0.7-1.2 0.6-2 0.4-2 0-1.7-0.5-0.5-0.5 0-0.4 1.5-1.6 1.3-0.5zM131.1 77.8l3.3 0.2 0.1 0.5-0.4 0.5-1.5 0.5-2.5-0.2-0.5-0.5 1.3-0.8z"/><path fill="#f8f818" d="M117.4 60.5l2.5 0.2 0.8 0.5-0.1 0.7-1.5 0.6-2.9-0.1-0.6-0.4 0-0.5 1-0.8 0.6 0z"/></g>
<path class="a" d="M119 167.1L238.5 134.5"/><path class="a" d="M119 167.1L32.4 122.4"/><path class="a" d="M32.4 122.4L32.4 38.6"/><path class="a" d="M119 167.1L121.9 168.6"/><path class="a" d="M142.9 160.6L145.8 162"/><path class="a" d="M166.8 154.1L169.7 155.5"/><path class="a" d="M190.7 147.5L193.6 149"/><path class="a" d="M214.6 141L217.5 142.5"/><path class="a" d="M238.5 134.5L241.3 136"/><path class="a" d="M119 167.1L116 167.9"/><path class="a" d="M75.7 144.8L72.6 145.6"/><path class="a" d="M32.4 122.4L29.3 123.2"/><path class="a" d="M32.4 122.4L30.1 121.2"/><path class="a" d="M32.4 105.6L30.1 104.4"/><path class="a" d="M32.4 88.9L30.1 87.7"/><path class="a" d="M32.4 72.1L30.1 70.9"/><path class="a" d="M32.4 55.4L30.1 54.2"/><path class="a" d="M32.4 38.6L30.1 37.4"/><text x="124" y="177.4">0</text><text x="147.9" y="170.9">20</text><text x="171.8" y="164.4">40</text><text x="195.7" y="157.8">60</text><text x="219.6" y="151.3">80</text><text x="243.5" y="144.8">100</text><text x="113.2" y="175.8" text-anchor="end">0</text><text x="69.9" y="153.5" text-anchor="end">50</text><text x="26.6" y="131.1" text-anchor="end">100</text><text x="27" y="122.6" text-anchor="end">0</text><text x="27" y="105.8" text-anchor="end">20</text><text x="27" y="89.1" text-anchor="end">40</text><text x="27" y="72.3" text-anchor="end">60</text><text x="27" y="55.6" text-anchor="end">80</text><text x="27" y="38.8" text-anchor="end">100</text>
<path d="M152.4 1.6L153.2 3.8L155.6 3.9L153.8 5.4L154.4 7.8L152.4 6.4L150.4 7.8L151 5.4L149.2 3.9L151.6 3.8z" fill="#f5e020" stroke="#101010" stroke-width=".6"/>
<path class="m" d="M126.7 143.7a1.7 1.7 0 1 0 3.4 0a1.7 1.7 0 1 0-3.4 0M123.6 142.7a1.7 1.7 0 1 0 3.4 0a1.7 1.7 0 1 0-3.4 0M120.6 141.3a1.7 1.7 0 1 0 3.4 0a1.7 1.7 0 1 0-3.4 0M117.9 139.5a1.7 1.7 0 1 0 3.4 0a1.7 1.7 0 1 0-3.4 0M115.6 137a1.7 1.7 0 1 0 3.4 0a1.7 1.7 0 1 0-3.4 0M113.3 134.6a1.7 1.7 0 1 0 3.4 0a1.7 1.7 0 1 0-3.4 0M111 132.3a1.7 1.7 0 1 0 3.4 0a1.7 1.7 0 1 0-3.4 0M109 129.7a1.7 1.7 0 1 0 3.4 0a1.7 1.7 0 1 0-3.4 0M107.4 126.9a1.7 1.7 0 1 0 3.4 0a1.7 1.7 0 1 0-3.4 0M107.3 123.7a1.7 1.7 0 1 0 3.4 0a1.7 1.7 0 1 0-3.4 0M108.8 120.8a1.7 1.7 0 1 0 3.4 0a1.7 1.7 0 1 0-3.4 0M110.3 117.8a1.7 1.7 0 1 0 3.4 0a1.7 1.7 0 1 0-3.4 0M111.8 114.9a1.7 1.7 0 1 0 3.4 0a1.7 1.7 0 1 0-3.4 0M111.3 111.7a1.7 1.7 0 1 0 3.4 0a1.7 1.7 0 1 0-3.4 0M110.5 108.5a1.7 1.7 0 1 0 3.4 0a1.7 1.7 0 1 0-3.4 0M110.6 105.2a1.7 1.7 0 1 0 3.4 0a1.7 1.7 0 1 0-3.4 0M111.8 102.2a1.7 1.7 0 1 0 3.4 0a1.7 1.7 0 1 0-3.4 0M113.2 99.2a1.7 1.7 0 1 0 3.4 0a1.7 1.7 0 1 0-3.4 0M114.4 96.1a1.7 1.7 0 1 0 3.4 0a1.7 1.7 0 1 0-3.4 0M115 92.8a1.7 1.7 0 1 0 3.4 0a1.7 1.7 0 1 0-3.4 0M114.8 89.6a1.7 1.7 0 1 0 3.4 0a1.7 1.7 0 1 0-3.4 0M114.8 86.4a1.7 1.7 0 1 0 3.4 0a1.7 1.7 0 1 0-3.4 0M115.9 83.2a1.7 1.7 0 1 0 3.4 0a1.7 1.7 0 1 0-3.4 0M116.9 80.1a1.7 1.7 0 1 0 3.4 0a1.7 1.7 0 1 0-3.4 0"/><path class="bd" stroke-opacity=".5" stroke-width="4.6" d="M118.6 80.1L125.9 72.1L133.2 63L139.3 55L145.5 46.5L149.1 39.1L152.2 30.6L153.8 22L154 14.7L153.4 8.6L152.4 5.1"/><path class="bd" stroke-width="3" d="M118.6 80.1L125.9 72.1L133.2 63L139.3 55L145.5 46.5L149.1 39.1L152.2 30.6L153.8 22L154 14.7L153.4 8.6L152.4 5.1"/><path class="r" d="M119.6 165.6L128.2 144.2L128.4 143.7L124.5 142.4L120.3 140.3L116.9 136.5L112.7 132.3L109.4 128.1L108.5 124.7L110.2 121.3L111.9 118L113.6 114.6L112.7 110.4L111.9 107.1L112.7 103.7L114.4 100.3L116.1 96.1L116.9 91.9L116.1 87.7L116.9 85.2L118.6 80.1L125.9 72.1L133.2 63L139.3 55L145.5 46.5L149.1 39.1L152.2 30.6L153.8 22L154 14.7L153.4 8.6L152.4 5.1"/><path class="bd" stroke-width="4.2" d="M119.6 165.6L128.2 144.2"/><path class="bd" stroke-width="4.6" d="M153.9 13L153.4 8.6L152.5 5.6"/>
<circle cx="152.4" cy="5.3" r="2.2" fill="#0000ff"/><rect x="116.6" y="164.5" width="5" height="5" fill="#5a78e0" stroke="#3050e0" stroke-width=".5"/><path d="M116.6 164.5L119.1 165.6L121.6 164.5L120.5 167L121.6 169.5L119.1 168.4L116.6 169.5L117.7 167z" fill="#f6f010"/>
</g>
<g id="panel-c" style="font-size:6.3px">
<path class="g" d="M22.9 335.4L22.9 248"/><path class="g" d="M48.2 328.2L48.2 240.8"/><path class="g" d="M73.6 321L73.6 233.6"/><path class="g" d="M98.9 313.9L98.9 226.5"/><path class="g" d="M124.3 306.7L124.3 219.3"/><path class="g" d="M149.6 299.5L149.6 212.1"/><path class="g" d="M22.9 335.4L149.6 299.5"/><path class="g" d="M149.6 299.5L243.2 347.8"/><path class="g" d="M22.9 317.9L149.6 282"/><path class="g" d="M149.6 282L243.2 330.3"/><path class="g" d="M22.9 300.4L149.6 264.5"/><path class="g" d="M149.6 264.5L243.2 312.8"/><path class="g" d="M22.9 283L149.6 247.1"/><path class="g" d="M149.6 247.1L243.2 295.4"/><path class="g" d="M22.9 265.5L149.6 229.6"/><path class="g" d="M149.6 229.6L243.2 277.9"/><path class="g" d="M22.9 248L149.6 212.1"/><path class="g" d="M149.6 212.1L243.2 260.4"/><path class="g" d="M243.2 347.8L243.2 260.4"/><path class="g" d="M196.4 323.6L196.4 236.2"/>
<g fill-rule="evenodd"><path fill="#3e28ac" d="M140.1 252.1l2 0 1 0.5 2.1 2 2 3.2 2.7 6 0.3 1.3 1.5 3.3 6 16.2 2.2 5 0.7 0.7 1-1.5 0-0.4 2.8-5.6 2.5-3.7 1-1 1.7-1 2 0 1 0.5 1.3 1 2.5 3.5 3.3 6.7 8 20.3 4.2 8 2.7 3.2 3 1.5 8 5.8 7.8 4.7 29.2 15 0.6 0.5-19 5.3-1 0.5-0.8 0-1 0.5-0.8 0-1 0.5-0.7 0-1 0.5-0.7 0-1 0.5-3.6 0.8-3.4 1.2-7.1 1.8-1 0.5-0.7 0-1 0.5-0.8 0-1 0.5-1.7 0.2-9.8 3-1.7 0.3-6.3 2-12.5 3.2-2.7 1-17.8 4.3-19.2 6.2-4.3 1-3.4 1.3-2 0.2-11.6-6-10.7-6.2-13.5-9.8-3.5-1.7-3-1-7.5-1.8-5.8-2.2-37.5-19.3-0.2-0.3 1.5-0.5 7-1.7 5.2-1.8 8-2 1.8-0.7 5.2-1.3 1-0.5 0.8 0 1-0.5 0.7 0 8-2.5 1.8-0.2 1-0.5 0.7 0 1-0.5 0.8 0 1-0.5 8.7-2.3 15.3-4.5 0.7-0.9 1.8-4.6 9-25.7 2.5-5.7 2.2-4 2.8-3.1 1-0.5 1.8-0.2 1.7 0.7 1.3 1.1 1.7 2.2 3.5 6.8 0.5 1.4 0.7 0.8 0.5-0.5 5.5-15 3-7.3 3.3-6 1.2-1.5 1.8-1z"/><path fill="#402bb7" d="M140.1 252.1l2 0 1 0.5 2.1 2 2 3.2 2.7 6 0.3 1.3 1.5 3.3 6 16.2 2.2 5 0.7 0.7 1-1.5 0-0.4 2.8-5.6 1.7-2.7 1.8-2 1.7-1 2 0 2 1.2 1.3 1.5 1.5 2.3 2.5 5 7.8 19.7 5.2 10.3 2.7 3.2 3 1.5 8 5.8 0.3 1.8-0.1 1.2-0.7 1.8-1.2 1.4-1.4 1.3-3 2-11.1 4.5-4.5 4.8-6.3 4.2-0.6 1-1.1 2.8-1.3 2-2.5 2.4-2.7 2-4.5 2.5-8 3.5-5.3 3.9-3.7 2.1-6.1 2-5.2 1.1-9.7 0.8-10-0.4-7.5-1.3-10.8-3-5.5-1.1-12.7-9.3-3.5-1.7-3-1-7.5-1.8 0-2.3 1.1-2.4 1.9-2 3.4-2.6 0.7-1-0.1-0.7-2.3-3.5-0.1-2 0.9-2 1.7-2 2-1.5 3.8-2 5.2-2 1.8-2 2.3-3.5 4-8.5 0-0.5 1.4-2.2 10.8-30.3 2.5-5.7 2.2-4 2.8-3.1 1-0.5 1.8-0.2 1.7 0.7 1.3 1.1 1.7 2.2 3.5 6.8 0.5 1.4 0.7 0.8 0.5-0.5 5.5-15 3-7.3 3.3-6 1.2-1.5 1.8-1z"/><path fill="#422fc1" d="M140.1 252.1l2 0 1 0.5 2.1 2 2 3.2 2.7 6 0.3 1.3 1.5 3.3 6 16.2 2.2 5 0.7 0.7 1-1.5 0-0.4 2.8-5.6 1.7-2.7 1.8-2 1.7-1 2 0 2 1.2 1.3 1.5 1.5 2.3 2.5 5 7.8 19.7 3.7 7.8 2 3.2 2.2 2.5 1.8 0.8 4.2 2.7 1.3 1.7 0.7 1.9 0 1.7-0.4 1.5-1.6 2.1-2.2 1.8-3.3 1.7-7.5 2.6-2.1 1-2.7 3.3-1.9 1.8-7.3 4.4-0.6 0.8-0.7 2.7-1.3 2.3-1.9 2.1-3 2.2-5.2 2.9-6.8 3-5.2 4.1-2 1.2-3.8 1.5-5.2 1.4-6.3 0.9-7.2 0.3-7.3-0.5-5.7-1-12.8-3.8-10.5-2.1-7.7-5.7-3.5-1.7-6.6-1.8-0.7-1.7-0.2-1.6 0.3-1.4 0.7-1.3 1.8-2 4.7-3 1-1-0.4-1-2.5-3.3-0.3-1.7 0.4-1.7 1.1-1.6 2.4-2 5.5-2.9 2.3-2.8 2.3-3.5 4-8.5 0-0.5 1.4-2.2 10.8-30.3 2.5-5.7 2.2-4 2.8-3.1 1-0.5 1.8-0.2 1.7 0.7 1.3 1.1 1.7 2.2 3.5 6.8 0.5 1.4 0.7 0.8 0.5-0.5 5.5-15 3-7.3 3.3-6 1.2-1.5 1.8-1z"/><path fill="#4432cb" d="M140.1 252.1l2 0 1 0.5 2.1 2 2 3.2 2.7 6 0.3 1.3 1.5 3.3 6 16.2 2.2 5 0.7 0.7 0.5-0.5 0.5-1.4 3.5-6.8 1.8-2.5 1.7-1.5 1-0.5 2 0 2 1.2 2.1 2.5 3.2 6.3 7.8 19.7 3.7 7.8 2.8 4.2 1.4 1.5 3.5 2.3 2 2.5 0.5 1.7 0 1-0.3 1.3-1.5 2.3-2.4 1.8-2.3 1.2-9.7 3.4-1.7 1.3-1.9 2.7-2.2 2-7.5 4.1-0.8 1.2-0.9 3.8-2 2.7-2 1.8-4.3 2.5-8 3.6-7.2 5.4-3.3 1.5-5.1 1.4-6.1 1-6.2 0.2-7-0.3-6-1-12.6-4-10.4-2.1-5.1-1.3-3.7-2.7-3.5-1.7-2.8-0.8-1.7-2-1-2.7 0.3-1.6 0.5-1.2 1.9-2.1 3.5-2.4 1.1-1 1.4-2.3-1.9-1.7-1-1.7-0.1-1.6 0.3-1.2 1.2-1.8 1.1-1 4.7-3.1 4.3-6.1 4-8.5 0-0.5 1.4-2.2 10.8-30.3 2.5-5.7 2.2-4 2.8-3.1 1-0.5 1.8-0.2 1.7 0.7 1.3 1.1 1.7 2.2 3.5 6.8 0.5 1.4 0.7 0.8 0.5-0.5 5.5-15 3-7.3 3.3-6 1.2-1.5 1.8-1z"/><path fill="#4536d4" d="M140.1 252.1l2 0 1 0.5 2.1 2 2 3.2 2.7 6 0.3 1.3 1.5 3.3 6 16.2 2.2 5 0.7 0.7 0.5-0.5 0.5-1.4 3.5-6.8 1.8-2.5 1.7-1.5 1-0.5 2 0 2 1.2 2.1 2.5 3.2 6.3 7.8 19.7 3.7 7.8 2.8 4.2 4.1 3.6 1.2 1.7 0.6 2-0.2 1.5-1.8 2.6-3.5 2.6-4.5 1.8-4.7 1.3-2.2 0.9-1.1 1.1-1.7 2.7-2.2 2-8.1 4.1-0.8 1.1-0.3 2.8-1 2.2-1.2 1.6-3.2 2.5-2.1 1.5-9.6 4.4-4.1 3.6-2.4 1.5-2.5 1.1-4.8 1.4-5.5 1-7.4 0.1-6.6-0.4-5.7-1.1-10.5-3.6-11.3-2.3-6.7-1.9-5.3-2.4-2-1.4-1.8-1.8-0.9-1.5-0.4-1.3 0-1.2 0.5-1.5 1.2-1.5 4-3.5 2.5-3.7-2.1-2.8-0.3-1.5 0.4-1.5 1.7-2.2 3.6-2.8 4.2-6 4-8.5 0-0.5 1.4-2.2 10.8-30.3 2.5-5.7 2.2-4 2.8-3.1 1-0.5 1.8-0.2 1.7 0.7 1.3 1.1 1.7 2.2 3.5 6.8 0.5 1.4 0.7 0.8 0.5-0.5 5.5-15 3-7.3 3.3-6 1.2-1.5 1.8-1z"/><path fill="#463bdd" d="M140.1 252.1l2 0 1 0.5 2.1 2 2 3.2 2.7 6 0.3 1.3 1.5 3.3 6 16.2 2.2 5 0.7 0.7 0.5-0.5 0.5-1.4 3.5-6.8 1.8-2.5 1.7-1.5 1-0.5 2 0 2 1.2 2.1 2.5 3.2 6.3 7.8 19.7 3.7 7.8 2.8 4.2 2.9 2.8 1.2 1.8 0.5 1.7-0.2 1.3-0.5 1.2-1.4 1.8-2.8 1.8-2.8 1.3-8.5 2.6-1.5 1-1.6 2.7-1.2 1.6-2.1 1.4-7.7 3.6-1 1.4-0.2 3-0.8 2-1.9 2.2-2 1.6-3.7 2.2-7.5 3.4-4.9 4.2-3.6 2-6.8 1.9-5.5 0.7-6.2 0.1-6.2-0.5-4.3-0.8-11.3-4-10.2-1.9-5-1.4-6.6-2.7-2.9-1.9-1.6-1.8-0.9-2-0.1-1 0.5-1.7 1-1.6 2.9-2.7 3.5-5.5-1.7-2.5-0.1-1.5 0.4-1.2 1.1-1.6 2.6-2.2 3.5-4.8 2.2-4.2 2.5-6 1.4-2.2 10.8-30.3 2.5-5.7 2.2-4 2.8-3.1 1-0.5 1.8-0.2 1.7 0.7 1.3 1.1 1.7 2.2 3.5 6.8 0.5 1.4 0.7 0.8 0.5-0.5 5.5-15 3-7.3 3.3-6 1.2-1.5 1.8-1z"/><path fill="#4741e5" d="M140.1 252.1l2 0 1 0.5 2.1 2 2 3.2 2.7 6 0.3 1.3 1.5 3.3 6 16.2 2.2 5 0.7 0.7 0.5-0.5 0.5-1.4 3.5-6.8 1.8-2.5 1.7-1.5 1-0.5 2 0 2 1.2 2.1 2.5 4 8 8 20.3 4.2 8 4.3 5.3 0.3 1.2 0 1.2-0.4 1.2-1.1 1.6-3.6 2.5-4.3 1.8-5.5 1.3-2.2 1.1-2.3 3.5-1.7 1.8-2.3 1.5-6.7 2.6-1.3 0.9-0.3 1.2 0.1 2.8-0.5 1.6-1.3 1.8-2.4 2.1-5.1 3-4.2 1.7-2.8 1.6-5 4.2-6.7 2.7-7 1.1-4.7 0.2-5.4-0.2-5.9-1-3.3-0.9-4.9-2.1-4.1-1.3-10-1.8-8.2-2.5-4.3-2.3-2.9-2.9-0.7-2.2 0.4-2 3.6-4.3 3.4-6 0-0.5-1.1-2-0.1-1 0.4-1.5 3.7-4 2.2-3.3 2.2-4.2 2.5-6 1.4-2.2 10.8-30.3 2.5-5.7 2.2-4 2.8-3.1 1-0.5 1.8-0.2 1.7 0.7 1.3 1.1 1.7 2.2 3.5 6.8 0.5 1.4 0.7 0.8 0.5-0.5 5.5-15 3-7.3 3.3-6 1.2-1.5 1.8-1z"/><path fill="#4747ec" d="M140.1 252.1l2 0 1 0.5 2.1 2 2 3.2 2.7 6 0.3 1.3 1.5 3.3 6 16.2 2.2 5 0.7 0.7 0.5-0.5 0.5-1.4 3.5-6.8 1.8-2.5 1.7-1.5 1-0.5 2 0 2 1.2 2.1 2.5 4 8 8 20.3 4.2 8 2.7 3.3 0.6 1.2 0.3 1.2-0.4 1.8-1.5 1.9-1 0.9-3.5 2-8.5 2.3-2.2 0.9-0.7 0.8-2.3 4-1.5 1.1-4 2.1-4 1.3-2.3 1.2-0.4 1.5 0.5 2.2-0.4 1.8-0.8 1.5-2.1 2.1-3.3 2.2-9 4.2-1.5 1.1-2.3 2.4-2.7 1.7-3.2 1.4-3.8 0.9-4.7 0.7-4.5 0.2-5.3-0.2-4.5-0.7-3.4-0.9-8.3-3.3-4.3-1.1-5.7-0.7-8.3-2.2-4.7-2.2-1.8-1.3-1.6-1.8-0.9-1.9 0.2-1.9 0.6-1.2 1.4-1.5 2.2-3.3 2.9-5.7-1-2.3 0.5-1.9 3.2-3.8 2.2-3.5 3.9-9 1.4-2.2 10.8-30.3 2.5-5.7 2.2-4 2.8-3.1 1-0.5 1.8-0.2 1.7 0.7 1.3 1.1 1.7 2.2 3.5 6.8 0.5 1.4 0.7 0.8 0.5-0.5 5.5-15 3-7.3 3.3-6 1.2-1.5 1.8-1z"/><path fill="#484ef1" d="M140.1 252.1l2 0 1 0.5 2.1 2 2 3.2 2.7 6 0.3 1.3 1.5 3.3 6 16.2 2.2 5 0.7 0.7 0.5-0.5 0.5-1.4 3.5-6.8 1.8-2.5 1.7-1.5 1-0.5 2 0 2 1.2 2.1 2.5 4 8 8 20.3 2.7 5.5 3.7 5.5 0.3 1.3-0.1 1.2-1.4 2.2-2.8 2-2 1-10.5 3-1 0.9-1.7 3.7-2.4 2-1.4 0.7-7.2 2.5-2 1.1-0.3 0.9 0.7 2.2-0.2 2.3-1.2 2-2 2-4.1 2.5-7.4 3.4-4.3 3.8-2.5 1.6-5.5 1.9-4.7 0.8-4.5 0.2-4.5-0.1-5.8-0.9-6-1.8-6.2-2.7-11.8-1.9-5.5-1.6-4.5-2.2-2.8-2.5-1.1-2 0.1-2 3.2-4.8 3.7-7.2-0.6-2.2 0.4-1.6 4.3-6.2 3.9-9 1.4-2.2 10.8-30.3 2.5-5.7 2.2-4 2.8-3.1 1-0.5 1.8-0.2 1.7 0.7 1.3 1.1 1.7 2.2 3.5 6.8 0.5 1.4 0.7 0.8 0.5-0.5 5.5-15 3-7.3 3.3-6 1.2-1.5 1.8-1z"/><path fill="#4755f6" d="M140.1 252.1l2 0 1 0.5 2.1 2 2 3.2 2.7 6 0.3 1.3 1.5 3.3 6 16.2 2.2 5 0.7 0.7 0.5-0.5 0.5-1.4 3.5-6.8 1.8-2.5 1.7-1.5 1-0.5 2 0 2 1.2 2.1 2.5 4 8 8 20.3 2.7 5.5 2.8 4.5 0.2 1.3-0.3 1.2-1.4 2-1.6 1.2-2.7 1.4-3.5 1.1-7.3 1.8-1.2 1.3-1.3 3.2-1.9 1.8-3.8 2-5.8 1.6-2.2 1-0.4 0.8 1 2.3 0.2 1.7-0.9 2.3-1.5 1.7-3.7 2.6-8.2 3.8-2.3 1.6-1.5 1.8-2.7 1.9-4.8 1.9-5 0.9-4.2 0.3-5.5-0.2-4.3-0.6-5.6-1.7-2.8-1.4-4.4-1.6-10.2-1.6-4.5-1.1-5.5-2.2-2-1.1-2-2-0.9-2 0.2-2 2.2-3.3 3.6-7.2 0.9-2.2-0.4-1.6 0.3-1.2 3.3-5 3.9-9 1.4-2.2 10.8-30.3 2.5-5.7 2.2-4 2.8-3.1 1-0.5 1.8-0.2 1.7 0.7 1.3 1.1 1.7 2.2 3.5 6.8 0.5 1.4 0.7 0.8 0.5-0.5 5.5-15 3-7.3 3.3-6 1.2-1.5 1.8-1z"/><path fill="#465dfa" d="M140.1 252.1l2 0 1 0.5 2.1 2 2 3.2 2.7 6 0.3 1.3 1.5 3.3 6 16.2 2.2 5 0.7 0.7 0.5-0.5 0.5-1.4 3.5-6.8 1.8-2.5 1.7-1.5 1-0.5 2 0 2 1.2 2.1 2.5 4 8 8 20.3 2.7 5.5 1.9 3 0 2.2-0.9 1.6-2 1.7-2.5 1.3-4.3 1.4-4.5 0.8-2.7 0.9-1 1.1-1 3-1.8 1.9-2 1.2-2.6 1.1-6.4 1.7-2 0.8-0.2 0.8 1.3 2.5 0.4 1.8-0.7 2-2.2 2.4-5.3 3.3-6.3 2.7-4.2 4-1.5 1-5.8 2.1-4.7 0.7-4 0.2-4.8-0.2-3.7-0.6-5.7-1.8-3.1-1.5-3.5-1.3-11-1.8-6.5-1.8-4-1.9-1.7-1.3-0.8-0.9-0.9-1.9 0-1.7 2.3-4 3.7-7.7 0.7-1.8 0-2.2 2.4-3.8 3.9-9 1.4-2.2 10.8-30.3 2.5-5.7 2.2-4 2.8-3.1 1-0.5 1.8-0.2 1.7 0.7 1.3 1.1 1.7 2.2 3.5 6.8 0.5 1.4 0.7 0.8 0.5-0.5 5.5-15 3-7.3 3.3-6 1.2-1.5 1.8-1z"/><path fill="#4464fd" d="M140.1 252.1l2 0 1 0.5 2.1 2 2 3.2 2.7 6 0.3 1.3 1.5 3.3 6 16.2 2.2 5 0.7 0.7 0.5-0.5 0.5-1.4 3.5-6.8 1.8-2.5 1.7-1.5 1-0.5 2 0 2 1.2 2.1 2.5 4 8 8 20.3 3.7 7 0 2-1.3 2.1-2.2 1.7-2 0.9-4.8 1.4-4.7 0.9-2.5 1-1.2 3.5-0.6 0.9-3.3 2.6-3.2 1.2-8.5 2.2-0.4 0.6 1.9 3 0.4 2-0.7 2-1.8 2-4.3 2.7-7.6 3.6-3.7 3.5-2.1 1.5-4.9 1.7-4.5 0.7-4.5 0.2-4.5-0.3-4.8-0.8-3.2-1.1-7-3.2-10.5-1.6-6.8-1.8-4-1.8-1.5-1-1.5-1.8-0.7-1.8 0.3-1.4 4-7.8 2.2-5.2 0.5-2.6 1.5-2.2 3.8-9 1.4-2.2 10.8-30.3 2.5-5.7 2.2-4 2.8-3.1 1-0.5 1.8-0.2 1.7 0.7 1.3 1.1 1.7 2.2 3.5 6.8 0.5 1.4 0.7 0.8 0.5-0.5 5.5-15 3-7.3 3.3-6 1.2-1.5 1.8-1z"/><path fill="#406cfe" d="M140.1 252.1l2 0 1 0.5 2.1 2 2 3.2 2.7 6 0.3 1.3 1.5 3.3 6 16.2 2.2 5 0.7 0.7 0.5-0.5 0.5-1.4 3.5-6.8 1.8-2.5 1.7-1.5 1-0.5 2 0 2 1.2 2.1 2.5 3.2 6.3 7.8 19.7 3.9 8-0.1 2.3-0.9 1.3-1.8 1.4-3.7 1.7-10.9 2.6-0.7 1-0.7 3.3-1.9 1.9-1.5 1-5.5 1.9-7.5 1.6 2.6 5-0.1 1.8-1.3 1.9-1.5 1.6-2.5 1.6-9 4.2-3 3.1-2 1.4-4.5 1.8-3.5 0.7-4.4 0.3-3.9-0.1-5.1-0.7-4.6-1.5-4.7-2.4-2-0.7-10-1.4-5.3-1.2-3.7-1.3-2.8-1.5-1.7-1.6-1.1-2 0.1-1.6 3.4-6.6 3.6-9.5 1.9-3.5 0.9-2.8 1.8-3.7 1.1-1.7 10.8-30.3 2.5-5.7 2.2-4 2.8-3.1 1-0.5 1.8-0.2 1.7 0.7 1.3 1.1 1.7 2.2 3.5 6.8 0.5 1.4 0.7 0.8 0.5-0.5 5.5-15 3-7.3 3.3-6 1.2-1.5 1.8-1z"/><path fill="#3a73fe" d="M140.1 252.1l2 0 1 0.5 2.1 2 2 3.2 2.7 6 0.3 1.3 1.5 3.3 6 16.2 2.2 5 0.7 0.7 0.5-0.5 0.5-1.4 3.5-6.8 1.8-2.5 1.7-1.5 1-0.5 2 0 2 1.2 2.1 2.5 3.2 6.3 7.8 19.7 3.2 6.6-0.1 2.2-1.6 2-2.4 1.5-3.2 1.2-5 1.1-2.2 0.2-3 0.9-0.7 0.9-0.3 2.6-1 1.8-3.8 2.5-5.2 1.5-7 1 0.5 1.6 2.2 4-0.2 2.2-0.8 1.2-1.6 1.8-1.9 1.2-10 4.9-2.2 2.4-2 1.6-4.3 1.8-3.2 0.7-5.5 0.4-4.2-0.2-3.6-0.6-5.5-1.8-5-2.6-13.5-2.1-5-1.4-3.5-1.7-2.5-2.3-0.6-1.5 0.1-1.6 2.7-5.2 6.5-15.8 1.7-3.7 1.1-1.7 10.8-30.3 2.5-5.7 2.2-4 2.8-3.1 1-0.5 1.8-0.2 1.7 0.7 1.3 1.1 1.7 2.2 3.5 6.8 0.5 1.4 0.7 0.8 0.5-0.5 5.5-15 3-7.3 3.3-6 1.2-1.5 1.8-1z"/><path fill="#347afd" d="M140.1 252.1l2 0 1 0.5 2.1 2 2 3.2 2.7 6 0.3 1.3 1.5 3.3 6 16.2 2.2 5 0.5 0.5-0.1 0.7 0.1-0.4 0.7-0.6 3.3-7 1.7-2.7 1.8-2 1.7-1 2 0 2 1.2 1.3 1.5 1.5 2.3 2.5 5 7.8 19.7 2.5 5 0.2 1.8-0.8 1.8-2 1.7-3 1.3-4.2 1.2-4.5 0.6-3.3 0.9-0.7 1-0.3 3.3-1.7 2-2 1.2-5.8 1.8-7.7 0.9 3.1 6.3-0.1 1.5-1.1 1.7-3.2 2.7-9.7 4.7-3 3.2-1.5 1-5 2-6.7 0.8-7.6-0.6-4.2-1.3-5-2.5-2.8-1.1-10.7-1.5-5-1.1-4.3-1.7-3.4-2.8-0.6-1.5 0.1-1.3 2.1-4.2 6.5-15.8 1.7-3.7 1.1-1.7 10.8-30.3 2.5-5.7 2.2-4 2.8-3.1 1-0.5 1.8-0.2 1.7 0.7 1.3 1.1 1.7 2.2 3.5 6.8 0.5 1.4 0.7 0.8 0.5-0.5 5.5-15 3-7.3 3.3-6 1.2-1.5 1.8-1zM159.1 293.2l-0.7 0.8-2.3 1.4 1.3 1.2 1.8-3.2z"/><path fill="#2f81fa" d="M140.1 252.1l2 0 1 0.5 2.1 2 2 3.2 2.7 6 5.8 15.8 3.9 9.2 0 1.6-0.9 1.4-1.6 1.4-2.3 1.2 1.6 1 1 1.2 2.5-4.5 0.5-1.7 0.7-0.6 3.3-7 2.5-3.7 1-1 1.7-1 2 0 1 0.5 1.3 1 1.8 2.2 4 8 5.2 13.8 3.8 8.2 0.1 1.8-0.9 1.6-2.8 2-3 1.2-11 2-0.9 1 0 2.4-0.5 1.8-1.3 1.3-2 1.3-5.3 1.6-8.5 1 3.2 6.6 0 1.2-0.7 1.5-3.4 3-9.6 4.6-3.9 3.9-3.8 1.9-4 0.8-3.5 0.4-4.5-0.1-4.7-0.8-4.3-1.4-4.3-2.4-2.5-0.8-10-1.3-6.7-1.7-3-1.2-2.8-2.1-0.9-1.8 0.2-1.7 2.4-5 2.4-6.6 3.1-7 2.8-5.4 10.8-30.3 2.5-5.7 2.2-4 2.8-3.1 1-0.5 1.8-0.2 1.7 0.7 1.3 1.1 1.7 2.2 3.5 6.8 0.5 1.4 0.7 0.8 0.5-0.5 5.5-15 3-7.3 3.3-6 1.2-1.5 1.8-1z"/><path fill="#2d88f6" d="M140.1 252.1l2 0 1 0.5 2.1 2 2 3.2 2.7 6 5.8 15.8 3.2 7.5 0.1 1.5-0.6 1.4-2.8 2.1-2.2 1-1.3 0.2 0.3 0.8 2 0 2 1.3 1.1 1.2 2.4-4.5 0.5-1.7 0.7-0.6 3.3-7 2.5-3.7 1-1 1.7-1 2 0 1 0.5 1.3 1 1.8 2.2 3.2 6.3 5.3 13 0.7 2.5 2.8 6 0.5 2-0.5 1.5-0.8 0.9-2.3 1.6-3.5 1.3-11.2 1.9-0.6 0.8 0.2 2.8-0.4 1.5-1.2 1.4-3.3 1.8-5.2 1.3-7.5 0.5 3.2 7.2-0.2 1.5-1 1.8-1.7 1.4-2.8 1.8-5.8 2.4-2.5 1.4-2.9 3.2-1.3 0.9-4.5 1.8-3.5 0.6-3.5 0.1-6.5-0.6-3.5-1-5.8-3-2.4-0.9-11.1-1.4-4-0.9-4.7-1.8-2.8-2.2-0.6-1.4-0.1-1.4 1.9-4 5.5-13.6 2.8-5.4 10.8-30.3 2.5-5.7 2.2-4 2.8-3.1 1-0.5 1.8-0.2 1.7 0.7 1.3 1.1 1.7 2.2 3.5 6.8 0.5 1.4 0.7 0.8 0.5-0.5 5.5-15 3-7.3 3.3-6 1.2-1.5 1.8-1z"/><path fill="#2c8ff1" d="M140.1 252.1l2 0 1 0.5 2.1 2 2 3.2 2.7 6 5.8 15.8 2.7 6.4-0.2 1.8-1.8 2-2 1.1-2.9 0.9 0.9 2.3 2 0 2 1.3 1.1 1.2 2.5-4.5 0.5-1.7 0.6-0.6 3.3-7 2.5-3.7 1-1 1.7-1 2 0 1 0.5 1.3 1 1.8 2.2 3.2 6.3 5.3 13 0.7 2.5 2.5 5.5 0 1.7-1.2 1.8-2.2 1.5-3.1 1.1-4 0.9-6.8 0.7-1.5 0.6-0.3 0.7 0.5 2.5-0.2 1.5-1.5 1.7-1.7 1.1-2.8 1-4.2 0.9-7.5 0.3 3.4 7.5 0.1 1-0.6 1.5-1.7 1.8-2.5 1.7-6.2 2.7-3 1.7-3.8 3.8-2.5 1.2-3 0.8-5.9 0.6-6.8-0.8-4.5-1.6-3.3-2-2.7-1.1-10.3-1.3-6.7-1.6-3.8-1.7-2.1-1.9-0.5-1.8 0.4-1.5 0.9-1.7 5.5-13.6 2.8-5.4 10.8-30.3 2.5-5.7 2.2-4 2.8-3.1 1-0.5 1.8-0.2 1.7 0.7 1.3 1.1 1.7 2.2 3.5 6.8 0.5 1.4 0.7 0.8 0.5-0.5 5.5-15 3-7.3 3.3-6 1.2-1.5 1.8-1z"/><path fill="#2895ec" d="M140.1 252.1l2 0 1 0.5 2.1 2 2 3.2 2.7 6 5.8 15.8 2 4.5 0.2 1.3-0.2 1-1.8 1.9-3 1.5-2 0.6 1.4 3.7 2.1 0 2 1.3 1.1 1.2 2.5-4.5 0.5-1.7 0.6-0.6 3.3-7 1.7-2.7 2.5-2.5 1-0.5 2 0 2 1.2 2.1 2.5 4 8 4.5 11.3 0.2 1.3 2.5 5.7 0 1.3-1.5 2-2.3 1.3-4.7 1.4-9.5 1.1-1.3 0.4-0.4 0.8 0.9 2.6-0.1 1.6-1.1 1.5-3 1.7-4.3 1.1-3 0.5-6.5-0.1 3.5 8 0 1.3-0.6 1.2-1.7 1.8-1.9 1.4-7.8 3.5-2.2 1.4-3 3.1-1.3 0.8-3 1.1-3.7 0.7-3.2 0.1-5.8-0.6-4.3-1.3-4.2-2.5-2.5-1-11.8-1.5-5.5-1.4-3.2-1.4-2.3-2-0.5-1.2 0-1.2 5.2-12.5 4.8-10.3 6.5-19 0.5-0.7 3.3-9.3 2-4 0-0.4 2.2-4 2.8-3.1 1-0.5 1.8-0.2 1.7 0.7 1.3 1.1 1.7 2.2 3.5 6.8 0.5 1.4 0.7 0.8 0.5-0.5 5.5-15 3-7.3 3.3-6 1.2-1.5 1.8-1zM126.2 287.5l0.7 2.3 0.3 0.3 0.5-0.3 0.2-1.1-1.7-1.1z"/><path fill="#259ce7" d="M140.1 252.1l2 0 1 0.5 2.1 2 2 3.2 2.7 6 5.8 15.8 1.5 3.2 0.1 1.3-0.3 1-1.3 1.5-2.6 1.4-3 0.8 2.2 5.3 2.1 0 2 1.3 1.1 1.2 2.5-4.5 0.5-1.7 0.6-0.6 3.3-7 1.7-2.7 2.5-2.5 1-0.5 2 0 2 1.2 2.1 2.5 4 8 4.5 11.3 0.2 1.3 1.8 3.7 0.1 1.7-1.4 2-3.5 1.9-4.3 1-10.8 1.1-0.2 0.6 1.4 3.4-0.2 1.6-1.7 1.7-2.5 1.2-6 1.3-4 0.2-3.7-0.3 3.5 8.1 0.1 1.5-1.1 2-2 1.8-1.5 0.8-7.3 3.2-1.7 1-3.5 3.6-3.5 1.6-6.5 1-4.5-0.3-3.2-0.6-2.6-1-4.4-2.6-2-0.9-12.1-1.4-5.5-1.4-3-1.3 0-0.3-1.5-0.7-0.8-1-0.6-1.2 0.2-1.6 5.4-13 3.8-8 6.5-19 0.5-0.7 3.3-9.3 2-4 0-0.4 2.2-4 2.8-3.1 1-0.5 1.8-0.2 2.7 1.5 2.8 3.7 3.2 7 1 0.8-0.3 0.5 1.3 2.7 0.2 1.3 0.8 1.7 0.5 0.3 1.2-2.9-3-2.2-0.5-1.4 0-1 8.5-21.8 3.3-6 1.2-1.5 1.8-1zM180.9 309.9l-0.2 0.2 0.4 0.5 0.3-0.2-0.3-0.3zM150.4 283.2l0.5 0.5 0.4-0.3-0.7-0.2zM179.6 305.7l0.3 0.6 0.5-0.1 0-0.2-0.6-0.2z"/><path fill="#22a2e4" d="M140.1 252.1l2 0 1 0.5 2.1 2 2 3.2 2.7 6 0.3 1.3 1.5 3.3 0.2 1.2 4.7 12-0.2 2-1.5 1.5-3.3 1.6-2.2 0.4 2.9 7 2.1 0.1 2 1.2 1.2 1.2 2.4-4.5 0.5-1.7 0.6-0.6 0.5-1 0-0.4 2.8-5.6 1.7-2.7 2.5-2.5 1-0.5 2 0 2 1.2 2.1 2.5 3.2 6.3 6.7 16.9 0 1.4-0.7 1.2-2 1.5-5 1.7-6 0.7-6.8 0.2 1.6 3.9 0.1 1.5-0.2 0.6-1 1.1-2 1.4-2.2 0.8-4.3 0.8-4 0.2-4.5-0.4 3.6 8.5 0.1 1-0.2 1.3-1.5 1.7-2.2 1.7-8.8 4-1.5 1-3 3.2-4 1.6-6.2 0.7-6-0.8-4-1.5-3-2-2-0.9-3.8-0.7-8.5-0.9-3.7-0.7-4.5-1.7 0-0.3-0.9-0.2 0.4-0.2-0.3-0.3-0.5 0.3-1.2-1.3-0.6-1.5 0.3-1.5 4.7-11.3 3.8-8 6.5-19 0.5-0.7 3.3-9.3 2-4 0-0.4 2.2-4 2.8-3.1 1-0.5 1.8-0.2 2.7 1.5 2.8 3.7 3.2 7 1 0.8-0.3 0.5 1.3 2.7 0.2 1.3 0.8 1.7 0.5 0.3 0.6-0.7 1.4-3.7-1.7-0.9-1.5-1.5-0.6-1.4 0.3-1.3 1-2 3.7-10.5 3-7.3 3.3-6 1.2-1.5 1.8-1zM142.1 304.6l0.5 1.5 1-1.6-1.2 0.1zM150.4 283.2l-0.2 0.2 0.7 0.4 0.4-0.4-0.7-0.2zM179.6 305.7l-0.1 0.1 0.4 0.5 0.5 0 0-0.4-0.6-0.1zM151.1 285.6l-0.2 0.2 0.5 0.5 0.2-0.2-0.2-0.3z"/><path fill="#1da8e0" d="M140.1 252.1l2 0 1 0.5 2.1 2 2 3.2 2.7 6 0.3 1.3 1.5 3.3 4.3 12-0.1 1.4-1.5 1.6-2 1.1-3.8 1.2 3.6 8.4 2.2 0.1 2 1.2 1.2 1.2 0.7-1 1.7-3.5 0.5-1.7 0.6-0.6 3.3-7 1.7-2.7 2.5-2.5 1-0.5 2 0 2 1.2 2.1 2.5 3.2 6.3 6 15 0.2 1.5-0.8 1.5-2.7 1.8-5 1.3-5.7 0.6-6.8-0.2 2.1 5-0.1 1.2-0.7 1.2-2.3 1.5-2.2 0.8-4.8 0.8-3.5 0.1-4.7-0.5 0.2 1.1 3.5 8.3-0.1 1.7-0.7 1-1.4 1.4-2.8 1.7-7.2 3.1-1.9 1.4-1.6 1.8-1.7 1.4-3.6 1.4-5.2 0.5-4.8-0.4-2.8-0.7-2.2-1-4.2-2.7-3.8-0.9-7.7-0.7-5.5-1-4.6-1.7-2.2-1.7-0.7-1.6 0.2-1.3 4.2-10 3.8-8 6.5-19 0.5-0.7 3.3-9.3 2-4 0-0.4 2.2-4 2.8-3.1 1-0.5 1.8-0.2 2.7 1.5 2.8 3.7 3.2 7 1 0.8-0.3 0.5 1.3 2.7 0.2 1.3 0.8 1.7 0.5 0.3 0.6-0.7 2.1-5.3-1-0.3-1.9-1.6-0.7-0.8-0.1-2 6.2-16.3 3-6.3 2.5-3.4 1.8-1.1zM141.9 302.8l-0.5 0.1 0 0.5 1.2 2.7 2-3.5-2.5 0.2zM149.6 280.7l-0.1 0.1 0.6 0.7 0.5-0.1-0.8-0.6zM179.6 305.6l-0.2 0.2 0.5 0.5 0.5 0 0.2-0.2-0.2-0.2-0.5-0.1zM150.4 283.1l-0.2 0.3 0.7 0.4 0.5-0.4-0.8-0.3z"/><path fill="#18addb" d="M140.1 252.1l2 0 1 0.5 2.1 2 1 1.5 3.7 7.7 0.3 1.3 5.2 13.3 0.2 1-0.3 1-1.4 1.6-2.3 1.1-1.2 0-0.3 0.5-2.2 0.4 4.3 10.1 2.2 0.1 2 1.3 1 1.2 0.2-0.1 0.7-1 1.7-3.5 0.5-1.7 0.6-0.6 3.3-7 1.7-2.7 2.5-2.5 1-0.5 2 0 2 1.2 2.1 2.5 3.2 6.3 5.5 13.7 0.1 1.3-0.9 1.5-2.7 1.8-5.3 1.3-6.7 0.4-5.5-0.5 0.2 1.2 1.8 4 0 1.8-1.6 1.8-3.2 1.3-6.7 0.8-3.5-0.1-3.3-0.7 1 3.1 2.8 6.6 0.2 1-0.3 1.2-2.2 2.3-1.4 0.9-9 4-4.1 4-2.2 1.1-5 0.9-6.5-0.4-4.2-1.6-3-2-2.8-1.3-14-1.6-5.5-1.7-1.1-0.6-0.2-0.5-0.5 0.1-1-1-0.6-1.6 0.4-1.5 3.4-8.3 3.8-8 6.5-19 0.5-0.7 3.3-9.3 2-4 0-0.4 2.2-4 2.8-3.1 1-0.5 1.8-0.2 2.7 1.5 2.8 3.7 3.2 7 1 0.8-0.3 0.5 1.3 2.7 0.2 1.3 0.7 1.7 0.6 0.3 0.6-0.7 2.6-6.9-0.7-0.1-0.5-0.6-1.3-0.5-1.2-1.9 0-1.3 5.7-15 3-6.3 2.5-3.4 1.8-1.1zM144.6 300.8l-4 0.4 2 4.9 3.1-5-0.1-0.3-0.9 0zM179.1 302.9l0 0.4 0.5 0 0.2-0.2-0.4-0.2zM149.6 280.7l-0.1 0.1 0.6 0.8 0.5-0.2-0.8-0.6z"/><path fill="#11b1d6" d="M140.1 252.1l2 0 1 0.5 2.1 2 1 1.5 3.7 7.7 0.3 1.3 4.7 12 0.2 1.3-0.3 0.7-1.4 1.5-2.8 1.3-3.2 0.8 4.8 11.4 2.2 0.1 2 1.3 1 1.2 0.2-0.1 0.7-1 1.8-3.5 0.4-1.7 0.6-0.6 3.3-7 1.7-2.7 2.5-2.5 1-0.5 2 0 2 1.2 2.1 2.5 3.2 6.3 5 12.5 0 1.8-0.8 1-1.7 1.2-2.8 1-4.7 0.8-7.8 0-3.7-0.8 2.6 6.8-0.3 1.2-1.3 1.3-3.8 1.5-4 0.6-5.4-0.2-3.8-0.7 4 10.3 0.1 1-0.3 1-2.4 2.4-2.9 1.7-6.8 2.9-1.2 0.8-3 3-1.8 1-1 0.1 0 0.3-4.9 0.8-6.1-0.6-3.5-1.3-3.2-2.3-2.5-1.1-15.5-1.9-4.8-1.7-2.2-1.9-0.4-1.2 0.4-1.6 4.4-10.2 2.1-3.8 0.5-2.2 1.5-3.5 6.7-19.7 3.8-9 2.2-4 2.8-3.1 1-0.5 1.8-0.2 2.7 1.5 2.8 3.7 3.2 7 1 0.8-0.3 0.5 1.2 2.7 0.3 1.3 0.7 1.7 0.6 0.3 0.7-0.7 3.2-8-1.9-0.8-1.8-1.7-0.3-1.1 0.1-1 5.2-13.7 3-6.3 2.5-3.4 1.8-1.1zM146.6 299l-3 0.6-3.7 0.2 2.7 6.4 4.2-7.1zM179.1 302.9l-0.2 0.2 0.2 0.2 0.5 0 0.3-0.2-0.5-0.2zM149.6 280.6l-0.2 0.2 0.7 0.8 0.5-0.2-0.7-0.6z"/><path fill="#08b5d0" d="M140.1 252.1l2 0 1 0.5 2.1 2 1 1.5 3.7 7.7 0.3 1.3 1.5 3.3 2.9 8.1 0 1.3-1.7 1.9-1.8 0.9-1.5 0-0.2 0.5-2.5 0.6 5.3 12.4 2.2 0.1 2 1.3 1 1.2 0.2-0.1 0.8-1 1.7-3.5 0.5-1.7 0.5-0.6 3.3-7 1.7-2.7 2.5-2.5 1-0.5 2 0 2 1.2 2.1 2.5 3.2 6.3 4.7 11.7 0 1.3-0.7 1-2.8 1.8-1 0-0.2 0.4-1.3 0.4-4.7 0.6-7.3-0.2-4-1.2-0.2 0.2 2.1 4.3 1 3-0.1 0.8-1 1.3-3.3 1.5-4.2 0.7-5.5-0.1-4.5-1 2.1 6.2 1.9 4.3 0.2 1.3-0.4 1.2-1.7 1.8-2.6 1.6-7.3 3-1.5 0.9-3.2 3.3-2.8 1.3-3 0.6-2.2 0.1-5.2-0.7-3.8-1.5-3.5-2.4-2-0.8-14.5-1.6-4.8-1.5-2.6-1.9-0.6-1.4 0.2-1 4.2-9.8 0.8-1 0.8-2.2 1-1.3 0.1-1.5 8.1-23.2 3.8-9 2.2-4 2.8-3.1 1-0.5 1.8-0.2 2.7 1.5 2.8 3.7 3.2 7 0.9 0.8-0.2 0.5 1.2 2.7 0.3 1.3 0.7 1.7 0.6 0.4 0.7-0.8 1.4-4 2.4-5-2.3-1.1-1.5-1.5-0.5-1.2 0.3-1.2 1-2 3.7-10.3 3-6.3 2.5-3.4 1.8-1.1zM146.4 297.8l-2.5 0.6-4.5 0.2 3.2 7.6 3.1-5.4 2-2.7-0.3-0.5-0.9 0.2z"/><path fill="#01b8ca" d="M140.1 252.1l2 0 1 0.5 2.1 2 1 1.5 3.7 7.7 0.3 1.3 4 10-0.1 1.7-1.5 1.6-2.5 1.3-4 0.9 5.5 12.1 0.1 0.9-0.3 0.8 0.5-0.3 2.5 0.1 2 1.3 1 1.2 0.2-0.1 6.8-13.8 1.7-2.7 2.5-2.5 1-0.5 2 0 2 1.2 2.1 2.5 3.2 6.3 4.3 10.5-0.1 1.8-1.2 1.2-1.8 1-2.5 0.8-4.2 0.7-2.8 0.1-5.7-0.5-1.5-0.3-2.8-1.3 0 0.5 3.5 7.5-0.4 1.5-1.1 1-2.7 1.2-5.5 0.8-5.8-0.5-3.5-1 4.3 10.7 0.3 1.3-0.3 1.3-0.5 0.7-2 1.7-5 2.5-0.3-0.4-0.2 0.2 0.2 0.3-4.2 1.7-1.8 1.2-2.6 2.8-2.6 1.2-4.5 0.6-4.5-0.3-3.2-1-4.7-3-2.1-0.9-14.5-1.6-4.8-1.5-2.5-1.8-0.7-1.2 0.2-1.5 3.7-8.5 0.8-1 0.9-2.2 1.6-2.6-0.2-1.4 7.7-22 3.8-9 2.2-4 2.8-3.1 1-0.5 1.8-0.2 2.7 1.5 2 2.5 3.5 6.8 0.5 1.4 0.9 0.8-0.2 0.5 1.2 2.7 0.3 1.3 0.7 1.7 0.6 0.4 0.7-0.8 2.4-6.3 1.9-3.7-2-0.9-1.5-1.1-0.7-1-0.1-1.6 4.5-11.7 3-6.3 2.5-3.4 1.8-1.1zM148.6 296.1l-6 1.2-4 0.1 4 8.8 0.5-0.4 2.6-5 3.5-4.7-0.1-0.2-0.2 0.1zM91.6 326.7l-0.6 0.4 0.4 0.2 0.4-0.5zM149.1 278.6l-0.2 0.2 0.5 0.5 0.2-0.2-0.2-0.3z"/><path fill="#02bbc3" d="M140.1 252.1l2 0 1 0.5 2.1 2 1 1.5 3.7 7.7 3.9 11-0.7 1.6-1.5 1.1-3.5 1.2-2.5 0.4 5.3 12 0.2 1-0.4 1-1.6 1.2-3 1-3.2 0.5-4.4 0-0.6 0.3 1.5 2.5 0 0.5 1.9 3.7 1.3 3.4 0.5-0.4 2.7-5 2.9-4.2 1.4-1.5 1.8-1 2.5 0.1 2 1.3 2.5 2.9 2.4 4.4 2.2 5.3-0.1 0.7-1 1.3-2.8 1.3-2.7 0.5-3.3 0.2-4-0.3-2.2-0.5-3-1.3 4.7 12.5-0.2 1.6-1 1.3-3.3 2.2-8.1 3.5-1.6 1.3-1.3 1.5-2.5 1.6-2.5 0.7-3.7 0.3-2.3-0.2-3.1-0.7-2.6-1.2-2.5-2-2.5-1.1-5-0.8-8.3-0.6-3.5-0.7-2.5-0.8-1.7-1-1.3-1.4-0.2-0.9 0.2-1.3 3.5-7.7 0.5-0.5 0.9-2.2 2.4-3.3-0.5-0.7 0-1.6 2-5 3.2-10 4.5-11.7 3.5-6.7 2.8-3.1 1-0.5 1.8-0.2 2.7 1.5 2 2.5 3.5 6.8 0.5 1.4 0.9 0.8-0.2 0.5 1.2 2.7 0.3 1.3 0.7 1.7 0.6 0.4 0.7-0.8 2.4-6.3 2.7-5-2.8-1.1-1-0.9-0.8-1.1 0-1.4 4-10.5 3-6.3 2.5-3.4 1.8-1.1zM149.4 277.1l-0.2 0.3 0.4 0.2 0.3-0.2-0.3-0.3zM91.6 326.6l-0.7 0.5 0.5 0.2 0.5-0.5zM138.1 323.2l-0.7 1 0.9-0.8zM169.6 277.1l2 0 1 0.5 1.3 1 2.5 3.5 2.5 5 3.8 9.3-0.1 1.7-1.2 1.3-2.3 1.1-0.5-0.4-0.2 0.3 0.5 0.2-3 0.7-3.8 0.4-4.5-0.1-3.5-0.6-2.5-0.8-2-1.3-1.1-1.3-0.3-1.8 6.2-13 2.5-3.7 1-1 1.5-0.8z"/><path fill="#0bbdbd" d="M140.1 252.1l2 0 1 0.5 2.1 2 1 1.5 3.7 7.7 0.3 1.3 3 7.3 0.2 1.4-1.1 1.8-1.4 0.9-2 0.4-0.8 0.5-3.2 0.6 5.5 11.8 0.2 1.3-0.4 0.7-1.8 1.4-2.5 0.8-4.8 0.6-3.7-0.1-0.3 0.3 2.3 3.8 0 0.5 1.9 3.7 1.3 3.4 0.5-0.4 2.7-5 2.9-4.2 1.4-1.5 2-1 2.3 0.1 1 0.5 2.7 2.7 2.2 3.4 2.7 6-0.4 1.4-2.5 1.6-5 1-6.5-0.5-3.5-1.1-1.5-1.1 0.3 1.3 0.7 1.2 3.4 9.2 0.7 1.3-0.2 1.7-1.3 1.8-4.1 2.4-2.5 1.1-0.2-0.2-1 0.7-2.5 0.9-2 1.2-2.2 2.4-1.3 0.9-3 0.9-2.8 0.2-4.2-0.4-2.8-0.9-4.2-2.8-2.5-1.1-4-0.7-7.5-0.4-5.5-1-3-1.2-1.5-1.3-0.5-0.9 0.5-2.3 4.1-8.7 1.4-2.3 1.8-1.7-0.6-0.6-0.4-1.4 1.2-3.8 0.5-0.8 3.2-10 0.5-0.7 3.3-9.3 2-4 0-0.4 2.2-4 2.8-3.1 1-0.5 1.8-0.2 2.7 1.5 2 2.5 3.5 6.8 0.5 1.4 0.9 0.8-0.2 0.5 1.2 2.7 0.3 1.3 0.7 1.7 0.6 0.4 0.7-0.8 1.5-4 2.8-6.3 1.3-1.7-0.1-0.5-2.2-0.8 0-0.3-1.5-0.7-0.9-1.5 0.1-1.5 3.5-9 3-6.3 2.5-3.4 1.8-1.1zM138.4 323l-1.2 1.1 0.2 0.2 1.1-1.2zM139.1 323.4l-0.6 0.7 0.1 0.2 0.7-0.7zM137.6 322.5l-0.8 0.9 0.1 0.1 0.9-0.9zM169.6 277.1l2 0 1 0.5 1.3 1 2.5 3.5 2.5 5 2.3 6 0.7 1.3 0.5 1.7-0.8 1.4-2 1.4-3 1-3.5 0.4-3.5 0.1-3.7-0.4-2.9-0.6-3.4-2-0.7-1-0.2-1.6 5.7-12 2.5-3.7 1-1 1.5-0.8z"/><path fill="#15bfb7" d="M140.1 252.1l2 0 1 0.5 2.1 2 1 1.5 3.7 7.7 0.3 1.3 2.9 7.3-0.2 1.2-2.5 2-3.3 1-2.9 0.5 1.2 1.7 4.7 10.6 0 0.7-0.4 1-1.8 1.1-3.5 1-2.8 0.4-5.2-0.2 3 5.2 2.7 6.5 0.8 1.2 5 13.1 0.5 1.8-0.4 1.2-0.9 0.9-1.4 1.3-2.3 1.2-3 1.3-0.3-0.2-1 0.7-3.1 1.2-1.6 1.1-1.4 1.7-1.4 1.1-2.5 0.9-3.9 0.5-3-0.3-3.1-0.8-3.7-2.6-3.8-1.7-4.6-0.6-8.4-0.5-3.5-0.8-3.5-1.6-1.1-1.1-0.3-1 1.2-3.3 3.1-6.4 1.5-2.3 2.2-2.3 0-0.2-1.1-1.4 0-1.4 7.8-21.7 2.5-5.7 2.2-4 2.8-3.1 1-0.5 1.8-0.2 2.7 1.5 2 2.5 3.5 6.8 0.5 1.4 0.9 0.8-0.2 0.5 1.2 2.7 0.2 1.3 0.8 1.7 0.6 0.4 0.8-0.6 0.2-1.2 2.1-5.3 2-4 1.7-2.5-0.4-0.8-3.4-1.4-1-1.3 0-1.5 3.2-8.5 3-6.3 2.5-3.4 1.8-1.1zM148.9 275.1l-0.2 0.3 0.4 0.2 0.3-0.2-0.3-0.3zM108.2 311.3l1.4 0.8 1.8 0 0.7-0.2 0.3-0.3-0.2-0.2-2.3 0-1.3-0.3-0.2 0.2zM109.4 305.5l0.5 0.5 0.2-0.5-0.6 0.1zM148.1 272.9l-0.1 0.2 0.4 0.4 0.4-0.1-0.5-0.3zM99.6 306.4l-0.6 0.4 0.4 0.2 0.4-0.4zM138.4 322.9l-1.2 1.2 0.2 0.2 1.2-1.2zM139.1 323.4l-0.6 0.7 0.1 0.2 0.7-0.7zM137.6 322.5l-0.9 0.9 0.2 0.1 0.9-0.9zM169.6 277.1l2 0 1 0.5 1.3 1 2.5 3.5 2.5 5 2.3 6 0.7 1.3-0.2 1.7-0.8 1-3.5 1.6-2.5 0.4-6.8 0.2-3.5-0.6-2.2-0.8-2.2-1.3-0.9-1-0.2-1.8 5.3-11 2.5-3.7 1-1 1.5-0.8zM151.7 294.4l2.7-0.2 2 1.3 1.7 1.9 2.2 3.4 2.1 4.6 0.2 1-0.5 0.9-1.2 1-2.3 0.9-4.2 0.5-3.5-0.1-2.5-0.4-3-1.1-1.3-0.8-0.9-1.7 2.6-4.8 2.9-4.2 1.4-1.4 1.5-0.8z"/><path fill="#1ec0b2" d="M140.1 252.1l2 0 1 0.5 2.1 2 1 1.5 3.7 7.7 2.9 8-0.7 1.5-2.5 1.7-3.3 0.8-2.9 0.3 1.9 2.7 4.1 8.8 0.4 1.5-0.4 0.9-2 1.4-3.5 0.9-3 0.4-5.3-0.3 2.3 3.4 3.4 7 6.6 16.6 0 1.7-1.4 1.7-3.9 2.4-2.2 0.9-0.3-0.5-0.2 0.2 0.5 0.3-0.3 0.1-4.7 1.9-4.5 3.9-2.3 0.8-3 0.3-3.7-0.3-2.5-0.8-4.8-3.2-2.7-1-4.3-0.6-8-0.4-4-0.8-3.7-1.6-1-1-0.4-1 0.9-2.6 3.1-6.4 1.5-2.3 2.4-2.5 0.9-0.5-1.5-1-0.4-0.8 0-1.2 1-2.3 1.2-4.2 0.5-0.8 1.5-5 0.5-0.7 2.8-8 2.5-5.7 2.2-4 2.8-3.1 1-0.5 1.8-0.2 1.7 0.7 1.3 1.1 2.5 3.4 3.2 7 0.9 0.8-0.2 0.5 2.2 5.7 0.6 0.4 1.3-0.8-0.1-1.6 2-4.7 2.6-5.3 1.7-2.2 0-0.2-3.5-1.5-1-0.7-0.8-1.4 0-1 3-7.7 3-6.3 2.5-3.4 1.8-1.1zM106.6 310.2l1.8 1.4 1.2 0.5 1.8 0 1.5-0.7 0.7-0.9-6.7-0.3zM109.4 305.5l-0.1 0.1 0.6 0.4 0.3-0.5-0.7 0.1zM148.1 272.9l-0.1 0.2 0.4 0.5 0.4-0.2-0.5-0.3zM138.4 322.9l-1.2 1.2 0.2 0.2 1.2-1.2zM139.1 323.4l-0.7 0.7 0.2 0.2 0.7-0.7zM99.6 306.4l-0.7 0.4 0.5 0.3 0.4-0.5zM137.6 322.4l-0.9 1 0.2 0.1 0.9-0.9zM169.6 277.1l2 0 1 0.5 1.3 1 2.5 3.5 2.5 5 2.7 6.7 0 1-1 1.2-2 1.3-0.7-0.2-0.3 0.5-1.2 0.3-4.3 0.5-3.2 0-4.9-0.8-2.1-0.9-2.1-1.9-0.4-1.4 1.2-3 0.5-0.6 3.3-7 2.5-3.7 1-1 1.5-0.8zM151.7 294.4l2.7-0.1 2 1.2 1.7 1.9 2.2 3.4 1.9 4 0 1-0.5 0.8-3.1 1.6-5.2 0.6-3.8-0.3-2.7-0.8-1.5-0.6-1.3-1.1-0.4-0.9 0.2-0.7 3.4-5.8 2.8-3.4 1.5-0.8z"/><path fill="#27c2ac" d="M140.1 252.1l2 0 1 0.5 2.1 2 2.7 4.8 4.5 11-0.1 1.4-2.4 2-3.8 1-3.3 0.3 2.5 3.7 2.9 6 1.1 2.8-0.2 1.3-1.7 1.4-3.8 1.1-4.5 0.3-4.5-0.5 2.5 3.4 2.2 4 0 0.5 2 3.7 3.3 7.8 3.1 8.2-0.1 1.1-1 1.7-3.2 2.2-8 3.2-1.4 0.8-1.9 2.1-2.2 1.4-4.3 0.8-3-0.2-3.4-1.2-4.1-2.8-2.2-1-4.3-0.7-8.4-0.4-4.3-0.8-3.3-1.3-1.2-1-0.5-1.2 2-4.9 3.1-5.5 3.1-3 1.7-0.3-0.9-0.7-0.8 0 0.8-0.5-0.3-0.2-0.7 0.5-1.1-1.3 0.1-2 0.5-0.8 3.2-10 4.5-11.7 3.5-6.7 2.8-3.1 1-0.5 1.8-0.2 1.7 0.7 1.3 1.1 2.5 3.4 3.2 7 0.9 0.8-0.3 0.5 2.3 5.7 0.6 0.4 1.5-1.1 1 0-0.8-0.7-0.2-0.9 0.7-2.1 2.9-6.3 3.2-4.5-2.3-0.7-2.5-1.4-0.8-1.1-0.2-1.3 2.7-7 3-6.3 2.5-3.4 1.8-1.1zM104.4 308.8l4 2.8 1.2 0.5 1.8 0 1.5-0.7 1.7-1.9-6.2-0.1-3.8-0.6zM109.4 305.4l-0.2 0.2 0.7 0.4 0.4-0.4-0.1-0.2-0.6 0.2zM148.1 272.9l-0.2 0.2 0.5 0.5 0.5-0.2-0.5-0.3zM139.4 320.9l-0.7 0.7 0.2 0.2 0.7-0.7zM100.1 304.9l-0.6 0.5 0.1 0.1 0.7-0.4zM138.4 322.9l-1.2 1.2 0.2 0.2 1.2-1.2zM139.1 323.4l-0.7 0.7 0.2 0.2 0.8-0.7zM137.6 322.4l-0.9 1 0.2 0.1 0.9-0.9zM169.6 277.1l2 0 1 0.5 1.3 1 1.8 2.2 3.2 6.3 2.3 5.5 0 1.5-0.5 0.7-2.1 1.4-1.5 0.5-3.2 0.6-3.8 0.1-5.2-0.7-2.8-1-1.9-1.6-0.4-1.3 0.3-1.2 4.3-8.8 2.5-3.7 1-1 1.5-0.8zM151.7 294.4l2.7-0.1 2 1.2 1.7 1.9 2.1 3.4 1.5 3 0.1 1-1 1.3-2.2 1-2.5 0.5-4.2 0.1-4.5-0.9-2-1-1-1-0.2-0.7 0.2-0.7 3.4-5.6 2.3-2.6 1.5-0.8z"/><path fill="#2ec4a5" d="M140.1 252.1l2 0 1 0.5 2.1 2 2.7 4.8 4.2 10.4-0.7 1.6-2.3 1.4-1 0.1-0.2 0.3-3 0.7-3.3 0.1 3 3.6 3.3 6.8 1 2.2-0.5 1.6-1 0.8-3.3 1.1-3.5 0.4-3.5-0.1-2.7-0.4-3-1.2-1.4-1-0.6-1 0.2-1.4 1-2.3 2.6-5.3 1.7-2.4 2.1-1.8-2.9-0.7-2.5-1.2-1-0.9-0.3-1.2 0.1-0.8 2.2-5.7 3-6.3 2.5-3.4 1.8-1.1zM147.6 270.7l-0.1 0.1 0.4 0.5 0.4-0.2-0.5-0.3zM114.4 270.6l0.8 0 1.7 0.7 1.3 1.1 1.7 2.2 3.5 6.8 0.5 1.4 0.9 0.8-0.3 0.5 2.3 5.7 0.6 0.4 1.5-1.1 3.2 0.3 1.3 0.7 1.7 1.7 2 2.8 2.2 4 2.7 6.5 0.8 1.3 4.1 10.4 0.4 1.8-0.4 1.2-0.7 0.8-3.8 2.5-2.3 0.9-0.2-0.4-1.5 1.1-3.5 1.3-2 1.4-1.3 1.5-1.9 1.2-3.8 0.8-2.7-0.2-2.8-0.7-1.2-0.6-3.3-2.4-3.3-1.4-5.2-0.8-3.8 0.1-5.7-0.6-3.3-0.9-3-2-0.2-1.6 3.1-6.4 1.5-2.3 3.1-3 1.8-0.2 2.3 0.2 5.2 3.6 1.2 0.5 2.6-0.3 3.2-3.3 0-0.3-7.2 0-5.8-1.1-3.8-1.9-0.6-1.5 5.6-16.4 3.8-9 3-5 2-2.1 1-0.5 0.8 0zM109.4 305.4l-0.2 0.2 0.7 0.4 0.4-0.4-0.1-0.2-0.6 0.2zM138.6 319.5l-0.6 0.6 0.1 0.2 0.7-0.7zM139.4 320.9l-0.7 0.7 0.2 0.2 0.7-0.7zM100.1 304.9l-0.7 0.5 0.2 0.2 0.8-0.5zM138.4 322.9l-1.2 1.2 0.2 0.2 1.2-1.2zM139.1 323.4l-0.7 0.7 0.2 0.2 0.8-0.7zM137.6 322.4l-0.9 1 0.2 0.2 1-1zM169.6 277.1l2 0 1 0.5 1.3 1 1.8 2.2 4 8 1.2 3.3-0.2 1.3-2.1 1.5-2 0.7-3 0.5-3 0.1-5.2-0.5-2.8-1.1-1.8-1.2-0.5-1.6 0.3-1.4 0.5-0.6 3.3-7 2.5-3.7 1-1 1.5-0.8zM151.8 294.4l2.6-0.1 2.6 1.8 1.8 2.3 2.4 4.4 0.1 0.8-0.4 0.9-1 0.8-2 0.7-3.8 0.5-4.5-0.3-4-1.6-0.8-1.5 1.1-2.3 2.9-4.2 1.3-1.4 1.5-0.7z"/><path fill="#33c69d" d="M140.1 252.1l2 0 1 0.5 2.1 2 1 1.5 3 6 2.4 6.3-0.2 1.5-1 0.9-3 1.3-6.3 0.7-5.7-0.8-3.3-1.5-1.2-1.2-0.2-0.9 0.4-1.6 4.5-10 2.5-3.4 1.8-1.1zM147.6 270.6l-0.2 0.2 0.5 0.5 0.5-0.2-0.5-0.3zM114.4 270.6l0.8 0 1.7 0.7 1.3 1.1 1.7 2.2 3.5 6.8 0.5 1.4 0.9 0.8-0.3 0.5 2.3 5.7 0.6 0.4 1.5-1.1 3.2 0.3 1.3 0.7 1.7 1.7 2 2.8 2.2 4 2.7 6.5 0.8 1.3 4.1 10.4-0.1 1.3-1.7 2-3.5 2-3 1.2-0.2-0.4-1.5 1-2.5 1-1.8 1.2-1.7 1.8-1.7 0.9-4.3 0.7-4-0.8-1.4-0.6-3.1-2.3-3.5-1.5-4-0.6-8-0.3-3.3-0.5-3.5-1.1-2-1.7-0.2-1.3 2.7-5.4 1.4-2.3 3.1-2.9 3.3-0.3 1.8 0.7 4.2 3.1 1.2 0.5 1.8 0 1.8-1.1 1.5-1.5 1.7-2.5-8.2-0.1-4.6-0.7-3.2-1.2 0-0.3-1.5-0.7-0.5-1.1 1.2-4.4 0.5-0.8 3.5-10.4 3.8-9 3-5 2-2.1 1-0.5 0.8 0zM132.6 316.8l3.5 0.2 0-0.2-3.2 0zM100.6 303.4l-0.7 0.4 0.5 0.3 0.4-0.5zM109.4 305.4l-0.2 0.2 0.4 0.5 0.8-0.5-0.2-0.2-0.6 0.2zM134.6 318l0 0.2 0.8 0 0-0.2-0.5 0zM138.6 319.4l-0.6 0.7 0.1 0.2 0.7-0.7zM139.4 320.9l-0.7 0.7 0.2 0.2 0.7-0.7zM136.9 318.5l-0.6 0.3 0.3 0.2 0.7-0.4-0.2-0.1zM137.6 322.4l-0.9 1 0.2 0.2 1-1zM137.1 321.6l-0.4 0.5 0.2 0.2 0.5-0.5zM137.7 273.4l0.2-0.3 2.2 0 0.5 0.3 3.5 3.4 4.1 8 0.2 1.3-0.7 1-1.3 1-1.5 0.4-3.3 0.6-2.7 0.1-5.3-0.8-2-0.7-1.5-1.3-0.2-1.6 2.6-5.7 2.5-3.7 1.1-1.3 1.5-0.7zM169.6 277.1l2 0 1 0.5 1.3 1 1.8 2.2 4.5 9.3 0.2 1.7-0.7 1-2.3 1.3-3 0.6-6 0.2-2.9-0.5-2.1-0.8-1.4-0.8-1-1.2-0.4-1.2 0.5-0.6 3.3-7 2.5-3.7 1-1 1.5-0.8zM151.8 294.4l2.6-0.1 2.5 1.8 1.8 2.3 2 3.4 0 0.8-0.5 0.8-1.8 1.1-4.3 0.7-4.7-0.4-2.3-0.8-1-0.7-0.7-1.2 0.5-1.3 2.9-4.2 1.3-1.4 1.5-0.7z"/><path fill="#39c895" d="M140.1 252.1l2 0 1 0.5 2.1 2 1 1.5 1.7 3.3 3.3 7.7 0 1-0.6 1-2 1.3-1.2 0.4-2.5 0.5-3.8 0.2-5.7-0.8-2.8-1.1-1.2-1.2-0.3-1.6 4.5-10 2.5-3.4 1.8-1.1zM114.4 270.6l0.8 0 1.7 0.7 1.3 1.1 1.7 2.2 3.5 6.8 0.5 1.4 0.9 0.8-0.3 0.5 2.2 5.7 0.7 0.4 1.5-1.1 3.2 0.3 1.3 0.7 1.7 1.7 2 2.8 4.2 8.2 5.1 12.8 0 1.2-0.9 1.6-3.9 2.5-2.5 0.9 0.5-0.7-0.2-0.2-0.7 0.7 0.3 0.2-5.1 2-4.8 3.6-1.2 0.4-3 0.4-4-0.8-5-3.4-3-1.1-3-0.5-9.3-0.3-2.5-0.4-3.2-0.9-2.3-1.7-0.2-1.3 2.2-4.4 1.4-2.3 3.2-2.9 3.2-0.3 1.8 0.8 4.2 3 1.2 0.5 1.8 0 1.5-0.8 1.8-1.8 2.5-3.8-7.1 0.2 0.3-0.4-0.2-0.2-0.6 0.2-0.2-0.2-0.2 0.2 0.2 0.4-5.2-0.8-3.6-1.3 0.3-0.3-0.3-0.2-0.5 0.1-0.7-0.5-0.6-1.2 0.8-3.2 0.5-0.8 3.5-10.4 3.8-9 3-5 2-2.1 1-0.5 0.8 0zM132.6 316.7l0 0.3 3.5 0 0-0.3-3.2 0zM134.6 318l0 0.3 0.8 0 0-0.4-0.5 0.1zM138.6 319.4l-0.7 0.7 0.2 0.2 0.8-0.7zM138.1 320.9l-0.4 0.5 0.2 0.2 0.5-0.5zM136.1 321.1l-0.4 0.5 0.2 0.2 0.5-0.4zM136.9 318.4l-0.7 0.4 0.4 0.2 0.7-0.4-0.2-0.2zM136.9 320.6l-0.5 0.5 0.2 0.2 0.5-0.5zM137.1 321.6l-0.4 0.5 0.2 0.2 0.5-0.5zM137.7 273.4l2.4-0.3 1.3 0.8 1.9 1.9 2 3 2.6 5.6 0 0.7-0.7 1-3.1 1.3-3 0.5-3.2 0-3.5-0.6-2.3-0.8-1.5-1.1-0.3-1 0.3-1.3 2.7-5.3 1.9-2.7 0.9-0.9 1.5-0.8zM169.6 277.1l2 0 1 0.5 1.3 1 1.8 2.2 4 8 0.3 1.3-0.4 1.1-1.5 1.1-1.5 0.7-3 0.6-2.7 0.1-4.3-0.4-2-0.6-2-0.9-1-1-0.4-1.2 3.2-6.8 2.5-3.7 1-1 1.5-0.8zM151.8 294.4l2.6-0.1 2 1.3 2.3 2.8 1.4 2.4-0.3 1.3-1.2 0.8-1.5 0.6-3.5 0.4-4.2-0.5-1.8-0.7-1.2-0.9-0.3-1.2 1.7-2.8 2.3-2.5 1.5-0.8z"/><path fill="#40ca8d" d="M140.1 252.1l2 0 1 0.5 2.1 2 1 1.5 1.7 3.3 2.8 6.4 0.2 1-0.5 1.1-1.8 1.3-1 0.3-2.7 0.7-3.8 0.2-5.2-0.7-2.5-1-1.6-1.3-0.3-1 0.1-0.8 4-8.8 2.5-3.4 1.8-1.1zM114.4 270.6l0.8 0 1.7 0.7 1.3 1.1 1.7 2.2 3.5 6.8 0.5 1.4 0.9 0.8-0.3 0.5 2.2 5.7 0.7 0.4 1.5-1.1 3.2 0.3 1.8 1.2 2.7 3.2 2.7 4.8 0 0.5 2 3.7 4.6 11.6 0.1 1.4-0.8 1.6-2.3 1.6-2.8 1.3-4 1.5 0.3-0.4-0.3-0.3-0.5 0.7-3.5 1.7-2.5 2.2-1.2 0.7-3.2 0.5-2-0.2-2.3-0.7-5.3-3.4-3-1-4.2-0.6-5.2 0.1-4.8-0.5-3.5-1.1-1.8-1.2-0.3-0.7 0.1-1 1.7-3.2 1.5-2.3 3-2.9 3.3-0.3 1.8 0.8 4.2 3 1.2 0.5 1.8 0 1.5-0.7 1.8-1.9 3-4.8-0.1-0.2-7 0.3-5.4-0.6-4.6-1.6-1.2-1-0.3-0.8 0-0.8 4.5-12.7 3.8-9 3-5 2-2.1 1-0.5 0.8 0zM131.9 316.5l0 0.2 0.7 0.3 3.5 0 0-0.3-3.5 0-0.5-0.2zM139.4 318.6l-0.5 0.5 0.2 0.2 0.5-0.5zM101.1 301.9l-0.4 0.5 0.2 0.2 0.5-0.5zM110.6 300.7l-0.6 0.4 0.2 0.2 0.6-0.5zM134.6 317.9l0 0.4 0.8 0 0-0.4-0.5 0zM135.9 317.7l0 0.3 0.5 0 0.2-0.2-0.5-0.1zM138.6 319.4l-0.7 0.7 0.2 0.2 0.8-0.7zM135.4 320.4l-0.5 0.4 0.2 0.3 0.5-0.5zM135.1 315.7l0 0.3 0.8 0 0-0.3-0.5 0zM137.6 320.1l-0.4 0.5 0.2 0.2 0.5-0.4zM136.9 318.4l-0.7 0.4 0.4 0.3 0.7-0.5-0.2-0.2zM136.9 320.6l-0.5 0.5 0.2 0.2 0.5-0.5zM137.7 273.4l2.4-0.2 1.3 0.7 1.9 1.9 1.9 3 2.2 4.6 0 0.7-0.5 0.7-3 1.4-4.5 0.6-5-0.7-2-0.7-1.3-1-0.4-1 0.2-0.8 2.4-4.8 1.9-2.7 0.9-0.9 1.5-0.8zM169.6 277.1l2 0 1 0.5 1.3 1 1.8 2.2 3.9 8-0.1 1-0.6 0.7-1 0.8-2.8 0.9-4.2 0.4-5.3-0.7-2.7-1.2-0.8-0.7-0.5-1.1 0.1-0.5 2.7-5.6 2.5-3.7 1-1 1.5-0.8zM151.8 294.4l2.6-0.1 2 1.3 3 4 0.2 0.8-0.6 1-2.1 0.9-3.5 0.4-4.2-0.6-2.1-1.1-0.4-1.2 1.2-2 2.2-2.5 1.5-0.8z"/><path fill="#48cb86" d="M140.1 252.1l2 0 1 0.5 2.1 2 1 1.5 3.7 7.7 0.6 2-0.6 1.3-2 1.3-0.3 0.1-0.2-0.4-0.2 0.3 0.2 0.2-3.5 0.7-2.3 0.1-3.2-0.2-2.8-0.6-1.7-0.7-1.5-1.1-0.5-1 0-0.7 3.7-8.3 2.5-3.4 1.8-1.1zM114.4 270.6l0.8 0 1.7 0.7 1.3 1.1 1.7 2.2 3.5 6.8 0.5 1.4 0.9 0.8-0.3 0.5 2.2 5.7 0.7 0.4 1.5-1.1 3.2 0.3 1.3 0.7 1.7 1.7 2 2.8 4.2 8.2 4.1 10.3 0.3 2-1.3 1.8-2.3 1.5-3.2 1.3-0.3-0.3-0.5 0.5-2.7 1.1 0.2-0.4-0.2-0.2-0.5 0.6-3.2 1.6-3.6 2.6-2.7 0.6-2-0.2-2-0.6-3.5-2.4-4.3-1.9-4.4-0.7-4.8 0.1-5.5-0.4-3.8-1.2-1.2-0.7-0.5-0.7-0.1-1 1.3-2.7 1.5-2.3 3.1-2.9 3.2-0.3 1.8 0.8 4.2 3 1.2 0.5 1.8 0 1.5-0.7 1.8-1.9 3.5-5.5-0.3-0.5-6 0.4-7.3-0.8-4-1.6-0.8-0.8-0.4-0.9 4.2-12.5 3.8-9 3-5 2-2.1 1-0.5 0.8 0zM131.9 316.5l0 0.2 0.7 0.3 3.5 0 0-0.3-3.5 0-0.5-0.2zM138.6 318.4l-0.4 0.4 0.2 0.3 0.5-0.5zM139.4 318.6l-0.5 0.5 0.2 0.2 0.5-0.5zM110.6 300.7l-0.6 0.4 0.2 0.2 0.6-0.5zM134.6 317.9l0 0.4 0.8 0 0-0.4-0.5 0zM135.6 318.9l-0.2 0.2 0.5 0.2 0.2-0.2-0.2-0.2zM135.9 317.7l0 0.3 0.5 0 0.2-0.2-0.5-0.1zM137.6 315l-1.2 0.5 0 0.2 0.5 0 0.9-0.6zM134.6 314.5l0 0.2 2 0 0-0.2-1.7 0zM135.1 315.7l0 0.3 0.8 0 0-0.3-0.5 0zM136.9 318.4l-0.7 0.4 0.4 0.3 0.8-0.5-0.3-0.2zM137.7 273.4l2.4-0.2 1.3 0.7 1.9 1.9 1.9 3 1.7 3.6 0.1 0.7-0.4 0.6-1.5 1.1-2.5 0.7-2.7 0.2-4.5-0.4-2-0.6-1.5-0.9-0.6-0.7-0.2-1 1.5-3 2.4-3.7 1.1-1.2 1.5-0.8zM169.6 277.1l2 0 1 0.5 1.3 1 1.8 2.2 3.2 6.3 0.3 1.3-0.5 1.2-1.6 0.9-2.2 0.7-4.3 0.3-4.7-0.6-2.5-1.1-0.8-0.7-0.5-0.7 0-1 2.3-4.6 2.5-3.7 1-1 1.5-0.8zM151.8 294.4l2.6-0.1 2 1.3 2.3 2.8 0.4 1-0.4 0.7-1.6 1-2.7 0.5-3.8-0.3-2.5-0.9-0.7-0.7 0-1.1 2.7-3.3 1.5-0.8z"/><path fill="#51cc7f" d="M140.1 252.1l2 0 1 0.5 2.1 2 1 1.5 4 8.5-0.1 0.8-0.6 1-1.6 1-1.8 0.6-2.5 0.4-3.2 0-2.8-0.3-2.5-0.7-2-0.9-0.7-0.9-0.2-1.2 3.4-7.6 2.5-3.4 1.8-1.1zM114.4 270.6l0.8 0 1.7 0.7 1.3 1.1 1.7 2.2 3.5 6.8 0.5 1.4 0.9 0.8-0.3 0.5 2.2 5.7 0.7 0.4 1.5-1 3.2 0.2 1.3 0.7 2.7 3 3.2 5.5 6.1 14.5 0 1.1-1 1.5-3.3 2.2-2.2 0.9-0.3-0.4-0.5 0.6-5.7 2.2-4 2.7-3 0.8-3.2-0.5-5.3-3.2-4.3-1.6-3.4-0.4-9.1-0.1-2.7-0.5-2-0.8-1.5-1-0.3-1.2 1-2 1.5-2.3 3-2.9 3.3-0.2 1.7 0.7 4.3 3.1 1.2 0.5 1.8 0 1.5-0.8 1.9-1.9 3.9-6.5-0.1-0.4-0.4-0.1-4.6 0.5-7.2-0.5-2.5-0.5-2.3-1-0.2-0.5-1-0.2-0.7-1.3 3.9-11.7 3.8-9 3-5 2-2.1 1-0.5 0.8 0zM131.9 316.4l0 0.4 0.7 0.2 3.5 0 0-0.3-3.5 0-0.5-0.3zM110.6 300.7l-0.7 0.4 0.3 0.2 0.6-0.5zM134.6 317.9l-0.2 0.2 0.2 0.2 0.8 0 0.2-0.2-0.2-0.2-0.5 0zM135.6 318.9l-0.2 0.2 0.5 0.2 0.2-0.2-0.2-0.2zM135.9 317.6l-0.2 0.2 0.2 0.3 0.5 0 0.2-0.3-0.5-0.2zM134.9 313.5l0 0.2 1.7 0 0-0.2-1.5 0zM137.6 314.9l-1.2 0.5 0 0.4 0.5 0 0.9-0.7zM134.1 315.4l0 0.4 0.5 0 0.2-0.2-0.4-0.2zM134.6 314.5l0 0.2 2 0 0-0.2-1.7 0zM137.9 317.9l-0.5 0.5 0.2 0.2 0.5-0.5zM135.1 315.7l0 0.3 0.8 0 0-0.3-0.5 0zM136.9 318.4l-0.7 0.4 0.4 0.3 0.8-0.5-0.3-0.2zM137.7 273.4l2.4-0.2 1.3 0.7 1.9 1.9 3.1 5.6 0.2 0.4-0.2 0.9-2 1.3-3.8 0.7-4.7-0.3-3.5-1.3-0.8-0.9-0.1-0.6 1.1-2.5 2.4-3.7 1.1-1.2 1.5-0.8zM169.6 277.1l2 0 1 0.5 2.3 2.2 1.5 2.3 2.3 4.5 0.2 0.8-0.6 1.2-2.4 1.4-5 0.6-4.8-0.6-1.5-0.5-1.9-1.4-0.3-1.3 2.7-5.2 2.3-3 2-1.3zM151.8 294.4l2.6-0.1 2 1.3 2 2.5 0.1 0.7-0.6 0.8-2 0.8-2.8 0.2-2.2-0.2-2.5-1-0.6-0.8 0.1-0.8 2.2-2.5 1.5-0.8z"/><path fill="#5acc78" d="M140.1 252.1l2 0 1 0.5 2.1 2 1 1.5 1.7 3.3 2 4.7-0.2 0.7-0.8 1.1-3 1.2-2.8 0.4-3.2 0-5-1.1-2.3-1.7 0-1.6 3-6.3 2.5-3.4 1.8-1.1zM114.4 270.6l0.8 0 1.7 0.7 1.3 1.1 1.7 2.2 3.5 6.8 0.5 1.4 0.9 0.8-0.3 0.5 2.2 5.7 0.7 0.4 1.5-1 3.2 0.2 1.3 0.8 2.7 2.9 3.2 5.5 5.6 13.2 0.2 1.5-1.1 1.8-3.6 2.2-2.3 0.9-0.2-0.3-0.5 0.4-5.3 2-4 2.6-3 0.8-3-0.6-5.2-3.1-4.7-1.7-12.6-0.4-3.7-1.1-1.5-1-0.4-1 0.1-0.5 2-3.2 2.3-2.4 1.5-0.7 3.3 0.2 5.2 3.6 1.2 0.5 2.5-0.3 3.4-3.4 3.7-6.5-0.1-0.4-7.5 0.5-5.7-0.6-4-1.2-1-0.6-0.9-1.4 3.6-11 3.8-9 3-5 2-2.1 1-0.5 0.8 0zM131.9 316.4l0 0.4 0.7 0.2 3.5 0.1 0.3-0.3-0.3-0.2-3.5 0.1-0.5-0.3zM101.4 299.4l-0.2 0.2 0.2 0.2 0.5-0.2-0.3-0.2zM110.6 300.6l-0.7 0.5 0.3 0.2 0.7-0.5zM133.6 318.4l-0.4 0.4 0.2 0.3 0.5-0.5zM134.6 317.9l-0.2 0.2 0.2 0.2 0.8 0 0.2-0.2-0.2-0.2-0.5 0zM135.9 317.6l-0.2 0.2 0.2 0.3 0.5 0 0.2-0.3-0.5-0.2zM134.9 313.5l0 0.2 1.7 0 0-0.2-1.5 0zM135.1 312.5l0.5 0.2 0.8-0.2-1 0zM137.6 314.9l-1.2 0.5 0 0.4 0.5 0 0.9-0.7zM134.1 315.4l0 0.4 0.5 0 0.2-0.2-0.4-0.2zM134.6 314.5l0 0.3 2 0 0-0.4-1.7 0.1zM135.1 315.7l0 0.3 0.8 0 0-0.3-0.5 0zM137.8 273.4l2.3-0.2 1.3 0.8 1.8 1.8 3 5-0.3 1.2-1.3 0.9-1.7 0.6-3.8 0.4-3.7-0.5-2-0.7-1-0.7-0.5-1.4 1.4-2.8 2.3-3.1 2-1.2zM169.6 277.1l2 0 2.3 1.5 2.5 3.5 2 4 0.1 0.7-0.4 0.9-2.2 1.3-2.5 0.5-3 0.2-3.5-0.5-2.5-0.8-1.3-1-0.2-1.6 2.2-4.2 2.3-3 2-1.3zM151.9 294.4l2.5-0.1 1 0.5 2.5 2.6-0.3 1-1.8 1-1.4 0.2-3.3-0.2-2.2-0.8-0.5-1 0.5-1 1.2-1.3 1.5-0.7z"/><path fill="#62cd70" d="M140.1 252.1l2 0 1 0.5 2.1 2 2 3.2 2 4.3 0.4 1.5-0.5 0.9-1.5 1.2-1.5 0.5-5 0.5-4.5-0.6-1.7-0.6-1.8-1.4-0.2-1.5 2.7-5.8 2.5-3.4 1.8-1.1zM114.4 270.6l0.8 0 1.7 0.7 1.3 1.1 1.7 2.2 3.5 6.8 0.5 1.4 0.8 0.8-0.2 0.5 2.2 5.7 0.7 0.4 1.5-1 3.2 0.2 1.3 0.8 2.7 2.9 3.2 5.5 5.1 12 0.5 2-1.4 2-4.1 2.2-1.3 0.5-0.2-0.4-0.2 0.2 0.3 0.3-0.4 0.1-0.2-0.4-0.2 0.3 0.2 0.2-0.5-0.2-0.2 0.4-0.8-0.2-0.2 0.2 0.3 0.3-0.4 0.1-0.2-0.3-0.8 0-0.2 0.2 0.2 0.2 0.6 0.1-1.3 0.4-0.3-0.4-1.5 1.1-2.2 1-1.5 1.2-3 0.9-2.8-0.4-5-2.9-4.2-1.7-2.5-0.5-10.7-0.1-4.3-1.1-1.1-0.8-0.4-1.3 1.7-2.7 2.3-2.3 1.5-0.8 3.3 0.2 5.2 3.6 1.2 0.5 2.6-0.3 3.3-3.4 4.2-7.5-0.1-0.2-7.2 0.5-1.8-0.1 0.3-0.5-0.3-0.2-0.7 0.7-3.7-0.5-3.8-1.1-1.5-0.8-0.7-1.3 3.4-10.2 3.8-9 3-5 2-2.1 1-0.5 0.8 0zM131.9 316.4l0 0.4 0.7 0.3 3.5 0 0.3-0.3-0.3-0.2-3.5 0-0.5-0.2zM135.1 312.5l0 0.2 1.3 0 0-0.2-1 0zM137.6 314.9l-1.2 0.5-0.2 0.2 0.2 0.2 0.5 0 0.9-0.7zM134.9 313.5l0 0.2 1.7 0.1 0-0.4-1.5 0.1zM136.6 316.4l-0.2 0.2 0.5 0.2 0.2-0.2-0.2-0.2zM134.1 315.4l0 0.4 0.5 0 0.2-0.2-0.4-0.2zM134.6 314.4l0 0.4 2 0 0-0.4-1.7 0zM135.1 315.7l0 0.4 0.8 0 0.2-0.3-0.2-0.2-0.5 0.1zM137.8 273.4l2.3-0.2 1.3 0.8 3 3.6 1.3 2.2-0.1 1.3-1.2 1-4.3 0.8-3.7-0.2-3.3-1.1-0.8-1.2 0.3-1.3 2.5-3.7 1-1.2 1.5-0.7zM169.6 277.1l2 0 2.3 1.5 1.8 2.2 2.5 4.8-0.1 0.8-0.5 0.7-2.7 1.3-4.8 0.4-4-0.7-2.4-1.3-0.6-1.4 1.3-2.6 2.5-3.7 1-1 1.5-0.8zM151.9 294.4l2.5-0.1 1 0.5 2 2-0.2 0.8-1.3 0.7-2.3 0.4-2-0.2-1.8-0.7-0.7-0.7 0-0.7 1-1.1 1.5-0.7z"/><path fill="#6bcd69" d="M140.1 252.1l2 0 1 0.5 2.1 2 2 3.2 2 4.3 0 1-0.6 0.9-2.7 1.3-4.8 0.6-4.2-0.6-1.8-0.6-1.6-1.1-0.4-1.5 2.5-5.3 2.5-3.4 1.8-1.1zM114.4 270.6l0.8 0 1.7 0.7 1.3 1.1 1.7 2.2 3.5 6.8 0.5 1.4 0.8 0.8-0.2 0.5 2.2 5.7 0.7 0.4 1.5-1 3.2 0.2 1.3 0.8 2.7 2.9 3.2 5.5 5.1 12 0.2 1.2-0.7 1.4-1.7 1.4-2.3 1.2-2.8 1-0.5-0.4-0.2 0.2 0.6 0.2-0.6 0.3-0.3-0.5-3.5 0-0.7-0.2-0.2 0.2 0.2 0.2 0.7 0.3 3.7 0-4.7 1.5-4.2 2.4-1.8 0.4-1.4 0.1-2-0.6-4.8-2.7-5.5-1.9-1.5-0.3-7 0.3-2.8-0.1-4.2-1-1.3-0.8-0.2-1.3 1.2-2 2.3-2.3 1.5-0.8 3.3 0.2 5.2 3.6 1.2 0.5 2.6-0.2 3.3-3.5 4.7-8.2-0.1-0.5-6.2 0.7-2.7 0-0.3-0.5-1.3 0.4-2.4-0.3-4.8-1.3-1-0.6-0.9-1.5 3.1-9.4 3.8-9 3-5 2-2.1 1-0.5 0.8 0zM135.1 312.5l0 0.2 1.3 0 0-0.2-1 0zM137.6 314.9l-1.2 0.5-0.2 0.2 0.2 0.2 0.5 0 1-0.7zM102.6 296.5l-0.6 0.3 0.1 0.2 0.7-0.4zM134.1 315.4l-0.2 0.2 0.2 0.2 0.5 0 0.3-0.2-0.5-0.2zM134.9 313.4l0 0.4 1.7 0 0-0.4-1.5 0zM134.6 314.4l0 0.4 2 0 0-0.4-1.7 0zM135.1 315.6l-0.2 0.2 0.2 0.3 0.8 0 0.2-0.3-0.2-0.2-0.5 0zM137.8 273.4l2.3-0.2 1.3 0.8 1.8 1.8 2 3 0.2 1-0.4 0.8-2.4 1.1-3.5 0.4-4.2-0.7-1.8-1-0.3-1.3 1.5-2.7 1.8-2.1 1.5-0.8zM169.6 277.1l2 0 2.3 1.5 1.8 2.2 2 3.8 0.1 0.8-0.4 0.7-0.8 0.6-1.7 0.8-3 0.4-4.3-0.3-3.3-1.2-0.8-1.6 0.9-2 2.5-3.7 1-1 1.5-0.8zM151.9 294.4l2.5-0.1 2 1.3 0.3 0.5-0.1 0.5-1 0.7-1.5 0.3-2.2-0.1-1-0.3-1.3-1.1 0.5-0.8 1.5-0.7z"/><path fill="#74cc62" d="M140.1 252.1l2 0 1 0.5 2.1 2 2 3.2 1.7 3.8 0 0.8-0.5 0.8-2.8 1.3-4.2 0.5-5-0.7-2.8-1.6-0.2-0.9 0.2-1 2.8-5.2 1.7-2.3 1.8-1zM114.4 270.6l0.8 0 1.7 0.7 1.3 1.1 1.7 2.2 3.5 6.8 0.5 1.4 0.8 0.8-0.2 0.5 2.2 5.7 0.7 0.4 1.5-1 3.2 0.2 1.3 0.8 2.7 2.9 3.2 5.5 4.9 11.5 0.1 1.3-1 1.4-2.7 1.8-4 1.5-1.7 0.5-3-0.2-0.2 0.2 0.2 0.2 2.1 0.3-2.6 0.7-4 2.1-1.5 0.4-3.3-0.5-5.4-2.6-4.8-1.8-2.5-0.5-5.3 0.5-3.7 0-2.3-0.4-2.8-1.2-0.5-1.2 0.8-1.5 2.3-2.3 1.5-0.8 3.3 0.3 5.2 3.5 1.2 0.5 2.5-0.2 3.5-3.5 5.1-9.2-0.1-0.4-0.4-0.1-0.3 0.3-0.9 0.2-5.4 0.4-6.7-0.4-4-1.2-1.5-1-0.6-0.8 0.1-1.3 2.7-7.7 3.8-9 3-5 2-2.1 1-0.5 0.8 0zM120.9 297.6l-0.5 0.5 0.2 0.2 0.5-0.5zM135.4 311.5l0 0.2 0.7 0 0-0.2-0.5 0zM137.6 314.9l-1.2 0.5-0.2 0.2 0.2 0.2 0.5 0 1-0.7zM102.6 296.4l-0.7 0.4 0.2 0.3 0.7-0.5zM121.4 296.4l-0.2 0.2 0.5 0.5 0.3 0-0.4-0.5zM122.6 294l0 0.2 1 0-0.7-0.2zM135.1 312.4l0 0.4 1.3 0 0-0.4-1 0zM134.1 315.4l-0.2 0.2 0.2 0.2 0.5 0 0.3-0.2-0.5-0.2zM134.9 313.4l0 0.4 1.7 0 0-0.4-1.5 0zM134.6 314.4l-0.2 0.2 0.2 0.2 2 0 0.3-0.2-0.3-0.2-1.7 0zM135.1 315.6l-0.2 0.2 0.2 0.3 0.8 0 0.2-0.3-0.2-0.2-0.5 0zM137.8 273.4l2.3-0.2 1.3 0.8 3 3.6 0.6 1.2-0.4 1-2.2 1.1-2.8 0.3-3.2-0.3-1.8-0.5-1.2-0.8-0.3-1.2 1.3-2 1.7-2.1 1.5-0.8zM169.6 277.1l2 0 1 0.5 2.3 2.2 2.5 4.3 0 0.7-0.9 1-2.1 0.9-3.8 0.4-3.5-0.5-2.7-1.2-0.5-1.6 1.2-2.2 2.3-3 2-1.3zM151.9 294.4l2.5-0.1 1.5 1.1-0.2 0.4-1.8 0.8-2-0.2-1-0.4-0.4-0.6 1.1-0.8z"/><path fill="#7ecc5b" d="M140.1 252.1l2 0 1 0.5 2.1 2 2 3.2 1.5 3.3-0.6 1.3-0.7 0.6-2.8 0.9-3.5 0.3-4-0.5-1.5-0.5-1.5-1-0.4-1.4 1.9-4 2.5-3.4 1.8-1.1zM114.4 270.6l0.8 0 1.7 0.7 1.3 1.1 1.7 2.2 3.5 6.8 0.5 1.4 0.8 0.8-0.2 0.5 2.2 5.7 0.7 0.4 1.5-1 3.2 0.2 1.3 0.8 2.7 2.9 3.2 5.5 0 0.5 1.9 3.7 2 4.8 0.9 2.5-0.2 1-0.6 0.7-1.7 1.4-1.7 0.9-1.3 0.5-0.2-0.5-0.2 0.3 0.4 0.2-0.2 0.1-3.3 0.9-0.2 0.4-2.3 0.5-0.7-0.1-0.2 0.2 0.6 0.2-1.4 0.3-4.8 2.1-3.5-0.4-4.7-2.2-7.3-2.8-6 0.7-3.2 0-3.5-0.6-1.6-0.8-0.4-0.5-0.2-0.8 0.4-0.7 2.3-2.3 1.5-0.8 3.2 0.3 5.3 3.5 1.2 0.5 2.5-0.2 3.5-3.5 5.8-10.5-0.5-0.5-0.5 0.8-3.8 0.5-7.4 0-4-0.7-2.3-0.8-0.5-0.3 0.5-0.5-0.3-0.2-0.7 0.5-0.9-1.3 0.1-1.2 2-5 0.5-2 3.8-9 3-5 2-2.1 1-0.5 0.8 0zM120.4 295.2l-0.4 0.4 0.1 0.2 0.7-0.2-0.2-0.2zM137.9 313.6l-0.5 0.5 0.2 0.2 0.5-0.5zM121.6 294.7l-0.1 0.1 0.7 0.7 0.1-0.1-0.5-0.6zM137.4 310.7l-0.9 0.7 0.1 0.1 0.9-0.7zM135.1 312.4l0 0.4 1.3 0 0-0.4-1 0zM135.4 311.5l0 0.3 0.7 0 0-0.4-0.5 0zM121.4 296.4l-0.2 0.2 0.5 0.5 0.3 0-0.4-0.5zM122.6 294l0 0.2 1 0 0-0.2-0.7 0zM134.1 315.4l-0.2 0.2 0.2 0.2 0.5 0 0.3-0.2-0.5-0.2zM134.9 313.4l0 0.4 1.7 0 0.3-0.2-0.3-0.2-1.5 0zM134.6 314.4l-0.2 0.2 0.2 0.2 2 0 0.3-0.2-0.3-0.2-1.7 0zM137.8 273.4l2.3-0.1 1.3 0.7 3 3.6 0 1.3-2.3 1.2-2.5 0.3-3.5-0.4-2.2-1.1-0.4-1.1 0.9-1.4 1.7-2.1 1.5-0.8zM169.6 277.1l2 0 2.3 1.5 1.8 2.2 1.2 2.3 0.2 0.7-0.5 0.9-2.2 1.1-3.3 0.5-3.2-0.4-3-1.1-0.5-0.7-0.1-0.7 0.8-1.8 2.3-3 2-1.3zM151.9 294.4l2.5-0.1 0.3 0.3-0.1 0.4-1.7 0.3-1-0.2-0.3-0.5z"/><path fill="#87cb54" d="M140.1 252.1l2 0 1 0.5 2.1 2 2.7 4.8 0.4 1.2-0.4 1.1-1.3 0.8-1.7 0.5-5 0.3-3.5-0.7-1-0.4-1.2-1.1-0.1-1.3 2.3-4.2 1.7-2.3 1.8-1zM114.4 270.6l0.8 0 1.7 0.7 1.3 1.1 1.7 2.2 3.5 6.8 0.5 1.4 0.8 0.8-0.2 0.5 2.2 5.7 0.7 0.4 1.5-1 3.2 0.2 1.3 0.8 2.6 2.9 3.3 5.5-0.1 0.5 3.5 7.3 1.1 3.2-0.7 1.4-1.5 1.4-2.5 1.2-1 0.4-0.2-0.4-1.2 0.8-2.1 0-0.2 0.2 0.2 0.2 1.3 0-2.3 0.3-0.2 0.5-2 0.4-0.2 0.4-5 1.7-3.6-0.3-6.2-2.8-1-0.2-3.9-2.2 0.3-0.5 1.1-0.5 2.7-3 2.6-4.5 3.4-6.9-1 0.3-0.4-0.4-0.3 0.3 0.3 0.2-0.3 0.1-4.7 0.5-7.6-0.3-4.7-1.4-1.3-0.9-0.4-1.2 4.2-11.6 3.5-7.2 1.5-2.2 2-2.1 1-0.5 0.8 0zM120.4 295.2l-0.4 0.4 0.2 0.2 0.6-0.2-0.2-0.2zM120.9 296.4l-0.5 0.4 0.2 0.3 0.5-0.5zM121.6 294.7l-0.1 0.1 0.7 0.8 0.2-0.2-0.6-0.6zM133.1 310l0.8 1 0.1-0.2-0.7-0.7zM135.1 309.2l0 0.3 1 0 0-0.3-0.7 0zM137.4 310.7l-0.9 0.7 0.1 0.1 1-0.7zM133.4 313.6l-0.2 0.2 0.4 0.5 0.3-0.2-0.3-0.3zM134.4 310.9l0.2 0.6 0.5-0.1-0.5-0.3zM135.4 311.4l0 0.4 0.7 0 0-0.4-0.5 0zM137.4 312.9l-0.5 0.5 0.2 0.2 0.5-0.5zM134.9 313.4l-0.2 0.2 0.2 0.2 1.7 0 0.3-0.2-0.3-0.2-1.5 0zM135.1 312.4l0 0.4 1.3 0 0.2-0.2-0.2-0.2-1 0zM121.4 296.4l-0.2 0.2 0.5 0.5 0.3 0-0.4-0.5zM122.6 293.9l0 0.4 1 0 0-0.4-0.7 0zM137.8 273.4l2.3-0.1 1.3 0.7 2.5 2.8 0.2 0.8-0.6 1-1.4 0.6-3.2 0.3-2.3-0.3-2.1-0.8-0.6-1 0.5-1 1.7-2.1 1.5-0.8zM169.6 277.1l2 0 2.3 1.5 2.8 4 0 0.8-0.4 0.7-2.7 1-3 0.3-3-0.4-1.7-0.6-1-0.8-0.3-1 1.5-2.5 1.8-2 1.5-0.8zM99.8 308.1l2.6-0.1 0.8 0.3 5.9 3.8-0.2 0.4-1.5 0.6-3.8 0.6-3.5-0.2-2.5-0.6-1.3-1.1 0-0.7 2.1-2.3 1.2-0.5z"/><path fill="#90ca4d" d="M140.1 252.1l2 0 1 0.5 2.1 2 2.7 4.8 0.1 0.7-0.4 0.8-2.2 1.2-4 0.5-4.5-0.7-2.3-1.3-0.2-1.2 2-3.8 1.7-2.3 1.8-1zM114.4 270.6l0.8 0 1.7 0.7 1.3 1.1 1.7 2.2 3.5 6.8 0.5 1.4 0.8 0.8-0.2 0.5 2.2 5.7 0.7 0.4 1.5-1 3.2 0.2 1.3 0.8 2.6 2.9 3.2 5.5 0 0.5 2 3.7 2 4.8 0.3 1.5-0.9 1.5-1.5 1.2-1.7 0.9-2 0.8 0.2-0.4-0.2-0.2-0.5 0.5 0.2 0.2-2.2-0.2-0.2 0.2 0.2 0.2 1.5 0-2.3 0.3-0.2 0.5-8.3 2.5-2.2-0.2-2.5-0.7-6.1-2.6-1.9-1.5-0.1-0.5 2.1-2 1.7-2.5 5.8-10.7-1.5 0-0.7 0.5-4.8 0.5-6.8-0.2-3.2-0.6-2.6-1-0.2-0.5-0.2 0.3-0.5-0.4-0.4-1.2 3.9-11 3.5-7.2 1.5-2.2 2-2.1 1-0.5 0.8 0zM120.4 295.1l-0.5 0.5 0.3 0.2 0.7-0.2-0.3-0.2zM136.9 309.9l-0.7 0.5 0.2 0.1 0.7-0.4zM121.6 294.7l-0.1 0.1 0.7 0.8 0.2-0.2-0.5-0.6zM133.1 310l0.8 1 0.2-0.2-0.8-0.7zM137.4 310.7l-0.9 0.7 0.1 0.1 1-0.7zM122.1 292.2l0.1 0.3 1 0 0-0.3-0.8 0zM133.4 313.6l-0.2 0.2 0.4 0.5 0.3-0.2-0.3-0.3zM133.6 312.6l-0.2 0.2 0.5 0.5 0.2-0.2-0.2-0.3zM134.4 310.9l-0.2 0.2 0.4 0.4 0.5-0.1-0.5-0.3zM135.1 309.2l0 0.3 1 0 0-0.3-0.7 0zM122.6 293.2l0 0.3 0.6 0 0.1-0.1-0.4-0.2zM135.1 312.4l-0.2 0.2 0.2 0.2 1.3 0 0.2-0.2-0.2-0.2-1 0zM135.4 311.4l0 0.4 0.7 0 0-0.4-0.5 0zM122.6 293.9l0 0.4 1 0 0-0.4-0.7 0zM137.8 273.4l2.3-0.1 1.3 0.8 2.2 2.5-0.3 1-1.2 0.6-3.2 0.4-2-0.2-1.9-0.8-0.6-0.8 0.1-0.4 1.6-2.1 1.5-0.8zM169.6 277.1l2 0 2 1.2 2.7 3.8-0.2 1-1.5 0.9-3 0.5-3-0.1-2.5-0.8-0.9-1-0.1-1 2.3-3 2-1.3zM99.9 308.1l2.5 0 0.8 0.2 4 2.5 0.3 0.6-0.2 0.4-2 0.8-2.1 0.2-2.8-0.1-2.3-0.6-1-0.6-0.4-0.9 1.7-1.8 1.2-0.5z"/><path fill="#99c946" d="M140.1 252.1l2 0 1 0.5 2.1 2 2.4 4.2 0 0.8-0.6 0.8-2.6 1.1-3 0.2-3.5-0.4-2.5-1-0.7-1.2 0.9-2.3 2.5-3.4 1.8-1.1zM114.4 270.6l0.8 0 1.7 0.7 1.3 1.1 1.7 2.2 3.5 6.8 0.5 1.4 0.8 0.8-0.2 0.5 2.2 5.7 0.7 0.4 1.5-1 3.2 0.2 1.3 0.8 2.6 2.9 3.2 5.5 0 0.5 2 3.7 2 4.8 0 1-0.7 1.2-1.4 1.1-2.7 1.4-2.8 0.9-1 0.1-0.2-0.2-0.2 0.3 0.4 0.2-1.2 0-0.3 0.4-0.9 0.1-0.1 0.3-6.2 1.6-2.5-0.1-2.8-0.8-5-2.1-1.8-1.4-0.1-0.8 1.9-2.2 1.7-2.8 3.6-7.2 1.5-2.2 0.2-1-1-0.8-0.2 0.2 0.5 0.6-0.3 0.3-0.7 0.1-0.5-0.7-0.5 0.5 0.5 0.2-1.5 0.5-5.3 0.4-5-0.3-3.4-0.6-1.8-0.8-1.5-1.2-0.2-0.7 3.7-10.3 3.5-7.2 1.5-2.2 2-2.1 1-0.5 0.8 0zM120.1 292.9l-0.6 0.7 0.1 0.2 0.7-0.7zM136.9 309.9l-0.7 0.5 0.2 0.1 0.7-0.4zM133.1 309.9l-0.1 0.2 0.9 0.9 0.2-0.2-0.8-0.7zM137.4 310.6l-1 0.8 0.2 0.2 1-0.8zM133.6 312.6l-0.2 0.2 0.5 0.5 0.2-0.2-0.2-0.3zM134.4 310.9l-0.2 0.2 0.4 0.5 0.5-0.2-0.5-0.3zM135.1 309.2l0 0.3 1 0 0-0.3-0.7 0zM121.9 294.1l-0.2 0.3 0.5 0.4 0.2-0.2-0.3-0.2zM122.1 292.2l0.1 0.3 1 0-0.1-0.3-0.7 0zM135.4 311.4l-0.2 0.2 0.2 0.2 0.7 0 0.3-0.2-0.3-0.2-0.5 0zM122.6 293.2l0 0.3 0.6 0 0.1-0.1-0.4-0.2zM135.1 312.4l-0.2 0.2 0.2 0.2 1.3 0 0.2-0.2-0.2-0.2-1 0zM122.6 293.9l-0.2 0.2 0.2 0.2 1 0 0-0.4-0.7 0zM137.9 273.4l2.2-0.1 0.5 0.3 2.3 2 0.2 0.5-0.2 0.6-0.5 0.4-1.5 0.5-1.5 0.1-3.5-0.6-1-1 0.2-0.7 1-1.1 1.5-0.7zM169.6 277.1l2 0 2 1.2 2.3 3.1-0.3 1-1.5 0.8-2.7 0.5-2.5-0.1-1.8-0.5-1-0.6-0.6-0.9 0.1-0.8 2.3-2.7 1.5-0.8zM99.9 308.1l2.5 0 0.8 0.2 2.4 1.5 0.6 0.6 0.1 0.4-1.1 0.8-2.6 0.3-2.2-0.2-2.2-0.6-0.8-0.7 0-0.6 1-1 1.2-0.5z"/><path fill="#a2c83f" d="M140.1 252.1l2 0 1 0.5 2.1 2 2 3.2 0.1 0.8-0.3 0.8-1.1 0.7-1.5 0.5-3.5 0.3-4.3-0.8-1.2-1-0.4-0.7 0.1-0.6 1.3-2.2 1.7-2.3 1.8-1zM114.4 270.6l0.8 0 1.7 0.7 1.3 1.1 1.7 2.2 3.5 6.8 0.5 1.4 0.8 0.8-0.2 0.5 2.2 5.7 0.7 0.4 1.5-1 3.2 0.2 1.3 0.8 2.6 2.9 3.2 5.5 3.7 8.5 0 1-1.5 1.7-2.5 1.4-3.8 1.2-0.2 0.3-1.3-0.1-0.2 0.5-0.8 0.3-4.7 1.3-2.8 0.4-1.7-0.2-3.5-1-3.5-1.5-1.8-1.3-0.2-1 2.9-4.3 3.7-7.2 2.4-4.2-1 0.2-0.5-0.5-0.2 0.3 0.2 0.4-0.3-0.2-1 0.6-3 0.5-7.4 0.1-5.8-1.2-1.2-0.5 0.2-0.3-0.2-0.2-0.4 0.2-0.9-1.4 3.5-9.6 3.5-7.2 1.5-2.2 2-2.1 1-0.5 0.8 0zM120.2 292.9l-0.7 0.7 0.1 0.2 0.7-0.7zM136.9 309.9l-0.7 0.5 0.2 0.2 0.7-0.5zM120.2 294.1l-0.5 0.5 0.2 0.2 0.5-0.4zM133.1 309.9l-0.1 0.2 0.9 1 0.2-0.3-0.8-0.7zM137.4 310.6l-1 0.8 0.2 0.2 1-0.8zM120.9 291.2l0.7 1.1 0.2-0.2-0.8-0.7zM121.9 291.2l0.3 0.5 0.4 0 0-0.2-0.6-0.1zM134.4 310.9l-0.2 0.2 0.4 0.5 0.5-0.2-0.5-0.3zM135.1 309.2l0 0.3 1 0 0-0.3-0.7 0zM122.2 292.2l0 0.3 0.9 0 0-0.3-0.7 0zM135.4 311.4l-0.2 0.2 0.2 0.2 0.7 0 0.3-0.2-0.3-0.2-0.5 0zM122.6 293.1l-0.2 0.3 0.2 0.2 0.6 0 0.2-0.2-0.5-0.3zM122.6 293.9l-0.2 0.2 0.2 0.2 1 0 0-0.4-0.7 0zM137.9 273.4l2.2-0.1 0.5 0.3 1.8 1.5 0.1 0.5-0.4 0.5-2.5 0.7-3.2-0.6-0.8-0.6 0-0.8 2-1.2zM169.6 277.1l2 0 2 1.2 1.8 2.3-0.3 1-1.7 0.9-2.8 0.3-3-0.4-1-0.5-0.6-0.8 0.1-1 1.8-2 1.5-0.8zM99.9 308.1l2.5 0 0.8 0.2 1.7 1 0.2 0.8-0.7 0.5-1.5 0.2-3.5-0.3-1.1-0.7-0.2-0.4 1-1.1 0.5 0z"/><path fill="#acc739" d="M140.1 252.1l2 0 1 0.5 2.1 2 1.7 3-0.4 1-2.1 1.1-2 0.3-4-0.3-2.3-0.9-0.7-1.2 0.2-0.8 2.5-3.4 1.8-1.1zM114.4 270.6l0.8 0 1.7 0.7 1.3 1.1 1.7 2.2 3.5 6.8 0.5 1.4 0.8 0.8-0.2 0.5 2.2 5.7 0.7 0.5 1.5-1.1 3.2 0.3 1.3 0.7 2.6 2.9 3.2 5.5 0 0.5 3.4 7.3 0 0.9-0.7 1.1-0.8 0.7-3.5 1.8-0.2-0.3-0.8 0.5-1.2 0.3-0.3 0.3-3 0.9-6.5 1.4-2.7-0.2-3.7-1.1-3.3-1.7-0.7-0.6-0.2-0.8 0.1-0.5 2.2-3.3 3.7-7.2 3.1-5.4-0.7 0.4-0.2-0.5-0.6 0-0.2 0.3 0.2 0.2 0.8 0-1.2 0-0.3 0.4-1.5 0.4-0.2-0.3-1.1 0.5-5.2 0.5-3.8-0.1-2.9-0.4-3-0.9-1.8-1.3-0.2-0.8 3.2-8.8 3.5-7.2 1.5-2.2 2-2.1 1-0.5 0.8 0zM136.9 309.9l-0.7 0.5 0.2 0.2 0.7-0.5zM120.2 292.9l-0.8 0.7 0.2 0.2 0.8-0.7zM121.9 290.5l0 0.2 0.5 0 0.4-0.1-0.6-0.1zM133.1 309.9l-0.1 0.2 0.9 1 0.2-0.3-0.7-0.7zM134.9 310.1l-0.2 0.3 0.4 0.2 0.3-0.2-0.3-0.3zM120.9 291.2l-0.2 0.2 0.9 0.9 0.2-0.2-0.7-0.7zM121.9 291.2l-0.2 0.2 0.4 0.4 0.5 0 0-0.4-0.5 0zM133.6 308.2l-0.1 0.2 0.6 0.6 0.2-0.2-0.5-0.4zM134.4 310.9l-0.2 0.2 0.4 0.5 0.5-0.2-0.5-0.3zM122.2 292.2l0 0.4 1 0 0.2-0.2-0.2-0.2-0.8 0zM135.1 309.2l0 0.3 1 0.1 0-0.4-0.7 0zM135.6 310.4l-0.2 0.2 0.5 0.2 0.2-0.2-0.2-0.2zM137.9 273.4l2.2-0.1 0.5 0.3 1.1 0.8-0.3 0.7-1.3 0.5-2.3 0-1.5-1 0.6-0.8 0.7-0.2zM169.6 277.1l2 0 2 1.2 1.3 1.5-0.4 1.3-3.4 0.8-1.7-0.1-2.3-0.7-0.7-1 0.5-1 1-1 1.5-0.8zM99.9 308.1l2.5 0 1.2 0.5 0.2 0.5-1.7 0.5-1.7-0.1-1.3-0.6 0.1-0.5 0.4-0.1z"/><path fill="#b5c533" d="M140.1 252.1l2 0 1 0.5 2.1 2 1 1.5 0.3 1-0.4 0.6-2 1.1-1.7 0.2-3-0.1-2.8-0.9-0.7-0.9 0.5-1.5 1.7-2.3 1.8-1zM114.4 270.6l0.8 0 1.7 0.7 1.3 1.1 1.7 2.2 3.5 6.8 0.5 1.4 0.8 0.8-0.3 0.5 2 4.7 0.2 1.8 2.3-1.4 2.5 0 2 1 2.6 2.9 3.2 5.5 0 0.5 2.7 5.5 0.5 1.8-0.8 1.2-1.2 1-3.3 1.6-0.2-0.3-2.8 1.3-4.7 1.2-3.5 0.6-4.5-0.6-4.5-1.8-0.9-0.8-0.4-0.7 0-0.7 2.7-4.3 3.7-7.3 3.4-5.1-3.5 1.5-1.7 0.3 0.2-0.4-0.2-0.2-0.8 0.8-0.8 0.2-7 0.3-6.2-1-2-0.8-0.9-1.3 2.9-8.3 3.5-7.2 1.5-2.2 2-2.1 1-0.5 0.8 0zM134.4 307.7l-0.2 0.1 0.4 0.5 0.5-0.2-0.5-0.3zM133.1 309.9l-0.2 0.2 1 1 0.2-0.3-0.7-0.7zM134.9 310.1l-0.2 0.3 0.4 0.2 0.3-0.2-0.3-0.3zM120.9 291.2l-0.2 0.2 0.9 0.9 0.3-0.2-0.8-0.7zM121.9 290.4l0 0.4 0.7 0 0-0.4-0.4 0zM133.6 308.2l-0.1 0.2 0.6 0.6 0.2-0.2-0.5-0.4zM121.2 292.1l-0.3 0.3 0.5 0.4 0.2-0.2-0.2-0.2zM121.9 291.2l-0.2 0.2 0.5 0.4 0.4 0 0.3-0.2-0.3-0.2-0.5 0zM135.1 309.1l-0.2 0.3 0.2 0.2 1 0 0.3-0.2-0.3-0.3-0.7 0zM122.2 292.1l-0.3 0.3 0.3 0.2 1 0 0.2-0.2-0.2-0.3-0.8 0zM137.9 273.4l2.2-0.1 0.4 0.3-0.1 0.5-2.3 0.1-0.5-0.1 0-0.5zM169.6 277.1l2 0 1 0.5 1.8 1.8-0.5 0.7-1 0.5-1.8 0.3-3.2-0.5-0.8-0.8 0-0.8 1.5-1.2 0.8-0.3z"/><path fill="#bec32e" d="M140.1 252.1l2 0 1 0.5 2.6 2.8 0.3 1-0.5 0.7-1.6 0.7-2.3 0.3-2.7-0.3-2-0.8-0.6-0.9 0.6-1.3 1.2-1.5 1.8-1zM114.4 270.6l1.5 0.2 2 1.3 2.8 3.7 3.2 7 0.8 0.8-0.3 0.5 2 4.7 0 0.8-0.8 1-1.2 0.8-2 0.6-0.5 0.1-1-1-0.2 0.3 0.7 0.9-0.2-0.2-1.8 0.7-6.2 0.6-3.8-0.2-3.5-0.7-2.3-1.1-0.7-0.8 0-1 2.5-6.8 3.5-7.2 1.5-2.2 2-2.1 1-0.5 0.8 0zM121.9 290.4l0 0.4 0.7 0 0-0.4-0.4 0zM121.9 291.1l-0.2 0.3 0.4 0.4 0.5 0 0.3-0.2-0.3-0.2-0.5 0zM169.6 277.1l2 0 1 0.5 1 1-0.5 0.8-2.2 0.4-2.3-0.4-0.8-1 1.6-1.1zM128.8 289.4l2.6-0.2 1.2 0.5 3.4 3.4 3.2 5.5 0 0.5 2.7 5.5 0.1 1-0.9 1.5-2.5 1.5-1.7 0.7-0.3-0.4-0.2 0.2 0.2 0.3-1.5-0.3-0.2 0.3 0.2 0.2 1 0-1.7 0.3-0.3 0.3-1-0.3-0.2 0.2 0.2 0.4-6.5 1.4-3 0-3.4-0.9-2.8-1.2-1-1-0.2-1.2 2.1-3.5 1.2-2.7 3.7-6.6 1.7-2.4 1.8-1.8 1.9-1.1zM134.4 307.7l-0.2 0.1 0.4 0.5 0.5-0.2-0.5-0.3zM133.6 308.2l-0.1 0.2 0.6 0.7 0.3-0.3-0.5-0.4zM134.6 305.5l0.3 0.5 0.5 0 0-0.3-0.6-0.1zM135.1 306.9l0 0.4 0.5 0 0.2-0.2-0.4-0.2z"/><path fill="#c8c129" d="M140.1 252.1l2 0 1 0.5 2.1 2 0.3 0.8-0.4 0.6-1.8 0.8-2.2 0.2-1.5-0.1-2.2-0.8-0.5-0.7 0.2-0.8 1-1.3 1.8-1zM114.4 270.6l1.5 0.2 2 1.3 2.8 3.7 3.2 7 0.8 0.8-0.3 0.5 1.7 4.3-0.5 1-2 1.3-1.7 0.4-0.3 0.3-0.7-0.3-0.5 0.5-2.1 0.5-4.7 0.3-4.2-0.2-3.2-0.6-2-0.9-1-1-0.1-0.9 2.3-6 3.5-7.2 1.5-2.2 2-2.1 1-0.5 0.8 0zM121.9 290.4l-0.2 0.2 0.2 0.2 0.7 0 0.3-0.2-0.3-0.2-0.4 0zM121.2 290.6l-0.3 0.2 0.5 0.5 0.2-0.2-0.2-0.3zM169.6 277.1l2 0 0.8 0.5 0 0.3-0.8 0.4-1.5 0.1-1.1-0.6-0.1-0.2 0.5-0.3zM128.8 289.4l2.6-0.2 1.2 0.5 3.4 3.4 3.2 5.5 0 0.5 2 3.7 0.5 1.8-0.6 1.3-2 1.4-3 1.3-1.5 0.3-0.2 0.3-8.2 1.7-4.8-0.6-3-1.2-1.5-1.2-0.3-1.1 6.6-12 1.7-2.4 1.8-1.8 1.9-1.1zM134.4 307.6l-0.2 0.2 0.4 0.5 0.5-0.2-0.5-0.3zM133.6 305.9l-0.1 0.2 0.6 0.7 0.2-0.2-0.5-0.5zM133.6 308.1l-0.2 0.3 0.7 0.7 0.3-0.3-0.5-0.4zM134.6 305.5l0.3 0.5 0.5 0 0-0.3-0.6-0.1zM135.1 306.9l0 0.4 0.5 0 0.3-0.2-0.5-0.2zM135.4 308.1l-0.2 0.3 0.4 0.2 0.3-0.2-0.3-0.3z"/><path fill="#d2bf27" d="M140.1 252.1l2 0 1 0.5 1.6 1.5-0.2 1-2.9 0.8-3.1-0.5-0.8-0.8-0.1-0.5 0.5-0.8 1.8-1zM114.4 270.6l0.8 0 1.7 0.7 1.3 1.1 1.7 2.2 3.5 6.8 0.5 1.4 0.8 0.8-0.3 0.5 1.3 2.7 0.1 0.8-0.4 0.8-1.8 1.2-1.7 0.6-0.7-0.3-0.3 0.2 0.3 0.3-0.6-0.3-0.2 0.4-1 0.4-6 0.5-6-0.5-2.5-0.9-1.3-1-0.2-0.9 1.5-4 4-8.5 1.5-2.2 2-2.1 1-0.5 0.8 0zM120.4 287.7l0.5 0.8 0.2-0.1-0.5-0.6zM121.6 289.4l-0.2 0.2 0.5 0.2 0.2-0.2-0.2-0.2zM128.8 289.4l2.6-0.2 1.2 0.5 3.4 3.4 3.2 5.5 0 0.5 2 3.7 0 1.6-1.1 1.1-2.7 1.5-2.5 0.8-0.5-0.2-0.2 0.2 0.2 0.3-7.5 1.6-4-0.2-3.7-1.2-1.5-0.9-0.5-0.8 0.2-1 5.8-10.8 1.7-2.4 1.8-1.8 1.9-1.1zM133.6 305.9l-0.1 0.2 0.6 0.7 0.3-0.2-0.6-0.5zM134.6 304.2l0 0.3 0.8 0 0-0.3-0.5 0zM134.6 305.4l-0.1 0.2 0.4 0.4 0.5 0 0-0.3-0.6-0.1zM135.1 306.9l-0.2 0.2 0.2 0.2 0.5 0 0.3-0.2-0.5-0.2z"/><path fill="#dcbd29" d="M140.1 252.1l2 0 1 0.5 0.8 0.8-0.5 0.6-2 0.5-2.5-0.6-0.3-0.8 1.3-0.8zM114.4 270.6l1.5 0.2 2 1.3 2.8 3.7 3.2 7 0.8 0.8-0.3 0.5 1 2.3-0.2 0.7-0.8 0.9-2.2 1-0.3-0.4-0.2 0.2 0.2 0.3-1-0.2-0.3 0.4-0.2-0.2-0.2 0.4-1.3 0.3-7 0.5-5.3-0.8-2-0.9-0.7-0.7 0-1.1 1.5-4 2-4 0-0.4 2.2-4 2.8-3.1 1-0.5 0.8 0zM121.9 286.2l-0.8 0.3 0.1 0.2 0.4 0 0.4-0.3zM120.4 287.7l-0.2 0.1 0.7 0.8 0.2-0.2-0.5-0.6zM128.8 289.4l2.6-0.2 0.7 0.3 1.3 0.7 1.6 1.6 2.7 4 3.2 6.6-0.5 1.5-2.8 1.9-3 0.8-0.2 0.4-7 1.4-5-0.3-2.5-0.8-1.5-0.9-0.6-0.8 0.1-1 4.1-7.8 3-4.4 2-2 1.6-0.9zM133.6 305.9l-0.2 0.2 0.7 0.7 0.3-0.2-0.5-0.5zM134.6 304.2l0 0.3 0.8 0 0-0.3-0.5 0zM134.6 305.4l-0.2 0.2 0.5 0.5 0.5 0 0.2-0.3-0.2-0.2-0.5 0z"/><path fill="#e5bb2d" d="M140.2 252.1l1.9 0 0.2 0.3-0.7 0.3-1.4-0.3zM114.4 270.6l0.8 0 1.7 0.7 1.3 1.1 1.7 2.2 3.5 6.8 0.5 1.4 0.8 0.8-0.3 0.5 0.6 1.7-0.4 0.6-1.2 0.9-1.5 0.7 0.2-0.4-0.2-0.2-0.5 0.7-0.5 0-0.5-0.5-0.2 0.2 0.2 0.5-0.2-0.2-1.3 0.6-4 0.5-4-0.1-3.3-0.5-1.4-0.5-1.8-1.1-0.2-0.9 1.2-3.3 2-4 0-0.4 2.2-4 2.8-3.1 1-0.5 0.8 0zM121.9 286.2l-0.8 0.2 0 0.4 0.5 0 0.5-0.4zM128.8 289.4l2.6-0.2 1.2 0.5 3.4 3.4 1.7 2.7 2.7 5.6 0 0.8-1 1.3-2.8 1.5-2 0.4-0.2 0.4-6.8 1.3-4.7-0.2-3-1-1.1-0.8-0.4-1.3 4.9-9 1.7-2.4 1.7-1.8 1.9-1.1zM134.6 304.1l-0.2 0.3 0.2 0.2 0.8 0 0.2-0.2-0.2-0.3-0.5 0z"/><path fill="#edba34" d="M114.4 270.6l0.8 0 1.7 0.7 1.3 1.1 1.7 2.2 3.5 6.8 0.5 1.4 0.8 0.8-0.3 0.2 0.2 0.8-0.7 1.1-2 1.1 0.2-0.4-0.2-0.3-0.7 0.3-0.3 0.2 0.3 0.2 0.6 0-2.6 0.7-6.3 0.6-5-0.6-2-0.6-1.1-1.1-0.2-1 0.8-2 2-4 0-0.4 2.2-4 2.8-3.1 1-0.5 0.8 0zM128.8 289.4l2.6-0.1 0.7 0.2 1.3 0.8 1.6 1.5 2 2.8 2.2 4 0.8 2.2-0.4 1.1-3.5 2.1-1.5 0.1-0.2 0.5-5.5 1.2-5 0.1-2-0.4-2.4-1.1-0.6-1.6 4.4-8 1.7-2.4 1.7-1.8 1.9-1.1z"/><path fill="#f5ba3b" d="M114.4 270.6l0.8 0 1.7 0.7 1.3 1.1 1.7 2.2 3.5 6.8 0.5 1.4 0.5 0.6-0.5 1-2.5 1.4 0.2-0.4-0.2-0.3-0.5 0.5 0.5 0.2-1 0.2-0.2-0.4-0.3 0.2 0.3 0.4-0.8 0-0.2-0.3-0.8 0.7-4.2 0.4-6.3-0.6-2.6-1.3-0.3-0.7 0.4-1.6 2-4 0-0.4 2.2-4 2.8-3.1 1-0.5 0.8 0zM120.4 283.9l0 0.4 0.5 0 0.2-0.2-0.5-0.2zM128.8 289.4l2.6-0.1 0.7 0.2 1.3 0.8 1.6 1.5 1.9 2.8 2.3 4 0.4 1.5-0.9 1.3-3.8 1.9-6.5 1.4-5-0.1-2.5-0.8-1-0.6-0.4-1.1 0.1-0.7 3.7-6.6 1.7-2.4 1.7-1.8 1.9-1.1zM134.6 302.6l-0.2 0.2 0.5 0.3 0.2-0.3-0.2-0.2z"/><path fill="#fdbd3d" d="M114.4 270.6l0.8 0 1.7 0.7 1.3 1.1 1.7 2.2 3.5 6.8 0.4 1.2-0.6 1-3.8 1.5-5.8 0.7-5-0.5-2.2-0.8-0.8-0.6-0.2-0.9 0.7-1.9 3.5-6.7 2.8-3.1 1-0.5 0.8 0zM120.4 283.9l-0.2 0.2 0.2 0.2 0.5 0 0.2-0.2-0.5-0.2zM128.8 289.4l2.6-0.1 0.7 0.2 1.3 0.8 1.6 1.5 1.9 2.8 2.2 4-0.1 0.8-0.8 1-2.3 1.3-2 0.7-5 1-5 0-3.3-1.3-0.5-0.7 0-0.8 3.2-5.8 1.7-2.4 1.8-1.8 1.8-1.1z"/><path fill="#fec438" d="M114.4 270.6l0.8 0 1.7 0.7 1.3 1.1 1.7 2.2 3.2 6.2 0 0.8-0.7 0.8-1.8 0.8-2.7 0.7-4.5 0.3-4-0.3-2-0.6-1-0.7-0.4-0.5 0.1-1 3.5-6.7 2.8-3.1 1-0.5 0.8 0zM120.2 282.4l-0.3 0.2 0.5 0.2 0.2-0.2-0.2-0.2zM128.8 289.4l2.6-0.1 0.7 0.2 1.3 0.8 1.5 1.5 2 2.8 1.5 2.8-0.1 0.7-1 1-2.2 1.2-0.9 0.1-0.1 0.2-3.7 0.9-3.5 0.4-4-0.6-1.9-1.2-0.1-1 3.4-5.7 2.7-3 1.6-0.9z"/><path fill="#fdcb33" d="M114.4 270.6l0.8 0 1.7 0.7 2.3 2.3 3.2 5.8 0.1 0.7-0.3 0.5-0.6 0.5-1.4 0.6-4.8 0.9-6-0.3-2.5-1.2-0.3-1 3-5.7 2.8-3.1 1-0.5 0.8 0zM128.8 289.4l2.6-0.1 0.7 0.2 1.3 0.8 1.5 1.5 2.8 4-0.1 1-0.7 0.8-3.5 1.6-3.8 0.8-4.4 0.1-1.8-0.4-1.2-0.7-0.6-1.2 2.7-4.4 2.8-3 1.5-0.9z"/><path fill="#fbd22f" d="M114.4 270.6l1.5 0.2 2.3 1.6 2.5 3.4 1.2 2.6-0.2 0.7-2.3 1.3-5.2 0.7-4.6-0.4-2.1-1.1-0.1-1.2 3-5 2-2.1 1-0.5 0.8 0zM128.9 289.4l2.5-0.1 2 1 1.5 1.5 2 2.8 0 0.8-0.3 0.4-2 1.3-5 1.3-4 0-2.4-0.8-0.6-0.5 0-1 1.8-2.7 2.7-3 1.5-0.8z"/><path fill="#f8da2b" d="M114.4 270.6l1.5 0.2 2.3 1.6 2.5 3.4 0.5 1.6-0.3 0.4-1 0.8-1.7 0.5-2.8 0.4-4.5-0.1-1.7-0.5-0.8-0.5-0.5-0.8 2.5-4.2 2-2.1 1-0.5 0.8 0zM128.9 289.4l2.5-0.1 2 1 2.5 2.8 0.2 0.5-0.2 0.8-2.5 1.5-3.5 0.8-3.3 0.1-2.7-0.7-0.5-1.3 1-1.4 2.7-3 1.5-0.8z"/><path fill="#f5e227" d="M114.4 270.6l1.5 0.2 2.3 1.6 2.2 3.2-0.2 1-1.6 0.8-4 0.6-3.2-0.2-2.3-0.7-0.5-1 1.8-2.7 2-2.1 1-0.5 0.8 0zM128.9 289.4l2.5-0.1 1.2 0.5 2.3 2 0.3 0.8-0.3 0.5-1.3 0.9-3.5 1-3.5 0.1-1.4-0.5-0.7-0.5-0.1-0.7 2.7-3 1.5-0.8z"/><path fill="#f5ea24" d="M114.4 270.6l1.5 0.2 2 1.3 1.8 2.3-0.1 0.4-1.7 1.1-3.3 0.5-3.2-0.3-1.5-0.6-0.3-0.4 0-0.7 0.8-1 2-2.1 1-0.5 0.8 0zM128.9 289.4l2.5-0.1 1.2 0.5 1.5 1.3-0.7 1-2.5 1-1.5 0.2-2.9-0.2-0.9-0.6 0-0.7 1.5-1.4 1.5-0.8z"/><path fill="#f6f11e" d="M114.4 270.6l0.8 0 1.7 0.7 1.3 1.1 0.4 0.7-0.2 0.4-1 0.7-2.8 0.5-1.7-0.1-1.9-0.5-0.5-0.5 0.1-0.5 1.8-1.8 1-0.5 0.8 0zM128.9 289.4l2.5-0.1 1.1 0.5-0.2 0.6-1.7 0.7-2.9 0-0.5-0.7 1.4-0.8z"/><path fill="#f8f818" d="M114.4 270.6l0.8 0 1.7 0.7 0.4 0.8-1.4 0.7-1.3 0.2-2-0.2-0.7-0.4 0-0.6 1.5-1 0.8 0z"/></g>
<path class="a" d="M116.5 383.7L243.2 347.8"/><path class="a" d="M116.5 383.7L22.9 335.4"/><path class="a" d="M22.9 335.4L22.9 248"/><path class="a" d="M116.5 383.7L119.3 385.2"/><path class="a" d="M141.8 376.5L144.6 378"/><path class="a" d="M167.2 369.3L170 370.8"/><path class="a" d="M192.5 362.2L195.3 363.6"/><path class="a" d="M217.8 355L220.7 356.4"/><path class="a" d="M243.2 347.8L246 349.3"/><path class="a" d="M116.5 383.7L113.4 384.6"/><path class="a" d="M69.7 359.5L66.6 360.4"/><path class="a" d="M22.9 335.4L19.8 336.3"/><path class="a" d="M22.9 335.4L20.6 334.2"/><path class="a" d="M22.9 317.9L20.6 316.7"/><path class="a" d="M22.9 300.4L20.6 299.2"/><path class="a" d="M22.9 283L20.6 281.8"/><path class="a" d="M22.9 265.5L20.6 264.3"/><path class="a" d="M22.9 248L20.6 246.8"/><text x="121.5" y="394">0</text><text x="146.8" y="386.8">20</text><text x="172.2" y="379.6">40</text><text x="197.5" y="372.4">60</text><text x="222.8" y="365.2">80</text><text x="248.2" y="358.1">100</text><text x="110.7" y="392.4" text-anchor="end">0</text><text x="63.9" y="368.2" text-anchor="end">50</text><text x="17.1" y="344.1" text-anchor="end">100</text><text x="17.5" y="335.6" text-anchor="end">0</text><text x="17.5" y="318.1" text-anchor="end">20</text><text x="17.5" y="300.6" text-anchor="end">40</text><text x="17.5" y="283.1" text-anchor="end">60</text><text x="17.5" y="265.6" text-anchor="end">80</text><text x="17.5" y="248.2" text-anchor="end">100</text>
<path d="M149.4 208.4L150.2 210.6L152.6 210.7L150.8 212.2L151.4 214.6L149.4 213.2L147.4 214.6L148 212.2L146.2 210.7L148.6 210.6z" fill="#f5e020" stroke="#101010" stroke-width=".6"/>
<path class="m" d="M103.7 339.3a1.7 1.7 0 1 0 3.4 0a1.7 1.7 0 1 0-3.4 0M103.4 335.6a1.7 1.7 0 1 0 3.4 0a1.7 1.7 0 1 0-3.4 0M103.5 331.9a1.7 1.7 0 1 0 3.4 0a1.7 1.7 0 1 0-3.4 0M104.2 328.2a1.7 1.7 0 1 0 3.4 0a1.7 1.7 0 1 0-3.4 0M105.5 324.7a1.7 1.7 0 1 0 3.4 0a1.7 1.7 0 1 0-3.4 0M106.9 321.3a1.7 1.7 0 1 0 3.4 0a1.7 1.7 0 1 0-3.4 0M108.3 317.8a1.7 1.7 0 1 0 3.4 0a1.7 1.7 0 1 0-3.4 0M109.7 314.4a1.7 1.7 0 1 0 3.4 0a1.7 1.7 0 1 0-3.4 0M111.1 310.9a1.7 1.7 0 1 0 3.4 0a1.7 1.7 0 1 0-3.4 0M111.8 307.2a1.7 1.7 0 1 0 3.4 0a1.7 1.7 0 1 0-3.4 0M111.7 303.6a1.7 1.7 0 1 0 3.4 0a1.7 1.7 0 1 0-3.4 0M111.1 299.9a1.7 1.7 0 1 0 3.4 0a1.7 1.7 0 1 0-3.4 0M112.7 296.6a1.7 1.7 0 1 0 3.4 0a1.7 1.7 0 1 0-3.4 0M114.8 293.5a1.7 1.7 0 1 0 3.4 0a1.7 1.7 0 1 0-3.4 0M117.2 290.6a1.7 1.7 0 1 0 3.4 0a1.7 1.7 0 1 0-3.4 0M119.8 288a1.7 1.7 0 1 0 3.4 0a1.7 1.7 0 1 0-3.4 0"/><path class="bd" stroke-opacity=".5" stroke-width="5.6" d="M121.5 288L125.9 283.5L130.4 280.2L149.4 212.2"/><path class="bd" stroke-width="4" d="M121.5 288L125.9 283.5L130.4 280.2L149.4 212.2"/><path class="r" d="M105.4 339.3L104.9 333.3L106 327.8L108.2 322.3L110.4 316.7L112.7 311.2L113.8 305.7L112.7 300.1L114.9 295.7L118.2 291.3L121.5 288L125.9 283.5L130.4 280.2L149.4 212.2"/><path class="bd" stroke-width="4.6" d="M122.5 287L125.9 283.5L130 280.6"/>
<circle cx="149.4" cy="212.4" r="2.4" fill="#0000ff"/><rect x="102.5" y="337.4" width="5.2" height="5.2" fill="#5a78e0" stroke="#3050e0" stroke-width=".5"/><path d="M102.5 337.4L105.1 338.6L107.7 337.4L106.5 340L107.7 342.6L105.1 341.4L102.5 342.6L103.7 340z" fill="#f6f010"/>
</g>
<g id="panel-e" style="font-size:6.5px">
<path class="g" d="M28.3 564.6L28.3 483.6"/><path class="g" d="M50.9 556.1L50.9 475.1"/><path class="g" d="M73.5 547.5L73.5 466.5"/><path class="g" d="M96.2 539L96.2 458"/><path class="g" d="M118.8 530.4L118.8 449.4"/><path class="g" d="M141.4 521.9L141.4 440.9"/><path class="g" d="M28.3 564.6L141.4 521.9"/><path class="g" d="M141.4 521.9L244.1 568.7"/><path class="g" d="M28.3 548.4L141.4 505.7"/><path class="g" d="M141.4 505.7L244.1 552.5"/><path class="g" d="M28.3 532.2L141.4 489.5"/><path class="g" d="M141.4 489.5L244.1 536.3"/><path class="g" d="M28.3 516L141.4 473.3"/><path class="g" d="M141.4 473.3L244.1 520.1"/><path class="g" d="M28.3 499.8L141.4 457.1"/><path class="g" d="M141.4 457.1L244.1 503.9"/><path class="g" d="M28.3 483.6L141.4 440.9"/><path class="g" d="M141.4 440.9L244.1 487.7"/><path class="g" d="M244.1 568.7L244.1 487.7"/><path class="g" d="M192.7 545.3L192.7 464.3"/>
<g fill-rule="evenodd"><path fill="#3e28ac" d="M134.3 479.2l1.7-0.1 1.6 0.8 1.2 1.3 2 3 3.3 6.7 7.5 19 3 6 3 4.2 0.9-1.2 2.8-6 3.5-6 2.5-2.5 1-0.5 2.3 0 0.4 0.2 2.6 2.3 2.2 3.5 3 6.3 7.3 17.5 3 5.5 2.7 3.4 2.8 1.3 11.7 7.2 9 4.5 3.3 1.3 13.7 6.5 0.5 0 8.8 4.2 0.4 0 2 1-0.2 0.3-25 9.3-8 3.2-1.2 0.3-0.8 0.5-1.2 0.2-4 1.8-4 1.2-12 4.8-1.3 0.2-0.7 0.5-1.3 0.3-0.7 0.5-1.3 0.2-0.7 0.5-1.3 0.3-0.7 0.5-1.3 0.2-0.7 0.5-1.3 0.3-0.7 0.5-1.3 0.2-0.7 0.5-19.3 6.5-10.3 4.5-13.2 5-12.5-6-0.5 0-11.8-6-12-7.7-5.2-2.8-3.8-1.2-9-2-8.2-3-39.5-18 6.7-2.8 9.3-3.3 2-1 7.3-2.5 2-1 9.2-3.2 2-1 6-2 5.2-2.3 6-2 15.8-6.2 1.2-1.5 7-19.7 3-7 1.5-2.8 1.5-2.2 1.8-1.8 1.2-0.8 2.6 0 1.7 1.3 0.5-0.5 4-10.5 3-6.5 2.5-4 1.5-1.5 1.2-0.5z"/><path fill="#402bb7" d="M134.3 479.2l1.7-0.1 1.6 0.8 1.2 1.3 2 3 3.3 6.7 7.5 19 3 6 2.2 3.5 0.8 0.7 0.9-1.2 2.8-6 3.5-6 2.5-2.5 1-0.5 2.3 0 0.4 0.2 2.6 2.3 2.2 3.5 3 6.3 7.3 17.5 4 7 1.7 1.9 2.8 1.3 8.1 5 0.6 1 0.5 2.3-0.1 1.2-0.3 1.3-1.2 2-3.2 3-7.4 3.7-1.8 1.3-2.8 4.6-5.1 4.9-0.4 0.7-0.4 3.5-0.6 1.8-1.3 2.2-2.2 2.5-4 3.1-7 4.2-5.4 5.4-4 2.4-4.3 1.6-5 1.3-6.7 0.8-5.3 0.3-6.5-0.3-5-0.7-12.5-2.9-5.5-1-4.8-2.7-8.2-5.5-4-2-3.8-1.2-9-2-0.5-2.5 0.5-2.8 1.4-2 2.4-2.5 0.5-1.2-0.3-0.8-2.7-3-0.7-1.5-0.2-2.5 0.6-1.7 2.2-2.8 1.6-1.3 5-2.9 5-2 1.8-2.3 3.7-7 3.8-9.5 0.9-1.5 7-19.7 3-7 1.5-2.8 1.5-2.2 1.8-1.8 1.2-0.8 2.6 0 1.7 1.3 0.5-0.5 4-10.5 3-6.5 2.5-4 1.5-1.5 1.2-0.5z"/><path fill="#422fc1" d="M134.3 479.2l1.7-0.1 1.6 0.8 1.2 1.3 2 3 3.3 6.7 7.5 19 3 6 2.2 3.5 0.8 0.7 0.4-0.4 5.8-11.3 1-1.5 2.5-2.5 1-0.5 2.3 0 1.2 0.7 1.8 1.8 2.2 3.5 3.8 8 5 12.5 4.5 8.8 2.7 3.4 2.8 1.3 3.2 2.1 1.6 1.9 0.9 1.5 0.3 1.3 0 1.7-0.6 1.8-1.2 1.7-1.8 1.6-2.4 1.6-6.4 2.8-1.2 0.8-0.6 0.7-2.1 4.3-1.7 1.7-4.5 3.5-0.7 1.5 0 2.8-0.3 1.7-1.1 2-1.5 2-4.2 3.5-6.9 4.3-4.6 4.9-3.8 2.5-3.2 1.3-6.5 1.6-4.7 0.7-4.8 0.2-6.5-0.3-5.5-0.7-12.5-3.3-11.7-2.2-5.6-3.7-5.2-2.8-3.8-1.2-4.6-1-1.5-2.8-0.3-2.5 0.9-2.2 1.2-1.5 3.5-3 0.3-0.8-0.2-0.7-2.1-2-1.9-2.5-0.4-2.5 0.9-2.3 1.9-2.2 1.6-1.3 5.5-3 2.8-3.5 3.7-7 3.8-9.5 0.9-1.5 7-19.7 3-7 1.5-2.8 1.5-2.2 1.8-1.8 1.2-0.8 2.6 0 1.7 1.3 0.5-0.5 4-10.5 3-6.5 2.5-4 1.5-1.5 1.2-0.5z"/><path fill="#4432cb" d="M134.3 479.2l1.7-0.1 1.6 0.8 1.2 1.3 2 3 3.3 6.7 7.5 19 3 6 2.2 3.5 0.8 0.7 0.4-0.4 5.8-11.3 1-1.5 2.5-2.5 1-0.5 2.3 0 1.2 0.7 1.8 1.8 2.2 3.5 3.8 8 5 12.5 4.5 8.8 2.7 3.4 2.5 1.5 2.2 1.8 1.8 2.8 0.3 1.5-0.1 1.7-0.7 1.5-1.2 1.6-3.3 2.5-8.3 3.9-0.9 1.3-1 2.7-1.3 1.8-6.5 5-0.4 1 0.1 2.7-0.3 2.3-1.2 2.2-1.9 2.3-4 3.2-6 3.6-4.6 5-3.7 2.4-3 1.3-4.7 1.2-5 0.7-5.6 0.2-3.7-0.1-6-0.7-5.3-1.2-8.7-2.6-16-3-2.5-1.8-4-2-4.4-1.2-2.1-2.1-1.3-2.2-0.4-2 0.6-2.5 1.8-2.2 3.8-2.8 0.6-1-0.3-0.7-2.8-2.4-1.7-2.1-0.5-2 0.5-2 2.5-3 4.2-2.8 1.3-1.2 3.7-5.8 3.8-8 2-5.5 0.9-1.5 7-19.7 3-7 1.5-2.8 1.5-2.2 1.8-1.8 1.2-0.8 2.6 0 1.7 1.3 0.5-0.5 4-10.5 3-6.5 2.5-4 1.5-1.5 1.2-0.5z"/><path fill="#4536d4" d="M134.3 479.2l1.7-0.1 1.6 0.8 1.2 1.3 2 3 3.3 6.7 7.5 19 3 6 3 4.2 0.9-1.2 2.8-6 2.5-4.5 1-1.5 2.5-2.5 1-0.5 2.3 0 1.2 0.7 1.8 1.8 2.2 3.5 2 4 6.8 16.5 3.7 7.5 2.5 3.8 4 3.2 1.4 1.8 0.6 1.2 0.3 2-0.4 1.8-1.8 2.5-3.9 2.6-6 2.4-1.6 1-0.6 0.7-0.9 2.8-1.5 2.2-2.4 2-4.8 3.3-0.4 1.2 0.4 3.3-0.2 1.5-1.1 2.2-2.1 2.5-4 3.1-5 2.9-1.7 1.5-2.5 3.3-2 1.7-2.3 1.2-3.3 1.3-4 1-4.2 0.8-5.2 0.3-5.8-0.3-4.2-0.6-12.3-3.7-11.7-2-6.6-1.6-4.2-1.5-4-2.1-3-2.5-1.5-2.5-0.2-2.3 0.8-2 1.7-2 3.2-2.5 1.5-2-3.2-2.6-1.6-1.9-0.7-2.2 0.3-1.5 1.8-2.5 4.7-4 3.8-5.8 3.7-8 2.2-6 0.7-1 5.8-16.5 4.2-10.2 3-5 2.6-2.3 0.4-0.3 2.6 0 1.7 1.3 0.5-0.5 4-10.5 3-6.5 2.5-4 1.5-1.5 1.2-0.5z"/><path fill="#463bdd" d="M134.3 479.2l1.7-0.1 1.6 0.8 1.2 1.3 2 3 3.3 6.7 7.5 19 3 6 3 4.2 0.9-1.2 2.8-6 2.5-4.5 1-1.5 2.5-2.5 1-0.5 2.3 0 1.2 0.7 1.8 1.8 2.2 3.5 2 4 5.3 13 4 8.8 3 5 4.2 4.2 1.3 2.3 0.2 1.5-0.2 1.5-0.9 1.7-1.1 1.2-3.3 2.2-2 1-4 1.4-2.3 1.2-0.7 1.3-1 3-1.5 1.9-0.8 0.8-5.4 3.2-1.3 1.1-0.3 1.2 0.7 2.8-0.3 2.2-1.4 2.6-1.9 2.2-3.1 2.3-5.6 3.4-4.6 5.3-3.2 2.1-3.8 1.5-3 0.8-4.8 0.7-4.2 0.2-5.8-0.2-4.4-0.7-4.6-1.1-7.5-2.6-10.7-1.7-6-1.3-4.8-1.7-4-2.1-3.3-2.9-1.2-2.3-0.1-1.7 0.7-2 1.2-1.5 3.1-2.8 1.9-3 0-0.3-3-2.1-1.4-1.6-0.6-1.7 0.3-2 1.2-2 3.7-3.4 1.6-2.1 4.3-7.8 3.9-10 0.7-1 5.8-16.5 4.2-10.2 3-5 2.6-2.3 0.4-0.3 2.6 0 1.7 1.3 0.5-0.5 4-10.5 3-6.5 2.5-4 1.5-1.5 1.2-0.5z"/><path fill="#4741e5" d="M134.3 479.2l1.7-0.1 1.6 0.8 1.2 1.3 2 3 3.3 6.7 7.5 19 3 6 3 4.2 0.9-1.2 2.8-6 2.5-4.5 1-1.5 2.5-2.5 1-0.5 2.3 0 1.2 0.7 1.8 1.8 2.2 3.5 2 4 5.3 13 4 8.8 3 5 3.4 3.7 0.9 1.5 0.3 1.3-0.2 1.7-0.7 1.5-1.2 1.5-3.6 2.2-8 3.3-0.8 1-0.8 3.3-1.7 2.2-2.9 2.2-3.7 1.8-1.5 1.3-0.2 1 0.9 3-0.2 2.2-1.1 2.3-2.2 2.5-3.2 2.3-5.3 3.2-1.3 1.1-3 3.9-4 2.7-4.4 1.4-2.8 0.6-7 0.6-4-0.1-4.8-0.6-5.7-1.4-8.3-2.7-9.7-1.4-6.8-1.6-5.4-2.1-2.8-1.8-2.4-2.1-1.1-2-0.3-1.8 0.6-2 3.3-3.5 2.9-4.7-2.6-1.8-1.4-1.6-0.7-1.9 0.2-1.5 1.1-2 2.8-2.7 1.5-2 4.2-7.8 3.9-10 0.7-1 5.8-16.5 4.2-10.2 3-5 2.6-2.3 0.4-0.3 2.6 0 1.7 1.3 0.5-0.5 4-10.5 3-6.5 2.5-4 1.5-1.5 1.2-0.5z"/><path fill="#4747ec" d="M134.3 479.2l1.7-0.1 1.6 0.8 1.2 1.3 2 3 3.3 6.7 7.5 19 3 6 3 4.2 0.9-1.2 2.8-6 2.5-4.5 1-1.5 2.5-2.5 1-0.5 2.3 0 1.2 0.7 1.8 1.8 2.2 3.5 2 4 5.3 13 4 8.8 3 5 2.4 2.7 0.9 1.8 0.1 2.2-1.7 2.9-4.5 2.9-7 2.5-0.7 0.5-0.6 0.7-0.7 3.5-1.7 2.4-2 1.4-5 2.4-1.7 1.3-0.1 1 1.1 3 0.1 1.8-0.7 2-1.6 2.2-2.9 2.5-6.2 3.8-1.8 1.7-2.5 3.4-3 2.2-3 1.2-3.3 0.9-3.2 0.5-5.5 0.4-5.3-0.3-3.4-0.5-4.6-1.2-6.7-2.5-12-1.8-7.8-2-3.9-1.7-3.3-2.2-1.8-1.9-0.8-1.7 0-1.8 0.5-1.5 3-3.5 2.9-5-0.1-0.3-2-1.3-1.5-1.6-0.7-2.3 0.3-1.5 4.6-6 3.7-7 3.9-10 0.7-1 5.8-16.5 4.2-10.2 3-5 2.6-2.3 0.4-0.3 2.6 0 1.7 1.3 0.5-0.5 4-10.5 3-6.5 2.5-4 1.5-1.5 1.2-0.5z"/><path fill="#484ef1" d="M134.3 479.2l1.7-0.1 1.6 0.8 1.2 1.3 2 3 3.3 6.7 7.5 19 3 6 3 4.2 0.9-1.2 2.8-6 2.5-4.5 1-1.5 2.5-2.5 1-0.5 2.3 0 1.2 0.7 1.8 1.8 2.2 3.5 2 4 5.3 13 4 8.8 2 3.5 2.7 3.5 0.6 1.2 0.1 2.3-1.7 2.8-2.8 1.9-2 1-6.7 2.3-1.3 1-0.8 4-0.6 1.2-1 1-3.3 2.2-4.5 1.8-1.2 0.8-0.4 1.2 1.3 2.8 0.3 2.5-1.4 3-1.4 1.6-2.2 1.8-6.8 4.2-3.9 5.1-2.3 1.5-2.8 1.2-4.7 1.2-7.3 0.6-4.7-0.3-3.5-0.5-5.1-1.4-6.9-2.6-11.2-1.6-5.3-1.1-4.7-1.8-3.3-1.7-2.3-2.1-1.2-2.2-0.1-1.4 0.3-1.5 3.2-4.3 2.6-5 0-0.3-2-1.5-1.3-1.4-0.5-1.5 0.1-1.8 3.6-5 3.7-7 3.9-10 0.7-1 5.8-16.5 4.2-10.2 3-5 2.6-2.3 0.4-0.3 2.6 0 1.7 1.3 0.5-0.5 4-10.5 3-6.5 2.5-4 1.5-1.5 1.2-0.5z"/><path fill="#4755f6" d="M134.3 479.2l1.7-0.1 1.6 0.8 1.2 1.3 2 3 3.3 6.7 7.5 19 3 6 3 4.2 0.9-1.2 2.8-6 2.5-4.5 1-1.5 2.5-2.5 1-0.5 2.3 0 1.2 0.7 1.8 1.8 2.2 3.5 2 4 8.3 19.8 2.2 4.2 2.5 3.6 0.7 1.4 0 1.8-0.3 1-1.6 2.1-3.6 2.2-8.4 3.1-0.8 1.1-0.5 3.5-1.6 2.2-3.4 2.2-5.7 2.3-1 0.8 0.1 1 1.6 2.6 0.4 1.9-0.3 2-1.6 2.5-3.8 3.1-5.7 3.5-1 0.9-2.3 3.5-3.4 2.5-2.8 1-3.5 0.9-6.3 0.6-5-0.2-3.7-0.5-5-1.4-7-2.7-10.5-1.4-5.8-1.2-2.9-0.9-4.3-2-3-2.6-1-1.9-0.2-1.7 0.5-1.3 2.1-3 3.4-6.5 0-0.5-1-0.5-2.2-2.5-0.4-1.5 0.2-1.2 4.2-6.8 3-6.2 2.9-7.8 0.5-0.5 1-2.5 5-14.5 4.2-10.2 3-5 2.6-2.3 0.4-0.3 2.6 0 1.7 1.3 0.5-0.5 4-10.5 3-6.5 2.5-4 1.5-1.5 1.2-0.5z"/><path fill="#465dfa" d="M134.3 479.2l1.7-0.1 1.6 0.8 1.2 1.3 2 3 3.3 6.7 7.5 19 3 6 1.7 2.5 0.4 1.8-0.2 1.5 0.8-1 0-0.5 1.2-1.3 2.8-6 3.5-6 2.5-2.5 1-0.5 2.3 0 0.4 0.2 2.6 2.3 2.2 3.5 3 6.3 7.3 17.5 4.4 7.7 0.2 1.5-0.3 1.3-0.8 1.3-2.7 2.2-2.6 1.2-5.7 1.7-2.3 1-0.6 1.3-0.3 3.3-0.8 1.4-2 1.8-3.6 1.8-4.9 1.7-1.2 0.8 0.2 1 2.1 3 0.5 1.7-0.6 2.5-2.2 2.8-2.3 1.9-6 3.6-1.2 1.2-2.1 3.2-3 2.3-3.2 1.3-2.8 0.7-6.5 0.6-4-0.1-5.5-0.9-11-3.9-11.5-1.5-6.8-1.7-3-1.2-2.7-1.7-1.2-1.1-1.4-2.2-0.2-1.5 0.3-1.3 2.9-4.5 2.7-6-1.4-0.9-1.4-1.6-0.6-1.2 0.1-1.5 3.4-5.8 3.7-8 2.1-6 0.5-0.5 1-2.5 5-14.5 4.2-10.2 3-5 2.6-2.3 0.4-0.3 2.6 0 1.7 1.3 0.5-0.5 4-10.5 3-6.5 2.5-4 1.5-1.5 1.2-0.5z"/><path fill="#4464fd" d="M134.3 479.2l2.5 0.2 2 1.8 2 3 2.5 5 8.3 20.7 4.2 8 0 1.8-1.1 2 1.9 0 0.7-1 0-0.5 0.7-0.5 3.3-6.8 3.5-6 2.5-2.5 1-0.5 2.3 0 0.4 0.2 2.6 2.3 2.2 3.5 3.8 8 5 12.5 5.2 10.3-0.1 1.2-0.5 1.3-2.2 2.3-3.4 1.8-5.8 1.6-2.7 1.3-0.4 0.7 0.1 2.5-0.4 1.5-0.6 1-1.8 1.8-3.4 1.7-7.2 2.5 2.8 4.5 0.5 2-0.9 2.8-2.2 2.5-8.3 5.5-3.1 4.2-2.8 2-2.8 1.2-2.6 0.5-6.4 0.7-6.8-0.5-6-1.6-6.5-2.8-10.7-1.2-6.6-1.5-3.7-1.4-3-1.6-1.5-1.3-1.3-2.2 0.1-2.3 2.1-3.5 3.4-7.2-0.1-0.5-1.7-1.3-1.2-1.7-0.1-2.1 2.5-4.2 3.7-8 2.1-6 0.5-0.5 1-2.5 5-14.5 4.2-10.2 3-5 2.6-2.3 0.4-0.3 2.6 0 1.7 1.3 0.5-0.5 4-10.5 3-6.5 2.5-4 1.5-1.5 1.2-0.5z"/><path fill="#406cfe" d="M134.3 479.2l1.7-0.1 1.6 0.8 1.2 1.3 2 3 3.3 6.7 7.5 19 3.3 6.5 0 2.3-1.1 1.7-1.8 1.6 0.3 0.7 1.7-1 2.6 0 0.2-0.3 0.5-1.2 1.2-1.3 2.8-6 3.5-6 2.5-2.5 1-0.5 2.3 0 1.2 0.7 1.8 1.8 2.2 3.5 3.8 8 5 12.5 4.3 8.5 0.1 1-0.5 1.8-1.7 1.9-1.1 0.8-4.7 2-3.4 0.7-3.3 1.2-0.6 1.1 0.1 3.8-2.2 2.7-3.8 2-7.5 2.1 3 5.2 0.5 1.7-0.2 1.5-2 3.1-2.8 2.3-6.2 3.9-3.3 4.5-1.7 1.2-4 1.7-4 0.8-3.3 0.2-4.7-0.2-3.6-0.5-3-0.8-8-3.2-11.7-1.5-6.5-1.5-5.5-2.5-1.5-1.2-1.4-2.3 0-2.2 1.3-2.3 4.1-8.7 0-0.5-1.8-1.3-1-1.5-0.2-1 0.1-1.2 3.6-6.8 3.7-9 0.1-1 0.7-1 5.8-16.5 4.2-10.2 3-5 2.6-2.3 0.4-0.3 2.6 0 1.7 1.3 0.5-0.5 4-10.5 3-6.5 2.5-4 1.5-1.5 1.2-0.5z"/><path fill="#3a73fe" d="M134.3 479.2l1.7-0.1 1.6 0.8 1.2 1.3 2 3 3.3 6.7 7.5 19 2.5 4.8 0.3 1.7-0.4 1.5-1 1.5-1.8 1.3 1.1 2 1.8-1 2.5 0 0.2-0.2 0.6-1.3 1.1-1.3 2.8-6 3.5-6 2.5-2.5 1-0.5 2.3 0 1.2 0.7 1.8 1.8 2.2 3.5 3.8 8 5 12.5 3.6 7.5 0 1.5-0.4 0.9-0.7 1.1-1.8 1.5-3 1.4-7.2 1.9-1.8 0.8-0.5 0.7 0.4 2.7-0.2 1.5-0.9 1.5-1.3 1.2-3.5 1.8-7.7 2 0.2 1 3 5.2 0.2 1.1-0.2 1.5-0.6 1.2-1.8 2.3-2.6 2-6 3.7-3 4.3-2 1.5-2.5 1-3 0.8-5.7 0.6-4.6-0.2-4-0.8-3.4-1.1-6.3-2.7-11.7-1.4-5.3-1.1-3.7-1.4-2.5-1.2-1.9-1.5-1.2-2.3 0.1-2 5.5-11.5-2-1.5-0.9-1.5-0.2-1.5 0.3-1 2.7-5 3.7-9 0.1-1 0.7-1 5.8-16.5 4.2-10.2 3-5 2.6-2.3 0.4-0.3 2.6 0 1.7 1.3 0.5-0.5 4-10.5 3-6.5 2.5-4 1.5-1.5 1.2-0.5z"/><path fill="#347afd" d="M134.3 479.2l1.7-0.1 1.6 0.8 1.2 1.3 2 3 3.3 6.7 7.5 19 2 3.8 0.2 2-0.5 1.2-1 1.4-1.7 1.2 0.2 0.9 1.4 2.3 1.8-1 2.6 0 0.2-0.2 0.6-1.3 1.1-1.3 2.8-6 3.5-6 2.5-2.5 1-0.5 2.3 0 1.2 0.7 1.8 1.8 2.2 3.5 3.8 8 5 12.5 3 5.9 0.1 1.1-0.4 1.6-2.5 2.6-3.5 1.6-7.1 1.7-1.9 0.9-0.3 0.9 0.6 2.5-0.1 1.2-1.7 2.5-2.2 1.5-2 0.8-3.6 1-0.4-0.1-0.3 0.3-3.7 0.5 3.7 7.5 0 1.3-0.5 1.2-1.8 2.5-3 2.2-3.2 1.8-2.4 1.8-2.8 4-2 1.6-5 1.8-5.6 0.6-3.4-0.1-4.8-0.7-4.2-1.4-2.3-1.2-3.5-1.3-12.8-1.6-4.4-1-3.6-1.2-3.2-1.9-1.2-1.1-1.1-2 0.3-2 5.3-11.3-0.1-0.4-1.7-1.2-0.9-1.4-0.3-1 0.2-1.2 2.2-4.3 3.7-9 0.1-1 0.7-1 5.8-16.5 4.2-10.2 3-5 2.6-2.3 0.4-0.3 2.6 0 1.7 1.3 0.5-0.5 4-10.5 3-6.5 2.5-4 1.5-1.5 1.2-0.5z"/><path fill="#2f81fa" d="M134.3 479.2l1.7-0.1 1.6 0.8 1.2 1.3 2 3 2.5 5 6.8 17.2 3 6.3 0.2 1.5-0.3 1.2-1.3 1.8-1.9 1.1 2.4 4.4 1.8-1 2.8-0.2 0.6-0.8 0-0.5 1.1-1.3 2.8-6 3.5-6 2.5-2.5 1-0.5 2.3 0 1.2 0.7 1.8 1.8 2.2 3.5 3.8 8 5 12.5 2.5 5 0 1.3-0.5 1.5-1.3 1.4-1.5 1-3.8 1.6-8.2 2-0.6 1 0.7 2.5 0 1.5-0.4 1-1.5 1.7-2 1.1-3.7 1.5-6.3 1.1 1.7 3.8 1.6 2.8 0.4 1.5-0.4 2-2 2.5-2 1.7-6.2 3.8-1.1 1.1-2.1 3.4-1.6 1.2-2.5 1.2-2.3 0.6-5.2 0.6-3.7-0.1-4.6-0.7-3.4-1.1-4.6-2.2-3-0.8-11.2-1.2-4.8-1.1-3-0.9-3.4-2-1.6-1.3-0.8-1.5-0.2-1.2 0.3-1 2.6-5.3 2.7-6.2 0-0.5-1.6-1-0.8-1-0.4-1 0-1.4 3.4-7.4 2-5 0.1-1 0.7-1 5.8-16.5 4.2-10.2 3-5 2.6-2.3 0.4-0.3 2.6 0 1.7 1.3 0.5-0.5 4-10.5 3-6.5 2.5-4 1.5-1.5 1.2-0.5z"/><path fill="#2d88f6" d="M134.3 479.2l2.5 0.2 2.8 2.8 3.7 7 1.3 3.5 0.7 1.2 3 8.3 4.3 9.7 0.1 1-0.8 1.8-0.7 1-1.9 1.2 1.4 3.5 1.5 2.3 0.8-0.3 1-0.7 2.8-0.2 0.6-0.8 0-0.5 1.1-1.3 2.8-6 3.5-6 2.5-2.5 1-0.5 2.3 0 1.2 0.7 1.8 1.8 2.2 3.5 3 6.3 4.3 10.7 3.4 7.5-0.2 1.8-0.4 0.7-2.6 2.1-4.7 1.9-5.8 1.1-2.1 0.7-0.4 1 0.9 2.5 0.1 1.5-0.7 1.5-1.6 1.5-4.4 1.9-7.3 1.3 0 0.5 3.5 7 0.2 1-0.6 2.3-1.2 1.7-2.2 1.8-6.3 4-1.1 1-2.2 3.5-1.4 1-3.7 1.6-2.5 0.6-3.2 0.3-4.6-0.1-4-0.7-3.7-1.3-5-2.4-3.7-0.7-9-0.8-4.6-0.9-3.2-1.1-3.3-1.5-1.9-1.8-0.8-1.5-0.1-1.2 0.3-1 1.9-3.8 3.4-8-2-1.5-0.5-0.8-0.4-1.4 0.1-1 2.7-5.8 2-5 0.1-1 0.7-1 5.8-16.5 4.2-10.2 3-5 2.6-2.3 0.4-0.3 2.6 0 1.7 1.3 0.5-0.5 4-10.5 3-6.5 2.5-4 1.5-1.5 1.2-0.5z"/><path fill="#2c8ff1" d="M134.3 479.2l2.5 0.2 2.8 2.8 3.7 7 1.3 3.5 0.7 1.2 3 8.3 3.7 8.5 0 1.2-0.6 1.3-1 1.2-1.8 1.1-0.1 0.4 2.2 4.5 1.5 2.3 0.8-0.2 1-0.8 2.8-0.2 0.6-0.8 0-0.5 1.1-1.3 2.8-6 3.5-6 2.5-2.5 1-0.5 2.3 0 1.2 0.7 1.8 1.8 2.2 3.5 3 6.3 4.3 10.7 2.7 5.8 0 1.7-0.8 1.3-0.8 1-2.2 1.3-4 1.4-7.2 1.4-1.5 0.6 0 0.8 1.1 2.2 0.2 1.8-0.8 1.7-1.5 1.4-2.3 1.2-2.2 0.7-4 0.8-3.2 0.2 0.7 2.2 3 6.5-0.2 1.8-1.8 2.6-1.3 1.1-7.4 4.8-2.3 3.5-2 1.7-1.7 0.9-2.8 0.8-4.5 0.6-4.7-0.3-4.3-0.8-8.7-3.8-11.8-1.2-4.5-0.9-3.3-1-2.6-1.3-1.7-1.2-1.2-2 0-2 5.5-12.3-2.3-1.7-0.7-1.5 0.1-1 4.1-9.8 0.1-1 0.7-1 5.8-16.5 4.2-10.2 3-5 2.6-2.3 0.4-0.3 2.6 0 1.7 1.3 0.5-0.5 4-10.5 3-6.5 2.5-4 1.5-1.5 1.2-0.5z"/><path fill="#2895ec" d="M134.3 479.2l2.5 0.2 2.8 2.8 3.7 7 1.3 3.5 0.7 1.2 3 8.3 3 6.7 0.2 1.5-0.4 1-0.9 1.3-0.9 0.7-1.5 0.7 0 0.3 2.9 6 1.5 2.3 0.4 0 1.4-1 2.8-0.2 0.6-0.8 0-0.5 1.1-1.3 2.8-6 3.5-6 2.5-2.5 1-0.5 2.3 0 1.2 0.7 1.8 1.8 2.2 3.5 3 6.3 3 7.7 3.4 7.8 0.1 1.2-0.5 1-0.5 0.8-1.7 1.3-2.6 1.2-2.2 0.6-9.4 1.9-0.1 0.5 1.3 2.7 0.4 1.8-0.7 1.7-1.7 1.6-5 1.9-6.8 0.7 1.4 3.8 2.4 4.8 0 1.7-1.8 3-2.2 1.8-6.1 3.7-1.3 1.3-1.8 3-1.8 1.4-4.3 1.5-4.5 0.5-4-0.2-3.5-0.7-2.3-0.7-6.2-3.1-4.8-0.7-8.7-0.8-4.7-1-3.6-1.3-2-1.2-1.4-1.5-0.6-1.2 0-1.5 5.6-12.5-2.4-2-0.5-1.3 0.1-1.5 3.4-8 0.1-1 0.7-1 5.8-16.5 4.2-10.2 3-5 2.6-2.3 0.4-0.3 2.6 0 1.7 1.3 0.5-0.5 4-10.5 3-6.5 2.5-4 1.5-1.5 1.2-0.5z"/><path fill="#259ce7" d="M134.3 479.2l2.5 0.2 2.8 2.8 3.7 7 1.3 3.5 0.7 1.2 5.6 14.8-0.1 1-1 1.5-2.8 1.7 3.7 7.5 1.6 2.4 1.7-1.1 2.6 0 0.3-0.3 0.5-1.2 1.1-1.3 4.5-9.2 1.8-2.8 2.5-2.5 1-0.5 2.3 0 1.2 0.7 1.8 1.8 2.2 3.5 3 6.3 5.8 13.8 0.1 1.2-0.7 1.7-1 1-2.5 1.5-4.5 1.3-8.5 1.2 1.9 5.3-0.4 1.5-1.4 1.5-2.8 1.4-2.7 0.8-3.5 0.5-3.6 0.1 4.1 9.7-0.3 1.7-1.4 2-2.6 2.1-5.5 3.2-1.5 1.5-2.2 3.4-1.9 1.3-3.4 1.1-4.7 0.5-3.6-0.1-3.7-0.8-2.7-0.9-4.3-2.3-2-0.7-4.8-0.7-5.9-0.3-6-1.1-3.6-1.2-2.4-1.4-1.2-1.1-0.9-1.7 0.5-2.3 5.2-11.7-2.2-1.5-0.7-1.3 0-1.5 2.9-7 0.1-1 0.5-0.5 1-2.5 6.2-17.7 3-7 3-5 2.6-2.3 0.4-0.3 2.6 0 1.7 1.3 0.5-0.5 4-10.5 3-6.5 2.5-4 1.5-1.5 1.2-0.5z"/><path fill="#22a2e4" d="M134.3 479.2l2.5 0.2 2.8 2.8 3.7 7 1.3 3.5 0.7 1.2 5 13.3 0 0.7-1.3 2-2.6 1.5 4.2 9 1.7 2.4 1.7-1.1 2.6 0.1 0.4-0.4 0.5-1.2 1-1.3 4.5-9.2 1.8-2.8 2.5-2.5 1-0.5 2.3 0 1.2 0.7 1.8 1.8 2.2 3.5 3 6.3 5.3 12.7-0.1 1.5-1 1.5-2.7 1.8-5 1.4-8.7 0.9 2.1 5.7-0.6 1.7-1.8 1.7-3 1.2-2.7 0.6-6.3 0.4 4 9.4 0 2-1.9 2.7-2.6 2-4.8 2.6-1.1 0.9-2.3 3.7-1.6 1.3-3.4 1.3-5 0.7-3.6-0.2-3.2-0.6-3.5-1.4-2.7-1.6-2.8-1.1-4.8-0.6-7.4-0.5-4.8-0.9-2.8-1.1-0.4 0-1.8-1-2.1-1.7-0.4-1 0-1.8 3.8-9 1.7-3.2 0-0.6-1.8-1-0.6-0.7-0.6-1.7 0.2-1 2.2-5.3 0.3-0.7-0.2-0.3 0.5-0.5 1-2.5 5-14.5 4.2-10.2 3-5 2.6-2.3 0.4-0.3 2.6 0 1.7 1.3 0.5-0.5 4-10.5 3-6.5 2.5-4 1.5-1.5 1.2-0.5zM127.3 512.1l0.3 1.1 0.2 0 0.2-0.8-0.7-0.2z"/><path fill="#1da8e0" d="M134.3 479.2l2.5 0.2 2.8 2.8 3.7 7 1.3 3.5 0.7 1.2 4.5 11.8-0.3 1.2-0.7 1.2-1.2 1-1.6 0.6-0.2 0.5 4.8 10.2 1.7 2.5 1.7-1.1 2.6 0 0.4-0.4 0.5-1.2 1-1.3 4.5-9.2 1.8-2.8 2.5-2.5 1-0.5 2.3 0 1.2 0.7 1.8 1.8 2.2 3.5 3 6.3 4.8 11.7-0.1 0.8-0.9 1.6-1.3 1.1-2.3 1-6.7 1.5-6.5 0.3 0.4 1.7 1.9 4.3-0.4 1.5-1.7 1.7-2 0.9-4.2 1.1-3.2 0.2-3-0.2 4.1 10.3-0.2 2-1.7 2.3-2.5 1.9-3.3 1.6-2.3 1.7-0.9 0.7-2 3.3-0.8 0.7-3.4 1.7-4.8 0.6-4.5-0.3-3.7-0.9-6.8-3.5-5.2-0.8-7-0.4-5.3-0.8-5.1-2.1-1.6-1.4-0.8-1.6 0.5-2.2 2.8-6.8 2.5-4.7-0.3-0.6-2.3-1.7-0.5-1.2 0-1.3 1.8-4 0.2-0.7-0.2-0.3 0.5-0.5 1-2.5 5-14.5 4.2-10.2 3-5 2.6-2.3 0.4-0.3 2.6 0 1.7 1.3 0.5-0.5 4-10.5 3-6.5 2.5-4 1.5-1.5 1.2-0.5zM147.3 527.8l-1.3 0.5 0.8 1.9 1.5-2.3 0-0.2-0.9 0.2zM126.3 510.1l1.3 3.1 0.2 0 0.9-2.3-2.4-0.7z"/><path fill="#18addb" d="M134.3 479.2l2.5 0.2 2.8 2.8 3.7 7 1.3 3.5 0.7 1.2 4 10.5-1 2.2-1.5 1.2-1.5 0.5-0.3 0.6 1 1.5 0 0.5 4.6 9.5 1.7 2.5 1.7-1.1 2.6 0 0.4-0.4 0.5-1.2 1-1.3 2.8-6 3.5-6 2.5-2.5 1-0.5 2.3 0 1.2 0.7 1.8 1.8 2.2 3.5 3 6.3 4 9.7 0.2 1-0.8 1.8-1.9 1.5-1.7 0.7-3.5 1-3.5 0.4-6.8 0 2.5 5.9 0.2 1-0.9 1.9-1.3 0.9-2 0.9-3 0.8-3.7 0.3-3.8-0.2 4.4 10.9-0.4 1.9-1.8 2.3-8.2 5.1-1 1.2-1.5 2.6-1.4 1.1-3.6 1.3-3.7 0.4-3.8-0.2-3.2-0.7-7-3.6-3-0.7-10.3-0.7-5.5-1-4.5-2-1.3-1.1-0.6-1.4-0.1-0.8 1-2.5 5-10.7-0.3-0.5-1-0.4-1.7-1.5-0.3-2.1 1.3-2.8 0.2-0.7-0.2-0.3 0.5-0.5 1-2.5 5-14.5 4.2-10.2 3-5 2.6-2.3 0.4-0.3 2.6 0 1.7 1.3 0.5-0.5 4-10.5 3-6.5 2.5-4 1.5-1.5 1.2-0.5zM149.3 525.6l-4 1.2 1.5 3.4 3-4.5-0.2-0.1zM125.3 508.2l2.2 5 0.3 0 1.5-3.7-3.7-1.3z"/><path fill="#11b1d6" d="M134.3 479.2l2.5 0.2 2 1.8 1.3 1.7 3.2 6.3 5.5 13.7-0.2 1.3-0.6 1-1.4 1.3-2.3 0.9 1.7 3 0 0.5 5.3 11-0.4 1-1.2 1-5.1 1.6 2.2 4.7 3-4.8 2-2.2 2.2-1.4 2.6 0 0.4-0.4 0.5-1.2 1-1.3 2.8-6 2.5-4.5 2.5-3 1-1 1-0.5 2.3 0 0.4 0.2 3.3 3.3 3.5 6.5 4.6 11.3 0.1 1-1.2 1.8-1.5 1-2.5 1-6.3 1-7-0.3 2.9 7.2-0.1 0.8-0.8 1.2-1.7 1.2-3.3 1-3 0.5-5.7-0.3 4.4 11.4-0.5 2-1.6 2-1.8 1.3-6 3.4-1.4 1.5-1.6 2.7-1.5 1.2-3.7 1.2-3 0.2-3.8-0.2-3.5-0.9-2.5-1.1-2.8-1.8-2.2-0.8-5-0.7-7.8-0.4-5-0.9-3-1.1-1.4-1-1.1-0.9-0.5-1-0.2-1.2 0.5-1.3 2.4-5.5 3.4-6.5-1.8-0.9-1.4-1.3-0.5-1.3 0.1-1 1-2.2-0.2-0.3 0.7-1 1.3-4 0.5-0.7 4-11.8 4.2-10.2 3-5 2.6-2.3 0.4-0.3 2.6 0 2.1 1.3 0.1-1 4-10 3-6.5 2.5-4 1.5-1.5 1.2-0.5zM124.3 506.2l3.3 7 0.3 0 2.1-5-3.4-0.9-2-0.9z"/><path fill="#08b5d0" d="M134.3 479.2l2.5 0.2 2 1.8 1.3 1.7 3.2 6.3 5 12.5 0 1.2-0.7 1.5-1.3 1-2.5 0.9 6.8 13.9-0.2 1.2-1.5 1.5-5.1 1.6 3 5.7 3-4.8 2-2.2 2.2-1.4 2.6 0 0.4-0.4 6.8-13 2.5-3 1-1 1-0.5 2.3 0 0.4 0.2 3.3 3.3 3.5 6.5 4.2 10.3 0.1 1-1.3 1.8-2.2 1.3-2.6 0.8-6.4 0.8-3.6-0.1-2.7-0.6 3.2 7.7-0.5 1.3-1 1.1-2.4 1.2-3 0.7-3.3 0.3-4.5-0.3 4.5 11.4-0.3 1.8-1.4 2-3.3 2.3-4.7 2.6-1.3 1.1-1.7 3-2 1.5-3.6 1-3 0.2-3.2-0.2-3.2-0.9-6.8-3.6-4.8-0.8-9.4-0.4-4.3-0.9-2.7-1-1.8-1.1-1.1-1-0.4-1.1 0-1.2 1.9-4.5 2.9-6 1.7-2.5-2.5-1.2-1.1-1-0.4-1.9 0.7-1.6-0.2-0.3 0.7-1 7.5-21 2.5-5.7 3-5 1.8-1.8 1.2-0.8 2.6 0 1 0.5 2.2 2.1 1.2 1.7 3.5 7.3 0.3 0.1 0.4-0.6 0-0.5 2.4-5-2.5-0.5-4.1-1.8-1.4-1.6-0.5-1.9 3.7-9.5 3-6.5 2.5-4 1.5-1.5 1.2-0.5z"/><path fill="#01b8ca" d="M134.3 479.2l2.5 0.2 2 1.8 1.3 1.7 3.2 6.3 4.7 12-0.3 1.2-0.9 1.3-1.2 0.9-2.3 0.9 2.7 4.9 0 0.5 3.8 7.8 0.2 1-0.5 1.2-0.9 0.8-3 1.3-2.6 0.5 2.3 3.4 1.5 3.3 3.1-4.8 1.9-2.2 2.2-1.4 2.6 0 0.4-0.4 6.8-13 2.5-3 1-1 1-0.5 2.3 0 0.4 0.2 3.3 3.3 3.5 6.5 3.8 9 0 1.5-0.8 1.3-1.3 1-3.5 1.3-4.2 0.7-2.8 0-3.4-0.2-3.3-0.7 3.6 7.6 0.1 0.8-0.7 1.5-2.3 1.4-3.4 0.9-3.3 0.3-5-0.4 4.5 11.4 0.1 1.4-1.4 2.5-3 2.2-3.9 2-2.3 1.7-2 3.1-1 1-2.7 1.2-3.6 0.5-3.7-0.1-4-1.1-4.7-2.8-2.6-0.9-4.2-0.5-8-0.3-5-0.9-4-1.7-1.3-0.9-0.7-1.3 0-1.5 1.4-3.5 2.9-6 2.2-3.2-2.7-1.5-1-1-0.4-1.3 0.3-1.2-0.2-0.3 0.7-1 7.5-21 2.5-5.7 3-5 1.8-1.8 1.2-0.8 2.6 0 1 0.5 2.2 2.1 1.2 1.7 3.5 7.3 0.3 0.1 2.8-6.1 0.7-1-2.7-0.6-2.6-1-0.4 0.1 0-0.4-1.6-0.7-1-1-0.5-1.9 3.3-8.8 3-6.5 2.5-4 1.5-1.5 1.2-0.5zM131.8 523.2l0 0.7 0.5-0.2-0.3-0.5z"/><path fill="#02bbc3" d="M134.3 479.2l2.5 0.2 2 1.8 1.3 1.7 3.2 6.3 4.3 10.6-0.2 1.1-0.9 1.5-2.7 1.5-1.3 0.3 0 0.4 1.5 2 1.4 3.3 0.5 0.5 0 0.5 3.2 6.3 0.3 1.2-0.4 0.9-1.2 1.2-2 0.9-3.8 0.8 2.5 3.5 2.3 4.5 3.1-4.8 1.9-2.2 2.2-1.4 3.1 0.1 0.4-1.7 1-1.3 2.8-6 2.5-4.5 2.5-3 1-1 1-0.5 2.3 0 0.4 0.2 3.3 3.3 3.5 6.5 3.4 8.3-0.2 1.2-0.9 1.3-2.3 1.3-3 0.9-4.8 0.4-3.4-0.1-2.8-0.4-2.8-1 2.2 3.6 2.1 4.5 0.1 1.3-0.6 1.2-2.5 1.5-2.7 0.8-5.3 0.2-3.7-0.6 4.7 11.9 0.1 1.5-1.4 2.3-3.4 2.5-5.3 2.9-1 1-1.7 2.9-0.8 0.6-3 1.3-3.5 0.3-3.5-0.2-2.5-0.6-7-3.8-4.8-0.8-7.7-0.2-6.2-1.1-3.6-1.5-1.4-1.4-0.4-1 0.1-1.2 3.8-8.3 3.2-4.5-2.5-0.9 0.2-0.3-0.2-0.3-0.3 0.4-1.1-0.9-0.7-1.5 0.1-1.2 7.7-21.3 2.5-5.7 3-5 1.8-1.8 1.2-0.8 2.6 0 1 0.5 2.2 2.1 1.2 1.7 3.5 7.3 0.3 0.1 2.8-6.1 1.2-1.8 0-0.5-3-0.6-3.8-1.5-1.7-1.7-0.4-1.7 2.9-7.5 3-6.5 2.5-4 1.5-1.5 1.2-0.5zM131 521.4l0.8 2.5 0.5-0.2 1-1.5-2.1-0.5z"/><path fill="#0bbdbd" d="M134.3 479.2l2.5 0.2 2 1.8 1.3 1.7 3.2 6.3 3.8 9.2 0 1.5-0.8 1.2-2 1.3-2.6 0.8 2.3 3.5 1.4 3.2 0.5 0.5 0 0.5 2.9 5.8-0.1 1-1.1 1.5-1.8 0.9-4.8 1.1 2 2.2 1.5 2.3 2.3 4.5 4.1-6 2.7-2.1 0.4-0.3 2.6 0 1.9 0.9-0.7-1.2-0.3-1.3 1-1.3 2.8-6 3.5-6 2.5-2.5 1-0.5 2.3 0 0.4 0.2 3.3 3.3 3.5 6.5 3 7.2-0.4 1.6-1.5 1.5-3.9 1.4-2.7 0.4-2.3 0.2-4.7-0.4-4.3-1.3-2-1.3 3.2 4.5 2.6 5.2 0.2 1-0.8 1.5-0.6 0.5-1.8 0.9-1.8 0.5-5.2 0.4-4.8-0.8 5 12.8-0.1 1.2-1.1 1.9-2.5 2-6.3 3.4-1.4 1.6-2 2.9-2.3 1-3.7 0.6-3-0.1-3-0.8-4.6-2.6-3.4-1.4-4-0.6-8-0.2-4.8-0.7-3.5-1.3-1.3-0.7-1.3-1.7-0.1-1 0.7-1.8 2.9-6 2.4-3.7 1.5-1.5-0.5-0.6-1.8-0.5-1.9-1.2-0.7-1-0.2-1.5 7.5-20.5 2.5-5.7 3-5 1.8-1.8 1.2-0.8 2.6 0 1 0.5 2.2 2.1 1.2 1.7 3.5 7.3 0.3 0.1 2.8-6.1 2.2-3.3-3.7-0.7-2.7-1-2.6-2-0.5-1.9 2.5-6.4 3-6.5 2.5-4 1.5-1.5 1.2-0.5zM118.8 540.9l-3.2 0.2 2 1.1 1.2 0.2 2.8-1.2 0.2-0.5-3 0.2zM130.6 520.1l1.1 3.8 0.3 0 2.6-2.8-2.3-0.4-1.5-0.6z"/><path fill="#15bfb7" d="M134.3 479.2l2.5 0.2 2.8 2.8 3.7 7 3.5 8.7 0 1-0.8 1.3-2 1.3-1.4 0.4-1.6 0.8 1 1 2 3 1.9 3.7 0 0.5 2.4 4.8 0 1.2-0.7 1.1-1.8 1.1-2.8 0.8-3.5 0.5 0.8 0.3 2.7 2.7 2.2 3.5 1.6 3.3 3.1-4.8 1.9-2.2 2.2-1.4 2.6 0 1 0.4 2.4 2.2 1.5 2 3.1 6.1 0 0.7-0.7 1.2-2.1 1.4-1.2 0.3-2.8 0.5-3 0.1-3.5-0.5-2-0.8 5.3 13 0 1.5-1.3 2.2-2.7 2.1-5.3 2.7-1.7 1.5-1.7 2.8-1.3 1-2.3 0.8-3 0.3-5-0.6-2.3-1-3.4-2.3-3.8-1.2-4.2-0.4-7.3-0.2-4.3-0.6-2.7-1-2-1.1-1-0.9-0.3-0.8 0.3-1.8 3.6-7.2 1.7-2.5 2.5-2.3-4.5-2-1-1.2-0.3-1.3 7.2-20 2.5-5.7 3-5 1.8-1.8 1.2-0.8 2.6 0 1 0.5 2.2 2.1 1.2 1.7 3.8 7.5 2.8-6.2 2.7-4-0.3-0.4-4-0.6-3.2-1.4-1.5-1.1-0.7-1.8 2.2-6 3-6.5 2.5-4 1.5-1.5 1.2-0.5zM122.6 539.6l-6 0.6-2.8-0.2 3 1.9 2 0.5 2.8-1.2 1.2-1.7zM130.3 518.9l-0.3 0 0 0.5 1.8 4.6 3.2-3.3 0.8-0.5-2.8-0.4-2.7-0.9zM168.3 503.9l2.3 0 1.2 0.7 1.8 1.8 2.2 3.5 3 6.3 1.6 4.2-0.1 1-1 1.4-2.3 1.2-2.2 0.6-6.5 0.5-3.7-0.4-2.8-0.9-2.2-1.4-1.2-1.2-0.4-1 0.1-0.8 4.9-9.7 1.8-2.8 2.5-2.5 0.7-0.3z"/><path fill="#1ec0b2" d="M134.3 479.2l2.5 0.2 2.8 2.8 3.7 7 2.5 6 0.8 2.2-0.7 1.8-1.6 1.2-4 1.5 1.7 1.8 2 3 3.8 8 0.2 1.2-1 1.4-2 1.1-5 1-5.2-0.1-2.2-0.4-3-1.1 2.1 6.1 0.3 0 3.1-3.2 0.9-0.5 2.6-0.3 0.7 0.3 1 0.5 2.7 2.7 2.2 3.5 1.6 3.3 0.5-0.3 2.6-4.5 1.9-2.1 2.2-1.5 2.6 0 1.4 0.6 2 2 2.2 3.3 2 4.2-0.3 1.3-1.6 1.4-4 1-4.3 0.1-3-0.5-2.2-0.8 5.5 13.4-0.2 1.9-1.6 2.2-2.5 1.7-2 1.1-0.4 0-3.3 2-1.3 1.2-1 1.8-1.4 1.4-3.3 1.1-2.3 0.2-2.4-0.2-2.8-0.7-4.5-2.7-2.7-1.2-4.8-0.7-9.2-0.3-4.8-0.9-3.5-1.8-0.9-1.2 0.1-1.8 3.4-6.7 2.2-3 1.7-1.8 1.5-0.7-3.3-1-2-1-1.1-1-0.3-1.5 6.9-19.3 2.5-5.7 3-5 1.8-1.8 1.2-0.8 2.6 0 1 0.5 2.2 2.1 1.2 1.7 3.8 7.5 2.8-6.2 1.7-2.8 2-2.2-4.5-0.7-3.8-1.3 0.2-0.3-0.4 0-1.4-1.2-0.5-1.5 1.9-5.3 3-6.5 2.5-4 1.5-1.5 1.2-0.5zM123.3 538.6l-5.5 0.7-5.2-0.1 4.2 2.7 1.8 0.6 1.2-0.3 1.8-1 1.9-2.5zM104.8 534.5l-0.7 0.4 0.2 0.2 0.7-0.4zM143 548l0 0.3 1.6 0 0-0.3-1.3 0zM144.8 549.3l-0.6 0.4 0.4 0.1 0.4-0.5zM168.3 503.9l2.3 0 0.4 0.2 3.3 3.3 3.5 6.5 2.2 5.3 0 1.2-0.4 1.1-2.8 1.6-2.2 0.7-2.5 0.3-4.1 0.1-2.7-0.3-3.3-1-2-1.1-1.1-1.1-0.4-1 0-1 4.5-9 1.8-2.8 2.5-2.5 0.7-0.3z"/><path fill="#27c2ac" d="M134.3 479.2l2.5 0.2 2.8 2.8 3.7 7 2.5 6 0.4 1.7-1.2 2-2 1.1-4 0.9 0 0.3 0.8 0.2 2.2 2.3 1.9 3 3.7 7.5 0 0.7-0.8 1.4-1.8 1-3 0.9-2.2 0.3-4-0.1-3.2-0.5-3.6-1.5 2.7 7.5 0.3 0 3-3.2 1-0.5 2.6-0.3 0.7 0.3 1 0.5 2.7 2.7 2.2 3.5 1.6 3.3 0.5-0.3 2.6-4.5 1.9-2.1 2.2-1.5 2.6 0 1.4 0.7 2 1.9 2.1 3.3 1.7 3.4-0.2 1.1-1.2 1.2-1.6 0.7-2.8 0.6-5.2-0.2-4.5-1.4 5.7 14.2-0.2 1.6-1 1.5-2.5 2-6.1 3.3-1.4 1.2-1.9 2.8-0.9 0.5-2.5 0.9-2.2 0.3-4.5-0.6-2-0.8-4.5-2.8-2-0.7-5-0.6-6.7 0-5.3-0.7-2.5-0.9-2-1.1-0.8-0.8-0.3-1 0.1-1 3.1-6.2 1.7-2.5 2.2-2.3 1.5-0.7 2.7 0 2.3 1 3.5 2.3 2 0.5 2.8-1.3 2.7-3.5-9 0.7-6.7-0.6-3.6-1.1-2-1.1-0.8-0.9-0.3-1.3 4.9-14 4.2-10.2 3-5 1.8-1.8 1.2-0.8 2.6 0 1.9 1.3 2.5 3 3.8 7.5 3.6-7.5 1.7-2.5 2.2-2 0-0.2-5-0.6-2.8-0.9-2.2-1.3-1.1-1.7 0.1-1 1.5-3.8 3-6.5 2.5-4 1.5-1.5 1.2-0.5zM104.8 534.5l-0.7 0.4 0.2 0.2 0.7-0.4zM143 548l0 0.3 1.6 0 0-0.3-1.3 0zM144.8 549.2l-0.7 0.5 0.5 0.1 0.6-0.4-0.2-0.2zM168.3 503.9l2.3 0 0.4 0.2 3.3 3.3 2.3 4 3 6.5 0.2 1.3-0.7 1.5-2.5 1.5-3 0.8-5.8 0.2-3.2-0.5-2.3-0.7-2.3-1.3-0.7-0.8-0.5-1.7 4.2-8.5 1.8-2.8 2.5-2.5 0.7-0.3z"/><path fill="#2ec4a5" d="M134.3 479.2l1.7-0.1 1.6 0.8 1.2 1.3 2 3 2.5 5 2.5 6.1 0 0.9-0.8 1.4-2.4 1.4-1.3 0.4-2.7 0.5-4.6 0.1-5.7-1.1-2-1-1.3-1.2-0.4-1.3 0.2-1 4-9 2.5-4 1.5-1.5 1.2-0.5zM136.6 500.9l1.4-0.2 0.8 0.2 1 0.5 2.2 2.3 1.9 3 3.2 6.5-0.1 1-0.5 1-2.2 1.2-1.7 0.5-5.3 0.5-3.3-0.3-2.4-0.7-0.8-0.5-0.8-0.1-1.4-1.1-0.6-1.8 2.7-5.7 2.4-3.8 1.9-2 1.6-0.5zM117 501.7l2.6-0.1 1 0.5 2.2 2.1 1.2 1.7 3.8 7.5 4 10.6 3.2-3.3 1.8-0.8 1.8 0 1.7 0.8 2.7 2.7 2.2 3.5 3.1 6 5.3 13 0.1 1.3-0.9 2-2.8 2.2-3.7 2-0.3-0.2-2 1.3-1.6 1.4-2.1 2.9-1.7 0.9-3 0.5-2.8-0.2-2.5-0.6-6.7-3.7-5.1-0.9-8-0.1-3.2-0.3-4.7-1.4-2.1-1.6-0.4-1.5 2.1-4.5 2.4-3.7 2.2-2.2 1.5-0.8 2.7 0 2.3 1 3.5 2.3 2 0.5 2.8-1.3 2.2-2.8 1-1.7-0.2-0.4-4.8 0.9-3.3 0.1-6.5-0.4-3.2-0.7-2.8-1-1.2-1-0.5-1 0-1.3 0.5-0.7 4-11.8 4.2-10.2 3-5 1.8-1.8 1-0.5zM104.8 534.4l-0.7 0.5 0.2 0.2 0.7-0.4zM143 548l-0.6 0.4 0.4 0.1 1.9-0.3-1.4-0.2zM143.6 546.5l0 0.3 1.7 0 0-0.3-1.5 0zM144.8 549.2l-0.7 0.5 0.5 0.1 0.6-0.4-0.2-0.2zM168.3 503.9l2.3 0 0.4 0.2 3.3 3.3 3.5 6.5 1.5 3.5 0.1 1-0.8 1.5-2.3 1.2-2.7 0.8-5.3 0.2-4.7-0.8-1.7-0.6-2-1.5-0.6-1 0-1 3.7-7.5 1.8-2.8 2.5-2.5 0.7-0.3zM154 521.9l3 0.1 1 0.5 1.9 1.9 1.5 2 1.9 3.5-0.1 1-0.6 1-1.8 0.9-2.2 0.6-4 0.2-4-0.7-1.8-0.8-1-0.8-0.5-0.8 0-0.8 2.7-4.3 1.8-2.1 2-1.2z"/><path fill="#33c69d" d="M134.3 479.2l1.7-0.1 1.6 0.8 1.2 1.3 2 3 4.5 9.7 0.1 1.3-0.8 1.4-1.6 0.9-2.7 0.9-6 0.5-3.7-0.6-3.6-1.1 0.3-0.3-0.7-0.1-1.3-1.3-0.3-0.8 0.3-1.5 3.5-7.8 2.5-4 1.5-1.5 1.2-0.5zM136.6 500.9l1.4-0.2 1.8 0.7 2.2 2.3 1.9 3 2.7 5.5 0 0.7-0.8 1.4-2 1-2 0.5-5.5 0.3-4.5-0.8-1.7-0.9-1.2-1-0.4-1.7 2.9-5.8 1.7-2.5 1.9-2 1.6-0.5zM117 501.7l2.6-0.1 1 0.5 2.1 2.1 1.3 1.7 3.8 7.5 4 10.6 3.2-3.3 1.8-0.8 1.8 0 1.7 0.8 2.7 2.7 2.2 3.5 2.6 5 3.6 8.5 1.9 5.2-0.7 2.3-1.8 1.7-1.8 1.1-3.2 1.7-0.2-0.5-0.3 0.3 0.5 0.2-2.8 1.4-1.4 1.4-1.8 2.5-1.8 0.8-2.4 0.4-3-0.2-2.3-0.7-4.5-2.7-3.2-1.3-4.3-0.5-10.3-0.2-4.2-1-2-1-0.9-0.9-0.3-1.5 1.6-3.5 2.5-3.7 2.1-2.2 1.5-0.8 2.7 0 2.3 1 3.5 2.3 2 0.5 2-0.8 1.6-1.3 3.2-5-0.1-0.5-2.9 0.8-6.1 0.5-7.3-0.5-2.9-0.8-2.5-1.3-0.9-0.9-0.3-1 4.2-12.3 4.2-10.2 3-5 1.8-1.8 1-0.5zM146.6 549.7l-0.5 0.5 0.2 0.2 0.5-0.5zM144 545.3l0 0.2 1 0 0-0.2-0.7 0zM146 546l-0.7 0.5-1.7 0 0 0.3 1.7 0 0.9-0.6zM143 548l-0.6 0.4 0.4 0.2 1.9-0.4-1.4-0.2zM144.8 549.2l-0.7 0.5 0.5 0.1 0.6-0.4-0.2-0.2zM145 550.7l-0.4 0.5 0.2 0.2 0.5-0.5zM168.3 503.9l2.3 0 0.4 0.2 3.3 3.3 4.5 8.8 0.1 1.2-0.6 1.2-2.3 1.4-2 0.5-3.2 0.5-2.5-0.1-3.3-0.4-2.2-0.8-1.5-0.7-1.1-1.1-0.5-1.2 0.3-1.3 3-5.7 1.8-2.8 2.5-2.5 0.7-0.3zM154 521.9l3 0.1 1 0.5 1.9 1.9 1.5 2 1.4 2.8-0.6 1.5-2.2 1.1-4 0.6-4.2-0.5-3.3-1.5-0.6-1 0.1-1 3-4.2 2.8-2.1z"/><path fill="#39c895" d="M134.3 479.2l2.5 0.2 2 1.8 1.3 1.7 3.2 6.3 1.7 4.2-0.1 1-0.6 1-1.7 1.1-2.8 0.9-5.2 0.3-4.8-0.8-3-1.4-1-0.9-0.4-0.9 0.1-1 3.3-7.3 2.5-4 1.5-1.5 1.2-0.5zM136.6 500.9l1.4-0.2 1.8 0.8 2.1 2.2 3.9 6.7 0.3 1.5-0.5 1-1.8 1.1-2.2 0.7-5 0.3-2.8-0.4-2.5-0.8-2-1.6-0.3-1.5 2.9-5.5 1.3-1.8 1.8-1.9 1.6-0.5zM117 501.7l2.6-0.1 1 0.5 2.1 2.1 1.3 1.7 3.8 7.5 4 10.7 3.2-3.4 1.8-0.8 1.8 0 1.7 0.8 2.7 2.7 2.2 3.5 3.1 6 4.5 11.3-0.1 1.7-1.4 2-3.5 2.3-5.1 2.5-1.7 1.5-2 2.5-2 0.7-1.7 0.3-2.5-0.2-2.2-0.8-4.6-2.6-3.5-1.3-3.9-0.6-6.3 0.2-4.7-0.4-3.6-0.9-1.7-0.9-0.9-0.8-0.4-1.4 1.3-2.6 2.4-3.7 2.1-2.2 1.5-0.8 2.7 0 2.3 1 3.5 2.3 1.8 0.5 1.2-0.2 1.8-1 0.8-0.9 2-2.7 1.9-3.5 0-0.6-2 0.6-5 0.7-8.3-0.1-3.2-0.6-2.7-1 0.2-0.3-0.3-0.2-0.7 0-1.1-1.3-0.2-1.5 0.5-1.5 0.5-0.7 4-11.5 3-7 3-5 1.8-1.8 1-0.5zM146.6 549.7l-0.5 0.5 0.2 0.2 0.5-0.5zM105.3 530.7l0 0.4 0.7-0.2-0.4-0.2zM144 545.3l0 0.2 1 0 0-0.2-0.7 0zM146 546l-0.7 0.5-1.7 0 0 0.3 1.7 0 0.9-0.6zM143 548l-0.6 0.4 0.4 0.2 1.9-0.4-1.4-0.2zM144.8 549.2l-0.7 0.5 0.5 0.2 0.7-0.5-0.3-0.2zM145 550.7l-0.4 0.5 0.2 0.2 0.5-0.5zM168.3 503.9l2.3 0 0.4 0.2 3.3 3.3 1.5 2.5 2.8 6-0.3 1-0.5 0.8-3.2 1.5-2.6 0.5-3.7 0-4.3-0.7-2-0.9-1.3-1.2-0.4-0.7 0-1.3 2.7-5.2 1.8-2.8 2.5-2.5 0.7-0.3zM154 521.9l3 0.1 1 0.5 1.9 1.9 2.1 3.3 0.2 1-0.9 1.2-3.5 1.1-2.8 0.1-3.4-0.5-2.6-1.3-0.5-0.9 0-0.7 1.5-2.3 1.8-2.1 2-1.2z"/><path fill="#40ca8d" d="M134.3 479.2l2.5 0.2 2 1.8 1.3 1.7 4.5 9.3 0 1.3-0.6 0.8-1.2 1-3.2 1-5.6 0.3-5.2-1.1-2.6-1.9-0.4-1.5 3-6.7 2.5-4 1.5-1.5 1.2-0.5zM136.6 500.9l1.4-0.2 1.8 0.8 2.1 2.2 2 3 1.7 3.5 0.1 0.7-0.8 1.3-3.1 1.3-5.2 0.3-3-0.4-3-1.2-0.8-0.8-0.4-1 0.1-0.7 2.9-5.3 2.6-2.9 1.6-0.5zM117 501.7l2.6-0.1 1 0.5 2.1 2.1 1.3 1.7 3.8 7.5 4 10.7 3.2-3.4 1.8-0.8 1.8 0 1.7 0.8 2.7 2.7 2.2 3.5 3 6 4.1 10 0.3 1.5-1.4 2.3-1.6 1.4-7.1 3.6-1.7 1.2-2.3 2.8-1.2 0.5-2.3 0.3-3.7-0.6-5.5-3.2-3-1-3.5-0.6-6.8 0.2-5.2-0.4-3.5-1-2-1.5-0.3-1.5 0.8-1.5 2.4-3.7 2.1-2.2 1.5-0.8 2.7 0 2.3 1 3.5 2.3 1.8 0.5 1.2-0.2 1.8-1 0.8-0.9 2-2.7 2.7-5-0.3-0.3-2.3 0.8-5.2 0.7-6.5 0-3.8-0.5-2.4-0.7-2.3-1.3-0.7-0.8-0.3-0.9 0.2-1.3 0.5-0.7 4-11.5 3-7 3-5 1.8-1.8 1-0.5zM129 527.8l-0.7 0.2 0 0.3 0.5 0 0.4-0.4zM105.3 530.7l-0.2 0.2 0.2 0.2 0.7-0.2-0.4-0.2zM144 544l0 0.3 0.8 0 0-0.3-0.5 0zM146 546l-0.7 0.5-1.7 0 0 0.3 1.7 0 0.9-0.6zM143 548l-0.7 0.4 0.5 0.2 2-0.4-1.5-0.2zM144 545.3l0 0.2 1 0.1 0-0.4-0.7 0.1zM144.8 549.2l-0.7 0.5 0.5 0.2 0.7-0.5-0.3-0.2zM168.3 503.9l2.3 0 0.4 0.2 3.3 3.3 3.5 6.5 0.3 1.5-0.5 1.1-1.8 1.2-1.8 0.5-3.2 0.5-2.5 0-4-0.8-2-0.9-1.3-1.1-0.4-1 0.2-1 2.2-4.2 1.8-2.8 2.5-2.5 0.7-0.3zM154 521.9l2.6 0 1.4 0.7 0.9 0.8 2.6 3.5 0.1 1-0.8 0.9-2.5 0.9-3 0.3-3-0.4-2.6-1.2-0.6-1.2 0.9-1.8 1.8-2.1 2-1.2z"/><path fill="#48cb86" d="M134.3 479.2l2.5 0.2 2 1.8 1.3 1.7 4 8 0.2 1.4-0.5 1.1-1.2 1-2.8 0.9-5.5 0.4-4-0.7-2.5-1.1-1.2-1-0.5-1.5 2.7-6 2.5-4 1.5-1.5 1.2-0.5zM136.6 500.9l1.4-0.2 1.8 0.8 2.1 2.2 3.2 5.5 0.2 1-0.7 1-1 0.7-2.6 0.7-4.4 0.3-4.6-1-1.9-1.5-0.3-1.2 2.7-4.8 2.5-2.9 1.6-0.5zM117 501.7l2.6-0.1 1 0.5 2.1 2.1 1.3 1.7 3.7 7.5 4.1 10.7 3.2-3.4 1.8-0.8 1.8 0 1.7 0.8 2.7 2.7 2.2 3.5 3 6 3.6 8.8 0.5 1.7-0.3 1-1.1 1.5-2.9 2-3.2 1.3-2.5 1.5-1.9 1.5-2.3 2.5-1.2 0.5-1.9 0.2-1.7-0.1-2.3-0.7-4.2-2.5-2.5-1-2.5-0.6-3.5-0.5-9.3 0.1-4.2-0.9-2.3-1.3-0.5-0.7-0.1-0.8 1.1-2.2 1.7-2.5 1.6-1.7 2-1.2 2.7 0 0.8 0.2 4.5 2.8 2.2 0.8 2.3-0.8 1.6-1.4 1.5-2 3.7-6.7 0-0.5-4.3 1.2-4 0.6-7.3-0.1-3-0.5-2.7-0.8-1-0.4 0.5-0.1 0.2-0.2-0.2-0.2-0.8 0.3-1.2-1.3-0.2-1 1.2-3.8 0.5-0.7 2.7-8 3-7 3-5 1.8-1.8 1-0.5zM129 527.7l-0.7 0.3 0 0.3 0.5 0 0.4-0.4zM143 544.8l0.3 0.5 0.4-0.1-0.5-0.3zM146 546l-0.7 0.5-1.7 0 0 0.3 1.7 0.1 0.9-0.7zM143 547.9l-0.7 0.5 0.5 0.2 2-0.4-1.5-0.3zM143.6 543.8l0.4 0.5 0.8 0 0-0.3-1-0.2zM145 547.7l-0.2 0.2 0.5 0.2 0.2-0.2-0.2-0.2zM144 545.2l0 0.4 1 0 0-0.4-0.7 0zM168.3 503.9l2.3 0 0.4 0.2 3.3 3.3 3.4 6.5 0 0.8-0.7 1.1-1.2 0.8-2.2 0.7-5.6 0.4-4.2-1-1.8-0.9-0.6-0.9-0.4-1 0.3-1 2.5-4.5 2.2-2.7 1.3-1.3 0.7-0.3zM154 521.9l2.6 0 1.4 0.7 3.1 3.6-0.1 1-0.7 0.7-1.7 0.8-3.8 0.3-2.2-0.4-2.3-1-0.6-0.9 0.3-1.3 1.8-2 2-1.3z"/><path fill="#51cc7f" d="M134.3 479.2l2.5 0.2 2 1.8 1.3 1.7 3.7 7.5 0.2 1.3-0.8 1.2-1.6 0.9-2 0.6-5.3 0.4-4.3-0.8-2-0.8-1.2-1.1-0.4-1.2 0.4-1.2 3-6 2-2.8 1-1 1.2-0.5zM136.7 500.9l1.3-0.1 1.8 0.7 2.1 2.2 2.9 5 0 1-0.5 0.6-1.3 0.8-1.7 0.6-4.7 0.3-4.6-1.1-1.4-1.1-0.4-0.9 0.1-0.7 2.2-3.8 2.5-2.9 1.6-0.5zM117 501.7l2.6-0.1 1 0.5 2.1 2.1 1.3 1.7 3.7 7.5 4.1 10.7 3.2-3.4 1.8-0.7 1.8 0 1.7 0.7 2.7 2.7 2.2 3.5 2.5 5 3.6 8.5 0.6 2.3-0.9 2-3.2 2.4-5.8 2.7-1.8 1.4-2.2 2.3-2.7 0.9-1.7-0.1-2.3-0.6-5.3-2.9-4.2-1.4-3.2-0.3-5.6 0.3-4.7-0.3-3.7-1-1.9-1.2-0.4-1.5 1.7-2.7 2.8-3.2 1.5-0.7 2.7 0 0.8 0.2 4.5 2.8 2.3 0.8 2.2-0.8 1.6-1.4 2-2.7 3.7-7-0.1-0.5-1.4 0.5-0.3-0.3-0.3 0.6-5.7 1-6.8 0.2-2.5-0.2-4-1-1.5-0.8-1.5-1.3-0.1-1 0.9-3 0.5-0.7 2.7-8 3-7 3-5 1.8-1.8 1-0.5zM129 527.7l-0.7 0.3 0 0.3 0.5 0.1 0.4-0.5zM143 544.7l-0.1 0.2 0.4 0.4 0.4-0.1-0.5-0.3zM145 542.5l-0.8 0.4 0.6 0.1 0.5-0.5zM146 545.9l-0.7 0.5-1.7 0-0.3 0.3 0.3 0.2 1.7 0 1-0.7zM143 547.9l-0.7 0.5 0.5 0.2 2-0.4-1.5-0.3zM143.6 543.8l-0.2 0.1 0.6 0.4 0.8 0 0-0.3-1-0.2zM145 547.7l-0.2 0.2 0.5 0.2 0.2-0.2-0.2-0.2zM128 527l0 0.3 0.6 0 0.1-0.1-0.4-0.2zM144 545.2l0 0.4 1 0 0-0.4-0.7 0zM168.3 503.9l2.3 0 0.4 0.2 3.3 3.3 3 5.5 0 1.2-0.7 1-2.6 1.2-3 0.4-2.7 0.1-2.3-0.3-2-0.7-2.2-1.4-0.4-1.5 2.4-4.5 2.2-2.7 1.3-1.3 0.7-0.3zM154 521.9l2.6 0 1.4 0.7 2.5 2.8 0.1 0.8-0.6 0.7-1.2 0.6-3 0.5-2.2-0.2-2.8-1.1-0.6-0.8 0.1-0.7 1.5-1.8 2-1.3z"/><path fill="#5acc78" d="M134.3 479.2l2.5 0.2 2 1.8 1.3 1.7 3.5 7 0 1.3-0.7 1-2.9 1.3-2.4 0.4-3.8 0-4.5-1.1-1-0.4-1.3-1.2-0.2-1.5 3-6 2-2.8 1-1 1.2-0.5zM136.7 500.9l1.3-0.1 1.8 0.7 2.1 2.2 2.6 4.5-0.1 0.7-0.6 0.7-2.8 1.2-4.4 0.3-3-0.5-2.6-1.4-0.4-1.3 1.9-3.5 2.5-2.9 1.6-0.5zM117 501.7l2.6-0.1 1 0.5 2.1 2.1 1.3 1.7 3.7 7.5 4.1 10.7 3.2-3.4 1.8-0.7 1.8 0 1.7 0.7 2.7 2.7 2.2 3.5 2 4 4.1 9.5 0.3 2-1.2 2-3.1 2.2-3.2 1.3-1.5 0.3-0.3 0.2 0.6 0.3-2.3 1.1-2.4 2.4-1.2 0.7-2.2 0.5-2.2-0.3-5.8-2.9-5.5-1.8-2.7-0.3-9.6 0.3-3.5-0.7-2.2-1.3-0.6-1.2 1.3-2.5 2.8-3.1 1.5-0.8 2.7 0 0.8 0.2 4.5 2.8 2.3 0.8 2.2-0.8 1.7-1.4 1.9-2.7 4.5-8.5-0.3-0.3-0.3 0.4-1.3 0.5-0.4-0.4-1 0.9-2.8 0.6-5 0.5-4 0-4-0.5-3.2-0.9-1.6-0.9-0.7-0.9-0.2-1 0.7-2.3 0.5-0.7 2.7-8 3-7 3-5 1.8-1.8 1-0.5zM129 527.7l-0.7 0.2-0.2 0.3 0.2 0.2 0.5 0 0.5-0.5zM145.8 542l-1 0.8-0.5 0 0 0.2 1-0.2 0.6-0.6zM106.3 528.7l-0.5 0.5 0.2 0.2 0.5-0.5zM143 544.7l-0.1 0.2 0.4 0.4 0.4-0.1-0.5-0.3zM146 545.9l-0.7 0.5-1.7 0-0.3 0.3 0.3 0.2 1.7 0 1-0.7zM128 527l0 0.3 0.6 0 0.1-0.1-0.4-0.2zM143.6 543.7l-0.2 0.2 0.6 0.4 0.8 0 0-0.3-1-0.3zM144 545.2l0 0.4 1 0 0.3-0.2-0.3-0.2-0.7 0zM168.3 503.9l2.3 0 1.2 0.7 1.8 1.8 2.2 3.5 1.2 2.5 0 0.8-0.5 1-1.5 0.9-2 0.6-4.4 0.2-4.6-0.9-1.8-1.3-0.4-0.8 0-0.7 2-3.8 2.2-2.7 1.3-1.3 0.7-0.3zM154 521.9l2.6 0 1.4 0.7 1.8 1.8 0.3 0.8-0.3 0.6-1.2 0.8-2.3 0.5-2.3-0.1-2.5-0.8-0.7-1 0.2-1 2.8-2.1z"/><path fill="#62cd70" d="M134.3 479.2l2.5 0.2 2.8 2.8 3.7 7 0.1 1-0.8 1.2-3.3 1.4-4.5 0.4-5-1-1.2-0.6-1.3-1.1-0.2-1.3 3.4-6.8 2.3-2.5 1.2-0.5zM136.7 500.9l1.3-0.1 1.8 0.7 2.1 2.2 2.1 3.6 0 0.7-0.6 0.9-2.1 1-4.3 0.4-2.4-0.3-2-0.7-1.3-0.9-0.3-1.2 1.5-2.8 2.5-2.9 1.6-0.5zM117 501.7l2.6-0.1 1 0.5 2.1 2.1 1.2 1.7 3.8 7.5 4.1 10.7 3.2-3.4 1.8-0.7 1.8 0 1.7 0.7 2.7 2.7 2.2 3.5 2.5 5 3.6 8.5-0.1 1.8-1 1.5-3.9 2.5-0.3-0.3-0.7 0.5-1.7 0-0.3 0.3 0.3 0.2 1.3 0-4.3 2-3.6 2.8-2 0.7-3-0.5-6.7-3.3-4-1.2-3.5-0.2-5.8 0.4-3.4-0.2-3.8-1-1.2-0.8-0.5-1.4 0.9-1.5 2.8-3.1 1.5-0.8 2.7 0 0.8 0.2 4.5 2.8 2.2 0.8 2.3-0.8 1.7-1.4 1.9-2.7 4.9-9.3-0.3-0.7-0.9 0.5 0.5 0.2-3.1 1.1-2.7 0.6-3.5 0.4-5.5 0.1-5.8-0.9-1.4-0.7-0.3-0.3-0.8-0.2-0.9-1.1-0.2-1 0.4-1.5 0.5-0.7 2.7-8 3-7 3-5 1.8-1.8 1-0.5zM142.3 542.7l-0.2 0.2 0.7 0.7 0.2-0.2-0.5-0.5zM145.8 542l-1 0.7-0.5 0 0 0.4 1-0.3 0.7-0.6zM143 544.7l-0.1 0.2 0.4 0.5 0.5-0.2-0.5-0.3zM127.8 526l0 0.3 0.5 0 0.2-0.1-0.5-0.2zM128 526.9l-0.2 0.3 0.2 0.2 0.6 0 0.2-0.2-0.5-0.3zM143.6 543.7l-0.2 0.2 0.6 0.4 0.8 0 0-0.3-1-0.3zM144 545.2l-0.2 0.2 0.2 0.2 1 0 0.3-0.2-0.3-0.2-0.7 0zM168.3 503.9l2.3 0 1.2 0.7 1.8 1.8 3 5 0.2 0.8-0.5 1-1.3 0.9-1.7 0.7-3 0.3-4.5-0.5-1.8-0.5-1.5-1.2-0.4-1.2 1.7-3.3 2.2-2.7 1.3-1.3 0.7-0.3zM154 521.9l2.6 0 1.4 0.7 1.5 1.6-0.4 1-1.1 0.5-1.7 0.4-2-0.1-2-0.5-0.9-0.8 0.1-1 2.3-1.6z"/><path fill="#6bcd69" d="M134.3 479.2l2.5 0.2 2.8 2.8 3.5 6.5 0 0.7-0.8 1.3-1.7 1-1.8 0.4-4.8 0.2-4-0.8-1.2-0.6-1.1-1-0.4-1.2 0.5-1.3 2.7-5 2.3-2.5 1.2-0.5zM136.7 500.9l1.3-0.1 1.8 0.8 2.1 2.1 1.8 3.2-0.6 1.3-3.1 1.1-2.7 0.2-2.7-0.4-2.8-1.4-0.5-1.3 1.2-2 2.5-2.8 1.6-0.6zM117 501.7l2.6-0.1 1 0.5 2.1 2.1 1.2 1.7 3.8 7.5 4.1 10.7 3.2-3.4 1.8-0.7 1.8 0 1.7 0.7 2.6 2.7 2.3 3.5 2 4 3.9 9-0.1 1.5-1 1.5-2.7 1.9-7.3 3.4-3.2 2.5-2.2 0.6-3-0.6-4.6-2.3-4.9-1.7-3.8-0.5-6.3 0.6-3.7-0.2-3-0.9-1.5-1-0.3-1.3 1.3-1.7 2-2.1 1.5-0.8 2.7 0 0.8 0.3 4.5 2.8 2.3 0.7 1.2-0.2 1.8-1.1 2.8-3.6 5.9-11-1.5 0.8-1 0.2-0.2 0.3-0.6-0.1-0.4 0.5-2 0.6-7.3 0.9-3.5 0-4.8-0.7-2.7-1.2-1.4-1.1-0.3-1 0.2-1 0.5-0.7 2.7-8 3-7 3-5 1.8-1.8 1-0.5zM142.3 542.7l-0.2 0.2 0.7 0.7 0.2-0.2-0.5-0.5zM145.8 542l-1 0.7-0.5 0 0 0.4 1-0.3 0.7-0.6zM143 544.7l-0.2 0.2 0.5 0.5 0.5-0.2-0.5-0.3zM127.8 526l0 0.4 0.5 0 0.2-0.2-0.5-0.2zM128 526.9l-0.2 0.3 0.2 0.2 0.6 0 0.2-0.2-0.5-0.3zM143.3 542.2l-0.2 0.2 0.5 0.4 0.4-0.1-0.5-0.3zM143.6 543.7l0 0.4 1.2 0.3 0.2-0.2-0.2-0.3-1-0.2zM144 545.2l-0.2 0.2 0.2 0.2 1 0 0.3-0.2-0.3-0.2-0.7 0zM168.3 503.9l2.3 0 1.2 0.7 1.8 1.8 2.7 4.5 0 1-0.5 0.8-1.2 0.7-2 0.6-3 0.3-4-0.6-2.6-1.3-0.5-1.2 1.3-2.8 2.2-2.7 1.3-1.3 0.7-0.3zM154 521.9l2.6 0 1.4 0.7 0.8 0.8-0.3 1-0.7 0.4-1.8 0.4-3.2-0.5-0.8-1.3 1.8-1.3z"/><path fill="#74cc62" d="M134.3 479.2l2.5 0.2 2 1.8 2 3 2 4-0.5 1.5-3 1.5-4.5 0.3-4-0.6-2.7-1.5-0.5-1.2 0.2-0.8 2-3.7 2-2.8 1-1 1.2-0.5zM136.7 500.9l1.3-0.1 1.8 0.8 2 2.1 1.5 2.4-0.2 0.8-0.7 0.8-2.4 0.8-3.4 0.1-3.3-0.8-1.3-0.9-0.2-1.2 1.5-2.3 1.7-1.8 1.6-0.5zM117 501.7l2.6-0.1 1 0.5 2.1 2.1 2 3 3 6.2 3.8 10-0.1 1-0.9 1.3-2.7 1.5-3 1-3.9 0.7-4.3 0.3-4.8-0.3-2.2-0.4-3-1.1 0.2-0.2-0.2-0.3-0.3 0.4-1.1-0.9-0.3-1.5 0.9-2.7 5.2-13 3-5 1.8-1.8 1-0.5zM127.8 525.9l-0.2 0.3 0.2 0.2 0.5 0 0.2-0.2-0.5-0.3zM168.3 503.9l2.3 0 1.2 0.7 1.8 1.8 2.4 4.2-0.7 1.6-2.7 1-4 0.3-3.6-0.8-1.7-1.1-0.5-1.2 1-2 2.2-2.7 1.3-1.3 0.7-0.3zM136.6 520.2l2-0.2 1.7 0.7 2.6 2.7 1.5 2.3 3.8 7.2 2.4 5.8 0.2 1.7-1 1.8-3.2 2.3-2.6 0.7-0.2 0.2 0.3 0.3-1.5 0.2-0.2 0.5-3.1 1.4-2.7 1.9-1.6 0.4-2 0-1.2-0.4-6.4-2.8-5.4-1.7-10 0.7-3.4-0.6-2.3-1.1-0.4-1 0.9-1.5 2-2.1 1.5-0.8 2.7 0 0.8 0.3 4.5 2.8 2.3 0.7 1.2-0.2 1.8-1 2.8-3.7 5.2-10 2.2-3.5 3.2-3.5 1.6-0.5zM142.3 542.7l-0.2 0.2 0.7 0.7 0.2-0.2-0.5-0.5zM145.8 542l-1 0.7-0.5 0 0 0.4 1-0.2 0.7-0.7zM146 543.2l-0.4 0.5 0.2 0.2 0.5-0.5zM143 544.7l-0.2 0.2 0.5 0.5 0.5-0.2-0.5-0.3zM143.8 540l0 0.3 0.5 0 0.4-0.1-0.7-0.2zM143.3 541l0.3 0.6 0.4-0.2-0.5-0.2zM143.3 542.2l-0.2 0.2 0.5 0.4 0.4-0.1-0.5-0.3zM143.6 543.7l-0.3 0.2 0.3 0.2 1.2 0.3 0.2-0.2-0.2-0.3-1-0.2zM154 521.9l2.6 0 1.3 0.8 0.2 0.2-0.3 0.6-1.8 0.7-1.4-0.1-1.8-0.9 0.1-0.5 0.9-0.6z"/><path fill="#7ecc5b" d="M134.3 479.2l2.5 0.2 2 1.8 2 3 1.7 3.5-0.6 1.5-2.1 1-4 0.6-3.2-0.3-2.3-0.5-2-1.4-0.4-0.9 0.1-0.8 2.5-4.5 2.3-2.5 1.2-0.5zM136.7 500.9l1.3-0.1 1.8 0.8 2 2.1 1 1.5 0.1 0.5-0.3 0.7-1 0.7-3 0.7-3-0.2-2.8-0.9-0.7-1.3 0.4-1 2.5-2.8 1.6-0.5zM117 501.7l2.6-0.1 1 0.5 2.1 2.1 2 3 3 6.2 3.4 8.8 0.2 1.2-1 1.6-1.7 1.1-0.8-0.2-0.2 0.3 0.2 0.2-2.8 0.9-3 0.7-4.7 0.5-3.3-0.1-4-0.5-3-1 0-0.3-1.4-0.8-0.5-1.1 0.2-1 2.7-7.5 3-7 3-5 1.8-1.8 1-0.5zM168.3 503.9l2.3 0 1.2 0.7 1.8 1.8 2 3.5 0 0.8-0.7 0.7-2.3 1-4 0.3-3.6-0.8-1.4-1-0.4-1.2 0.6-1.3 2.2-2.7 1.3-1.3 0.7-0.3zM136.6 520.2l2-0.2 1.7 0.7 2.6 2.7 1.5 2.3 3.8 7.2 2.4 5.8-0.2 1.5-1 1.5-3.8 2.5-2 0.7-0.6-0.2-0.2 0.2 0.2 0.4-3.2 1.3-4.2 2.4-0.8 0.1-3.1-0.4-4.4-2-8-2.7-1.7 0.1-3.8 0.9-4 0.1-3-0.5-1.8-0.9-0.5-0.5-0.1-0.8 0.4-0.7 2-2.1 1.5-0.8 2.7 0 0.8 0.3 4.5 2.8 2.3 0.7 1.2-0.2 1.8-1 2.9-3.7 5.1-10 2.2-3.5 3.2-3.5 1.6-0.5zM142.3 542.7l-0.2 0.2 0.7 0.7 0.2-0.2-0.5-0.5zM145.8 541.9l-1 0.8-0.5 0-0.2 0.2 0.2 0.2 1-0.2 0.7-0.7zM146 543.2l-0.4 0.5 0.2 0.2 0.5-0.5zM143.8 540l0 0.3 0.8 0 0-0.3-0.6 0zM143.3 541l-0.2 0.2 0.5 0.4 0.4-0.2-0.5-0.2zM143.3 542.2l-0.2 0.2 0.5 0.5 0.4-0.2-0.5-0.3zM143.6 543.7l-0.3 0.2 0.3 0.2 1.2 0.3 0.2-0.2-0.2-0.3-1-0.2zM154.2 521.9l2.4 0 0.3 0.3-0.1 0.4-2.2 0.2-0.6-0.2 0-0.5z"/><path fill="#87cb54" d="M134.3 479.2l2.5 0.2 2 1.8 3.3 5.5 0 1-0.5 0.7-1 0.7-1.8 0.6-4.5 0.3-3.7-0.8-2-1.3-0.3-1.5 2.2-4 2.3-2.5 1.2-0.5zM136.7 500.9l1.3-0.1 1.8 0.8 2 2.1 0.7 1.5-0.8 1-2.4 0.7-2.5 0.1-2.8-0.6-1-0.6-0.4-1.3 0.7-1.1 1.7-1.8 1.6-0.5zM117 501.7l2.6-0.1 1 0.5 2.1 2.1 1.2 1.7 3.8 7.5 2.6 6.8 0.7 2.1-0.5 1.6-1.5 1.1-4.7 1.8-7.5 0.9-3.2 0-3.8-0.6-2.2-0.8-2-1.4-0.3-1 0.5-1.7 5.2-13 3-5 1.8-1.8 1-0.5zM127.6 524.9l-0.3 0.3 0.5 0.2 0.2-0.2-0.2-0.3zM168.3 503.9l2.3 0 1.2 0.7 1.8 1.8 1.7 2.8 0 0.7-0.6 0.8-2.4 1-3.5 0.2-2.8-0.5-2-1.1-0.4-1 0.2-0.9 2.2-2.7 1.3-1.3 0.7-0.3zM136.6 520.2l2-0.2 1.7 0.7 2.6 2.7 1.5 2.3 3.7 7.2 2.2 5.3 0 1-0.5 1.2-3.2 2.5-2.6 1-0.4-0.2-0.3 0.2 0.5 0.3-2.2 0.8-3.8 1.9-2.8 1.1-3.4-0.3-7.8-2.9-3.7-1.9-0.1-0.5 2.5-2 2-2.7 5.1-10 2.2-3.5 3.2-3.5 1.6-0.5zM142.3 542.7l-0.2 0.2 0.7 0.7 0.2-0.2-0.5-0.5zM145.8 541.9l-1 0.8-0.5 0-0.2 0.2 0.2 0.2 1-0.2 0.7-0.7zM143.8 540l0 0.3 0.8 0 0-0.3-0.6 0zM143.3 541l-0.2 0.2 0.5 0.4 0.4-0.2-0.5-0.2zM143.3 542.2l-0.2 0.2 0.5 0.5 0.4-0.2-0.5-0.3zM108.2 538.9l2.8-0.1 0.8 0.3 5.8 3.3-0.3 0.5-2 0.9-4 0.5-3-0.2-2-0.6-1.1-0.8-0.3-1 1.9-2.1 1.2-0.5z"/><path fill="#90ca4d" d="M134.3 479.2l2.5 0.2 2 1.8 3 5 0 0.7-0.5 0.8-1.5 0.9-1.5 0.4-4 0.2-3.7-0.8-1.8-1.2-0.2-0.9 0.2-0.9 1.7-3 2.3-2.5 1.2-0.5zM136.7 500.9l1.3-0.1 1.8 0.8 2.2 2.6-0.7 1.2-2 0.6-2.3 0.2-1.4-0.2-2-0.8-0.6-0.8 0.3-1 1.7-1.8 1.6-0.5zM117 501.7l2.6-0.1 1 0.5 2.1 2.1 1.2 1.7 3.8 7.5 2.6 6.8 0.5 1.7-0.7 1.5-1.3 1-1.2 0.4-0.6-0.1-0.2 0.2 0.5 0.3-3.3 1-7.2 0.8-3.8-0.1-3.7-0.7-2.3-0.9-1.2-1.1-0.2-0.8 0.2-1.2 5.2-13 3-5 1.8-1.8 1-0.5zM127.3 523.9l-0.2 0.3 0.5 0.2 0.2-0.2-0.2-0.3zM126.3 522.5l-0.2 0.2 0.5 0.4 0.4-0.2-0.5-0.2zM168.3 503.9l2.3 0 1.2 0.7 1.8 1.8 1.4 2.3-0.7 1.3-2.5 0.9-3 0.2-2.5-0.5-1.9-1-0.5-0.9 0.4-1 3-3.3 0.7-0.3zM136.6 520.2l2-0.2 1.7 0.8 2.6 2.6 1.5 2.3 3.7 7.2 2 4.8 0 1-1.1 1.6-3 2-0.2-0.4-1 0.8-0.5 0-0.2 0.2 0.3 0.3-7.1 3-3 0.8-2-0.1-6.7-2.3-2.8-1.2-1.5-1.2 0-0.8 1.2-1 2-2.7 5.1-10 2.2-3.5 3.2-3.5 1.6-0.5zM142.3 542.7l-0.2 0.2 0.7 0.7 0.2-0.2-0.5-0.5zM143 538.3l0.3 0.5 0.6-0.1-0.7-0.3zM143.8 540l0 0.3 0.8 0 0-0.3-0.6 0zM143.3 541l-0.2 0.2 0.5 0.4 0.4-0.2-0.5-0.2zM143.3 542.2l-0.2 0.2 0.5 0.5 0.4-0.2-0.5-0.3zM108.3 538.9l2.7 0 0.8 0.2 3.9 2.3 0.4 0.5-0.2 0.3-1.6 0.8-2.5 0.4-4.8-0.5-1.4-1-0.3-0.7 1.5-1.6 1.2-0.5z"/><path fill="#99c946" d="M134.3 479.2l2.5 0.2 2 1.8 2.8 4.5-0.6 1.2-1.7 1-4.3 0.6-4-0.7-1.7-1.1-0.4-1.3 1.6-3 2.3-2.5 1.2-0.5zM136.8 500.9l1.2 0 1.8 0.7 1.5 1.6 0.2 0.5-0.5 0.7-1 0.6-2 0.3-2-0.1-1.7-0.7-0.6-0.6-0.1-0.7 1.4-1.6 1.6-0.5zM117 501.7l2.6-0.1 1 0.5 2.1 2.1 2 3 3 6.2 2.6 6.8 0.3 1.3-1 1.4-1.3 1-1 0-0.7 0.8-1.8 0.5-2.8 0.6-5.2 0.5-3.2-0.1-4.3-0.8-2.5-1.1-0.6-0.6-0.4-1.5 5.2-13 3-5 1.8-1.8 1-0.5zM126.3 522.5l-0.2 0.2 0.5 0.4 0.4-0.2-0.5-0.2zM126.6 521.7l-0.1 0.4 0.5 0 0.2-0.2-0.4-0.2zM168.3 503.9l2.3 0 1.2 0.7 2.5 2.8 0.3 0.9-0.6 0.9-1 0.5-3 0.6-3.4-0.4-1.8-1-0.5-1 0.5-1 2.5-2.5 0.7-0.3zM136.6 520.2l2-0.2 1.7 0.8 2.6 2.6 2.2 3.5 4 8.3 0.8 2.5-0.7 1.5-1.4 1.3-2.8 1.5-1 0.4-0.7-0.2-0.2 0.2 0.2 0.4-0.7 0.1-0.3-0.2-0.2 0.2 0.2 0.3-0.7 0.4-6.8 2.4-1.5 0-4.5-1.1-4.3-1.6-2.3-1.6-0.2-0.8 2.5-3.2 5.1-10 2.2-3.5 3.2-3.4 1.6-0.6zM142.6 537.8l0.7 1 0.7-0.1-0.7-0.2-0.6-0.6zM143.8 540l0 0.3 0.8 0.1 0.2-0.2-0.2-0.2-0.6 0zM143.3 540.9l-0.2 0.3 0.5 0.4 0.4-0.2-0.5-0.2zM108.3 538.9l2.7 0 0.8 0.2 2.8 1.5 0.3 0.6-0.3 0.4-1.3 0.6-2 0.3-3.7-0.4-1.5-0.9-0.1-0.5 0.8-1.1 1.2-0.5z"/><path fill="#a2c83f" d="M134.3 479.2l2.5 0.2 2 1.8 2.3 3.5 0.1 0.7-0.7 1-2.5 1-3.2 0.3-3.8-0.8-1.2-0.7-0.5-0.8 0-0.7 1.2-2.3 2.3-2.5 1.2-0.5zM136.8 500.9l1.2 0 1.8 0.7 1 1.1-0.2 0.9-1 0.6-2 0.2-2.3-0.4-0.7-0.5-0.5-0.6 0.2-0.5 0.7-0.8 1.6-0.5zM117 501.7l2.6-0.1 1 0.5 2.1 2.1 1.2 1.7 2.7 5.3 3.2 7.7 0.5 1.7-0.8 1.6-1.9 1.2-4 1.4-6.8 0.7-6-0.5-3.2-1.2-1.4-1.1-0.2-1 0.8-2.3 4.2-10.2 3-5 1.8-1.8 1-0.5zM125.5 521l-0.1 0.2 0.6 0.6 0.2-0.1-0.5-0.5zM126.3 522.4l-0.2 0.3 0.5 0.4 0.4-0.2-0.5-0.2zM126.6 521.7l-0.1 0.4 0.5 0 0.2-0.2-0.4-0.2zM168.3 503.9l2.3 0 1.2 0.7 2.3 2.6-0.3 1.1-1.8 0.9-2 0.2-2.2-0.1-2.2-0.8-0.8-1.1 0.1-0.5 2.4-2.5 0.7-0.3zM136.7 520.2l1.9-0.2 1.7 0.8 2.6 2.6 1.5 2.3 3.7 7.2 1.5 3.5-0.3 1.7-0.5 0.6-1.8 1.5-3 1.6-7 2.7-2.4 0.5-3.8-0.4-3.2-1-2.8-1.1-1.9-1.3-0.3-0.8 0.2-0.5 2.4-3.5 5.2-10 2-3 2.6-2.6 1.6-0.5zM142.6 537.8l-0.2 0.1 0.9 0.9 0.7-0.1-1.3-0.8zM143.8 539.9l-0.2 0.3 0.2 0.2 0.8 0 0.2-0.2-0.2-0.3-0.6 0zM143.3 537l0 0.3 0.7 0 0-0.3-0.4 0zM143.3 540.9l-0.2 0.3 0.5 0.4 0.4-0.2-0.5-0.2zM108.3 538.9l2.7 0 2.3 1 0.4 0.8-1.7 0.8-3.2-0.1-1.5-0.5-0.6-0.7 0.1-0.5 1.2-0.6z"/><path fill="#acc739" d="M134.3 479.2l2.5 0.2 2 1.8 2 3-0.1 0.7-0.4 0.6-1 0.7-1.5 0.4-3.2 0.2-2.6-0.4-1.9-1-0.5-1.2 0.9-1.8 2.3-2.5 1.2-0.5zM136.8 500.9l1.2 0 1.8 0.8 0.3 0.5-0.3 0.6-0.5 0.4-2 0.2-2-0.6-0.4-0.9 1.1-0.8 0.6 0zM117 501.7l2.6-0.1 1 0.5 2.1 2.1 1.2 1.7 2.7 5.3 3.2 7.7 0.2 1.5-0.9 1.3-2.1 1-0.7-0.3-0.2 0.3 0.2 0.4-2.4 0.8-2.9 0.6-4.4 0.3-6.6-0.8-2.2-0.8-1.2-1-0.3-1.3 0.5-1.5 4.2-10.2 3-5 1.8-1.8 1-0.5zM125.6 521l-0.2 0.2 0.6 0.7 0.3-0.2-0.6-0.5zM126.6 521.7l-0.3 0.2 0.3 0.2 0.4 0 0.3-0.2-0.5-0.2zM168.3 503.9l2.3 0 1.2 0.7 1.7 1.8-0.2 1-1.3 0.8-2.2 0.4-2.2-0.3-1.8-0.6-0.5-1.3 2-2 0.7-0.3zM136.7 520.2l1.9-0.2 1.7 0.8 2.6 2.6 1.5 2.3 3.7 7.2 1.2 3-0.1 1-0.8 1.3-2.1 1.6-2 1-1 0.1-1 0.8-7.5 2.3-2.5 0-4.8-1.3-2.9-1.3-1.3-1.2 0-0.9 1.9-2.9 3-6 3.2-5.5 3.6-4.1 1.6-0.5zM142.6 537.7l-0.2 0.2 0.9 0.9 0.7-0.1-1.3-0.8zM143.8 539.9l-0.2 0.3 0.2 0.2 0.8 0 0.2-0.2-0.2-0.3-0.6 0zM143.3 537l0 0.3 0.7 0 0-0.3-0.4 0zM108.3 538.9l2.7 0 1.3 0.5 0 0.5-1.3 0.5-2-0.1-1.2-0.6-0.1-0.3 0.3-0.3z"/><path fill="#b5c533" d="M134.3 479.2l2.5 0.2 2 1.8 1.5 2.2 0 0.8-0.5 0.7-2.2 0.9-2 0.2-2.8-0.3-2-0.8-0.8-1.2 0.5-1.3 2.3-2.5 1.2-0.5zM136.8 500.9l2 0.2 0.2 0.3-0.2 0.4-2 0.2-0.9-0.6 0.7-0.3zM117 501.7l2.6-0.1 1 0.5 2.1 2.1 1.2 1.7 2.7 5.3 3.2 7.7-0.1 0.8-0.9 1.2-1.2 0.9-1-0.1-0.3 0.2 0.4 0.3-2.4 0.8-4.3 0.7-3.4 0.3-6.3-0.7-2.7-1.2-0.8-0.7-0.2-1.1 0.2-0.9 4.2-10.2 3-5 1.8-1.8 1-0.5zM125.6 520.9l-0.3 0.3 0.7 0.7 0.3-0.2-0.5-0.5zM126 519.5l0 0.3 0.6 0 0.1-0.1-0.4-0.2zM168.3 503.9l2.3 0 0.4 0.2 2 1.8-0.2 0.7-1 0.7-2 0.3-3-0.6-0.9-1.1 1.4-1.5 0.7-0.3zM136.7 520.2l1.9-0.2 1.7 0.8 2.6 2.6 1.5 2.3 4.4 9 0.2 1.2-1 1.6-1.7 1.4-2.5 1-0.2 0.4-5.8 2.1-2.8 0.6-3.2-0.1-2.8-0.7-2.7-0.9-1.6-0.9-0.7-0.7-0.2-1 2.7-4.5 3.9-7.8 2-3 2.6-2.6 1.6-0.5zM142.6 537.7l-0.2 0.2 0.9 1 0.7-0.2-1.3-0.8zM143 535.3l0 0.2 0.8 0 0-0.2-0.5 0zM143.3 537l0 0.3 0.7 0 0-0.3-0.4 0z"/><path fill="#bec32e" d="M134.3 479.2l1.7-0.1 1.6 0.8 2 2.3 0.3 1-0.3 0.7-1.3 0.7-2.5 0.4-2.8-0.2-2-1-0.4-0.7 0-0.7 2.2-2.5 1.2-0.5zM117 501.7l2.6-0.1 1 0.5 2.1 2.1 1.2 1.7 2.7 5.3 2.7 6.5 0.2 1-0.9 1.5-2.1 1.1-0.5 0.1-0.4-0.5-0.3 0.9-1.7 0.5-5.8 0.8-2.8 0-4.4-0.6-1.8-0.6-1.8-1.3-0.2-0.9 0.5-1.5 3.7-9 3-5 1.8-1.8 1-0.5zM126 519.5l0 0.3 0.6 0 0.1-0.1-0.4-0.2zM168.3 503.9l2.3 0 1.5 1 0.2 0.5-0.3 0.4-2 0.7-2.4-0.3-0.9-1 0.6-0.8 0.7-0.3zM136.7 520.2l1.9-0.2 1.7 0.8 2.6 2.6 2.2 3.5 3.5 7.3 0.1 1-0.9 1.6-2 1.5-3.8 1.7-3.4 1.2-4 0.9-3.8-0.3-3.8-1.2-2.1-1.2-0.6-1.5 6.1-11.5 2-3 2.6-2.6 1.6-0.5zM142.6 537.7l-0.3 0.2 1 1 0.7-0.2-1.2-0.8zM143 535.3l0 0.2 0.8 0 0-0.2-0.5 0zM143.3 537l0 0.3 0.7 0.1 0.3-0.2-0.3-0.2-0.4 0z"/><path fill="#c8c129" d="M134.3 479.2l1.7-0.1 1.6 0.8 1.7 2 0 0.7-0.5 0.6-3 0.8-1.8-0.1-2.4-0.8-0.6-0.9 0.3-0.8 1.5-1.5 1.2-0.5zM117 501.7l2.6-0.1 1 0.5 2.1 2.1 1.2 1.7 2.7 5.3 2.2 5.2 0.4 1.5-0.7 1.3-0.9 0.7-2.3 1-0.8 0.1-0.2-0.3-0.2 0.2 0.2 0.3-0.5 0.2-6.5 0.8-5.5-0.3-3.2-1.1-1-0.7-0.5-0.9 0.2-1 3.7-9 3-5 1.8-1.8 1-0.5zM125 517.8l0.6 0.8 0.4 0 0-0.4-0.8-0.3zM126 519.4l-0.2 0.3 0.2 0.2 0.6 0 0.2-0.2-0.5-0.3zM168.3 503.9l2.3 0 0.6 0.5-0.2 0.3-0.4 0.4-1.6 0.1-1.2-0.5 0-0.5 0.2-0.1zM136.7 520.2l1.9-0.2 1.7 0.8 2.6 2.6 2.2 3.5 3 6 0.3 1.3-0.8 1.7-1.6 1.2-2 1-0.7 0.2-0.7-0.6-0.3 0.2 0.7 0.8-4.2 1.5-3.2 0.7-4.8-0.1-3.5-1.1-2.3-1.6-0.1-1.2 5.5-10.5 2.1-3 2.5-2.6 1.6-0.5zM143 535.2l0 0.4 0.8 0 0-0.4-0.5 0zM143.3 536.9l-0.2 0.3 0.2 0.2 0.7 0 0.3-0.2-0.3-0.3-0.4 0z"/><path fill="#d2bf27" d="M134.3 479.2l2.5 0.2 1.8 1.5-0.1 1-0.9 0.7-1.3 0.2-2.3 0-1.4-0.5-0.8-0.6 0-0.8 1-1 1.2-0.5zM117 501.7l2.6-0.1 1 0.5 2 2.1 1.3 1.7 2.7 5.3 2.2 5.2 0 0.8-0.5 1-1.3 1-2.7 1-6.5 1.1-3.2-0.1-3.3-0.5-2.3-0.7-1.1-0.8-0.3-0.6-0.1-0.9 3.5-8.5 3-5 1.8-1.8 1-0.5zM125 517.7l-0.1 0.2 0.7 0.7 0.4 0 0.3-0.2-0.3-0.2-0.8-0.3zM136.7 520.2l1.9-0.2 1.7 0.8 2.6 2.6 2.2 3.5 2.7 5.5 0.2 1.1-0.6 1.4-2.6 1.9-1.5 0.1-0.2 0.3 0.5 0.2-4.3 1.5-3.5 0.9-3 0.1-2-0.3-3.2-1-1.6-0.9-0.7-1.5 5.1-9.8 2.1-3 2.5-2.6 1.6-0.5zM143 535.2l0 0.4 0.8 0 0-0.4-0.5 0z"/><path fill="#dcbd29" d="M134.3 479.2l2.5 0.2 0.9 0.8 0.1 0.5-1 0.7-1 0.2-2-0.2-1-0.7-0.2-0.5 1-0.8 0.4 0zM117 501.7l2.6-0.1 1 0.5 2 2.1 1.3 1.7 4.4 9.3 0.2 0.7-0.5 1.3-1.7 1.2-1.3-0.7-0.2 0.2 1 0.8-0.8 0.2-4 1-3 0.3-3.7 0-2.7-0.5-2-0.6-1.4-0.9-0.4-0.9 0.2-1.1 3-7 3-5 1.8-1.8 1-0.5zM136.7 520.2l1.9-0.2 1.7 0.8 2.6 2.6 2.2 3.5 2.5 5 0 1.1-0.7 1.2-1.9 1.4-2.4 1.1-3.8 1.3-3.2 0.7-2.6 0.1-3.4-0.7-2.6-1.1-0.8-0.8-0.3-0.5 0.1-1 4.4-8.3 2.1-3 2.5-2.6 1.6-0.5zM143 535.2l-0.2 0.2 0.2 0.2 0.8 0 0.2-0.2-0.2-0.2-0.5 0z"/><path fill="#e5bb2d" d="M134.4 479.2l1.6 0 0.2 0.2-0.1 0.3-1.3 0.1-0.5-0.5zM117 501.7l2.6-0.1 1 0.5 2 2.1 1.3 1.7 4.2 8.8-0.1 0.8-0.7 1.1-1.5 0.9-2.5 0.9-6.7 0.8-5.3-0.6-2-0.9-0.9-0.8-0.2-0.7 0.3-1.3 4-8.5 1.5-2.2 1.8-1.8 1-0.5zM136.7 520.2l1.9-0.2 1.7 0.8 2.6 2.6 2.2 3.5 2 4 0.2 0.8-0.7 1.4-1.6 1.3-2.2 1.1-7 2-4.8-0.2-2.4-0.8-1.6-0.9-0.5-0.9 0-0.8 3.9-7.5 2.1-3 2.5-2.6 1.6-0.5z"/><path fill="#edba34" d="M117 501.7l2.6-0.1 1 0.5 2 2.1 2 3 3 6.2 0.2 0.8-0.5 1.1-1 0.8-1.5 0.3-0.2 0.4-1.6 0.6-5.2 0.7-5.5-0.4-2-0.5-1.3-0.9-0.4-1.4 2.4-5.7 3-5 1.8-1.8 1-0.5zM136.7 520.2l1.9-0.1 1.7 0.7 2.6 2.6 2.2 3.5 1.7 3.5-0.2 1.2-1 1.2-2.3 1.3-3.3 1.3-5.4 1-3.3-0.2-2.3-0.7-1.1-0.6-0.7-0.7-0.2-1.3 2.7-5.2 2.2-3.5 3.1-3.4 1.6-0.5zM142.8 532.9l-0.2 0.3 0.4 0.2 0.3-0.2-0.3-0.3z"/><path fill="#f5ba3b" d="M117 501.7l2.6-0.1 1 0.5 2 2.1 2 3 2 4 0.7 1.7-0.4 1.5-1.1 0.9-0.7 0.1-0.1 0.3-0.7 0.1-0.3-0.4-0.2 0.3 0.3 0.2-0.3 0.3-5.8 0.9-5.7-0.4-2.3-0.8-0.8-0.7-0.2-0.8 0.3-1.2 3.2-6.8 1.5-2.2 1.8-1.8 1-0.5zM124.6 514.9l-0.3 0.3 0.5 0.4 0.2-0.2-0.2-0.2zM136.7 520.2l1.9-0.1 1.7 0.7 2.6 2.6 3.4 6 0 1-1 1.4-1.7 1.2-0.8-0.1-0.2 0.5-1.6 0.6-5 1.2-4.4-0.1-2.2-0.7-1.5-1-0.3-1.5 4.4-7.7 3-3.4 1.6-0.5z"/><path fill="#fdbd3d" d="M117 501.7l2.6-0.1 1 0.5 2 2.1 2 3 2 4 0.4 1.2-0.4 1-2.6 1.4-2.4 0.7-3.3 0.5-4-0.1-3.3-0.8-1.2-0.7-0.4-1.2 3.1-6.8 1.5-2.2 1.8-1.8 1-0.5zM136.7 520.2l1.9-0.1 1.7 0.7 2.5 2.6 3 5 0.1 0.8-0.9 1.4-3.7 2.1-5 1.2-4.7-0.1-1.8-0.6-1.2-0.8-0.5-0.7 0.2-1.3 3.7-6.2 3-3.4 1.6-0.5z"/><path fill="#fec438" d="M117 501.7l2.6-0.1 1 0.5 2 2.1 2 3 1.7 3.5-0.3 1.3-1 0.8-2.8 1.1-5.2 0.6-4.7-0.5-1-0.4-1.2-0.9-0.1-1.3 2.5-5 1.5-2.2 1.8-1.8 1-0.5zM136.7 520.2l1.9-0.1 1.7 0.7 2.5 2.6 2.5 4.2-0.9 1.8-2.8 1.6-5.6 1.3-4.2-0.2-2-0.7-0.6-0.5-0.4-1.2 3.2-5.5 3-3.4 1.6-0.5z"/><path fill="#fdcb33" d="M117 501.7l2.6-0.1 1 0.5 2 2.1 2 3 1.2 2.5-0.6 1.2-2.4 1.3-4 0.8-4.4-0.1-2.4-0.6-1.2-0.8-0.3-1.1 2-4 1.5-2.2 1.8-1.8 1-0.5zM136.7 520.2l1.9-0.1 1.7 0.8 2.5 2.5 1.8 2.8 0 0.7-0.9 1.3-2.4 1.3-5.5 1.3-3-0.1-1.9-0.5-1-0.8-0.3-0.8 0.2-0.9 2.7-4.3 2.5-2.6 1.6-0.5z"/><path fill="#fbd22f" d="M117 501.7l2.6-0.1 1 0.5 2 2.1 2.5 4 0 0.7-0.4 0.8-1.9 1-5 0.9-3.5-0.2-2.7-1-0.5-1.2 1.4-2.8 1.5-2.2 1.8-1.8 1-0.5zM136.8 520.2l1.8-0.1 1.7 0.8 2.5 2.5 1 1.5 0.1 0.8-0.6 1-1.7 1.1-2 0.7-3.3 0.7-3-0.1-2.5-0.9-0.4-1.3 2.1-3.5 2.5-2.5 1.6-0.5z"/><path fill="#f8da2b" d="M117 501.7l2.6-0.1 1 0.5 2 2.1 1.9 3-0.5 1.2-2 1.1-4.2 0.6-3.5-0.3-2.3-0.9-0.2-1 2.2-3.7 1.8-1.8 1-0.5zM136.8 520.2l1.8-0.1 1.7 0.8 2.8 3-0.1 1-0.7 0.8-2.3 1.1-3.4 0.8-2.6 0-2.2-0.7-0.6-1.2 1.3-2.3 2.5-2.5 1.6-0.5z"/><path fill="#f5e227" d="M117 501.7l2.6-0.1 1 0.5 2 2.1 1.2 1.7 0 0.8-0.5 0.5-1.5 0.8-3.8 0.6-3.7-0.3-1.5-0.6-0.3-1.3 1.5-2.2 1.8-1.8 1-0.5zM136.8 520.2l1.8-0.1 1.7 0.8 2 2-0.7 1.4-1.6 0.8-3 0.8-2.4 0.1-1.8-0.5-0.7-1.1 0.4-1 2.5-2.5 1.6-0.5z"/><path fill="#f5ea24" d="M117 501.7l2.6-0.1 1 0.5 2.4 2.8-0.6 1-0.8 0.5-3.6 0.6-2.4-0.1-1.8-0.6-0.5-0.9 0.7-1.2 1.8-1.8 1-0.5zM136.8 520.2l1.8-0.1 1.7 0.8 0.9 1-0.9 1.2-1.8 0.8-1.7 0.3-2.8-0.3-0.8-0.7 0.1-0.5 1.7-1.8 1.6-0.5z"/><path fill="#f6f11e" d="M117 501.7l2.6-0.1 1 0.5 1.4 1.5-0.2 0.6-1.5 0.9-1.7 0.3-3.4-0.2-0.9-0.8 0-0.5 1.5-1.5 1-0.5zM136.8 520.2l2.5 0.2 0.4 0.3-0.1 0.5-2.3 1-2-0.2-0.5-0.3 0-0.5 1.8-0.8z"/><path fill="#f8f818" d="M117 501.7l2.6-0.1 1 0.5 0.2 0.6-0.5 0.7-1.7 0.4-2-0.1-1.2-0.8 1.4-1z"/></g>
<path class="a" d="M130.9 611.4L244.1 568.7"/><path class="a" d="M130.9 611.4L28.3 564.6"/><path class="a" d="M28.3 564.6L28.3 483.6"/><path class="a" d="M130.9 611.4L133.9 612.7"/><path class="a" d="M153.6 602.9L156.5 604.2"/><path class="a" d="M176.2 594.3L179.1 595.6"/><path class="a" d="M198.8 585.8L201.7 587.1"/><path class="a" d="M221.4 577.2L224.3 578.6"/><path class="a" d="M244.1 568.7L247 570"/><path class="a" d="M130.9 611.4L128 612.5"/><path class="a" d="M79.6 588L76.6 589.1"/><path class="a" d="M28.3 564.6L25.3 565.7"/><path class="a" d="M28.3 564.6L25.9 563.5"/><path class="a" d="M28.3 548.4L25.9 547.3"/><path class="a" d="M28.3 532.2L25.9 531.1"/><path class="a" d="M28.3 516L25.9 514.9"/><path class="a" d="M28.3 499.8L25.9 498.7"/><path class="a" d="M28.3 483.6L25.9 482.5"/><text x="135.9" y="621.7">0</text><text x="158.6" y="613.2">20</text><text x="181.2" y="604.7">40</text><text x="203.8" y="596.1">60</text><text x="226.4" y="587.6">80</text><text x="249.1" y="579">100</text><text x="125.1" y="620.1" text-anchor="end">0</text><text x="73.8" y="596.7" text-anchor="end">50</text><text x="22.5" y="573.3" text-anchor="end">100</text><text x="22.9" y="564.8" text-anchor="end">0</text><text x="22.9" y="548.6" text-anchor="end">20</text><text x="22.9" y="532.4" text-anchor="end">40</text><text x="22.9" y="516.2" text-anchor="end">60</text><text x="22.9" y="500" text-anchor="end">80</text><text x="22.9" y="483.8" text-anchor="end">100</text>
<path d="M141.6 437.4L142.4 439.6L144.8 439.7L143 441.2L143.6 443.6L141.6 442.2L139.6 443.6L140.2 441.2L138.4 439.7L140.8 439.6z" fill="#f5e020" stroke="#101010" stroke-width=".6"/>
<path class="m" d="M113 528a1.7 1.7 0 1 0 3.4 0a1.7 1.7 0 1 0-3.4 0M114 525.8a1.7 1.7 0 1 0 3.4 0a1.7 1.7 0 1 0-3.4 0M115 523.5a1.7 1.7 0 1 0 3.4 0a1.7 1.7 0 1 0-3.4 0M116.1 521.3a1.7 1.7 0 1 0 3.4 0a1.7 1.7 0 1 0-3.4 0M117.1 519a1.7 1.7 0 1 0 3.4 0a1.7 1.7 0 1 0-3.4 0M118.2 516.8a1.7 1.7 0 1 0 3.4 0a1.7 1.7 0 1 0-3.4 0M119.3 514.6a1.7 1.7 0 1 0 3.4 0a1.7 1.7 0 1 0-3.4 0M120.4 512.4a1.7 1.7 0 1 0 3.4 0a1.7 1.7 0 1 0-3.4 0M121.5 510.2a1.7 1.7 0 1 0 3.4 0a1.7 1.7 0 1 0-3.4 0M122.6 508a1.7 1.7 0 1 0 3.4 0a1.7 1.7 0 1 0-3.4 0M123.7 505.7a1.7 1.7 0 1 0 3.4 0a1.7 1.7 0 1 0-3.4 0M124.8 503.5a1.7 1.7 0 1 0 3.4 0a1.7 1.7 0 1 0-3.4 0M125.9 501.3a1.7 1.7 0 1 0 3.4 0a1.7 1.7 0 1 0-3.4 0M127 499.1a1.7 1.7 0 1 0 3.4 0a1.7 1.7 0 1 0-3.4 0M128.1 496.9a1.7 1.7 0 1 0 3.4 0a1.7 1.7 0 1 0-3.4 0M129.3 494.8a1.7 1.7 0 1 0 3.4 0a1.7 1.7 0 1 0-3.4 0M130.7 492.7a1.7 1.7 0 1 0 3.4 0a1.7 1.7 0 1 0-3.4 0M132.1 490.7a1.7 1.7 0 1 0 3.4 0a1.7 1.7 0 1 0-3.4 0"/><path class="bd" stroke-opacity=".5" stroke-width="4.5" d="M133.8 490.7L137.4 481.5L140.6 473.3L143.4 465L145.7 457.7L147.1 452.2L147.3 448.5L146.6 444.8L144.8 442.1L142.5 441.2L141.6 441"/><path class="bd" stroke-width="2.9" d="M133.8 490.7L137.4 481.5L140.6 473.3L143.4 465L145.7 457.7L147.1 452.2L147.3 448.5L146.6 444.8L144.8 442.1L142.5 441.2L141.6 441"/><path class="r" d="M112.7 533.8L114.5 528.6L114.7 528L119.3 517.9L124.8 506.9L130.3 495.9L133.8 490.7L137.4 481.5L140.6 473.3L143.4 465L145.7 457.7L147.1 452.2L147.3 448.5L146.6 444.8L144.8 442.1L142.5 441.2L141.6 441"/><path class="bd" stroke-width="4.4" d="M112.7 533.8L114.5 528.6"/><path class="bd" stroke-width="4.3" d="M146.9 446.3L146.2 444.2L144.8 442.1L142.5 441.3"/>
<circle cx="141.9" cy="441.2" r="2.3" fill="#0000ff"/><rect x="109.8" y="533.2" width="5.2" height="5.2" fill="#5a78e0" stroke="#3050e0" stroke-width=".5"/><path d="M109.8 533.2L112.4 534.4L115 533.2L113.8 535.8L115 538.4L112.4 537.2L109.8 538.4L111 535.8z" fill="#f6f010"/>
</g>
<text class="cap" x="64.6" y="197.3">（<tspan dx=".7" style="font-size:10.6px">a</tspan><tspan dx="1.2">）</tspan><tspan x="91.4" textLength="107.6" lengthAdjust="spacingAndGlyphs">Initial Path 1 Front View</tspan></text>
<text class="cap" x="349.2" y="197.3">（<tspan dx=".7" style="font-size:10.6px">b</tspan><tspan dx="1.2">）</tspan><tspan x="376.8" textLength="102.3" lengthAdjust="spacingAndGlyphs">Initial Path 1 Top View</tspan></text>
<text class="cap" x="62.4" y="420.3">（<tspan dx=".7" style="font-size:10.6px">c</tspan><tspan dx="1.2">）</tspan><tspan x="88.6" textLength="107.8" lengthAdjust="spacingAndGlyphs">Initial Path 2 Front View</tspan></text>
<text class="cap" x="358.4" y="420.3">（<tspan dx=".7" style="font-size:10.6px">d</tspan><tspan dx="1.2">）</tspan><tspan x="386.0" textLength="101.7" lengthAdjust="spacingAndGlyphs">Initial Path 2 Top View</tspan></text>
<text class="cap" x="62.4" y="648.6">（<tspan dx=".7" style="font-size:10.6px">e</tspan><tspan dx="1.2">）</tspan><tspan x="89.2" textLength="107.2" lengthAdjust="spacingAndGlyphs">Initial Path 3 Front View</tspan></text>
<text class="cap" x="360" y="648.6">（<tspan dx=".7" style="font-size:10.6px">f</tspan><tspan dx="1.2">）</tspan><tspan x="385.5" textLength="100.9" lengthAdjust="spacingAndGlyphs">Initial Path 3 Top View</tspan></text>
</svg></body></html>
